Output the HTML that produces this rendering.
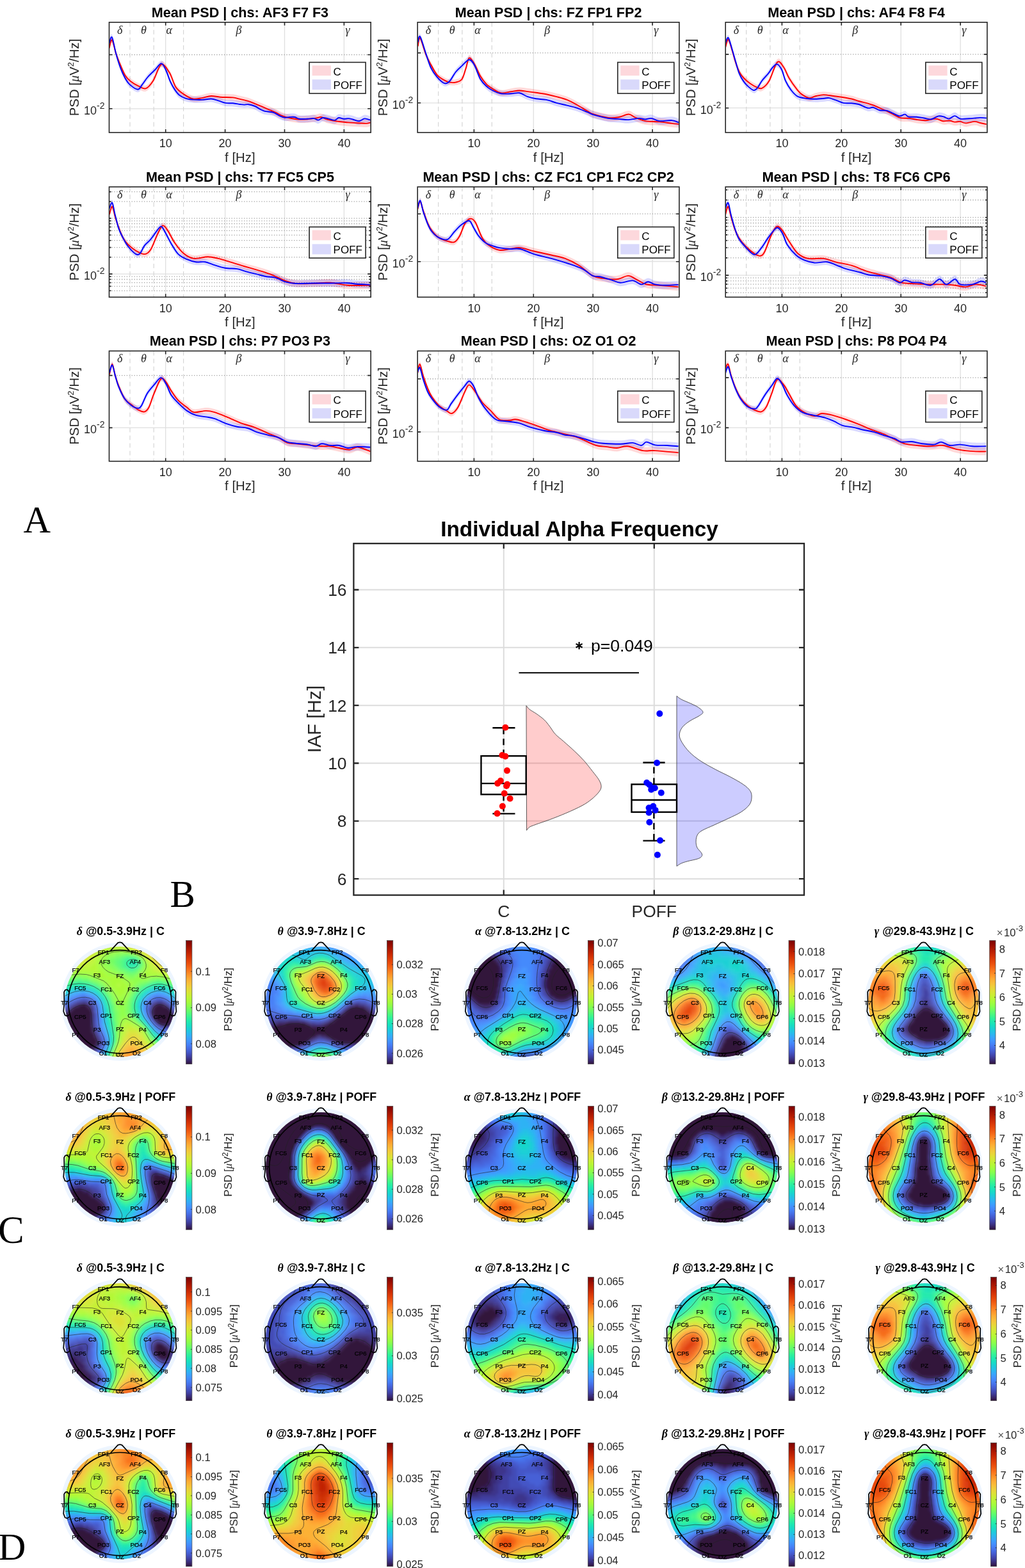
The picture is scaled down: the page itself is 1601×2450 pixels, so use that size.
<!DOCTYPE html>
<html><head><meta charset="utf-8"><title>EEG figure</title><style>
html,body{margin:0;padding:0;background:#fff;}
svg{display:block}
text{font-family:"Liberation Sans",Arial,sans-serif;}
.gr{stroke:#dfdfdf;stroke-width:1.3}
.grb{stroke:#dcdcdc;stroke-width:2}
.dt{stroke:#a2a2a2;stroke-width:1.3;stroke-dasharray:1.3 2.6}
.ds{stroke:#d6d6d6;stroke-width:1.2;stroke-dasharray:7 5}
.gk{font-family:"Liberation Serif",serif;font-style:italic;font-size:18px;fill:#262626;text-anchor:middle}
.bd{stroke:none}
.cv{stroke-width:1.9;stroke-linejoin:round}
.ax{fill:none;stroke:#262626;stroke-width:1.6}
.tk{stroke:#262626;stroke-width:1.6;fill:none}
.tl{font-size:18px;fill:#262626}
.sup{font-size:14px}
.sup2{font-size:13px}
.mu{font-family:"Liberation Serif",serif;font-style:italic}
.lb{font-size:20.4px;fill:#262626}
.tt{font-size:21.6px;font-weight:bold;fill:#000}
.lg{fill:#fff;stroke:#262626;stroke-width:1.6}
.lt{font-size:17px;fill:#000}
.fl path{fill:none;stroke-width:4.1}
.ct{fill:none;stroke:#222;stroke-width:0.75;stroke-opacity:0.8}
.hd{fill:none;stroke:#000;stroke-width:1.7;stroke-linejoin:round}
.el text{font-size:9.6px;fill:#000;stroke:#000;stroke-width:0.25px;text-anchor:middle}
.tp{font-size:17.9px;font-weight:bold;fill:#000}
.tg{font-family:"Liberation Serif",serif;font-style:italic;font-weight:bold}
.cbt{font-size:16.6px;fill:#262626}
.cbl{font-size:16.6px;fill:#262626}
.s2{font-size:12px}
.pl{font-family:"Liberation Serif",serif;font-size:59px;fill:#000}
</style></head><body><svg width="1601" height="2450" viewBox="0 0 1601 2450">
<clipPath id="pc00"><rect x="170.5" y="34.8" width="408.7" height="172.3"/></clipPath>
<line x1="258.7" y1="34.8" x2="258.7" y2="207.1" class="gr"/>
<line x1="351.6" y1="34.8" x2="351.6" y2="207.1" class="gr"/>
<line x1="444.5" y1="34.8" x2="444.5" y2="207.1" class="gr"/>
<line x1="537.4" y1="34.8" x2="537.4" y2="207.1" class="gr"/>
<line x1="170.5" y1="169.8" x2="579.2" y2="169.8" class="gr"/>
<line x1="170.5" y1="85.5" x2="579.2" y2="85.5" class="dt"/>
<line x1="203" y1="34.8" x2="203" y2="207.1" class="ds"/>
<line x1="240.2" y1="34.8" x2="240.2" y2="207.1" class="ds"/>
<line x1="286.6" y1="34.8" x2="286.6" y2="207.1" class="ds"/>
<text x="187.2" y="52.6" class="gk">δ</text>
<text x="224.4" y="52.6" class="gk">θ</text>
<text x="264.3" y="52.6" class="gk">α</text>
<text x="373" y="52.6" class="gk">β</text>
<text x="543" y="52.6" class="gk">γ</text>
<g clip-path="url(#pc00)">
<path d="M170.6 71C171.3 68.9 173.1 56.8 174.9 58.2C176.7 59.6 179 72.9 181.2 79.5C183.4 86.1 185.9 92.2 188.3 97.8C190.7 103.5 192.8 109.2 195.4 113.3C198 117.4 200.4 119.6 203.9 122.5C207.4 125.3 212.6 128.4 216.6 130.2C220.6 132.1 224.1 135.1 227.9 133.7C231.7 132.2 235.2 127.9 239.2 121.6C243.2 115.4 247.8 98.2 252 96.1C256.2 93.9 260.9 102.9 264.7 108.8C268.5 114.7 270.8 125.8 274.6 131.4C278.4 137 282.8 139.6 287.3 142.6C291.8 145.7 296.8 148.8 301.5 149.7C306.2 150.6 310.9 149 315.6 148.2C320.3 147.5 325.1 145.3 329.8 145.1C334.5 144.8 338.4 146.3 344 146.7C349.6 147.1 358.7 146.9 363.7 147.3C368.7 147.8 370 148.7 374.1 149.6C378.2 150.6 384.3 151.8 388.3 153C392.3 154.3 394.7 155.6 398.2 157C401.7 158.4 405.7 159.9 409.5 161.5C413.3 163 417.3 164.8 420.8 166.3C424.3 167.8 427.4 169.1 430.7 170.6C434 172.1 437.1 174 440.6 175.4C444.2 176.8 447.8 178.1 452 179C456.2 179.9 461.4 180.8 466.1 181C470.8 181.3 475.6 181.1 480.3 180.7C485 180.3 490.9 179.4 494.4 178.8C497.9 178.3 498.4 176.9 501.5 177.4C504.6 177.9 508.1 180.4 512.8 181.6C517.5 182.7 524.6 183.6 529.8 184.3C535 185 539.2 185.3 543.9 185.6C548.6 186 553.4 186.1 558.1 186.4C562.8 186.6 568.8 187.2 572.2 187C575.6 186.9 577.5 185.8 578.6 185.5L578.6 197.3C577.5 197.5 575.6 198.7 572.2 198.8C568.8 198.9 562.8 198.3 558.1 198C553.4 197.8 548.6 197.5 543.9 197.2C539.2 196.8 535 196.4 529.8 195.7C524.6 195 517.5 194 512.8 192.8C508.1 191.7 504.6 189.1 501.5 188.6C498.4 188.1 497.9 189.5 494.4 190C490.9 190.5 485 191.4 480.3 191.7C475.6 192 470.8 192.3 466.1 192C461.4 191.6 456.2 190.8 452 189.8C447.8 188.8 444.2 187.6 440.6 186.2C437.1 184.7 434 182.8 430.7 181.2C427.4 179.7 424.3 178.4 420.8 176.9C417.3 175.3 413.3 173.5 409.5 171.9C405.7 170.4 401.7 168.8 398.2 167.4C394.7 166 392.3 164.6 388.3 163.4C384.3 162.1 378.2 160.8 374.1 159.8C370 158.8 368.7 158 363.7 157.5C358.7 156.9 349.6 157.1 344 156.7C338.4 156.3 334.5 154.7 329.8 154.9C325.1 155.1 320.3 157.2 315.6 158C310.9 158.7 306.2 160.3 301.5 159.3C296.8 158.3 291.8 155.2 287.3 152.2C282.8 149.1 278.4 146.5 274.6 140.8C270.8 135.1 268.5 124.1 264.7 118.2C260.9 112.3 256.2 103.2 252 105.3C247.8 107.4 243.2 124.5 239.2 130.8C235.2 137 231.7 141.3 227.9 142.7C224.1 144.1 220.6 141.1 216.6 139.2C212.6 137.3 207.4 134.2 203.9 131.3C200.4 128.5 198 126.2 195.4 122.1C192.8 118 190.7 112.2 188.3 106.6C185.9 100.9 183.4 94.8 181.2 88.1C179 81.5 176.7 68.2 174.9 66.8C173.1 65.4 171.3 77.5 170.6 79.6Z" fill="rgba(255,0,0,0.15)"/>
<path d="M170.6 63.2C171.3 61.7 173.1 51.3 174.9 54C176.7 56.7 179 71.5 181.2 79.5C183.4 87.5 185.9 95.7 188.3 102C190.7 108.4 193.1 113.4 195.4 117.6C197.8 121.8 199.1 124.5 202.4 127.5C205.7 130.4 211.9 135.2 215.2 135.2C218.5 135.2 219.7 130.6 222.3 127.4C224.9 124.2 227.4 119.8 230.7 116C234 112.2 238.4 108.2 242 104.6C245.6 101.1 249.2 94.7 252 94.7C254.8 94.7 256.6 99.8 259 104.6C261.4 109.3 263.7 117.7 266.1 122.9C268.5 128.1 270.8 132.2 273.2 135.7C275.6 139.2 277.5 141.8 280.3 144.1C283.1 146.3 286.7 147.9 290.2 149C293.7 150.2 297.3 150.5 301.5 150.8C305.7 151.1 310.9 151.2 315.6 151C320.3 150.8 325.6 149.4 329.8 149.6C334.1 149.8 337.3 151.3 341.1 152.3C344.9 153.4 348.6 155.2 352.4 155.9C356.2 156.5 359.9 155.9 363.7 156.2C367.5 156.6 372.1 157.5 375 157.9C377.9 158.3 379 158.4 381.2 158.5C383.4 158.5 385.4 157.7 388.3 158C391.2 158.4 395.2 159.5 398.3 160.8C401.4 162.1 404.1 164.4 406.7 165.7C409.3 167 410.5 167.8 413.8 168.5C417.1 169.3 422.7 169 426.5 170.2C430.3 171.3 433.3 174.1 436.4 175.5C439.5 176.8 442.3 178 444.9 178.3C447.5 178.7 449.4 177.7 452 177.6C454.6 177.5 457.9 177.1 460.5 177.6C463.1 178 464.2 179.9 467.5 180.3C470.8 180.8 476.5 180.4 480.3 180.3C484.1 180.2 487.4 179.3 490.2 179.5C493 179.8 494.8 182.2 497.2 182C499.6 181.8 501.7 178.8 504.3 178.4C506.9 178 509.7 179.1 512.8 179.8C515.9 180.4 520 182.5 522.7 182.2C525.4 182 526.7 178.7 529.1 178.3C531.5 177.9 534.4 179.9 536.9 180.1C539.4 180.2 541.5 179.2 543.9 179.3C546.2 179.4 548.2 180 551 180.7C553.8 181.4 557.8 183.7 560.9 183.5C564 183.3 566.4 179.8 569.4 179.5C572.4 179.2 577.1 181.3 578.6 181.7L578.6 193.5C577.1 193.1 572.4 191 569.4 191.3C566.4 191.5 564 195 560.9 195.1C557.8 195.3 553.8 193 551 192.3C548.2 191.6 546.2 191 543.9 190.9C541.5 190.7 539.4 191.7 536.9 191.5C534.4 191.3 531.5 189.4 529.1 189.7C526.7 190 525.4 193.4 522.7 193.6C520 193.8 515.9 191.7 512.8 191C509.7 190.4 506.9 189.3 504.3 189.6C501.7 190 499.6 193 497.2 193.2C494.8 193.4 493 191 490.2 190.7C487.4 190.3 484.1 191.2 480.3 191.3C476.5 191.4 470.8 191.7 467.5 191.3C464.2 190.8 463.1 188.9 460.5 188.4C457.9 188 454.6 188.3 452 188.4C449.4 188.5 447.5 189.5 444.9 189.1C442.3 188.7 439.5 187.5 436.4 186.1C433.3 184.8 430.3 182 426.5 180.8C422.7 179.6 417.1 179.8 413.8 179.1C410.5 178.3 409.3 177.4 406.7 176.1C404.1 174.8 401.4 172.5 398.3 171.2C395.2 169.9 391.2 168.8 388.3 168.4C385.4 167.9 383.4 168.8 381.2 168.7C379 168.7 377.9 168.5 375 168.1C372.1 167.7 367.5 166.7 363.7 166.4C359.9 166 356.2 166.6 352.4 165.9C348.6 165.2 344.9 163.4 341.1 162.3C337.3 161.2 334.1 159.7 329.8 159.4C325.6 159.2 320.3 160.6 315.6 160.8C310.9 160.9 305.7 160.8 301.5 160.4C297.3 160 293.7 159.7 290.2 158.6C286.7 157.4 283.1 155.8 280.3 153.5C277.5 151.3 275.6 148.6 273.2 145.1C270.8 141.6 268.5 137.5 266.1 132.3C263.7 127.1 261.4 118.6 259 113.8C256.6 109.1 254.8 103.9 252 103.9C249.2 103.9 245.6 110.3 242 113.8C238.4 117.3 234 121.3 230.7 125C227.4 128.8 224.9 133.2 222.3 136.4C219.7 139.6 218.5 144.2 215.2 144.2C211.9 144.2 205.7 139.3 202.4 136.3C199.1 133.4 197.8 130.7 195.4 126.4C193.1 122.1 190.7 117.1 188.3 110.8C185.9 104.4 183.4 96.2 181.2 88.1C179 80.1 176.7 65.3 174.9 62.6C173.1 59.9 171.3 70.3 170.6 71.8Z" fill="rgba(0,0,255,0.15)"/>
<path d="M170.6 75.3C171.3 73.2 173.1 61.1 174.9 62.5C176.7 63.9 179 77.2 181.2 83.8C183.4 90.4 185.9 96.5 188.3 102.2C190.7 107.9 192.8 113.6 195.4 117.7C198 121.8 200.4 124.1 203.9 126.9C207.4 129.7 212.6 132.8 216.6 134.7C220.6 136.6 224.1 139.6 227.9 138.2C231.7 136.8 235.2 132.4 239.2 126.2C243.2 120 247.8 102.8 252 100.7C256.2 98.6 260.9 107.6 264.7 113.5C268.5 119.4 270.8 130.4 274.6 136.1C278.4 141.8 282.8 144.3 287.3 147.4C291.8 150.5 296.8 153.6 301.5 154.5C306.2 155.4 310.9 153.8 315.6 153.1C320.3 152.3 325.1 150.2 329.8 150C334.5 149.8 338.4 151.3 344 151.7C349.6 152.1 358.7 151.9 363.7 152.4C368.7 152.9 370 153.7 374.1 154.7C378.2 155.7 384.3 156.9 388.3 158.2C392.3 159.4 394.7 160.8 398.2 162.2C401.7 163.6 405.7 165.1 409.5 166.7C413.3 168.3 417.3 170.1 420.8 171.6C424.3 173.1 427.4 174.4 430.7 175.9C434 177.4 437.1 179.4 440.6 180.8C444.2 182.2 447.8 183.4 452 184.4C456.2 185.3 461.4 186.2 466.1 186.5C470.8 186.8 475.6 186.5 480.3 186.2C485 185.8 490.9 184.9 494.4 184.4C497.9 183.9 498.4 182.5 501.5 183C504.6 183.5 508.1 186 512.8 187.2C517.5 188.4 524.6 189.3 529.8 190C535 190.7 539.2 191 543.9 191.4C548.6 191.8 553.4 191.9 558.1 192.2C562.8 192.4 568.8 193 572.2 192.9C575.6 192.8 577.5 191.6 578.6 191.4" fill="none" stroke="#f00" class="cv"/>
<path d="M170.6 67.5C171.3 66 173.1 55.6 174.9 58.3C176.7 61 179 75.8 181.2 83.8C183.4 91.8 185.9 100 188.3 106.4C190.7 112.8 193.1 117.8 195.4 122C197.8 126.2 199.1 128.9 202.4 131.9C205.7 134.8 211.9 139.7 215.2 139.7C218.5 139.7 219.7 135.1 222.3 131.9C224.9 128.7 227.4 124.3 230.7 120.5C234 116.7 238.4 112.7 242 109.2C245.6 105.7 249.2 99.3 252 99.3C254.8 99.3 256.6 104.5 259 109.2C261.4 113.9 263.7 122.4 266.1 127.6C268.5 132.8 270.8 136.9 273.2 140.4C275.6 143.9 277.5 146.6 280.3 148.8C283.1 151 286.7 152.7 290.2 153.8C293.7 154.9 297.3 155.2 301.5 155.6C305.7 155.9 310.9 156.1 315.6 155.9C320.3 155.7 325.6 154.3 329.8 154.5C334.1 154.7 337.3 156.2 341.1 157.3C344.9 158.4 348.6 160.2 352.4 160.9C356.2 161.6 359.9 161 363.7 161.3C367.5 161.7 372.1 162.6 375 163C377.9 163.4 379 163.6 381.2 163.6C383.4 163.6 385.4 162.8 388.3 163.2C391.2 163.6 395.2 164.7 398.3 166C401.4 167.3 404.1 169.6 406.7 170.9C409.3 172.2 410.5 173 413.8 173.8C417.1 174.6 422.7 174.3 426.5 175.5C430.3 176.7 433.3 179.4 436.4 180.8C439.5 182.2 442.3 183.3 444.9 183.7C447.5 184.1 449.4 183.1 452 183C454.6 182.9 457.9 182.5 460.5 183C463.1 183.5 464.2 185.3 467.5 185.8C470.8 186.3 476.5 185.9 480.3 185.8C484.1 185.7 487.4 184.8 490.2 185.1C493 185.4 494.8 187.8 497.2 187.6C499.6 187.4 501.7 184.4 504.3 184C506.9 183.6 509.7 184.7 512.8 185.4C515.9 186 520 188.1 522.7 187.9C525.4 187.7 526.7 184.3 529.1 184C531.5 183.7 534.4 185.6 536.9 185.8C539.4 186 541.5 185 543.9 185.1C546.2 185.2 548.2 185.8 551 186.5C553.8 187.2 557.8 189.5 560.9 189.3C564 189.1 566.4 185.7 569.4 185.4C572.4 185.1 577.1 187.2 578.6 187.6" fill="none" stroke="#00f" class="cv"/>
</g>
<rect x="170.5" y="34.8" width="408.7" height="172.3" class="ax"/>
<path d="M258.7 207.1v-5M258.7 34.8v5M351.6 207.1v-5M351.6 34.8v5M444.5 207.1v-5M444.5 34.8v5M537.4 207.1v-5M537.4 34.8v5M170.5 169.8h5M579.2 169.8h-5M170.5 85.5h5M579.2 85.5h-5" class="tk"/>
<text x="258.7" y="230.4" class="tl" text-anchor="middle">10</text>
<text x="351.6" y="230.4" class="tl" text-anchor="middle">20</text>
<text x="444.5" y="230.4" class="tl" text-anchor="middle">30</text>
<text x="537.4" y="230.4" class="tl" text-anchor="middle">40</text>
<text x="163.5" y="178.6" class="tl" text-anchor="end">10<tspan class="sup" dy="-9">-2</tspan></text>
<text x="374.9" y="252.6" class="lb" text-anchor="middle">f [Hz]</text>
<text transform="translate(123.1 121) rotate(-90)" class="lb" text-anchor="middle">PSD [<tspan class="mu">μ</tspan>V<tspan class="sup2" dy="-8">2</tspan><tspan dy="8">/Hz]</tspan></text>
<text x="374.9" y="26.6" class="tt" text-anchor="middle">Mean PSD | chs: AF3 F7 F3</text>
<rect x="483.1" y="97.4" width="88" height="48.6" class="lg"/>
<rect x="487.6" y="102.4" width="29.3" height="15.8" fill="#fdd8dc"/>
<rect x="487.6" y="124.2" width="29.3" height="16" fill="#d9d9fb"/>
<text x="520.6" y="117.8" class="lt">C</text>
<text x="520.6" y="139" class="lt">POFF</text>
<clipPath id="pc10"><rect x="652.2" y="34.8" width="408.7" height="172.3"/></clipPath>
<line x1="740.4" y1="34.8" x2="740.4" y2="207.1" class="gr"/>
<line x1="833.3" y1="34.8" x2="833.3" y2="207.1" class="gr"/>
<line x1="926.2" y1="34.8" x2="926.2" y2="207.1" class="gr"/>
<line x1="1019.1" y1="34.8" x2="1019.1" y2="207.1" class="gr"/>
<line x1="652.2" y1="160.8" x2="1060.9" y2="160.8" class="gr"/>
<line x1="652.2" y1="82.6" x2="1060.9" y2="82.6" class="dt"/>
<line x1="684.7" y1="34.8" x2="684.7" y2="207.1" class="ds"/>
<line x1="721.9" y1="34.8" x2="721.9" y2="207.1" class="ds"/>
<line x1="768.3" y1="34.8" x2="768.3" y2="207.1" class="ds"/>
<text x="668.9" y="52.6" class="gk">δ</text>
<text x="706.1" y="52.6" class="gk">θ</text>
<text x="746" y="52.6" class="gk">α</text>
<text x="854.7" y="52.6" class="gk">β</text>
<text x="1024.7" y="52.6" class="gk">γ</text>
<g clip-path="url(#pc10)">
<path d="M652.7 68C653.3 65.9 654.1 53 656.2 55.2C658.3 57.3 662.4 73.9 665.2 80.8C668 87.8 670.2 91.6 673.2 96.9C676.2 102.3 679.4 109 682.9 113C686.4 117 690.9 119.1 694.1 120.9C697.3 122.8 699.2 123.6 702.2 124.1C705.2 124.6 708.6 124.9 711.8 124.1C715 123.3 718.8 123 721.5 119.2C724.2 115.5 726 107 727.9 101.5C729.8 96 730.6 87.2 732.7 86.1C734.9 85 737.9 90.3 740.8 95.1C743.8 99.8 747.2 109 750.4 114.3C753.6 119.7 756.9 123.8 760.1 127.1C763.3 130.4 766 131.9 769.7 134.1C773.5 136.4 777.8 139.8 782.6 140.5C787.4 141.2 793.8 138.9 798.6 138.2C803.4 137.6 807.2 136.6 811.5 136.6C815.8 136.6 820.1 137.6 824.4 138.1C828.7 138.6 832.4 139 837.2 139.7C842 140.4 847.9 141.2 853.3 142.2C858.7 143.3 864 144.5 869.4 145.9C874.8 147.4 880.1 148.6 885.5 150.7C890.9 152.8 896.1 155.8 901.5 158.7C906.9 161.7 913.3 165.9 917.6 168.3C921.9 170.7 921.9 171.4 927.3 173.1C932.7 174.8 943.4 177.7 949.8 178.4C956.2 179.2 960.5 178.7 965.8 177.8C971.2 176.8 977.6 172.9 981.9 172.9C986.2 172.9 987.3 175.9 991.6 177.7C995.9 179.4 1001.3 182.2 1007.7 183.4C1014.1 184.6 1023.1 184 1030.1 184.6C1037.1 185.2 1044.5 186.5 1049.5 187C1054.5 187.6 1058.3 187.8 1060.1 188L1060.1 199.8C1058.3 199.6 1054.5 199.4 1049.5 198.8C1044.5 198.2 1037.1 196.8 1030.1 196.2C1023.1 195.5 1014.1 196 1007.7 194.8C1001.3 193.6 995.9 190.7 991.6 188.9C987.3 187.1 986.2 184.1 981.9 184.1C977.6 184.1 971.2 188 965.8 188.8C960.5 189.7 956.2 190.2 949.8 189.4C943.4 188.5 932.7 185.6 927.3 183.9C921.9 182.1 921.9 181.4 917.6 178.9C913.3 176.5 906.9 172.2 901.5 169.3C896.1 166.3 890.9 163.3 885.5 161.1C880.1 158.9 874.8 157.7 869.4 156.3C864 154.8 858.7 153.5 853.3 152.4C847.9 151.3 842 150.4 837.2 149.7C832.4 149 828.7 148.6 824.4 148.1C820.1 147.5 815.8 146.4 811.5 146.4C807.2 146.4 803.4 147.4 798.6 148C793.8 148.6 787.4 150.8 782.6 150.1C777.8 149.4 773.5 145.9 769.7 143.7C766 141.4 763.3 139.9 760.1 136.5C756.9 133.2 753.6 129 750.4 123.7C747.2 118.3 743.8 109.1 740.8 104.3C737.9 99.6 734.9 94.3 732.7 95.3C730.6 96.4 729.8 105.2 727.9 110.7C726 116.2 724.2 124.6 721.5 128.4C718.8 132.1 715 132.3 711.8 133.1C708.6 133.9 705.2 133.6 702.2 133.1C699.2 132.6 697.3 131.7 694.1 129.9C690.9 128 686.4 125.9 682.9 121.8C679.4 117.8 676.2 111.1 673.2 105.7C670.2 100.3 668 96.5 665.2 89.6C662.4 82.6 658.3 66 656.2 63.8C654.1 61.7 653.3 74.5 652.7 76.6Z" fill="rgba(255,0,0,0.15)"/>
<path d="M652.7 61.6C653.3 60.1 654.1 49.9 656.2 52.9C658.3 55.8 662.4 71.1 665.2 79.2C668 87.4 670.2 95.6 673.2 101.7C676.2 107.9 679.4 112.2 682.9 116.2C686.4 120.2 690.9 124.7 694.1 125.7C697.3 126.8 699.2 125.5 702.2 122.5C705.2 119.5 708.6 112 711.8 108C715 103.9 718 101.6 721.5 98.3C725 95.1 729.5 88.9 732.7 88.6C735.9 88.3 737.9 91.6 740.8 96.7C743.8 101.7 747.2 113.5 750.4 119.1C753.6 124.7 756.9 127.3 760.1 130.3C763.3 133.2 766 134.9 769.7 136.7C773.5 138.6 777.8 140.7 782.6 141.5C787.4 142.3 793.8 141.6 798.6 141.4C803.4 141.2 807.2 139.6 811.5 140.4C815.8 141.2 820.1 144.6 824.4 146.1C828.7 147.6 832.4 148.5 837.2 149.3C842 150.1 847.9 149.7 853.3 150.8C858.7 151.9 864 154.2 869.4 155.6C874.8 157.1 880.1 158.1 885.5 159.4C890.9 160.7 896.1 161.8 901.5 163.5C906.9 165.3 913.3 168.1 917.6 169.9C921.9 171.6 921.9 172.4 927.3 174C932.7 175.6 943.4 178.4 949.8 179.4C956.2 180.5 960.5 180 965.8 180.4C971.2 180.7 976.5 181.7 981.9 181.5C987.3 181.3 993.7 179.4 998 179.2C1002.3 179.1 1004.5 180.8 1007.7 180.8C1010.9 180.8 1013.6 178.7 1017.3 179.2C1021 179.6 1024.7 182.8 1030.1 183.3C1035.5 183.8 1044.5 181.9 1049.5 182.2C1054.5 182.6 1058.3 184.9 1060.1 185.4L1060.1 197.2C1058.3 196.7 1054.5 194.3 1049.5 194C1044.5 193.6 1035.5 195.4 1030.1 194.9C1024.7 194.3 1021 191.1 1017.3 190.6C1013.6 190.2 1010.9 192.2 1007.7 192.2C1004.5 192.2 1002.3 190.5 998 190.6C993.7 190.6 987.3 192.5 981.9 192.7C976.5 192.8 971.2 191.8 965.8 191.4C960.5 191 956.2 191.5 949.8 190.4C943.4 189.3 932.7 186.4 927.3 184.8C921.9 183.1 921.9 182.3 917.6 180.5C913.3 178.8 906.9 175.9 901.5 174.1C896.1 172.3 890.9 171.2 885.5 169.8C880.1 168.5 874.8 167.4 869.4 166C864 164.5 858.7 162.1 853.3 161C847.9 159.9 842 160.1 837.2 159.3C832.4 158.5 828.7 157.6 824.4 156.1C820.1 154.6 815.8 151 811.5 150.2C807.2 149.4 803.4 151 798.6 151.2C793.8 151.3 787.4 151.9 782.6 151.1C777.8 150.3 773.5 148.2 769.7 146.3C766 144.4 763.3 142.7 760.1 139.7C756.9 136.8 753.6 134.1 750.4 128.5C747.2 122.9 743.8 111.1 740.8 105.9C737.9 100.8 735.9 97.6 732.7 97.8C729.5 98.1 725 104.3 721.5 107.5C718 110.7 715 113 711.8 117C708.6 121 705.2 128.6 702.2 131.5C699.2 134.4 697.3 135.7 694.1 134.7C690.9 133.6 686.4 129.1 682.9 125C679.4 121 676.2 116.7 673.2 110.5C670.2 104.3 668 96.1 665.2 88C662.4 79.8 658.3 64.5 656.2 61.5C654.1 58.6 653.3 68.8 652.7 70.2Z" fill="rgba(0,0,255,0.15)"/>
<path d="M652.7 72.3C653.3 70.2 654.1 57.4 656.2 59.5C658.3 61.6 662.4 78.2 665.2 85.2C668 92.2 670.2 95.9 673.2 101.3C676.2 106.7 679.4 113.4 682.9 117.4C686.4 121.4 690.9 123.5 694.1 125.4C697.3 127.3 699.2 128.1 702.2 128.6C705.2 129.1 708.6 129.4 711.8 128.6C715 127.8 718.8 127.5 721.5 123.8C724.2 120 726 111.6 727.9 106.1C729.8 100.6 730.6 91.8 732.7 90.7C734.9 89.6 737.9 95 740.8 99.7C743.8 104.4 747.2 113.7 750.4 119C753.6 124.3 756.9 128.5 760.1 131.8C763.3 135.1 766 136.6 769.7 138.9C773.5 141.1 777.8 144.6 782.6 145.3C787.4 146 793.8 143.7 798.6 143.1C803.4 142.5 807.2 141.5 811.5 141.5C815.8 141.5 820.1 142.6 824.4 143.1C828.7 143.6 832.4 144 837.2 144.7C842 145.4 847.9 146.2 853.3 147.3C858.7 148.4 864 149.7 869.4 151.1C874.8 152.5 880.1 153.7 885.5 155.9C890.9 158 896.1 161 901.5 164C906.9 167 913.3 171.2 917.6 173.6C921.9 176 921.9 176.8 927.3 178.5C932.7 180.2 943.4 183.1 949.8 183.9C956.2 184.7 960.5 184.2 965.8 183.3C971.2 182.4 977.6 178.5 981.9 178.5C986.2 178.5 987.3 181.5 991.6 183.3C995.9 185.1 1001.3 187.9 1007.7 189.1C1014.1 190.3 1023.1 189.8 1030.1 190.4C1037.1 191 1044.5 192.3 1049.5 192.9C1054.5 193.5 1058.3 193.7 1060.1 193.9" fill="none" stroke="#f00" class="cv"/>
<path d="M652.7 65.9C653.3 64.5 654.1 54.2 656.2 57.2C658.3 60.1 662.4 75.4 665.2 83.6C668 91.8 670.2 99.9 673.2 106.1C676.2 112.3 679.4 116.6 682.9 120.6C686.4 124.6 690.9 129.1 694.1 130.2C697.3 131.3 699.2 129.9 702.2 127C705.2 124 708.6 116.5 711.8 112.5C715 108.5 718 106.1 721.5 102.9C725 99.7 729.5 93.5 732.7 93.2C735.9 92.9 737.9 96.2 740.8 101.3C743.8 106.4 747.2 118.2 750.4 123.8C753.6 129.4 756.9 132.1 760.1 135C763.3 137.9 766 139.6 769.7 141.5C773.5 143.4 777.8 145.5 782.6 146.3C787.4 147.1 793.8 146.5 798.6 146.3C803.4 146.1 807.2 144.5 811.5 145.3C815.8 146.1 820.1 149.6 824.4 151.1C828.7 152.6 832.4 153.5 837.2 154.3C842 155.1 847.9 154.8 853.3 155.9C858.7 157 864 159.3 869.4 160.8C874.8 162.3 880.1 163.3 885.5 164.6C890.9 165.9 896.1 167 901.5 168.8C906.9 170.6 913.3 173.4 917.6 175.2C921.9 177 921.9 177.8 927.3 179.4C932.7 181 943.4 183.8 949.8 184.9C956.2 186 960.5 185.5 965.8 185.9C971.2 186.3 976.5 187.3 981.9 187.1C987.3 186.9 993.7 185 998 184.9C1002.3 184.8 1004.5 186.5 1007.7 186.5C1010.9 186.5 1013.6 184.5 1017.3 184.9C1021 185.3 1024.7 188.6 1030.1 189.1C1035.5 189.6 1044.5 187.7 1049.5 188.1C1054.5 188.5 1058.3 190.8 1060.1 191.3" fill="none" stroke="#00f" class="cv"/>
</g>
<rect x="652.2" y="34.8" width="408.7" height="172.3" class="ax"/>
<path d="M740.4 207.1v-5M740.4 34.8v5M833.3 207.1v-5M833.3 34.8v5M926.2 207.1v-5M926.2 34.8v5M1019.1 207.1v-5M1019.1 34.8v5M652.2 160.8h5M1060.9 160.8h-5M652.2 82.6h5M1060.9 82.6h-5" class="tk"/>
<text x="740.4" y="230.4" class="tl" text-anchor="middle">10</text>
<text x="833.3" y="230.4" class="tl" text-anchor="middle">20</text>
<text x="926.2" y="230.4" class="tl" text-anchor="middle">30</text>
<text x="1019.1" y="230.4" class="tl" text-anchor="middle">40</text>
<text x="645.2" y="169.6" class="tl" text-anchor="end">10<tspan class="sup" dy="-9">-2</tspan></text>
<text x="856.6" y="252.6" class="lb" text-anchor="middle">f [Hz]</text>
<text transform="translate(604.8 121) rotate(-90)" class="lb" text-anchor="middle">PSD [<tspan class="mu">μ</tspan>V<tspan class="sup2" dy="-8">2</tspan><tspan dy="8">/Hz]</tspan></text>
<text x="856.6" y="26.6" class="tt" text-anchor="middle">Mean PSD | chs: FZ FP1 FP2</text>
<rect x="964.8" y="97.4" width="88" height="48.6" class="lg"/>
<rect x="969.3" y="102.4" width="29.3" height="15.8" fill="#fdd8dc"/>
<rect x="969.3" y="124.2" width="29.3" height="16" fill="#d9d9fb"/>
<text x="1002.3" y="117.8" class="lt">C</text>
<text x="1002.3" y="139" class="lt">POFF</text>
<clipPath id="pc20"><rect x="1133.2" y="34.8" width="408.7" height="172.3"/></clipPath>
<line x1="1221.4" y1="34.8" x2="1221.4" y2="207.1" class="gr"/>
<line x1="1314.3" y1="34.8" x2="1314.3" y2="207.1" class="gr"/>
<line x1="1407.2" y1="34.8" x2="1407.2" y2="207.1" class="gr"/>
<line x1="1500.1" y1="34.8" x2="1500.1" y2="207.1" class="gr"/>
<line x1="1133.2" y1="168.7" x2="1541.9" y2="168.7" class="gr"/>
<line x1="1133.2" y1="84.9" x2="1541.9" y2="84.9" class="dt"/>
<line x1="1165.7" y1="34.8" x2="1165.7" y2="207.1" class="ds"/>
<line x1="1202.9" y1="34.8" x2="1202.9" y2="207.1" class="ds"/>
<line x1="1249.3" y1="34.8" x2="1249.3" y2="207.1" class="ds"/>
<text x="1149.9" y="52.6" class="gk">δ</text>
<text x="1187.1" y="52.6" class="gk">θ</text>
<text x="1227" y="52.6" class="gk">α</text>
<text x="1335.7" y="52.6" class="gk">β</text>
<text x="1505.7" y="52.6" class="gk">γ</text>
<g clip-path="url(#pc20)">
<path d="M1133.2 69.5C1133.9 67.5 1135.8 56.8 1137.5 57.5C1139.2 58.2 1141.5 67.8 1143.4 73.8C1145.3 79.8 1147.2 87.9 1149.1 93.5C1151 99.2 1152.6 103.7 1154.7 107.7C1156.8 111.7 1159 114.5 1161.8 117.6C1164.6 120.6 1168.4 123.7 1171.7 126C1175 128.4 1178.5 130.4 1181.6 131.6C1184.7 132.8 1186.8 134.9 1190.1 133.3C1193.4 131.6 1197.4 128.4 1201.4 121.6C1205.4 114.9 1210.3 96.1 1214.1 92.6C1217.9 89 1220.9 96.2 1224 100.3C1227.1 104.5 1229 111.4 1232.5 117.3C1236 123.2 1242 131.4 1245.3 135.7C1248.6 139.9 1249.2 140.5 1252.3 142.6C1255.4 144.7 1260.2 147.8 1263.7 148.3C1267.2 148.8 1269.8 146.3 1273.6 145.4C1277.4 144.6 1281.6 143.3 1286.3 143.2C1291 143.1 1297.2 144.5 1301.9 145C1306.6 145.6 1309.9 146 1314.6 146.7C1319.3 147.4 1325.5 148.4 1330 149.4C1334.5 150.5 1337 151.7 1341.3 152.9C1345.5 154.1 1351.7 155.4 1355.5 156.4C1359.3 157.5 1360.9 158 1364 159.2C1367.1 160.4 1370.4 161.9 1373.9 163.5C1377.4 165 1381.7 166.7 1385.2 168.3C1388.7 169.9 1391.6 171.5 1395.1 173.3C1398.6 175 1402.2 177.8 1406.4 178.8C1410.7 179.9 1416.3 179 1420.6 179.5C1424.8 179.9 1427.7 181 1431.9 181.5C1436.1 182.1 1441 182.9 1446 182.7C1451 182.4 1457.1 179.9 1461.6 180C1466.1 180.2 1469.4 183.1 1472.9 183.6C1476.4 184 1479.7 182.6 1482.8 182.8C1485.9 183.1 1488.5 184.7 1491.3 184.9C1494.1 185.1 1497 183.9 1499.8 184.2C1502.6 184.5 1504.5 186.6 1508.3 186.6C1512.1 186.6 1518.6 184.2 1522.4 184.1C1526.2 184 1527.8 185.5 1530.9 186.1C1534 186.8 1539.2 187.9 1540.8 188.2L1540.8 200C1539.2 199.6 1534 198.6 1530.9 197.9C1527.8 197.1 1526.2 195.7 1522.4 195.7C1518.6 195.8 1512.1 198.2 1508.3 198.2C1504.5 198.2 1502.6 195.9 1499.8 195.6C1497 195.3 1494.1 196.5 1491.3 196.3C1488.5 196.1 1485.9 194.4 1482.8 194.2C1479.7 193.9 1476.4 195.3 1472.9 194.8C1469.4 194.3 1466.1 191.4 1461.6 191.2C1457.1 191 1451 193.5 1446 193.7C1441 193.9 1436.1 193 1431.9 192.5C1427.7 191.9 1424.8 190.8 1420.6 190.3C1416.3 189.8 1410.7 190.6 1406.4 189.6C1402.2 188.5 1398.6 185.7 1395.1 183.9C1391.6 182.1 1388.7 180.6 1385.2 178.9C1381.7 177.2 1377.4 175.5 1373.9 173.9C1370.4 172.4 1367.1 170.8 1364 169.6C1360.9 168.4 1359.3 167.9 1355.5 166.8C1351.7 165.7 1345.5 164.3 1341.3 163.1C1337 161.9 1334.5 160.6 1330 159.6C1325.5 158.5 1319.3 157.5 1314.6 156.7C1309.9 155.9 1306.6 155.6 1301.9 155C1297.2 154.3 1291 153 1286.3 153C1281.6 153 1277.4 154.3 1273.6 155.2C1269.8 156 1267.2 158.4 1263.7 157.9C1260.2 157.4 1255.4 154.3 1252.3 152.2C1249.2 150 1248.6 149.4 1245.3 145.1C1242 140.9 1236 132.6 1232.5 126.7C1229 120.8 1227.1 113.8 1224 109.7C1220.9 105.5 1217.9 98.3 1214.1 101.8C1210.3 105.3 1205.4 124 1201.4 130.8C1197.4 137.5 1193.4 140.7 1190.1 142.3C1186.8 144 1184.7 141.8 1181.6 140.6C1178.5 139.4 1175 137.3 1171.7 135C1168.4 132.6 1164.6 129.5 1161.8 126.4C1159 123.3 1156.8 120.5 1154.7 116.5C1152.6 112.5 1151 107.9 1149.1 102.3C1147.2 96.6 1145.3 88.5 1143.4 82.4C1141.5 76.4 1139.2 66.8 1137.5 66.1C1135.8 65.4 1133.9 76.1 1133.2 78.1Z" fill="rgba(255,0,0,0.15)"/>
<path d="M1133.2 63.2C1133.9 61.8 1135.8 53.2 1137.5 54.7C1139.2 56.2 1141.5 66.1 1143.4 72.4C1145.3 78.6 1147.2 85.8 1149.1 92.1C1151 98.5 1152.6 105.3 1154.7 110.5C1156.8 115.7 1159.4 119.8 1161.8 123.2C1164.2 126.6 1166.3 128.7 1168.9 131C1171.5 133.2 1175 136.3 1177.3 136.6C1179.6 137 1180.9 135.5 1183 133C1185.1 130.5 1187.3 125.5 1190.1 121.7C1192.9 117.9 1197.2 113.9 1200 110.3C1202.8 106.8 1204.8 102.9 1207.1 100.4C1209.4 98 1211.6 95 1213.9 95.7C1216.2 96.4 1219 100.2 1221.2 104.6C1223.4 108.9 1224.5 116.3 1226.9 121.5C1229.3 126.7 1232.3 131.7 1235.4 135.7C1238.5 139.7 1241.3 143.3 1245.3 145.6C1249.3 147.8 1254.7 148.3 1259.4 149C1264.1 149.7 1268.9 150 1273.6 149.9C1278.3 149.9 1284.2 149.2 1287.7 148.9C1291.2 148.6 1291.7 147.7 1294.8 148.2C1297.9 148.6 1302.3 150.3 1306.1 151.6C1309.9 152.9 1313.4 155.1 1317.4 155.9C1321.4 156.6 1326 155.9 1330 156.2C1334 156.6 1337 156.7 1341.3 157.9C1345.5 159.1 1351.7 162.7 1355.5 163.5C1359.3 164.3 1360.9 162.1 1364 162.7C1367.1 163.3 1370.4 166.1 1373.9 167C1377.4 167.8 1381.7 166.8 1385.2 167.6C1388.7 168.4 1391.8 170.4 1395.1 171.8C1398.4 173.2 1401.9 175.8 1405 176C1408.1 176.3 1411.2 173 1413.5 173.2C1415.8 173.4 1416 176.4 1419.1 177.1C1422.2 177.8 1427.9 177 1431.9 177.3C1435.9 177.6 1439.4 178.4 1443.2 179C1447 179.6 1450.7 181.3 1454.5 180.7C1458.3 180.2 1462.5 176.4 1465.8 175.8C1469.1 175.1 1471.6 176.2 1474.3 176.9C1477 177.6 1479.3 180.2 1482.1 179.9C1484.9 179.7 1488.4 175.4 1491.3 175.4C1494.3 175.4 1496 179.2 1499.8 179.9C1503.6 180.5 1508.7 179.8 1513.9 179.5C1519.1 179.2 1526.4 178.2 1530.9 178C1535.4 177.9 1539.2 178.5 1540.8 178.6L1540.8 190.4C1539.2 190.3 1535.4 189.6 1530.9 189.8C1526.4 189.9 1519.1 190.8 1513.9 191.1C1508.7 191.4 1503.6 192.1 1499.8 191.3C1496 190.6 1494.3 186.8 1491.3 186.8C1488.4 186.8 1484.9 191 1482.1 191.3C1479.3 191.5 1477 188.8 1474.3 188.1C1471.6 187.4 1469.1 186.4 1465.8 187C1462.5 187.6 1458.3 191.4 1454.5 191.9C1450.7 192.4 1447 190.6 1443.2 190C1439.4 189.4 1435.9 188.6 1431.9 188.3C1427.9 187.9 1422.2 188.6 1419.1 187.9C1416 187.2 1415.8 184.2 1413.5 184C1411.2 183.8 1408.1 187 1405 186.8C1401.9 186.5 1398.4 183.9 1395.1 182.4C1391.8 181 1388.7 179 1385.2 178.2C1381.7 177.4 1377.4 178.3 1373.9 177.4C1370.4 176.6 1367.1 173.7 1364 173.1C1360.9 172.5 1359.3 174.7 1355.5 173.9C1351.7 173 1345.5 169.4 1341.3 168.1C1337 166.9 1334 166.7 1330 166.4C1326 166 1321.4 166.7 1317.4 165.9C1313.4 165.1 1309.9 162.9 1306.1 161.6C1302.3 160.3 1297.9 158.5 1294.8 158C1291.7 157.6 1291.2 158.4 1287.7 158.7C1284.2 159 1278.3 159.7 1273.6 159.7C1268.9 159.6 1264.1 159.4 1259.4 158.6C1254.7 157.8 1249.3 157.3 1245.3 155C1241.3 152.8 1238.5 149.1 1235.4 145.1C1232.3 141.1 1229.3 136.1 1226.9 130.9C1224.5 125.7 1223.4 118.2 1221.2 113.8C1219 109.5 1216.2 105.6 1213.9 104.9C1211.6 104.2 1209.4 107.2 1207.1 109.6C1204.8 112 1202.8 115.9 1200 119.5C1197.2 123 1192.9 127 1190.1 130.7C1187.3 134.5 1185.1 139.5 1183 142C1180.9 144.5 1179.6 145.9 1177.3 145.6C1175 145.2 1171.5 142.1 1168.9 139.8C1166.3 137.6 1164.2 135.4 1161.8 132C1159.4 128.6 1156.8 124.5 1154.7 119.3C1152.6 114.1 1151 107.2 1149.1 100.9C1147.2 94.5 1145.3 87.3 1143.4 81C1141.5 74.8 1139.2 64.9 1137.5 63.3C1135.8 61.8 1133.9 70.4 1133.2 71.8Z" fill="rgba(0,0,255,0.15)"/>
<path d="M1133.2 73.8C1133.9 71.8 1135.8 61.1 1137.5 61.8C1139.2 62.5 1141.5 72.1 1143.4 78.1C1145.3 84.1 1147.2 92.2 1149.1 97.9C1151 103.6 1152.6 108.1 1154.7 112.1C1156.8 116.1 1159 118.9 1161.8 122C1164.6 125.1 1168.4 128.2 1171.7 130.5C1175 132.8 1178.5 134.9 1181.6 136.1C1184.7 137.3 1186.8 139.5 1190.1 137.8C1193.4 136.2 1197.4 133 1201.4 126.2C1205.4 119.4 1210.3 100.7 1214.1 97.2C1217.9 93.7 1220.9 100.9 1224 105C1227.1 109.1 1229 116.1 1232.5 122C1236 127.9 1242 136.2 1245.3 140.4C1248.6 144.6 1249.2 145.3 1252.3 147.4C1255.4 149.5 1260.2 152.6 1263.7 153.1C1267.2 153.6 1269.8 151.1 1273.6 150.3C1277.4 149.5 1281.6 148.2 1286.3 148.1C1291 148 1297.2 149.4 1301.9 150C1306.6 150.6 1309.9 150.9 1314.6 151.7C1319.3 152.4 1325.5 153.4 1330 154.5C1334.5 155.6 1337 156.8 1341.3 158C1345.5 159.2 1351.7 160.5 1355.5 161.6C1359.3 162.7 1360.9 163.2 1364 164.4C1367.1 165.6 1370.4 167.2 1373.9 168.7C1377.4 170.2 1381.7 172 1385.2 173.6C1388.7 175.3 1391.6 176.8 1395.1 178.6C1398.6 180.4 1402.2 183.2 1406.4 184.2C1410.7 185.2 1416.3 184.4 1420.6 184.9C1424.8 185.4 1427.7 186.4 1431.9 187C1436.1 187.6 1441 188.4 1446 188.2C1451 188 1457.1 185.4 1461.6 185.6C1466.1 185.8 1469.4 188.7 1472.9 189.2C1476.4 189.7 1479.7 188.3 1482.8 188.5C1485.9 188.7 1488.5 190.4 1491.3 190.6C1494.1 190.8 1497 189.6 1499.8 189.9C1502.6 190.2 1504.5 192.4 1508.3 192.4C1512.1 192.4 1518.6 190 1522.4 189.9C1526.2 189.8 1527.8 191.3 1530.9 192C1534 192.7 1539.2 193.8 1540.8 194.1" fill="none" stroke="#f00" class="cv"/>
<path d="M1133.2 67.5C1133.9 66.1 1135.8 57.5 1137.5 59C1139.2 60.5 1141.5 70.4 1143.4 76.7C1145.3 82.9 1147.2 90.1 1149.1 96.5C1151 102.9 1152.6 109.7 1154.7 114.9C1156.8 120.1 1159.4 124.2 1161.8 127.6C1164.2 131 1166.3 133.1 1168.9 135.4C1171.5 137.6 1175 140.8 1177.3 141.1C1179.6 141.4 1180.9 140 1183 137.5C1185.1 135 1187.3 130 1190.1 126.2C1192.9 122.4 1197.2 118.4 1200 114.9C1202.8 111.4 1204.8 107.4 1207.1 105C1209.4 102.6 1211.6 99.6 1213.9 100.3C1216.2 101 1219 104.9 1221.2 109.2C1223.4 113.5 1224.5 121 1226.9 126.2C1229.3 131.4 1232.3 136.4 1235.4 140.4C1238.5 144.4 1241.3 148.1 1245.3 150.3C1249.3 152.5 1254.7 153.1 1259.4 153.8C1264.1 154.6 1268.9 154.8 1273.6 154.8C1278.3 154.8 1284.2 154.1 1287.7 153.8C1291.2 153.5 1291.7 152.6 1294.8 153.1C1297.9 153.6 1302.3 155.3 1306.1 156.6C1309.9 157.9 1313.4 160.1 1317.4 160.9C1321.4 161.7 1326 161 1330 161.3C1334 161.7 1337 161.8 1341.3 163C1345.5 164.2 1351.7 167.9 1355.5 168.7C1359.3 169.5 1360.9 167.3 1364 167.9C1367.1 168.5 1370.4 171.4 1373.9 172.2C1377.4 173 1381.7 172.1 1385.2 172.9C1388.7 173.7 1391.8 175.7 1395.1 177.1C1398.4 178.5 1401.9 181.1 1405 181.4C1408.1 181.6 1411.2 178.4 1413.5 178.6C1415.8 178.8 1416 181.8 1419.1 182.5C1422.2 183.2 1427.9 182.5 1431.9 182.8C1435.9 183.1 1439.4 183.9 1443.2 184.5C1447 185.1 1450.7 186.8 1454.5 186.3C1458.3 185.8 1462.5 182 1465.8 181.4C1469.1 180.8 1471.6 181.8 1474.3 182.5C1477 183.2 1479.3 185.8 1482.1 185.6C1484.9 185.4 1488.4 181.1 1491.3 181.1C1494.3 181.1 1496 184.9 1499.8 185.6C1503.6 186.3 1508.7 185.6 1513.9 185.3C1519.1 185 1526.4 184 1530.9 183.9C1535.4 183.8 1539.2 184.4 1540.8 184.5" fill="none" stroke="#00f" class="cv"/>
</g>
<rect x="1133.2" y="34.8" width="408.7" height="172.3" class="ax"/>
<path d="M1221.4 207.1v-5M1221.4 34.8v5M1314.3 207.1v-5M1314.3 34.8v5M1407.2 207.1v-5M1407.2 34.8v5M1500.1 207.1v-5M1500.1 34.8v5M1133.2 168.7h5M1541.9 168.7h-5M1133.2 84.9h5M1541.9 84.9h-5" class="tk"/>
<text x="1221.4" y="230.4" class="tl" text-anchor="middle">10</text>
<text x="1314.3" y="230.4" class="tl" text-anchor="middle">20</text>
<text x="1407.2" y="230.4" class="tl" text-anchor="middle">30</text>
<text x="1500.1" y="230.4" class="tl" text-anchor="middle">40</text>
<text x="1126.2" y="177.5" class="tl" text-anchor="end">10<tspan class="sup" dy="-9">-2</tspan></text>
<text x="1337.5" y="252.6" class="lb" text-anchor="middle">f [Hz]</text>
<text transform="translate(1085.8 121) rotate(-90)" class="lb" text-anchor="middle">PSD [<tspan class="mu">μ</tspan>V<tspan class="sup2" dy="-8">2</tspan><tspan dy="8">/Hz]</tspan></text>
<text x="1337.5" y="26.6" class="tt" text-anchor="middle">Mean PSD | chs: AF4 F8 F4</text>
<rect x="1445.8" y="97.4" width="88" height="48.6" class="lg"/>
<rect x="1450.3" y="102.4" width="29.3" height="15.8" fill="#fdd8dc"/>
<rect x="1450.3" y="124.2" width="29.3" height="16" fill="#d9d9fb"/>
<text x="1483.3" y="117.8" class="lt">C</text>
<text x="1483.3" y="139" class="lt">POFF</text>
<clipPath id="pc01"><rect x="170.5" y="292" width="408.7" height="172.3"/></clipPath>
<line x1="258.7" y1="292" x2="258.7" y2="464.3" class="gr"/>
<line x1="351.6" y1="292" x2="351.6" y2="464.3" class="gr"/>
<line x1="444.5" y1="292" x2="444.5" y2="464.3" class="gr"/>
<line x1="537.4" y1="292" x2="537.4" y2="464.3" class="gr"/>
<line x1="170.5" y1="428.1" x2="579.2" y2="428.1" class="gr"/>
<line x1="170.5" y1="299.6" x2="579.2" y2="299.6" class="dt"/>
<line x1="170.5" y1="314.9" x2="579.2" y2="314.9" class="dt"/>
<line x1="170.5" y1="341.1" x2="579.2" y2="341.1" class="dt"/>
<line x1="170.5" y1="345.1" x2="579.2" y2="345.1" class="dt"/>
<line x1="170.5" y1="349.5" x2="579.2" y2="349.5" class="dt"/>
<line x1="170.5" y1="354.6" x2="579.2" y2="354.6" class="dt"/>
<line x1="170.5" y1="360.4" x2="579.2" y2="360.4" class="dt"/>
<line x1="170.5" y1="367.3" x2="579.2" y2="367.3" class="dt"/>
<line x1="170.5" y1="375.7" x2="579.2" y2="375.7" class="dt"/>
<line x1="170.5" y1="386.6" x2="579.2" y2="386.6" class="dt"/>
<line x1="170.5" y1="401.9" x2="579.2" y2="401.9" class="dt"/>
<line x1="170.5" y1="432.1" x2="579.2" y2="432.1" class="dt"/>
<line x1="170.5" y1="436.5" x2="579.2" y2="436.5" class="dt"/>
<line x1="170.5" y1="441.6" x2="579.2" y2="441.6" class="dt"/>
<line x1="170.5" y1="447.4" x2="579.2" y2="447.4" class="dt"/>
<line x1="170.5" y1="454.3" x2="579.2" y2="454.3" class="dt"/>
<line x1="203" y1="292" x2="203" y2="464.3" class="ds"/>
<line x1="240.2" y1="292" x2="240.2" y2="464.3" class="ds"/>
<line x1="286.6" y1="292" x2="286.6" y2="464.3" class="ds"/>
<text x="187.2" y="309.8" class="gk">δ</text>
<text x="224.4" y="309.8" class="gk">θ</text>
<text x="264.3" y="309.8" class="gk">α</text>
<text x="373" y="309.8" class="gk">β</text>
<text x="543" y="309.8" class="gk">γ</text>
<g clip-path="url(#pc01)">
<path d="M170.9 330.7C171.6 328.7 173.8 317.8 175.3 318.5C176.8 319.1 178.2 329.3 179.9 334.7C181.6 340.1 183.3 345.4 185.3 350.8C187.3 356.2 189.5 362.5 192 367C194.5 371.5 196.7 374.4 200.1 377.8C203.5 381.2 208 384.8 212.3 387.2C216.6 389.7 222 392.8 225.8 392.6C229.6 392.3 231.8 390.9 235.2 385.7C238.6 380.5 242.8 367.7 246 361.4C249.2 355.1 251.4 348.8 254.1 347.9C256.8 347 259.1 351.5 262.2 355.9C265.3 360.4 268.9 369 273 374.8C277.1 380.6 281.5 386.9 286.5 390.9C291.5 395 296.5 398.2 302.8 399.1C309.1 400 318.1 396.3 324.4 396.3C330.7 396.3 334.8 397.6 340.6 398.9C346.5 400.3 352.8 402.3 359.5 404.3C366.2 406.2 374.4 408.9 381.1 410.9C387.9 412.9 393.2 414.2 400 416.2C406.8 418.2 414 420 421.6 422.9C429.2 425.8 439.1 431.2 445.9 433.6C452.6 436.1 454.9 436.9 462.1 437.6C469.3 438.2 480.1 437.7 489.1 437.5C498.1 437.2 507.2 435.6 516.2 436C525.2 436.5 532.9 439.3 543.2 439.9C553.6 440.6 572.4 439.8 578.3 439.8L578.3 451.6C572.4 451.6 553.6 452.2 543.2 451.5C532.9 450.8 525.2 447.8 516.2 447.4C507.2 446.9 498.1 448.4 489.1 448.5C480.1 448.7 469.3 449.1 462.1 448.4C454.9 447.7 452.6 446.9 445.9 444.4C439.1 441.9 429.2 436.4 421.6 433.5C414 430.5 406.8 428.7 400 426.6C393.2 424.5 387.9 423.2 381.1 421.1C374.4 419.1 366.2 416.4 359.5 414.3C352.8 412.3 346.5 410.2 340.6 408.9C334.8 407.5 330.7 406.1 324.4 406.1C318.1 406.1 309.1 409.7 302.8 408.7C296.5 407.8 291.5 404.5 286.5 400.5C281.5 396.4 277.1 390.1 273 384.2C268.9 378.3 265.3 369.8 262.2 365.3C259.1 360.7 256.8 356.2 254.1 357.1C251.4 358 249.2 364.3 246 370.6C242.8 376.9 238.6 389.7 235.2 394.9C231.8 400 229.6 401.4 225.8 401.6C222 401.8 216.6 398.7 212.3 396.2C208 393.7 203.5 390 200.1 386.6C196.7 383.2 194.5 380.3 192 375.8C189.5 371.3 187.3 365 185.3 359.6C183.3 354.2 181.6 348.7 179.9 343.3C178.2 337.9 176.8 327.8 175.3 327.1C173.8 326.4 171.6 337.3 170.9 339.3Z" fill="rgba(255,0,0,0.15)"/>
<path d="M170.9 321.2C171.6 319.8 173.8 310.8 175.3 312.6C176.8 314.4 178.2 325.4 179.9 332C181.6 338.6 183.3 346.4 185.3 352.2C187.3 358.1 189.5 362.3 192 367C194.5 371.7 196.7 376.3 200.1 380.6C203.5 384.9 209.2 390.9 212.3 392.6C215.5 394.4 216.8 393.5 219 391.2C221.2 389 223.1 382.7 225.8 379.1C228.5 375.5 231.8 373.6 235.2 369.5C238.6 365.5 243.2 358.1 246 354.7C248.8 351.3 250 348.6 252 349.3C254 349.9 255.6 354.2 258.2 358.7C260.8 363.1 264.2 370.6 267.6 376.2C271 381.8 274.4 388.3 278.5 392.4C282.6 396.4 287.5 398.4 292 400.4C296.5 402.4 300.8 403.8 305.5 404.5C310.2 405.1 315.8 403.8 320.3 404.4C324.8 405.1 327.3 406.8 332.5 408.4C337.7 409.9 345.1 412.6 351.4 413.7C357.7 414.8 364.9 414.1 370.3 415C375.7 415.9 378.9 417.6 383.8 419C388.8 420.3 394.6 421.7 400 423C405.4 424.3 411.2 426.1 416.2 426.9C421.1 427.8 424.8 427 429.7 428.3C434.6 429.6 440.5 433.4 445.9 434.9C451.3 436.5 454.9 437.2 462.1 437.6C469.3 437.9 480.1 437.1 489.1 437C498.1 436.8 507.2 436.9 516.2 436.8C525.2 436.8 536.5 436.2 543.2 436.4C550 436.6 550.9 437.6 556.7 438C562.6 438.4 574.7 438.8 578.3 439L578.3 450.8C574.7 450.6 562.6 450.1 556.7 449.6C550.9 449.1 550 448.2 543.2 448C536.5 447.7 525.2 448.1 516.2 448.2C507.2 448.2 498.1 448 489.1 448C480.1 448.1 469.3 448.8 462.1 448.4C454.9 448 451.3 447.3 445.9 445.7C440.5 444.1 434.6 440.3 429.7 438.9C424.8 437.5 421.1 438.4 416.2 437.5C411.2 436.5 405.4 434.8 400 433.4C394.6 432 388.8 430.6 383.8 429.2C378.9 427.9 375.7 426.1 370.3 425.2C364.9 424.3 357.7 424.9 351.4 423.7C345.1 422.6 337.7 419.8 332.5 418.2C327.3 416.6 324.8 414.9 320.3 414.2C315.8 413.5 310.2 414.8 305.5 414.1C300.8 413.4 296.5 412 292 410C287.5 407.9 282.6 405.9 278.5 401.8C274.4 397.8 271 391.2 267.6 385.6C264.2 379.9 260.8 372.5 258.2 367.9C255.6 363.4 254 359.2 252 358.5C250 357.8 248.8 360.5 246 363.9C243.2 367.3 238.6 374.6 235.2 378.7C231.8 382.7 228.5 384.5 225.8 388.1C223.1 391.7 221.2 397.9 219 400.2C216.8 402.4 215.5 403.4 212.3 401.6C209.2 399.8 203.5 393.7 200.1 389.4C196.7 385.1 194.5 380.5 192 375.8C189.5 371 187.3 366.8 185.3 361C183.3 355.1 181.6 347.3 179.9 340.6C178.2 334 176.8 323 175.3 321.2C173.8 319.4 171.6 328.4 170.9 329.8Z" fill="rgba(0,0,255,0.15)"/>
<path d="M170.9 335C171.6 333 173.8 322.1 175.3 322.8C176.8 323.5 178.2 333.6 179.9 339C181.6 344.4 183.3 349.8 185.3 355.2C187.3 360.6 189.5 366.9 192 371.4C194.5 375.9 196.7 378.8 200.1 382.2C203.5 385.6 208 389.2 212.3 391.7C216.6 394.2 222 397.3 225.8 397.1C229.6 396.9 231.8 395.5 235.2 390.3C238.6 385.1 242.8 372.3 246 366C249.2 359.7 251.4 353.4 254.1 352.5C256.8 351.6 259.1 356.1 262.2 360.6C265.3 365.1 268.9 373.6 273 379.5C277.1 385.4 281.5 391.6 286.5 395.7C291.5 399.8 296.5 403 302.8 403.9C309.1 404.8 318.1 401.2 324.4 401.2C330.7 401.2 334.8 402.5 340.6 403.9C346.5 405.2 352.8 407.3 359.5 409.3C366.2 411.3 374.4 414 381.1 416C387.9 418 393.2 419.4 400 421.4C406.8 423.4 414 425.3 421.6 428.2C429.2 431.1 439.1 436.5 445.9 439C452.6 441.5 454.9 442.3 462.1 443C469.3 443.7 480.1 443.2 489.1 443C498.1 442.8 507.2 441.2 516.2 441.7C525.2 442.1 532.9 445 543.2 445.7C553.6 446.4 572.4 445.7 578.3 445.7" fill="none" stroke="#f00" class="cv"/>
<path d="M170.9 325.5C171.6 324.1 173.8 315.1 175.3 316.9C176.8 318.7 178.2 329.7 179.9 336.3C181.6 342.9 183.3 350.8 185.3 356.6C187.3 362.5 189.5 366.7 192 371.4C194.5 376.1 196.7 380.7 200.1 385C203.5 389.3 209.2 395.3 212.3 397.1C215.5 398.9 216.8 397.9 219 395.7C221.2 393.4 223.1 387.2 225.8 383.6C228.5 380 231.8 378.2 235.2 374.1C238.6 370.1 243.2 362.7 246 359.3C248.8 355.9 250 353.2 252 353.9C254 354.6 255.6 358.8 258.2 363.3C260.8 367.8 264.2 375.3 267.6 380.9C271 386.5 274.4 393.1 278.5 397.1C282.6 401.2 287.5 403.2 292 405.2C296.5 407.2 300.8 408.6 305.5 409.3C310.2 410 315.8 408.6 320.3 409.3C324.8 410 327.3 411.7 332.5 413.3C337.7 414.9 345.1 417.6 351.4 418.7C357.7 419.8 364.9 419.2 370.3 420.1C375.7 421 378.9 422.8 383.8 424.1C388.8 425.5 394.6 426.9 400 428.2C405.4 429.5 411.2 431.3 416.2 432.2C421.1 433.1 424.8 432.2 429.7 433.6C434.6 435 440.5 438.7 445.9 440.3C451.3 441.9 454.9 442.6 462.1 443C469.3 443.4 480.1 442.6 489.1 442.5C498.1 442.4 507.2 442.6 516.2 442.5C525.2 442.4 536.5 442 543.2 442.2C550 442.4 550.9 443.4 556.7 443.8C562.6 444.2 574.7 444.7 578.3 444.9" fill="none" stroke="#00f" class="cv"/>
</g>
<rect x="170.5" y="292" width="408.7" height="172.3" class="ax"/>
<path d="M258.7 464.3v-5M258.7 292v5M351.6 464.3v-5M351.6 292v5M444.5 464.3v-5M444.5 292v5M537.4 464.3v-5M537.4 292v5M170.5 428.1h5M579.2 428.1h-5M170.5 299.6h3M579.2 299.6h-3M170.5 314.9h3M579.2 314.9h-3M170.5 341.1h3M579.2 341.1h-3M170.5 345.1h3M579.2 345.1h-3M170.5 349.5h3M579.2 349.5h-3M170.5 354.6h3M579.2 354.6h-3M170.5 360.4h3M579.2 360.4h-3M170.5 367.3h3M579.2 367.3h-3M170.5 375.7h3M579.2 375.7h-3M170.5 386.6h3M579.2 386.6h-3M170.5 401.9h3M579.2 401.9h-3M170.5 432.1h3M579.2 432.1h-3M170.5 436.5h3M579.2 436.5h-3M170.5 441.6h3M579.2 441.6h-3M170.5 447.4h3M579.2 447.4h-3M170.5 454.3h3M579.2 454.3h-3" class="tk"/>
<text x="258.7" y="487.6" class="tl" text-anchor="middle">10</text>
<text x="351.6" y="487.6" class="tl" text-anchor="middle">20</text>
<text x="444.5" y="487.6" class="tl" text-anchor="middle">30</text>
<text x="537.4" y="487.6" class="tl" text-anchor="middle">40</text>
<text x="163.5" y="436.9" class="tl" text-anchor="end">10<tspan class="sup" dy="-9">-2</tspan></text>
<text x="374.9" y="509.8" class="lb" text-anchor="middle">f [Hz]</text>
<text transform="translate(123.1 378.1) rotate(-90)" class="lb" text-anchor="middle">PSD [<tspan class="mu">μ</tspan>V<tspan class="sup2" dy="-8">2</tspan><tspan dy="8">/Hz]</tspan></text>
<text x="374.9" y="283.8" class="tt" text-anchor="middle">Mean PSD | chs: T7 FC5 CP5</text>
<rect x="483.1" y="354.6" width="88" height="48.6" class="lg"/>
<rect x="487.6" y="359.6" width="29.3" height="15.8" fill="#fdd8dc"/>
<rect x="487.6" y="381.4" width="29.3" height="16" fill="#d9d9fb"/>
<text x="520.6" y="375" class="lt">C</text>
<text x="520.6" y="396.2" class="lt">POFF</text>
<clipPath id="pc11"><rect x="652.2" y="292" width="408.7" height="172.3"/></clipPath>
<line x1="740.4" y1="292" x2="740.4" y2="464.3" class="gr"/>
<line x1="833.3" y1="292" x2="833.3" y2="464.3" class="gr"/>
<line x1="926.2" y1="292" x2="926.2" y2="464.3" class="gr"/>
<line x1="1019.1" y1="292" x2="1019.1" y2="464.3" class="gr"/>
<line x1="652.2" y1="408.7" x2="1060.9" y2="408.7" class="gr"/>
<line x1="652.2" y1="334.2" x2="1060.9" y2="334.2" class="dt"/>
<line x1="684.7" y1="292" x2="684.7" y2="464.3" class="ds"/>
<line x1="721.9" y1="292" x2="721.9" y2="464.3" class="ds"/>
<line x1="768.3" y1="292" x2="768.3" y2="464.3" class="ds"/>
<text x="668.9" y="309.8" class="gk">δ</text>
<text x="706.1" y="309.8" class="gk">θ</text>
<text x="746" y="309.8" class="gk">α</text>
<text x="854.7" y="309.8" class="gk">β</text>
<text x="1024.7" y="309.8" class="gk">γ</text>
<g clip-path="url(#pc11)">
<path d="M652.3 322.6C653 320.6 654.8 309.9 656.3 310.4C657.8 310.8 659.2 319.6 661.2 325.3C663.2 330.9 665.8 339 668 344.1C670.2 349.3 671.8 352.4 674.7 356.2C677.6 360 681.5 364.3 685.5 367C689.5 369.7 695 371.2 699 372.3C703 373.4 706.7 375 709.8 373.7C713 372.3 715.2 368.9 717.9 364.1C720.6 359.4 723.3 349.7 726 345.2C728.7 340.7 731.5 337.5 734.2 337.1C736.9 336.6 739.2 337.5 742.3 342.4C745.5 347.4 749.5 360.6 753.1 366.7C756.7 372.8 759.4 375.6 763.9 378.9C768.4 382.1 774.7 385.2 780.1 386.1C785.5 387 790.9 384.8 796.3 384.1C801.7 383.5 806.2 381.6 812.5 382.2C818.8 382.7 826 385.6 834.1 387.5C842.2 389.4 853 391.5 861.1 393.4C869.2 395.2 875.5 396 882.7 398.7C889.9 401.4 897.1 404.9 904.3 409.4C911.5 413.9 919.6 422.2 925.9 425.5C932.2 428.9 935.8 428.6 942.1 429.5C948.4 430.3 957.2 431.5 963.7 430.8C970.2 430.1 976.3 425.3 981.3 425.3C986.3 425.3 988.8 428.4 993.5 430.7C998.2 432.9 1003.9 437.2 1009.7 438.7C1015.6 440.2 1020.3 439.3 1028.6 439.9C1036.9 440.6 1054.4 442.1 1059.6 442.5L1059.6 454.3C1054.4 453.8 1036.9 452.2 1028.6 451.5C1020.3 450.8 1015.6 451.7 1009.7 450.1C1003.9 448.5 998.2 444.2 993.5 441.9C988.8 439.7 986.3 436.5 981.3 436.5C976.3 436.5 970.2 441.2 963.7 441.8C957.2 442.5 948.4 441.3 942.1 440.3C935.8 439.4 932.2 439.7 925.9 436.3C919.6 432.9 911.5 424.5 904.3 420C897.1 415.5 889.9 411.8 882.7 409.1C875.5 406.4 869.2 405.6 861.1 403.6C853 401.7 842.2 399.4 834.1 397.5C826 395.6 818.8 392.6 812.5 392C806.2 391.4 801.7 393.3 796.3 393.9C790.9 394.5 785.5 396.6 780.1 395.7C774.7 394.8 768.4 391.6 763.9 388.3C759.4 385.1 756.7 382.2 753.1 376.1C749.5 370 745.5 356.7 742.3 351.8C739.2 346.8 736.9 345.9 734.2 346.3C731.5 346.8 728.7 349.9 726 354.4C723.3 358.9 720.6 368.5 717.9 373.3C715.2 378 713 381.4 709.8 382.7C706.7 384.1 703 382.4 699 381.3C695 380.1 689.5 378.5 685.5 375.8C681.5 373.1 677.6 368.8 674.7 365C671.8 361.2 670.2 358 668 352.9C665.8 347.7 663.2 339.6 661.2 333.9C659.2 328.3 657.8 319.5 656.3 319C654.8 318.6 653 329.2 652.3 331.2Z" fill="rgba(255,0,0,0.15)"/>
<path d="M652.3 321.2C653 319.2 654.8 308.2 656.3 309.1C657.8 310 659.2 320.5 661.2 326.6C663.2 332.6 665.8 340.3 668 345.4C670.2 350.6 671.8 354 674.7 357.6C677.6 361.2 681.5 365 685.5 367C689.5 369 695 371.2 699 369.6C703 368 706.2 361.3 709.8 357.5C713.4 353.6 716.8 349.5 720.6 346.6C724.4 343.8 729.7 339.7 732.8 340.4C736 341 737 346.6 739.5 350.6C742 354.5 744.4 360 747.6 364C750.8 368.1 754.4 372.1 758.5 374.8C762.6 377.5 768.4 379 772 380.2C775.6 381.5 776 381.6 780.1 382.3C784.2 382.9 790.9 383.8 796.3 384.1C801.7 384.4 806.2 382.7 812.5 384.1C818.8 385.4 826 389.6 834.1 392.1C842.2 394.5 852.1 396.3 861.1 398.8C870.1 401.2 880 404.1 888.1 406.8C896.2 409.4 903.4 411.7 909.7 414.8C916 417.9 921.4 423.5 925.9 425.5C930.4 427.5 931.8 425.7 936.7 426.8C941.7 427.9 950.2 430.5 955.6 432.1C961 433.7 963.7 436 969.1 436.2C974.5 436.3 982.7 432.4 988.1 432.8C993.5 433.2 997.5 438.4 1001.6 438.7C1005.7 439 1008.8 434.6 1012.4 434.6C1016 434.6 1018.6 437.8 1023.1 438.6C1027.6 439.5 1033.3 439.8 1039.4 439.9C1045.5 439.9 1056.2 439.1 1059.6 439L1059.6 450.8C1056.2 450.9 1045.5 451.6 1039.4 451.5C1033.3 451.4 1027.6 451.1 1023.1 450.2C1018.6 449.2 1016 446 1012.4 446C1008.8 446 1005.7 450.4 1001.6 450.1C997.5 449.7 993.5 444.5 988.1 444C982.7 443.5 974.5 447.4 969.1 447.2C963.7 447.1 961 444.7 955.6 443.1C950.2 441.5 941.7 438.8 936.7 437.6C931.8 436.5 930.4 438.3 925.9 436.3C921.4 434.2 916 428.6 909.7 425.4C903.4 422.2 896.2 420 888.1 417.2C880 414.5 870.1 411.5 861.1 409C852.1 406.5 842.2 404.6 834.1 402.1C826 399.6 818.8 395.3 812.5 393.9C806.2 392.6 801.7 394.2 796.3 393.9C790.9 393.5 784.2 392.6 780.1 391.9C776 391.2 775.6 391.1 772 389.8C768.4 388.5 762.6 386.9 758.5 384.2C754.4 381.5 750.8 377.4 747.6 373.4C744.4 369.3 742 363.8 739.5 359.8C737 355.9 736 350.3 732.8 349.6C729.7 348.9 724.4 352.9 720.6 355.8C716.8 358.6 713.4 362.7 709.8 366.5C706.2 370.3 703 377 699 378.6C695 380.1 689.5 377.9 685.5 375.8C681.5 373.8 677.6 370 674.7 366.4C671.8 362.8 670.2 359.4 668 354.2C665.8 349 663.2 341.3 661.2 335.2C659.2 329.2 657.8 318.6 656.3 317.7C654.8 316.8 653 327.8 652.3 329.8Z" fill="rgba(0,0,255,0.15)"/>
<path d="M652.3 326.9C653 324.9 654.8 314.2 656.3 314.7C657.8 315.1 659.2 324 661.2 329.6C663.2 335.2 665.8 343.3 668 348.5C670.2 353.7 671.8 356.8 674.7 360.6C677.6 364.4 681.5 368.7 685.5 371.4C689.5 374.1 695 375.7 699 376.8C703 377.9 706.7 379.6 709.8 378.2C713 376.8 715.2 373.4 717.9 368.7C720.6 364 723.3 354.3 726 349.8C728.7 345.3 731.5 342.1 734.2 341.7C736.9 341.2 739.2 342.2 742.3 347.1C745.5 352.1 749.5 365.3 753.1 371.4C756.7 377.5 759.4 380.4 763.9 383.6C768.4 386.9 774.7 390 780.1 390.9C785.5 391.8 790.9 389.6 796.3 389C801.7 388.4 806.2 386.5 812.5 387.1C818.8 387.7 826 390.6 834.1 392.5C842.2 394.4 853 396.6 861.1 398.5C869.2 400.4 875.5 401.2 882.7 403.9C889.9 406.6 897.1 410.2 904.3 414.7C911.5 419.2 919.6 427.5 925.9 430.9C932.2 434.3 935.8 434 942.1 434.9C948.4 435.8 957.2 437 963.7 436.3C970.2 435.6 976.3 430.9 981.3 430.9C986.3 430.9 988.8 434.1 993.5 436.3C998.2 438.6 1003.9 442.8 1009.7 444.4C1015.6 446 1020.3 445 1028.6 445.7C1036.9 446.4 1054.4 447.9 1059.6 448.4" fill="none" stroke="#f00" class="cv"/>
<path d="M652.3 325.5C653 323.5 654.8 312.5 656.3 313.4C657.8 314.3 659.2 324.8 661.2 330.9C663.2 337 665.8 344.6 668 349.8C670.2 355 671.8 358.4 674.7 362C677.6 365.6 681.5 369.4 685.5 371.4C689.5 373.4 695 375.7 699 374.1C703 372.5 706.2 365.8 709.8 362C713.4 358.2 716.8 354 720.6 351.2C724.4 348.4 729.7 344.3 732.8 345C736 345.7 737 351.2 739.5 355.2C742 359.1 744.4 364.6 747.6 368.7C750.8 372.8 754.4 376.8 758.5 379.5C762.6 382.2 768.4 383.7 772 385C775.6 386.3 776 386.4 780.1 387.1C784.2 387.8 790.9 388.7 796.3 389C801.7 389.3 806.2 387.6 812.5 389C818.8 390.4 826 394.6 834.1 397.1C842.2 399.6 852.1 401.4 861.1 403.9C870.1 406.4 880 409.3 888.1 412C896.2 414.7 903.4 417 909.7 420.1C916 423.2 921.4 428.9 925.9 430.9C930.4 432.9 931.8 431.1 936.7 432.2C941.7 433.3 950.2 436 955.6 437.6C961 439.2 963.7 441.6 969.1 441.7C974.5 441.8 982.7 437.9 988.1 438.4C993.5 438.8 997.5 444.1 1001.6 444.4C1005.7 444.7 1008.8 440.3 1012.4 440.3C1016 440.3 1018.6 443.5 1023.1 444.4C1027.6 445.3 1033.3 445.6 1039.4 445.7C1045.5 445.8 1056.2 445 1059.6 444.9" fill="none" stroke="#00f" class="cv"/>
</g>
<rect x="652.2" y="292" width="408.7" height="172.3" class="ax"/>
<path d="M740.4 464.3v-5M740.4 292v5M833.3 464.3v-5M833.3 292v5M926.2 464.3v-5M926.2 292v5M1019.1 464.3v-5M1019.1 292v5M652.2 408.7h5M1060.9 408.7h-5M652.2 334.2h5M1060.9 334.2h-5" class="tk"/>
<text x="740.4" y="487.6" class="tl" text-anchor="middle">10</text>
<text x="833.3" y="487.6" class="tl" text-anchor="middle">20</text>
<text x="926.2" y="487.6" class="tl" text-anchor="middle">30</text>
<text x="1019.1" y="487.6" class="tl" text-anchor="middle">40</text>
<text x="645.2" y="417.5" class="tl" text-anchor="end">10<tspan class="sup" dy="-9">-2</tspan></text>
<text x="856.6" y="509.8" class="lb" text-anchor="middle">f [Hz]</text>
<text transform="translate(604.8 378.1) rotate(-90)" class="lb" text-anchor="middle">PSD [<tspan class="mu">μ</tspan>V<tspan class="sup2" dy="-8">2</tspan><tspan dy="8">/Hz]</tspan></text>
<text x="856.6" y="283.8" class="tt" text-anchor="middle">Mean PSD | chs: CZ FC1 CP1 FC2 CP2</text>
<rect x="964.8" y="354.6" width="88" height="48.6" class="lg"/>
<rect x="969.3" y="359.6" width="29.3" height="15.8" fill="#fdd8dc"/>
<rect x="969.3" y="381.4" width="29.3" height="16" fill="#d9d9fb"/>
<text x="1002.3" y="375" class="lt">C</text>
<text x="1002.3" y="396.2" class="lt">POFF</text>
<clipPath id="pc21"><rect x="1133.2" y="292" width="408.7" height="172.3"/></clipPath>
<line x1="1221.4" y1="292" x2="1221.4" y2="464.3" class="gr"/>
<line x1="1314.3" y1="292" x2="1314.3" y2="464.3" class="gr"/>
<line x1="1407.2" y1="292" x2="1407.2" y2="464.3" class="gr"/>
<line x1="1500.1" y1="292" x2="1500.1" y2="464.3" class="gr"/>
<line x1="1133.2" y1="430.1" x2="1541.9" y2="430.1" class="gr"/>
<line x1="1133.2" y1="296.6" x2="1541.9" y2="296.6" class="dt"/>
<line x1="1133.2" y1="312.5" x2="1541.9" y2="312.5" class="dt"/>
<line x1="1133.2" y1="339.7" x2="1541.9" y2="339.7" class="dt"/>
<line x1="1133.2" y1="343.8" x2="1541.9" y2="343.8" class="dt"/>
<line x1="1133.2" y1="348.5" x2="1541.9" y2="348.5" class="dt"/>
<line x1="1133.2" y1="353.7" x2="1541.9" y2="353.7" class="dt"/>
<line x1="1133.2" y1="359.8" x2="1541.9" y2="359.8" class="dt"/>
<line x1="1133.2" y1="366.9" x2="1541.9" y2="366.9" class="dt"/>
<line x1="1133.2" y1="375.7" x2="1541.9" y2="375.7" class="dt"/>
<line x1="1133.2" y1="387" x2="1541.9" y2="387" class="dt"/>
<line x1="1133.2" y1="402.9" x2="1541.9" y2="402.9" class="dt"/>
<line x1="1133.2" y1="434.2" x2="1541.9" y2="434.2" class="dt"/>
<line x1="1133.2" y1="438.9" x2="1541.9" y2="438.9" class="dt"/>
<line x1="1133.2" y1="444.1" x2="1541.9" y2="444.1" class="dt"/>
<line x1="1133.2" y1="450.2" x2="1541.9" y2="450.2" class="dt"/>
<line x1="1133.2" y1="457.3" x2="1541.9" y2="457.3" class="dt"/>
<line x1="1165.7" y1="292" x2="1165.7" y2="464.3" class="ds"/>
<line x1="1202.9" y1="292" x2="1202.9" y2="464.3" class="ds"/>
<line x1="1249.3" y1="292" x2="1249.3" y2="464.3" class="ds"/>
<text x="1149.9" y="309.8" class="gk">δ</text>
<text x="1187.1" y="309.8" class="gk">θ</text>
<text x="1227" y="309.8" class="gk">α</text>
<text x="1335.7" y="309.8" class="gk">β</text>
<text x="1505.7" y="309.8" class="gk">γ</text>
<g clip-path="url(#pc21)">
<path d="M1133.2 330.7C1133.9 328.7 1135.8 317.8 1137.3 318.5C1138.8 319.1 1140.2 329 1141.9 334.7C1143.6 340.3 1145.2 346.9 1147.2 352.2C1149.2 357.6 1151.1 362.3 1154 367C1156.9 371.7 1160.8 376.4 1164.8 380.6C1168.8 384.7 1174.5 389.4 1178.3 391.8C1182.1 394.3 1185.1 395.8 1187.8 395.3C1190.5 394.7 1191.6 394.1 1194.5 388.5C1197.4 382.8 1202.1 367.9 1205.3 361.4C1208.5 354.9 1210.7 350.4 1213.4 349.3C1216.1 348.2 1218.3 350.8 1221.5 354.7C1224.7 358.5 1228.2 366.1 1232.3 372.1C1236.4 378.2 1240.9 386.5 1245.9 391C1250.9 395.5 1255.4 397.8 1262.1 399.1C1268.9 400.4 1279.2 398.1 1286.4 399C1293.6 399.9 1298.1 402.6 1305.3 404.3C1312.5 406.1 1322 407.4 1329.6 409.6C1337.3 411.8 1344.5 415.4 1351.2 417.6C1358 419.9 1363.4 421.2 1370.1 423C1376.9 424.7 1385.4 426.1 1391.7 428.3C1398 430.5 1402.5 434.8 1407.9 436.3C1413.3 437.9 1416.9 437.1 1424.1 437.6C1431.3 438 1443 438.7 1451.1 438.9C1459.2 439.1 1466 438.6 1472.8 438.8C1479.6 439 1485.9 439.4 1491.7 440C1497.5 440.6 1502.5 442.9 1507.9 442.6C1513.3 442.4 1518.7 438.8 1524.1 438.6C1529.5 438.3 1537.6 440.8 1540.3 441.2L1540.3 453C1537.6 452.5 1529.5 450 1524.1 450.2C1518.7 450.4 1513.3 454 1507.9 454.2C1502.5 454.4 1497.5 452.1 1491.7 451.4C1485.9 450.7 1479.6 450.3 1472.8 450C1466 449.8 1459.2 450.2 1451.1 449.9C1443 449.7 1431.3 448.9 1424.1 448.4C1416.9 448 1413.3 448.7 1407.9 447.1C1402.5 445.5 1398 441.2 1391.7 438.9C1385.4 436.6 1376.9 435.3 1370.1 433.4C1363.4 431.6 1358 430.2 1351.2 428C1344.5 425.7 1337.3 422.1 1329.6 419.8C1322 417.5 1312.5 416.1 1305.3 414.3C1298.1 412.4 1293.6 409.7 1286.4 408.8C1279.2 407.9 1268.9 410.1 1262.1 408.7C1255.4 407.3 1250.9 405 1245.9 400.4C1240.9 395.9 1236.4 387.6 1232.3 381.5C1228.2 375.4 1224.7 367.8 1221.5 363.9C1218.3 360.1 1216.1 357.4 1213.4 358.5C1210.7 359.6 1208.5 364.1 1205.3 370.6C1202.1 377.1 1197.4 391.9 1194.5 397.5C1191.6 403.2 1190.5 403.8 1187.8 404.3C1185.1 404.9 1182.1 403.3 1178.3 400.8C1174.5 398.3 1168.8 393.6 1164.8 389.4C1160.8 385.3 1156.9 380.5 1154 375.8C1151.1 371 1149.2 366.4 1147.2 361C1145.2 355.5 1143.6 349 1141.9 343.3C1140.2 337.7 1138.8 327.8 1137.3 327.1C1135.8 326.4 1133.9 337.3 1133.2 339.3Z" fill="rgba(255,0,0,0.15)"/>
<path d="M1133.2 321.2C1133.9 319.8 1135.8 310.8 1137.3 312.6C1138.8 314.4 1140.2 325.6 1141.9 332C1143.6 338.3 1145.2 344.8 1147.2 350.8C1149.2 356.9 1151.1 363.2 1154 368.4C1156.9 373.6 1160.8 377.7 1164.8 381.9C1168.8 386 1174.2 393.2 1178.3 393.4C1182.3 393.6 1185.5 387.5 1189.1 383.1C1192.7 378.7 1196.3 371.8 1199.9 366.8C1203.5 361.9 1208 355.8 1210.7 353.3C1213.4 350.8 1214.2 350.6 1216.2 352C1218.2 353.3 1220.7 357.1 1222.9 361.3C1225.1 365.6 1226.2 372.1 1229.6 377.5C1233 382.9 1238.7 389.7 1243.2 393.8C1247.7 397.8 1251.8 399.8 1256.7 401.8C1261.7 403.8 1267.1 405.3 1272.9 405.8C1278.8 406.2 1285.5 403.5 1291.8 404.4C1298.1 405.3 1305.8 409.2 1310.7 411C1315.7 412.8 1316.1 413.5 1321.5 415.1C1326.9 416.6 1337.2 418.8 1343.1 420.4C1349 421.9 1351.2 423.4 1356.6 424.3C1362 425.2 1369.7 424.8 1375.5 425.6C1381.3 426.5 1386.8 427.8 1391.7 429.6C1396.7 431.4 1401.6 435.9 1405.2 436.3C1408.8 436.8 1410.2 432.3 1413.3 432.2C1416.5 432.1 1420 435 1424.1 435.7C1428.1 436.3 1432.6 435.5 1437.6 436.2C1442.5 437 1448.8 441.1 1453.8 440.1C1458.8 439.2 1463.3 430.9 1467.4 430.7C1471.5 430.5 1474.2 438.8 1478.2 438.7C1482.2 438.7 1488.1 430.6 1491.7 430.6C1495.3 430.6 1495.3 437.3 1499.8 438.7C1504.3 440 1513.3 439.4 1518.7 438.6C1524.1 437.8 1528.6 434.1 1532.2 433.6C1535.8 433.2 1539 435.4 1540.3 435.8L1540.3 447.6C1539 447.2 1535.8 444.9 1532.2 445.4C1528.6 445.8 1524.1 449.4 1518.7 450.2C1513.3 451 1504.3 451.5 1499.8 450.1C1495.3 448.8 1495.3 442 1491.7 442C1488.1 442 1482.2 450.1 1478.2 450.1C1474.2 450 1471.5 441.7 1467.4 441.9C1463.3 442.1 1458.8 450.4 1453.8 451.3C1448.8 452.1 1442.5 448 1437.6 447.2C1432.6 446.4 1428.1 447.2 1424.1 446.5C1420 445.8 1416.5 442.9 1413.3 443C1410.2 443.1 1408.8 447.5 1405.2 447.1C1401.6 446.6 1396.7 442 1391.7 440.2C1386.8 438.4 1381.3 437.1 1375.5 436.2C1369.7 435.2 1362 435.6 1356.6 434.7C1351.2 433.8 1349 432.2 1343.1 430.6C1337.2 429 1326.9 426.7 1321.5 425.1C1316.1 423.5 1315.7 422.8 1310.7 421C1305.8 419.2 1298.1 415.1 1291.8 414.2C1285.5 413.3 1278.8 415.9 1272.9 415.4C1267.1 415 1261.7 413.4 1256.7 411.4C1251.8 409.3 1247.7 407.3 1243.2 403.2C1238.7 399.1 1233 392.3 1229.6 386.9C1226.2 381.4 1225.1 374.9 1222.9 370.7C1220.7 366.4 1218.2 362.6 1216.2 361.2C1214.2 359.9 1213.4 360 1210.7 362.5C1208 365 1203.5 371 1199.9 376C1196.3 380.9 1192.7 387.7 1189.1 392.1C1185.5 396.5 1182.3 402.6 1178.3 402.4C1174.2 402.1 1168.8 394.9 1164.8 390.7C1160.8 386.5 1156.9 382.4 1154 377.2C1151.1 372 1149.2 365.6 1147.2 359.6C1145.2 353.5 1143.6 347 1141.9 340.6C1140.2 334.2 1138.8 323 1137.3 321.2C1135.8 319.4 1133.9 328.4 1133.2 329.8Z" fill="rgba(0,0,255,0.15)"/>
<path d="M1133.2 335C1133.9 333 1135.8 322.1 1137.3 322.8C1138.8 323.5 1140.2 333.4 1141.9 339C1143.6 344.6 1145.2 351.2 1147.2 356.6C1149.2 362 1151.1 366.7 1154 371.4C1156.9 376.1 1160.8 380.9 1164.8 385C1168.8 389.1 1174.5 393.8 1178.3 396.3C1182.1 398.8 1185.1 400.4 1187.8 399.8C1190.5 399.2 1191.6 398.6 1194.5 393C1197.4 387.4 1202.1 372.5 1205.3 366C1208.5 359.5 1210.7 355 1213.4 353.9C1216.1 352.8 1218.3 355.5 1221.5 359.3C1224.7 363.1 1228.2 370.7 1232.3 376.8C1236.4 382.9 1240.9 391.2 1245.9 395.7C1250.9 400.2 1255.4 402.5 1262.1 403.9C1268.9 405.3 1279.2 403 1286.4 403.9C1293.6 404.8 1298.1 407.5 1305.3 409.3C1312.5 411.1 1322 412.4 1329.6 414.7C1337.3 416.9 1344.5 420.6 1351.2 422.8C1358 425.1 1363.4 426.4 1370.1 428.2C1376.9 430 1385.4 431.4 1391.7 433.6C1398 435.9 1402.5 440.1 1407.9 441.7C1413.3 443.3 1416.9 442.6 1424.1 443C1431.3 443.4 1443 444.2 1451.1 444.4C1459.2 444.6 1466 444.2 1472.8 444.4C1479.6 444.6 1485.9 445 1491.7 445.7C1497.5 446.4 1502.5 448.6 1507.9 448.4C1513.3 448.2 1518.7 444.6 1524.1 444.4C1529.5 444.2 1537.6 446.7 1540.3 447.1" fill="none" stroke="#f00" class="cv"/>
<path d="M1133.2 325.5C1133.9 324.1 1135.8 315.1 1137.3 316.9C1138.8 318.7 1140.2 329.9 1141.9 336.3C1143.6 342.7 1145.2 349.1 1147.2 355.2C1149.2 361.3 1151.1 367.6 1154 372.8C1156.9 378 1160.8 382.1 1164.8 386.3C1168.8 390.5 1174.2 397.7 1178.3 397.9C1182.3 398.1 1185.5 392 1189.1 387.6C1192.7 383.2 1196.3 376.3 1199.9 371.4C1203.5 366.4 1208 360.4 1210.7 357.9C1213.4 355.4 1214.2 355.2 1216.2 356.6C1218.2 358 1220.7 361.7 1222.9 366C1225.1 370.3 1226.2 376.8 1229.6 382.2C1233 387.6 1238.7 394.4 1243.2 398.5C1247.7 402.6 1251.8 404.6 1256.7 406.6C1261.7 408.6 1267.1 410.2 1272.9 410.6C1278.8 411.1 1285.5 408.4 1291.8 409.3C1298.1 410.2 1305.8 414.2 1310.7 416C1315.7 417.8 1316.1 418.5 1321.5 420.1C1326.9 421.7 1337.2 423.9 1343.1 425.5C1349 427.1 1351.2 428.6 1356.6 429.5C1362 430.4 1369.7 430 1375.5 430.9C1381.3 431.8 1386.8 433.1 1391.7 434.9C1396.7 436.7 1401.6 441.2 1405.2 441.7C1408.8 442.1 1410.2 437.7 1413.3 437.6C1416.5 437.5 1420 440.4 1424.1 441.1C1428.1 441.8 1432.6 440.9 1437.6 441.7C1442.5 442.5 1448.8 446.6 1453.8 445.7C1458.8 444.8 1463.3 436.5 1467.4 436.3C1471.5 436.1 1474.2 444.4 1478.2 444.4C1482.2 444.4 1488.1 436.3 1491.7 436.3C1495.3 436.3 1495.3 443 1499.8 444.4C1504.3 445.8 1513.3 445.2 1518.7 444.4C1524.1 443.6 1528.6 439.9 1532.2 439.5C1535.8 439.1 1539 441.3 1540.3 441.7" fill="none" stroke="#00f" class="cv"/>
</g>
<rect x="1133.2" y="292" width="408.7" height="172.3" class="ax"/>
<path d="M1221.4 464.3v-5M1221.4 292v5M1314.3 464.3v-5M1314.3 292v5M1407.2 464.3v-5M1407.2 292v5M1500.1 464.3v-5M1500.1 292v5M1133.2 430.1h5M1541.9 430.1h-5M1133.2 296.6h3M1541.9 296.6h-3M1133.2 312.5h3M1541.9 312.5h-3M1133.2 339.7h3M1541.9 339.7h-3M1133.2 343.8h3M1541.9 343.8h-3M1133.2 348.5h3M1541.9 348.5h-3M1133.2 353.7h3M1541.9 353.7h-3M1133.2 359.8h3M1541.9 359.8h-3M1133.2 366.9h3M1541.9 366.9h-3M1133.2 375.7h3M1541.9 375.7h-3M1133.2 387h3M1541.9 387h-3M1133.2 402.9h3M1541.9 402.9h-3M1133.2 434.2h3M1541.9 434.2h-3M1133.2 438.9h3M1541.9 438.9h-3M1133.2 444.1h3M1541.9 444.1h-3M1133.2 450.2h3M1541.9 450.2h-3M1133.2 457.3h3M1541.9 457.3h-3" class="tk"/>
<text x="1221.4" y="487.6" class="tl" text-anchor="middle">10</text>
<text x="1314.3" y="487.6" class="tl" text-anchor="middle">20</text>
<text x="1407.2" y="487.6" class="tl" text-anchor="middle">30</text>
<text x="1500.1" y="487.6" class="tl" text-anchor="middle">40</text>
<text x="1126.2" y="438.9" class="tl" text-anchor="end">10<tspan class="sup" dy="-9">-2</tspan></text>
<text x="1337.5" y="509.8" class="lb" text-anchor="middle">f [Hz]</text>
<text transform="translate(1085.8 378.1) rotate(-90)" class="lb" text-anchor="middle">PSD [<tspan class="mu">μ</tspan>V<tspan class="sup2" dy="-8">2</tspan><tspan dy="8">/Hz]</tspan></text>
<text x="1337.5" y="283.8" class="tt" text-anchor="middle">Mean PSD | chs: T8 FC6 CP6</text>
<rect x="1445.8" y="354.6" width="88" height="48.6" class="lg"/>
<rect x="1450.3" y="359.6" width="29.3" height="15.8" fill="#fdd8dc"/>
<rect x="1450.3" y="381.4" width="29.3" height="16" fill="#d9d9fb"/>
<text x="1483.3" y="375" class="lt">C</text>
<text x="1483.3" y="396.2" class="lt">POFF</text>
<clipPath id="pc02"><rect x="170.5" y="548.4" width="408.7" height="172.3"/></clipPath>
<line x1="258.7" y1="548.4" x2="258.7" y2="720.7" class="gr"/>
<line x1="351.6" y1="548.4" x2="351.6" y2="720.7" class="gr"/>
<line x1="444.5" y1="548.4" x2="444.5" y2="720.7" class="gr"/>
<line x1="537.4" y1="548.4" x2="537.4" y2="720.7" class="gr"/>
<line x1="170.5" y1="668.4" x2="579.2" y2="668.4" class="gr"/>
<line x1="170.5" y1="586.6" x2="579.2" y2="586.6" class="dt"/>
<line x1="203" y1="548.4" x2="203" y2="720.7" class="ds"/>
<line x1="240.2" y1="548.4" x2="240.2" y2="720.7" class="ds"/>
<line x1="286.6" y1="548.4" x2="286.6" y2="720.7" class="ds"/>
<text x="187.2" y="566.2" class="gk">δ</text>
<text x="224.4" y="566.2" class="gk">θ</text>
<text x="264.3" y="566.2" class="gk">α</text>
<text x="373" y="566.2" class="gk">β</text>
<text x="543" y="566.2" class="gk">γ</text>
<g clip-path="url(#pc02)">
<path d="M170.9 580.9C171.6 578.2 173.8 564.5 175.3 564.7C176.8 564.9 178.2 576.6 179.9 582.3C181.6 587.9 182.8 592.4 185.3 598.4C187.8 604.5 191.3 613.7 194.7 618.6C198.1 623.5 201.9 625.1 205.5 628.1C209.1 631 212.9 634.3 216.3 636.1C219.7 637.9 223.1 639.5 225.8 638.8C228.5 638.1 230 636.7 232.5 632C235 627.2 237.4 617.8 240.6 610.3C243.8 602.9 248.2 590.3 251.4 587.4C254.6 584.5 256.8 589.6 259.5 592.8C262.2 595.9 264.4 601.5 267.6 606.2C270.8 610.9 274.4 616.7 278.5 621C282.6 625.2 287.9 628.7 292 631.7C296.1 634.8 297.9 638.4 302.8 639.3C307.8 640.2 316.3 637 321.7 637C327.1 637 329.8 637.6 335.2 639.2C340.6 640.7 347.4 643.6 354.1 646.4C360.9 649.2 368.5 653.1 375.7 655.8C382.9 658.5 390.1 659.7 397.3 662.4C404.5 665.1 412.6 669.2 418.9 671.8C425.2 674.5 430.2 676 435.1 678.5C440.1 680.9 444.1 684.9 448.6 686.5C453.1 688.1 456.7 687.3 462.1 687.9C467.5 688.4 474.2 689.2 481 689.9C487.8 690.5 496.8 691.4 502.7 691.7C508.6 692 511.7 691.2 516.2 691.6C520.7 692.1 524.8 693.4 529.7 694.3C534.7 695.2 541 697.2 545.9 696.9C550.8 696.7 554 692.4 559.4 692.9C564.8 693.3 575.1 698.4 578.3 699.5L578.3 711.3C575.1 710.2 564.8 705 559.4 704.5C554 704.1 550.8 708.3 545.9 708.5C541 708.7 534.7 706.6 529.7 705.7C524.8 704.8 520.7 703.4 516.2 703C511.7 702.5 508.6 703.2 502.7 702.9C496.8 702.6 487.8 701.6 481 700.9C474.2 700.2 467.5 699.3 462.1 698.7C456.7 698.1 453.1 698.9 448.6 697.3C444.1 695.7 440.1 691.6 435.1 689.1C430.2 686.7 425.2 685.1 418.9 682.4C412.6 679.6 404.5 675.5 397.3 672.8C390.1 670.1 382.9 668.7 375.7 666C368.5 663.3 360.9 659.2 354.1 656.4C347.4 653.6 340.6 650.7 335.2 649C329.8 647.4 327.1 646.8 321.7 646.8C316.3 646.8 307.8 649.8 302.8 648.9C297.9 648 296.1 644.4 292 641.3C287.9 638.2 282.6 634.7 278.5 630.4C274.4 626.1 270.8 620.3 267.6 615.6C264.4 610.9 262.2 605.2 259.5 602C256.8 598.9 254.6 593.7 251.4 596.6C248.2 599.5 243.8 612.1 240.6 619.5C237.4 626.9 235 636.3 232.5 641C230 645.8 228.5 647.1 225.8 647.8C223.1 648.5 219.7 646.9 216.3 645.1C212.9 643.3 209.1 639.9 205.5 636.9C201.9 634 198.1 632.4 194.7 627.4C191.3 622.4 187.8 613.2 185.3 607.2C182.8 601.1 181.6 596.6 179.9 590.9C178.2 585.3 176.8 573.6 175.3 573.3C173.8 573.1 171.6 586.8 170.9 589.5Z" fill="rgba(255,0,0,0.15)"/>
<path d="M170.9 578.2C171.6 576.2 173.8 565.4 175.3 566.1C176.8 566.8 178.2 576.7 179.9 582.3C181.6 587.9 182.8 593.7 185.3 599.7C187.8 605.8 191.3 613.7 194.7 618.6C198.1 623.5 201.9 626.9 205.5 629.4C209.1 631.8 213.6 633.6 216.3 633.4C219 633.2 219.4 631.8 221.7 628C223.9 624.2 226.7 615.6 229.8 610.4C233 605.2 237 601 240.6 596.8C244.2 592.7 248.2 585.7 251.4 585.5C254.6 585.3 256.8 590.9 259.5 595.5C262.2 600 264.4 608 267.6 612.9C270.8 617.9 274.4 621 278.5 625.1C282.6 629.1 287.5 634 292 637.1C296.5 640.3 300.6 642.3 305.5 643.9C310.4 645.4 316.8 645.6 321.7 646.5C326.6 647.4 329.8 647.4 335.2 649.2C340.6 650.9 348.2 655.1 354.1 657.2C360 659.3 364.9 660.6 370.3 661.7C375.7 662.8 381.1 662.4 386.5 663.9C391.9 665.3 397.3 668.7 402.7 670.5C408.1 672.3 413.5 673.2 418.9 674.5C424.3 675.9 430.2 676.7 435.1 678.5C440.1 680.2 444.1 683.7 448.6 685.2C453.1 686.7 456.7 686.6 462.1 687.3C467.5 687.9 475.8 688.3 481 689.1C486.2 689.8 489.6 692 493.2 691.7C496.8 691.5 498.9 687.9 502.7 687.7C506.5 687.5 511.7 689.9 516.2 690.3C520.7 690.8 525.2 689.6 529.7 690.3C534.2 690.9 538.7 693.9 543.2 694.2C547.7 694.6 550.9 692.5 556.7 692.3C562.6 692 574.7 692.7 578.3 692.8L578.3 704.6C574.7 704.5 562.6 703.7 556.7 703.9C550.9 704.1 547.7 706.1 543.2 705.8C538.7 705.4 534.2 702.4 529.7 701.7C525.2 701 520.7 702.1 516.2 701.7C511.7 701.2 506.5 698.7 502.7 698.9C498.9 699.1 496.8 702.7 493.2 702.9C489.6 703.1 486.2 700.9 481 700.1C475.8 699.3 467.5 698.8 462.1 698.1C456.7 697.5 453.1 697.5 448.6 696C444.1 694.5 440.1 691 435.1 689.1C430.2 687.3 424.3 686.4 418.9 685.1C413.5 683.7 408.1 682.7 402.7 680.9C397.3 679.1 391.9 675.7 386.5 674.1C381.1 672.6 375.7 673 370.3 671.9C364.9 670.7 360 669.4 354.1 667.2C348.2 665.1 340.6 660.9 335.2 659C329.8 657.2 326.6 657.2 321.7 656.3C316.8 655.4 310.4 655.1 305.5 653.5C300.6 651.9 296.5 649.8 292 646.7C287.5 643.5 282.6 638.6 278.5 634.5C274.4 630.5 270.8 627.2 267.6 622.3C264.4 617.3 262.2 609.3 259.5 604.7C256.8 600.2 254.6 594.5 251.4 594.7C248.2 594.9 244.2 601.9 240.6 606C237 610.1 233 614.3 229.8 619.4C226.7 624.6 223.9 633.2 221.7 637C219.4 640.8 219 642.2 216.3 642.4C213.6 642.6 209.1 640.7 205.5 638.2C201.9 635.7 198.1 632.4 194.7 627.4C191.3 622.4 187.8 614.5 185.3 608.5C182.8 602.4 181.6 596.6 179.9 590.9C178.2 585.3 176.8 575.4 175.3 574.7C173.8 574 171.6 584.8 170.9 586.8Z" fill="rgba(0,0,255,0.15)"/>
<path d="M170.9 585.2C171.6 582.5 173.8 568.8 175.3 569C176.8 569.2 178.2 581 179.9 586.6C181.6 592.2 182.8 596.7 185.3 602.8C187.8 608.9 191.3 618 194.7 623C198.1 628 201.9 629.6 205.5 632.5C209.1 635.4 212.9 638.8 216.3 640.6C219.7 642.4 223.1 644 225.8 643.3C228.5 642.6 230 641.2 232.5 636.5C235 631.8 237.4 622.3 240.6 614.9C243.8 607.5 248.2 594.9 251.4 592C254.6 589.1 256.8 594.2 259.5 597.4C262.2 600.5 264.4 606.2 267.6 610.9C270.8 615.6 274.4 621.4 278.5 625.7C282.6 630 287.9 633.4 292 636.5C296.1 639.6 297.9 643.2 302.8 644.1C307.8 645 316.3 641.9 321.7 641.9C327.1 641.9 329.8 642.5 335.2 644.1C340.6 645.7 347.4 648.6 354.1 651.4C360.9 654.2 368.5 658.2 375.7 660.9C382.9 663.6 390.1 664.9 397.3 667.6C404.5 670.3 412.6 674.4 418.9 677.1C425.2 679.8 430.2 681.3 435.1 683.8C440.1 686.3 444.1 690.3 448.6 691.9C453.1 693.5 456.7 692.7 462.1 693.3C467.5 693.9 474.2 694.7 481 695.4C487.8 696.1 496.8 697 502.7 697.3C508.6 697.6 511.7 696.8 516.2 697.3C520.7 697.8 524.8 699.1 529.7 700C534.7 700.9 541 702.9 545.9 702.7C550.8 702.5 554 698.2 559.4 698.7C564.8 699.2 575.1 704.3 578.3 705.4" fill="none" stroke="#f00" class="cv"/>
<path d="M170.9 582.5C171.6 580.5 173.8 569.7 175.3 570.4C176.8 571.1 178.2 581 179.9 586.6C181.6 592.2 182.8 598 185.3 604.1C187.8 610.2 191.3 618 194.7 623C198.1 628 201.9 631.3 205.5 633.8C209.1 636.3 213.6 638.1 216.3 637.9C219 637.7 219.4 636.3 221.7 632.5C223.9 628.7 226.7 620.1 229.8 614.9C233 609.7 237 605.5 240.6 601.4C244.2 597.3 248.2 590.3 251.4 590.1C254.6 589.9 256.8 595.5 259.5 600.1C262.2 604.7 264.4 612.7 267.6 617.6C270.8 622.5 274.4 625.8 278.5 629.8C282.6 633.8 287.5 638.8 292 641.9C296.5 645 300.6 647.1 305.5 648.7C310.4 650.3 316.8 650.5 321.7 651.4C326.6 652.3 329.8 652.3 335.2 654.1C340.6 655.9 348.2 660.1 354.1 662.2C360 664.3 364.9 665.7 370.3 666.8C375.7 667.9 381.1 667.5 386.5 669C391.9 670.5 397.3 673.9 402.7 675.7C408.1 677.5 413.5 678.4 418.9 679.8C424.3 681.1 430.2 682 435.1 683.8C440.1 685.6 444.1 689.1 448.6 690.6C453.1 692.1 456.7 692 462.1 692.7C467.5 693.4 475.8 693.8 481 694.6C486.2 695.4 489.6 697.5 493.2 697.3C496.8 697.1 498.9 693.5 502.7 693.3C506.5 693.1 511.7 695.5 516.2 696C520.7 696.5 525.2 695.3 529.7 696C534.2 696.7 538.7 699.6 543.2 700C547.7 700.4 550.9 698.3 556.7 698.1C562.6 697.9 574.7 698.6 578.3 698.7" fill="none" stroke="#00f" class="cv"/>
</g>
<rect x="170.5" y="548.4" width="408.7" height="172.3" class="ax"/>
<path d="M258.7 720.7v-5M258.7 548.4v5M351.6 720.7v-5M351.6 548.4v5M444.5 720.7v-5M444.5 548.4v5M537.4 720.7v-5M537.4 548.4v5M170.5 668.4h5M579.2 668.4h-5M170.5 586.6h5M579.2 586.6h-5" class="tk"/>
<text x="258.7" y="744" class="tl" text-anchor="middle">10</text>
<text x="351.6" y="744" class="tl" text-anchor="middle">20</text>
<text x="444.5" y="744" class="tl" text-anchor="middle">30</text>
<text x="537.4" y="744" class="tl" text-anchor="middle">40</text>
<text x="163.5" y="677.2" class="tl" text-anchor="end">10<tspan class="sup" dy="-9">-2</tspan></text>
<text x="374.9" y="766.2" class="lb" text-anchor="middle">f [Hz]</text>
<text transform="translate(123.1 634.5) rotate(-90)" class="lb" text-anchor="middle">PSD [<tspan class="mu">μ</tspan>V<tspan class="sup2" dy="-8">2</tspan><tspan dy="8">/Hz]</tspan></text>
<text x="374.9" y="540.2" class="tt" text-anchor="middle">Mean PSD | chs: P7 PO3 P3</text>
<rect x="483.1" y="611" width="88" height="48.6" class="lg"/>
<rect x="487.6" y="616" width="29.3" height="15.8" fill="#fdd8dc"/>
<rect x="487.6" y="637.8" width="29.3" height="16" fill="#d9d9fb"/>
<text x="520.6" y="631.4" class="lt">C</text>
<text x="520.6" y="652.6" class="lt">POFF</text>
<clipPath id="pc12"><rect x="652.2" y="548.4" width="408.7" height="172.3"/></clipPath>
<line x1="740.4" y1="548.4" x2="740.4" y2="720.7" class="gr"/>
<line x1="833.3" y1="548.4" x2="833.3" y2="720.7" class="gr"/>
<line x1="926.2" y1="548.4" x2="926.2" y2="720.7" class="gr"/>
<line x1="1019.1" y1="548.4" x2="1019.1" y2="720.7" class="gr"/>
<line x1="652.2" y1="674.9" x2="1060.9" y2="674.9" class="gr"/>
<line x1="652.2" y1="592" x2="1060.9" y2="592" class="dt"/>
<line x1="684.7" y1="548.4" x2="684.7" y2="720.7" class="ds"/>
<line x1="721.9" y1="548.4" x2="721.9" y2="720.7" class="ds"/>
<line x1="768.3" y1="548.4" x2="768.3" y2="720.7" class="ds"/>
<text x="668.9" y="566.2" class="gk">δ</text>
<text x="706.1" y="566.2" class="gk">θ</text>
<text x="746" y="566.2" class="gk">α</text>
<text x="854.7" y="566.2" class="gk">β</text>
<text x="1024.7" y="566.2" class="gk">γ</text>
<g clip-path="url(#pc12)">
<path d="M652.3 578.2C652.9 575.9 654.3 563.8 655.8 564.7C657.3 565.6 659.2 577.3 661.2 583.6C663.2 589.9 665.8 597 668 602.4C670.2 607.8 671.8 611.4 674.7 615.9C677.6 620.4 681.7 625.8 685.5 629.4C689.3 633 694.3 635.4 697.7 637.4C701.1 639.4 702.9 642.4 705.8 641.5C708.7 640.6 711.8 637.6 715.2 632C718.6 626.3 723.1 613.5 726 607.6C728.9 601.7 730.1 596.8 732.8 596.8C735.5 596.8 738.9 603 742.3 607.5C745.7 612.1 749.1 618.9 753.1 623.8C757.1 628.7 762.1 632.7 766.6 637.2C771.1 641.6 775.1 648.2 780.1 650.7C785.1 653.2 791.8 652 796.3 651.9C800.8 651.9 800.8 649.5 807.1 650.6C813.4 651.7 826 655.9 834.1 658.6C842.2 661.3 848.5 664.4 855.7 666.6C862.9 668.8 870.1 670.2 877.3 671.9C884.5 673.7 892.6 675.1 898.9 677.1C905.2 679.1 909.7 681.6 915.1 683.9C920.5 686.1 925.9 689.1 931.3 690.6C936.7 692.1 942.2 692 947.6 692.6C953 693.3 958.3 694.6 963.7 694.5C969.1 694.3 973.2 691.1 980 691.7C986.8 692.4 997.1 697.3 1004.3 698.4C1011.5 699.5 1014 697.8 1023.2 698.3C1032.4 698.8 1053.5 700.9 1059.6 701.4L1059.6 713.2C1053.5 712.6 1032.4 710.4 1023.2 709.9C1014 709.3 1011.5 710.9 1004.3 709.8C997.1 708.6 986.8 703.6 980 702.9C973.2 702.2 969.1 705.4 963.7 705.5C958.3 705.6 953 704.2 947.6 703.6C942.2 702.9 936.7 702.9 931.3 701.4C925.9 699.9 920.5 696.8 915.1 694.5C909.7 692.2 905.2 689.7 898.9 687.7C892.6 685.6 884.5 684.1 877.3 682.3C870.1 680.5 862.9 679.1 855.7 676.8C848.5 674.5 842.2 671.3 834.1 668.6C826 665.9 813.4 661.6 807.1 660.4C800.8 659.2 800.8 661.7 796.3 661.7C791.8 661.6 785.1 662.8 780.1 660.3C775.1 657.8 771.1 651.2 766.6 646.6C762.1 642.1 757.1 638.2 753.1 633.2C749.1 628.2 745.7 621.4 742.3 616.9C738.9 612.3 735.5 606 732.8 606C730.1 606 728.9 611 726 616.8C723.1 622.6 718.6 635.4 715.2 641C711.8 646.7 708.7 649.6 705.8 650.5C702.9 651.4 701.1 648.4 697.7 646.4C694.3 644.3 689.3 641.8 685.5 638.2C681.7 634.6 677.6 629.2 674.7 624.7C671.8 620.2 670.2 616.6 668 611.2C665.8 605.8 663.2 598.5 661.2 592.2C659.2 585.9 657.3 574.2 655.8 573.3C654.3 572.4 652.9 584.6 652.3 586.8Z" fill="rgba(255,0,0,0.15)"/>
<path d="M652.3 576.9C652.9 575.8 654.3 568.1 655.8 570.1C657.3 572.1 659.2 582.7 661.2 589C663.2 595.3 665.8 602.9 668 607.8C670.2 612.8 671.8 614.8 674.7 618.6C677.6 622.4 681.7 627.9 685.5 630.8C689.3 633.7 694.6 636.8 697.7 636.1C700.9 635.4 701.5 630.7 704.4 626.6C707.3 622.5 711.6 616.5 715.2 611.8C718.8 607 723.1 601.7 726 598.2C728.9 594.7 730.6 590.9 732.8 590.9C735.1 590.9 737 593.8 739.5 598.2C742 602.5 744.4 611 747.6 617C750.8 623.1 754 628.9 758.5 634.5C763 640.1 769.3 647.6 774.7 650.7C780.1 653.9 785.1 652.5 790.9 653.4C796.8 654.2 803.5 654.4 809.8 656C816.1 657.5 822 660.6 828.7 662.6C835.5 664.6 843.6 666.6 850.3 667.9C857.1 669.2 863.8 669.4 869.2 670.5C874.6 671.7 878.2 673.7 882.7 674.6C887.2 675.5 890.8 674.7 896.2 675.8C901.6 676.9 909.7 679.6 915.1 681.2C920.5 682.7 924.1 684.2 928.6 685.2C933.1 686.2 935.3 686.8 942.1 687.3C948.9 687.8 961.5 688.4 969.2 688.3C976.9 688.1 982.7 685.9 988.1 686.3C993.5 686.6 998 690.6 1001.6 690.3C1005.2 690.1 1006.1 685 1009.7 684.9C1013.3 684.8 1017.8 688.8 1023.2 689.6C1028.6 690.5 1036 689.9 1042.1 690.2C1048.2 690.5 1056.7 691.2 1059.6 691.4L1059.6 703.2C1056.7 703 1048.2 702.2 1042.1 701.8C1036 701.5 1028.6 702.1 1023.2 701.2C1017.8 700.2 1013.3 696.2 1009.7 696.3C1006.1 696.4 1005.2 701.5 1001.6 701.7C998 701.9 993.5 697.9 988.1 697.5C982.7 697.1 976.9 699.2 969.2 699.3C961.5 699.4 948.9 698.7 942.1 698.1C935.3 697.6 933.1 697 928.6 696C924.1 694.9 920.5 693.4 915.1 691.8C909.7 690.2 901.6 687.5 896.2 686.4C890.8 685.2 887.2 685.9 882.7 685C878.2 684.1 874.6 682 869.2 680.9C863.8 679.7 857.1 679.5 850.3 678.1C843.6 676.7 835.5 674.6 828.7 672.6C822 670.5 816.1 667.4 809.8 665.8C803.5 664.2 796.8 664 790.9 663C785.1 662.1 780.1 663.5 774.7 660.3C769.3 657.1 763 649.6 758.5 643.9C754 638.3 750.8 632.5 747.6 626.4C744.4 620.3 742 611.8 739.5 607.4C737 603.1 735.1 600.1 732.8 600.1C730.6 600.1 728.9 603.9 726 607.4C723.1 610.8 718.8 616.1 715.2 620.8C711.6 625.5 707.3 631.6 704.4 635.6C701.5 639.6 700.9 644.4 697.7 645.1C694.6 645.7 689.3 642.6 685.5 639.6C681.7 636.7 677.6 631.2 674.7 627.4C671.8 623.5 670.2 621.5 668 616.6C665.8 611.6 663.2 603.9 661.2 597.6C659.2 591.3 657.3 580.7 655.8 578.7C654.3 576.7 652.9 584.4 652.3 585.5Z" fill="rgba(0,0,255,0.15)"/>
<path d="M652.3 582.5C652.9 580.2 654.3 568.1 655.8 569C657.3 569.9 659.2 581.6 661.2 587.9C663.2 594.2 665.8 601.4 668 606.8C670.2 612.2 671.8 615.8 674.7 620.3C677.6 624.8 681.7 630.2 685.5 633.8C689.3 637.4 694.3 639.9 697.7 641.9C701.1 643.9 702.9 646.9 705.8 646C708.7 645.1 711.8 642.1 715.2 636.5C718.6 630.9 723.1 618 726 612.2C728.9 606.3 730.1 601.4 732.8 601.4C735.5 601.4 738.9 607.7 742.3 612.2C745.7 616.7 749.1 623.5 753.1 628.5C757.1 633.5 762.1 637.4 766.6 641.9C771.1 646.4 775.1 653 780.1 655.5C785.1 658 791.8 656.8 796.3 656.8C800.8 656.8 800.8 654.4 807.1 655.5C813.4 656.6 826 660.9 834.1 663.6C842.2 666.3 848.5 669.4 855.7 671.7C862.9 673.9 870.1 675.3 877.3 677.1C884.5 678.9 892.6 680.4 898.9 682.4C905.2 684.4 909.7 686.9 915.1 689.2C920.5 691.5 925.9 694.5 931.3 696C936.7 697.5 942.2 697.4 947.6 698.1C953 698.8 958.3 700.1 963.7 700C969.1 699.9 973.2 696.6 980 697.3C986.8 698 997.1 703 1004.3 704.1C1011.5 705.2 1014 703.6 1023.2 704.1C1032.4 704.6 1053.5 706.8 1059.6 707.3" fill="none" stroke="#f00" class="cv"/>
<path d="M652.3 581.2C652.9 580.1 654.3 572.4 655.8 574.4C657.3 576.4 659.2 587 661.2 593.3C663.2 599.6 665.8 607.2 668 612.2C670.2 617.1 671.8 619.2 674.7 623C677.6 626.8 681.7 632.3 685.5 635.2C689.3 638.1 694.6 641.3 697.7 640.6C700.9 639.9 701.5 635.2 704.4 631.1C707.3 627 711.6 621 715.2 616.3C718.8 611.6 723.1 606.3 726 602.8C728.9 599.3 730.6 595.5 732.8 595.5C735.1 595.5 737 598.4 739.5 602.8C742 607.2 744.4 615.6 747.6 621.7C750.8 627.8 754 633.6 758.5 639.2C763 644.8 769.3 652.3 774.7 655.5C780.1 658.7 785.1 657.3 790.9 658.2C796.8 659.1 803.5 659.3 809.8 660.9C816.1 662.5 822 665.6 828.7 667.6C835.5 669.6 843.6 671.6 850.3 673C857.1 674.4 863.8 674.6 869.2 675.7C874.6 676.8 878.2 678.9 882.7 679.8C887.2 680.7 890.8 680 896.2 681.1C901.6 682.2 909.7 684.9 915.1 686.5C920.5 688.1 924.1 689.6 928.6 690.6C933.1 691.6 935.3 692.2 942.1 692.7C948.9 693.2 961.5 693.9 969.2 693.8C976.9 693.7 982.7 691.5 988.1 691.9C993.5 692.3 998 696.2 1001.6 696C1005.2 695.8 1006.1 690.7 1009.7 690.6C1013.3 690.5 1017.8 694.5 1023.2 695.4C1028.6 696.3 1036 695.7 1042.1 696C1048.2 696.3 1056.7 697.1 1059.6 697.3" fill="none" stroke="#00f" class="cv"/>
</g>
<rect x="652.2" y="548.4" width="408.7" height="172.3" class="ax"/>
<path d="M740.4 720.7v-5M740.4 548.4v5M833.3 720.7v-5M833.3 548.4v5M926.2 720.7v-5M926.2 548.4v5M1019.1 720.7v-5M1019.1 548.4v5M652.2 674.9h5M1060.9 674.9h-5M652.2 592h5M1060.9 592h-5" class="tk"/>
<text x="740.4" y="744" class="tl" text-anchor="middle">10</text>
<text x="833.3" y="744" class="tl" text-anchor="middle">20</text>
<text x="926.2" y="744" class="tl" text-anchor="middle">30</text>
<text x="1019.1" y="744" class="tl" text-anchor="middle">40</text>
<text x="645.2" y="683.7" class="tl" text-anchor="end">10<tspan class="sup" dy="-9">-2</tspan></text>
<text x="856.6" y="766.2" class="lb" text-anchor="middle">f [Hz]</text>
<text transform="translate(604.8 634.5) rotate(-90)" class="lb" text-anchor="middle">PSD [<tspan class="mu">μ</tspan>V<tspan class="sup2" dy="-8">2</tspan><tspan dy="8">/Hz]</tspan></text>
<text x="856.6" y="540.2" class="tt" text-anchor="middle">Mean PSD | chs: OZ O1 O2</text>
<rect x="964.8" y="611" width="88" height="48.6" class="lg"/>
<rect x="969.3" y="616" width="29.3" height="15.8" fill="#fdd8dc"/>
<rect x="969.3" y="637.8" width="29.3" height="16" fill="#d9d9fb"/>
<text x="1002.3" y="631.4" class="lt">C</text>
<text x="1002.3" y="652.6" class="lt">POFF</text>
<clipPath id="pc22"><rect x="1133.2" y="548.4" width="408.7" height="172.3"/></clipPath>
<line x1="1221.4" y1="548.4" x2="1221.4" y2="720.7" class="gr"/>
<line x1="1314.3" y1="548.4" x2="1314.3" y2="720.7" class="gr"/>
<line x1="1407.2" y1="548.4" x2="1407.2" y2="720.7" class="gr"/>
<line x1="1500.1" y1="548.4" x2="1500.1" y2="720.7" class="gr"/>
<line x1="1133.2" y1="668.4" x2="1541.9" y2="668.4" class="gr"/>
<line x1="1133.2" y1="590.1" x2="1541.9" y2="590.1" class="dt"/>
<line x1="1165.7" y1="548.4" x2="1165.7" y2="720.7" class="ds"/>
<line x1="1202.9" y1="548.4" x2="1202.9" y2="720.7" class="ds"/>
<line x1="1249.3" y1="548.4" x2="1249.3" y2="720.7" class="ds"/>
<text x="1149.9" y="566.2" class="gk">δ</text>
<text x="1187.1" y="566.2" class="gk">θ</text>
<text x="1227" y="566.2" class="gk">α</text>
<text x="1335.7" y="566.2" class="gk">β</text>
<text x="1505.7" y="566.2" class="gk">γ</text>
<g clip-path="url(#pc22)">
<path d="M1133.2 571.5C1133.9 570.4 1135.8 562.9 1137.3 564.7C1138.8 566.5 1140 576.2 1141.9 582.3C1143.8 588.3 1146.1 595.3 1148.6 601.1C1151.1 607 1153.6 612.6 1156.7 617.3C1159.8 622 1163.9 626.2 1167.5 629.4C1171.1 632.5 1174.7 634.6 1178.3 636.1C1181.9 637.7 1186 639.7 1189.1 638.8C1192.3 637.9 1194.5 635.4 1197.2 630.6C1199.9 625.9 1202.5 617.3 1205.3 610.3C1208.1 603.3 1210.8 590.9 1214 588.7C1217.2 586.4 1221.2 593.2 1224.2 596.7C1227.2 600.3 1229.1 604.8 1232.3 610.2C1235.5 615.6 1239.1 624.1 1243.2 629.1C1247.3 634 1251.8 637.1 1256.7 639.8C1261.7 642.5 1268.4 644.9 1272.9 645.2C1277.4 645.4 1279.2 641.3 1283.7 641.1C1288.2 640.9 1293.6 642.2 1299.9 643.7C1306.2 645.3 1314.3 648 1321.5 650.5C1328.7 652.9 1336.4 655.8 1343.1 658.5C1349.9 661.2 1355.7 664.1 1362 666.5C1368.3 668.9 1375.1 670.7 1380.9 673.1C1386.8 675.6 1391.7 678.7 1397.1 681.2C1402.5 683.6 1407.4 686.3 1413.3 687.9C1419.2 689.5 1426 689.9 1432.3 690.5C1438.6 691.2 1444.3 691.8 1451.1 691.8C1457.8 691.7 1466 689.7 1472.8 690.4C1479.6 691 1485.9 694.4 1491.7 695.7C1497.5 697 1502.5 697.7 1507.9 698.3C1513.3 699 1518.7 699.4 1524.1 699.6C1529.5 699.8 1537.6 699.5 1540.3 699.5L1540.3 711.3C1537.6 711.3 1529.5 711.5 1524.1 711.2C1518.7 711 1513.3 710.6 1507.9 709.9C1502.5 709.2 1497.5 708.5 1491.7 707.1C1485.9 705.7 1479.6 702.3 1472.8 701.6C1466 700.9 1457.8 702.9 1451.1 702.8C1444.3 702.8 1438.6 702.2 1432.3 701.5C1426 700.8 1419.2 700.3 1413.3 698.7C1407.4 697.1 1402.5 694.3 1397.1 691.8C1391.7 689.3 1386.8 686.2 1380.9 683.7C1375.1 681.2 1368.3 679.4 1362 676.9C1355.7 674.4 1349.9 671.4 1343.1 668.7C1336.4 666 1328.7 663 1321.5 660.5C1314.3 658 1306.2 655.3 1299.9 653.7C1293.6 652 1288.2 650.7 1283.7 650.9C1279.2 651.1 1277.4 655.1 1272.9 654.8C1268.4 654.6 1261.7 652.1 1256.7 649.4C1251.8 646.7 1247.3 643.5 1243.2 638.5C1239.1 633.6 1235.5 625 1232.3 619.6C1229.1 614.2 1227.2 609.7 1224.2 606.1C1221.2 602.4 1217.2 595.7 1214 597.9C1210.8 600.2 1208.1 612.5 1205.3 619.5C1202.5 626.5 1199.9 635 1197.2 639.8C1194.5 644.5 1192.3 646.9 1189.1 647.8C1186 648.7 1181.9 646.7 1178.3 645.1C1174.7 643.5 1171.1 641.4 1167.5 638.2C1163.9 635.1 1159.8 630.8 1156.7 626.1C1153.6 621.4 1151.1 615.7 1148.6 609.9C1146.1 604 1143.8 597 1141.9 590.9C1140 584.8 1138.8 575.1 1137.3 573.3C1135.8 571.5 1133.9 579 1133.2 580.1Z" fill="rgba(255,0,0,0.15)"/>
<path d="M1133.2 578.2C1133.9 576.6 1135.8 567.9 1137.3 568.8C1138.8 569.7 1140 578 1141.9 583.6C1143.8 589.2 1146.1 596.6 1148.6 602.4C1151.1 608.3 1153.6 613.9 1156.7 618.6C1159.8 623.3 1163.9 628.2 1167.5 630.8C1171.1 633.4 1175.6 634.2 1178.3 634.2C1181 634.2 1181 634.2 1183.7 630.7C1186.4 627.2 1190.9 618.5 1194.5 613.1C1198.1 607.6 1202 602.6 1205.3 598.2C1208.5 593.8 1211.3 587 1214 586.6C1216.7 586.1 1218.9 591.1 1221.5 595.5C1224.1 599.8 1226.4 607.3 1229.6 612.9C1232.8 618.5 1236.4 624.6 1240.5 629.1C1244.6 633.6 1249 637.4 1254 639.8C1259 642.3 1264.3 642.5 1270.2 643.9C1276.1 645.2 1283.7 646.3 1289.1 647.9C1294.5 649.5 1298.1 651.2 1302.6 653.2C1307.1 655.2 1311.2 658.3 1316.1 659.9C1321.1 661.4 1326.9 661.4 1332.3 662.5C1337.7 663.6 1343.1 665.4 1348.5 666.6C1353.9 667.8 1359.3 668.3 1364.7 669.7C1370.1 671.1 1375.5 673.3 1380.9 675C1386.3 676.7 1392.6 678.2 1397.1 679.9C1401.6 681.6 1403.4 684.4 1407.9 685.2C1412.4 686 1418.7 684.1 1424.1 684.6C1429.5 685 1434.5 687.1 1440.3 687.8C1446.1 688.5 1454.1 689.5 1459.1 689C1464 688.6 1465.9 684.8 1470 685C1474.1 685.2 1478.5 689.7 1483.5 690.3C1488.5 691 1493.9 688.7 1499.8 688.9C1505.7 689.1 1512 691.1 1518.7 691.5C1525.5 691.9 1536.7 691.4 1540.3 691.4L1540.3 703.2C1536.7 703.2 1525.5 703.6 1518.7 703.1C1512 702.6 1505.7 700.6 1499.8 700.3C1493.9 700.1 1488.5 702.4 1483.5 701.7C1478.5 701 1474.1 696.5 1470 696.2C1465.9 696 1464 699.7 1459.1 700.2C1454.1 700.6 1446.1 699.6 1440.3 698.8C1434.5 698 1429.5 695.9 1424.1 695.4C1418.7 695 1412.4 696.8 1407.9 696C1403.4 695.2 1401.6 692.3 1397.1 690.5C1392.6 688.8 1386.3 687.3 1380.9 685.6C1375.5 683.8 1370.1 681.6 1364.7 680.1C1359.3 678.7 1353.9 678.1 1348.5 676.8C1343.1 675.6 1337.7 673.8 1332.3 672.7C1326.9 671.5 1321.1 671.5 1316.1 669.9C1311.2 668.3 1307.1 665.2 1302.6 663.2C1298.1 661.1 1294.5 659.3 1289.1 657.7C1283.7 656.1 1276.1 654.9 1270.2 653.5C1264.3 652.1 1259 651.9 1254 649.4C1249 646.9 1244.6 643 1240.5 638.5C1236.4 634 1232.8 627.9 1229.6 622.3C1226.4 616.6 1224.1 609.2 1221.5 604.7C1218.9 600.3 1216.7 595.4 1214 595.8C1211.3 596.3 1208.5 603 1205.3 607.4C1202 611.8 1198.1 616.8 1194.5 622.1C1190.9 627.5 1186.4 636.2 1183.7 639.7C1181 643.2 1181 643.2 1178.3 643.2C1175.6 643.2 1171.1 642.3 1167.5 639.6C1163.9 637 1159.8 632.1 1156.7 627.4C1153.6 622.6 1151.1 617 1148.6 611.2C1146.1 605.3 1143.8 597.9 1141.9 592.2C1140 586.6 1138.8 578.3 1137.3 577.4C1135.8 576.5 1133.9 585.2 1133.2 586.8Z" fill="rgba(0,0,255,0.15)"/>
<path d="M1133.2 575.8C1133.9 574.7 1135.8 567.2 1137.3 569C1138.8 570.8 1140 580.5 1141.9 586.6C1143.8 592.7 1146.1 599.6 1148.6 605.5C1151.1 611.4 1153.6 617 1156.7 621.7C1159.8 626.4 1163.9 630.6 1167.5 633.8C1171.1 636.9 1174.7 639 1178.3 640.6C1181.9 642.2 1186 644.2 1189.1 643.3C1192.3 642.4 1194.5 639.9 1197.2 635.2C1199.9 630.5 1202.5 621.9 1205.3 614.9C1208.1 607.9 1210.8 595.5 1214 593.3C1217.2 591 1221.2 597.8 1224.2 601.4C1227.2 605 1229.1 609.5 1232.3 614.9C1235.5 620.3 1239.1 628.8 1243.2 633.8C1247.3 638.8 1251.8 641.9 1256.7 644.6C1261.7 647.3 1268.4 649.8 1272.9 650C1277.4 650.2 1279.2 646.2 1283.7 646C1288.2 645.8 1293.6 647.1 1299.9 648.7C1306.2 650.3 1314.3 653 1321.5 655.5C1328.7 658 1336.4 660.9 1343.1 663.6C1349.9 666.3 1355.7 669.2 1362 671.7C1368.3 674.2 1375.1 675.9 1380.9 678.4C1386.8 680.9 1391.7 684 1397.1 686.5C1402.5 689 1407.4 691.7 1413.3 693.3C1419.2 694.9 1426 695.3 1432.3 696C1438.6 696.7 1444.3 697.3 1451.1 697.3C1457.8 697.3 1466 695.3 1472.8 696C1479.6 696.7 1485.9 700 1491.7 701.4C1497.5 702.8 1502.5 703.4 1507.9 704.1C1513.3 704.8 1518.7 705.2 1524.1 705.4C1529.5 705.6 1537.6 705.4 1540.3 705.4" fill="none" stroke="#f00" class="cv"/>
<path d="M1133.2 582.5C1133.9 580.9 1135.8 572.2 1137.3 573.1C1138.8 574 1140 582.3 1141.9 587.9C1143.8 593.5 1146.1 600.9 1148.6 606.8C1151.1 612.6 1153.6 618.3 1156.7 623C1159.8 627.7 1163.9 632.6 1167.5 635.2C1171.1 637.8 1175.6 638.7 1178.3 638.7C1181 638.7 1181 638.7 1183.7 635.2C1186.4 631.7 1190.9 623 1194.5 617.6C1198.1 612.2 1202 607.2 1205.3 602.8C1208.5 598.4 1211.3 591.6 1214 591.2C1216.7 590.8 1218.9 595.7 1221.5 600.1C1224.1 604.5 1226.4 612 1229.6 617.6C1232.8 623.2 1236.4 629.3 1240.5 633.8C1244.6 638.3 1249 642.1 1254 644.6C1259 647.1 1264.3 647.3 1270.2 648.7C1276.1 650.1 1283.7 651.2 1289.1 652.8C1294.5 654.4 1298.1 656.2 1302.6 658.2C1307.1 660.2 1311.2 663.3 1316.1 664.9C1321.1 666.5 1326.9 666.5 1332.3 667.6C1337.7 668.7 1343.1 670.5 1348.5 671.7C1353.9 672.9 1359.3 673.5 1364.7 674.9C1370.1 676.3 1375.5 678.6 1380.9 680.3C1386.3 682 1392.6 683.5 1397.1 685.2C1401.6 686.9 1403.4 689.8 1407.9 690.6C1412.4 691.4 1418.7 689.5 1424.1 690C1429.5 690.5 1434.5 692.5 1440.3 693.3C1446.1 694.1 1454.1 695 1459.1 694.6C1464 694.1 1465.9 690.4 1470 690.6C1474.1 690.8 1478.5 695.3 1483.5 696C1488.5 696.7 1493.9 694.4 1499.8 694.6C1505.7 694.8 1512 696.8 1518.7 697.3C1525.5 697.8 1536.7 697.3 1540.3 697.3" fill="none" stroke="#00f" class="cv"/>
</g>
<rect x="1133.2" y="548.4" width="408.7" height="172.3" class="ax"/>
<path d="M1221.4 720.7v-5M1221.4 548.4v5M1314.3 720.7v-5M1314.3 548.4v5M1407.2 720.7v-5M1407.2 548.4v5M1500.1 720.7v-5M1500.1 548.4v5M1133.2 668.4h5M1541.9 668.4h-5M1133.2 590.1h5M1541.9 590.1h-5" class="tk"/>
<text x="1221.4" y="744" class="tl" text-anchor="middle">10</text>
<text x="1314.3" y="744" class="tl" text-anchor="middle">20</text>
<text x="1407.2" y="744" class="tl" text-anchor="middle">30</text>
<text x="1500.1" y="744" class="tl" text-anchor="middle">40</text>
<text x="1126.2" y="677.2" class="tl" text-anchor="end">10<tspan class="sup" dy="-9">-2</tspan></text>
<text x="1337.5" y="766.2" class="lb" text-anchor="middle">f [Hz]</text>
<text transform="translate(1085.8 634.5) rotate(-90)" class="lb" text-anchor="middle">PSD [<tspan class="mu">μ</tspan>V<tspan class="sup2" dy="-8">2</tspan><tspan dy="8">/Hz]</tspan></text>
<text x="1337.5" y="540.2" class="tt" text-anchor="middle">Mean PSD | chs: P8 PO4 P4</text>
<rect x="1445.8" y="611" width="88" height="48.6" class="lg"/>
<rect x="1450.3" y="616" width="29.3" height="15.8" fill="#fdd8dc"/>
<rect x="1450.3" y="637.8" width="29.3" height="16" fill="#d9d9fb"/>
<text x="1483.3" y="631.4" class="lt">C</text>
<text x="1483.3" y="652.6" class="lt">POFF</text>
<line x1="552.4" y1="1373.2" x2="1256" y2="1373.2" class="grb"/>
<line x1="552.4" y1="1282.8" x2="1256" y2="1282.8" class="grb"/>
<line x1="552.4" y1="1192.5" x2="1256" y2="1192.5" class="grb"/>
<line x1="552.4" y1="1102.2" x2="1256" y2="1102.2" class="grb"/>
<line x1="552.4" y1="1011.8" x2="1256" y2="1011.8" class="grb"/>
<line x1="552.4" y1="921.5" x2="1256" y2="921.5" class="grb"/>
<line x1="786.8" y1="849.2" x2="786.8" y2="1398.6" class="grb"/>
<line x1="1021.8" y1="849.2" x2="1021.8" y2="1398.6" class="grb"/>
<line x1="810.5" y1="1051.3" x2="998" y2="1051.3" stroke="#000" stroke-width="2"/>
<path d="M904.6 1003v11.6M899.6 1005.9l10 5.8M899.6 1011.7l10-5.8" stroke="#000" stroke-width="2.2"/>
<text x="923" y="1018.1" style="font-size:26.6px;fill:#000">p=0.049</text>
<path d="M822 1102.6C822.9 1103.6 824.3 1106.2 827.1 1108.4C829.9 1110.6 834.9 1113.1 838.8 1115.9C842.7 1118.7 847.2 1121.9 850.5 1125.1C853.8 1128.3 856 1131.6 858.8 1135.2C861.6 1138.8 863.6 1143 867.2 1146.9C870.8 1150.8 875.6 1154.1 880.6 1158.6C885.6 1163 892 1168.6 897.3 1173.6C902.6 1178.6 907.6 1183.4 912.3 1188.7C917 1194 921.8 1200.4 925.7 1205.4C929.6 1210.4 933.5 1214.9 935.7 1218.8C937.9 1222.7 939.1 1225.7 939.1 1228.8C939.1 1231.9 938.2 1233.8 935.7 1237.2C933.2 1240.6 928.5 1245.3 924 1248.9C919.5 1252.5 915.7 1255.3 909 1258.9C902.3 1262.5 892.3 1267 883.9 1270.6C875.5 1274.2 866.6 1277.7 858.8 1280.6C851 1283.5 842.4 1286.2 837.1 1288.2C831.8 1290.2 829.5 1290.8 827.1 1292.3C824.7 1293.8 823.4 1296.6 822.6 1297.4Z" fill="rgba(255,0,0,0.2)" stroke="#333" stroke-width="0.8"/>
<path d="M1057 1087.5C1058.1 1088.3 1060.1 1090.5 1063.7 1092.5C1067.3 1094.5 1074.3 1097.1 1078.8 1099.2C1083.3 1101.3 1087.3 1102.9 1090.5 1105.1C1093.7 1107.3 1097.7 1110.4 1098 1112.6C1098.3 1114.8 1095.6 1116.1 1092.1 1118.5C1088.6 1120.9 1081.5 1123.8 1077.1 1126.8C1072.6 1129.8 1068.1 1133.2 1065.4 1136.8C1062.8 1140.4 1061.2 1144.7 1061.2 1148.6C1061.2 1152.5 1062.8 1155.8 1065.4 1160.3C1068.1 1164.8 1072.4 1170.6 1077.1 1175.3C1081.8 1180 1087.1 1184.2 1093.8 1188.7C1100.5 1193.2 1109.4 1197.9 1117.2 1202.1C1125 1206.3 1133.3 1209.9 1140.6 1213.8C1147.8 1217.7 1155.5 1221.9 1160.7 1225.5C1165.9 1229.1 1169.4 1232.2 1171.6 1235.5C1173.8 1238.8 1174.2 1241.9 1174.1 1245.5C1173.9 1249.1 1173.5 1253.3 1170.7 1257.2C1167.9 1261.1 1163 1265.3 1157.4 1268.9C1151.8 1272.5 1144.3 1275.7 1137.3 1279C1130.3 1282.3 1122.3 1285.9 1115.6 1289C1108.9 1292.1 1101.5 1294.9 1097.2 1297.4C1092.9 1299.9 1091.3 1301.2 1089.6 1304C1087.9 1306.8 1087.2 1310.8 1087.1 1314.1C1087 1317.4 1087.4 1321 1088.8 1324.1C1090.2 1327.2 1094.2 1330.3 1095.5 1332.5C1096.8 1334.7 1097.1 1336 1096.3 1337.5C1095.5 1339 1094.2 1340.3 1090.5 1341.7C1086.8 1343.1 1078.3 1344.5 1073.8 1345.8C1069.3 1347 1066.5 1347.9 1063.7 1349.2C1060.9 1350.5 1058.1 1352.7 1057 1353.4Z" fill="rgba(0,0,255,0.2)" stroke="#333" stroke-width="0.8"/>
<rect x="751.5" y="1181.2" width="70.2" height="60.1" fill="none" stroke="#000" stroke-width="2.4"/><line x1="751.5" y1="1224.1" x2="821.7" y2="1224.1" stroke="#000" stroke-width="2.4"/><line x1="769.4" y1="1137.2" x2="804.5" y2="1137.2" stroke="#000" stroke-width="2.4"/><line x1="769.4" y1="1271.4" x2="804.5" y2="1271.4" stroke="#000" stroke-width="2.4"/><line x1="786.6" y1="1181.2" x2="786.6" y2="1137.2" stroke="#000" stroke-width="2.4" stroke-dasharray="10 7"/><line x1="786.6" y1="1241.3" x2="786.6" y2="1271.4" stroke="#000" stroke-width="2.4" stroke-dasharray="10 7"/>
<rect x="986.5" y="1225.5" width="70.5" height="43.4" fill="none" stroke="#000" stroke-width="2.4"/><line x1="986.5" y1="1250" x2="1057" y2="1250" stroke="#000" stroke-width="2.4"/><line x1="1004.4" y1="1191.5" x2="1038.6" y2="1191.5" stroke="#000" stroke-width="2.4"/><line x1="1004.4" y1="1313.6" x2="1038.6" y2="1313.6" stroke="#000" stroke-width="2.4"/><line x1="1021.4" y1="1225.5" x2="1021.4" y2="1191.5" stroke="#000" stroke-width="2.4" stroke-dasharray="10 7"/><line x1="1021.4" y1="1268.9" x2="1021.4" y2="1313.6" stroke="#000" stroke-width="2.4" stroke-dasharray="10 7"/>
<circle cx="789.4" cy="1136.8" r="5" fill="#f00"/>
<circle cx="784.4" cy="1180" r="5" fill="#f00"/>
<circle cx="789.4" cy="1181.7" r="5" fill="#f00"/>
<circle cx="792" cy="1204.1" r="5" fill="#f00"/>
<circle cx="781.9" cy="1220.1" r="5" fill="#f00"/>
<circle cx="777.2" cy="1224.1" r="5" fill="#f00"/>
<circle cx="792.3" cy="1225.5" r="5" fill="#f00"/>
<circle cx="791.1" cy="1228" r="5" fill="#f00"/>
<circle cx="787.8" cy="1239.7" r="5" fill="#f00"/>
<circle cx="796.6" cy="1247.7" r="5" fill="#f00"/>
<circle cx="784.9" cy="1259.7" r="5" fill="#f00"/>
<circle cx="776.6" cy="1271.1" r="5" fill="#f00"/>
<circle cx="1030.3" cy="1115.1" r="5" fill="#00f"/>
<circle cx="1026.1" cy="1192" r="5" fill="#00f"/>
<circle cx="1010.2" cy="1223" r="5" fill="#00f"/>
<circle cx="1014.4" cy="1226.3" r="5" fill="#00f"/>
<circle cx="1018.2" cy="1231.3" r="5" fill="#00f"/>
<circle cx="1022.8" cy="1231.3" r="5" fill="#00f"/>
<circle cx="1017.2" cy="1233.8" r="5" fill="#00f"/>
<circle cx="1032.8" cy="1238.8" r="5" fill="#00f"/>
<circle cx="1020.3" cy="1259.7" r="5" fill="#00f"/>
<circle cx="1013.6" cy="1262.2" r="5" fill="#00f"/>
<circle cx="1023.6" cy="1265.9" r="5" fill="#00f"/>
<circle cx="1013.6" cy="1269.8" r="5" fill="#00f"/>
<circle cx="1014.4" cy="1284.8" r="5" fill="#00f"/>
<circle cx="1031.1" cy="1313.2" r="5" fill="#00f"/>
<circle cx="1026.9" cy="1335.8" r="5" fill="#00f"/>
<rect x="552.4" y="849.2" width="703.6" height="549.4" fill="none" stroke="#262626" stroke-width="2.3"/>
<path d="M552.4 1373.2h8M1256 1373.2h-8M552.4 1282.8h8M1256 1282.8h-8M552.4 1192.5h8M1256 1192.5h-8M552.4 1102.2h8M1256 1102.2h-8M552.4 1011.8h8M1256 1011.8h-8M552.4 921.5h8M1256 921.5h-8M786.8 1398.6v-8M786.8 849.2v8M1021.8 1398.6v-8M1021.8 849.2v8" stroke="#262626" stroke-width="2.3" fill="none"/>
<text x="541.5" y="1382.8" text-anchor="end" style="font-size:26.4px;fill:#262626">6</text>
<text x="541.5" y="1292.4" text-anchor="end" style="font-size:26.4px;fill:#262626">8</text>
<text x="541.5" y="1202.1" text-anchor="end" style="font-size:26.4px;fill:#262626">10</text>
<text x="541.5" y="1111.8" text-anchor="end" style="font-size:26.4px;fill:#262626">12</text>
<text x="541.5" y="1021.4" text-anchor="end" style="font-size:26.4px;fill:#262626">14</text>
<text x="541.5" y="931.1" text-anchor="end" style="font-size:26.4px;fill:#262626">16</text>
<text x="786.8" y="1432.5" text-anchor="middle" style="font-size:26.4px;fill:#262626">C</text>
<text x="1021.8" y="1432.5" text-anchor="middle" style="font-size:26.4px;fill:#262626">POFF</text>
<text transform="translate(501 1123.5) rotate(-90)" text-anchor="middle" style="font-size:29.2px;fill:#262626">IAF [Hz]</text>
<text x="905" y="837.6" text-anchor="middle" style="font-size:33.3px;font-weight:bold;fill:#000">Individual Alpha Frequency</text>
<text x="36.5" y="832.1" class="pl">A</text>
<text x="265.5" y="1416.8" class="pl">B</text>
<defs><clipPath id="dc"><circle r="86.6"/></clipPath><filter id="bl" x="-10%" y="-10%" width="120%" height="120%"><feGaussianBlur stdDeviation="2.2"/></filter><linearGradient id="cbg" x1="0" y1="0" x2="0" y2="1"><stop offset="0.000" stop-color="#7a0403"/><stop offset="0.031" stop-color="#920b01"/><stop offset="0.062" stop-color="#a91601"/><stop offset="0.094" stop-color="#be2102"/><stop offset="0.125" stop-color="#d02f05"/><stop offset="0.156" stop-color="#df3f08"/><stop offset="0.188" stop-color="#eb500e"/><stop offset="0.219" stop-color="#f46617"/><stop offset="0.250" stop-color="#fb7e21"/><stop offset="0.281" stop-color="#fe962b"/><stop offset="0.312" stop-color="#fdac34"/><stop offset="0.344" stop-color="#f8be39"/><stop offset="0.375" stop-color="#eecf3a"/><stop offset="0.406" stop-color="#dfdf37"/><stop offset="0.438" stop-color="#cdec34"/><stop offset="0.469" stop-color="#b9f635"/><stop offset="0.500" stop-color="#a4fc3c"/><stop offset="0.531" stop-color="#8bff4b"/><stop offset="0.562" stop-color="#6dfe62"/><stop offset="0.594" stop-color="#4ef97d"/><stop offset="0.625" stop-color="#32f298"/><stop offset="0.656" stop-color="#1fe9af"/><stop offset="0.688" stop-color="#18ddc2"/><stop offset="0.719" stop-color="#1ccdd8"/><stop offset="0.750" stop-color="#28bceb"/><stop offset="0.781" stop-color="#37a8fa"/><stop offset="0.812" stop-color="#4294ff"/><stop offset="0.844" stop-color="#4680f6"/><stop offset="0.875" stop-color="#466be3"/><stop offset="0.906" stop-color="#4456c7"/><stop offset="0.938" stop-color="#4040a2"/><stop offset="0.969" stop-color="#392a73"/><stop offset="1.000" stop-color="#30123b"/></linearGradient></defs>
<g transform="translate(187.3 1565.3)"><g clip-path="url(#dc)"><g filter="url(#bl)" class="fl"><path stroke="#30123b" d="M-64 6h12m108 0h12m-140 4h24m100 0h24m-152 4h32m96 0h28m-164 4h40m96 0h28m-168 4h44m96 0h32m-172 4h44m96 0h32m-172 4h44m100 0h24m-168 4h44m104 0h20m-164 4h40m-40 4h40m-36 4h36m-36 4h40m-36 4h36m-32 4h36m-36 4h36m-32 4h32m-28 4h24m-16 4h12m-8 4h4"/>
<path stroke="#351e58" d="M-68 6h4m12 0h4m100 0h4m12 0h4m-148 4h4m24 0h4m-36 4h4m124 0h4m-4 4h4m28 0h4m-176 8h4m168 4h4m-128 12h4m-4 4h4m0 8h4m0 8h4m-8 8h4m-8 4h4m-8 4h4"/>
<path stroke="#392a73" d="M-60 2h8m108 0h12m-140 4h4m20 0h4m116 0h4m-28 4h4m24 0h4m-164 4h4m-8 4h4m40 0h4m-52 4h4m44 0h4m88 0h4m-96 4h4m124 0h4m-132 4h4m-4 4h4m120 0h4m-128 4h4m104 0h16m-120 12h4m0 8h4m-4 8h4m-4 4h4m-8 4h4m-8 4h4"/>
<path stroke="#3d358b" d="M-68 2h8m8 0h4m100 0h4m12 0h4m-148 4h4m120 0h4m-132 4h4m32 0h4m-4 4h4m120 0h4m0 8h4m-36 8h4m28 0h4m-32 4h4m24 0h4m-8 4h4m-124 8h4m0 8h4m0 8h4"/>
<path stroke="#4040a2" d="M-72 2h4m20 0h4m0 4h4m-44 4h4m-8 4h4m-8 4h4m172 0h4m-40 8h4m-92 12h4m96 0h4m-104 4h4m108 0h4m-112 8h4m0 8h4m-4 8h4m-8 8h4m-8 4h4m-8 4h4"/>
<path stroke="#424bb5" d="M-64 -2h16m104 0h12m-112 4h4m88 0h4m20 0h4m-156 4h4m152 0h4m-36 4h4m32 0h4m-176 4h4m132 0h4m36 0h4m-128 4h4m80 0h4m-88 4h4m124 0h4m-132 4h4m124 0h4m-132 4h4m-4 4h4m104 8h4m4 0h8m-120 4h4m0 8h4m-4 16h4"/>
<path stroke="#4456c7" d="M-68 -2h4m16 0h4m96 0h4m12 0h4m-148 4h4m-12 4h4m124 0h4m-136 4h4m44 0h4m-4 4h4m124 4h4m-48 4h4m4 12h4m0 4h4m-96 4h4m96 0h4m-96 20h4m-4 4h4m-8 8h4m-8 4h4m-8 4h4"/>
<path stroke="#4661d6" d="M-60 -6h8m-20 4h4m116 0h4m-132 4h4m120 0h4m28 0h4m-120 4h4m116 0h4m-176 4h4m172 0h4m0 4h4m-44 16h4m-88 4h4m-4 4h4m92 4h4m8 4h8m-112 4h4m0 8h4"/>
<path stroke="#466be3" d="M-68 -6h8m8 0h4m100 0h16m-144 4h4m28 0h4m112 0h4m-116 4h4m-52 4h4m124 0h4m-4 4h4m-4 4h4m-80 4h4m-4 4h4m-4 4h4m76 0h4m-84 4h4m0 16h4m96 0h4m-100 8h4m-4 16h4m-8 8h4m-8 4h4"/>
<path stroke="#4776ee" d="M-72 -6h4m20 0h4m112 0h4m-152 4h4m120 0h4m-132 4h4m120 0h4m36 0h4m-176 4h4m172 0h4m-124 4h4m120 0h4m-128 4h4m72 4h4m8 20h4m-88 4h4m92 4h4m-96 4h4m-4 24h4"/>
<path stroke="#4680f6" d="M-64 -10h12m112 0h4m-140 4h4m28 0h4m88 0h4m20 0h4m-116 4h4m112 0h4m-168 4h4m48 4h4m72 16h4m4 12h4m-84 4h4m84 4h4m12 8h8m-104 8h4m-4 4h4m-4 4h4m-12 16h4m-8 4h4"/>
<path stroke="#458afc" d="M-68 -10h4m12 0h4m100 0h8m4 0h4m-24 4h4m-132 4h4m120 0h4m-136 4h4m52 0h4m68 8h4m-72 16h4m-4 4h4m72 0h4m-80 4h4m0 12h4m84 0h4m4 4h4m-96 4h4m-4 16h4m-8 8h4"/>
<path stroke="#4294ff" d="M-72 -10h4m20 0h4m92 0h4m16 0h4m-152 4h4m36 0h4m112 0h4m-168 4h4m164 0h4m-48 4h4m44 0h4m-52 4h4m48 0h4m-124 8h4m64 0h4m-72 4h4m-4 4h4m68 4h4m-72 16h4m88 8h4"/>
<path stroke="#3d9efe" d="M-64 -14h12m108 0h8m-140 4h4m28 0h4m112 0h4m-160 4h4m120 0h4m-136 4h4m52 0h4m0 8h4m-4 4h4m64 8h4m-68 20h4m72 0h4m0 4h4m0 4h4m-84 4h4m92 4h4m-100 20h4m-12 12h4"/>
<path stroke="#37a8fa" d="M-72 -14h8m12 0h4m100 0h4m8 0h8m-152 4h4m120 0h4m-136 4h4m164 0h4m-48 4h4m44 0h4m-120 4h4m116 0h4m-56 20h4m-68 8h4m-4 4h4m68 0h4m-72 12h4m80 4h4m4 4h4m-92 4h4m-4 4h4m-12 20h4"/>
<path stroke="#2fb2f4" d="M-76 -14h4m24 0h4m92 0h4m-136 4h4m40 0h4m112 0h4m-172 4h4m52 0h4m64 8h4m-4 4h4m-4 4h4m-4 4h4m-64 4h4m-4 4h4m-4 4h4m64 4h4m-68 12h4m0 12h4m-4 12h4m-8 12h4"/>
<path stroke="#27bee9" d="M-64 -18h12m108 0h8m-144 4h4m32 0h4m84 0h4m24 0h4m-164 4h4m124 0h4m36 0h4m-48 4h4m44 0h4m-120 4h4m116 0h4m-120 12h4m-4 4h4m56 4h4m0 8h4m-64 12h4m72 8h4m-76 4h4m80 4h4m-88 16h4m-12 16h4"/>
<path stroke="#20c7df" d="M-72 -18h8m12 0h4m100 0h4m8 0h8m-156 4h4m156 0h4m-172 4h4m52 0h4m64 8h4m-64 8h4m0 24h4m-4 4h4m64 4h4m0 4h4m-72 4h4m72 4h4m8 8h4m-96 24h4"/>
<path stroke="#1bd0d5" d="M-76 -18h4m24 0h4m92 0h4m20 0h4m-164 4h4m44 0h4m76 0h4m-8 4h4m44 0h4m-120 4h4m60 0h4m52 0h4m-120 8h4m52 4h4m-4 4h4m-56 12h4m52 0h4m-60 4h4m60 8h4m-64 8h4m76 12h4m-84 20h4m-12 16h4"/>
<path stroke="#18d7ca" d="M-68 -22h16m108 0h12m-152 4h8m32 0h4m84 0h4m-140 4h4m168 0h4m-112 12h4m52 0h4m-4 4h4m-56 8h4m-4 4h4m48 0h4m-56 4h4m56 12h4m-60 8h4m0 16h4m-4 4h4m76 0h4m-84 4h4m-4 4h4"/>
<path stroke="#18dec0" d="M-76 -22h8m16 0h4m100 0h4m12 0h4m-160 4h4m44 0h4m112 0h4m-116 4h4m68 0h4m44 0h4m-120 4h4m60 0h4m52 0h4m-120 4h4m0 12h4m48 12h4m0 8h4m-56 4h4m-4 4h4m0 12h4m60 0h4m-68 4h4m64 0h4m0 4h4m8 8h4m-92 16h4m-8 8h4"/>
<path stroke="#1ae4b6" d="M20 -62h4m-4 4h4m-104 36h4m28 0h4m92 0h4m20 0h4m-168 4h4m128 0h4m36 0h4m-56 12h4m-56 8h4m44 0h4m-4 4h4m-4 4h4m-48 8h4m-4 4h4m44 0h4m-52 4h4m0 16h4m56 0h4m12 16h4m-80 12h4"/>
<path stroke="#20eaac" d="M12 -62h8m4 0h4m-16 4h8m4 0h4m-100 32h20m108 0h12m-156 4h8m36 0h4m84 0h4m28 0h4m-116 4h4m68 0h4m44 0h4m-120 4h4m60 0h4m52 0h4m-120 4h4m52 0h4m-56 8h4m44 0h4m-48 12h4m-4 4h4m40 0h4m-4 4h4m-44 16h4m48 0h4m-56 4h4m52 0h4m8 16h4m8 8h4m-84 12h4m-8 8h4m-8 8h4"/>
<path stroke="#2aefa1" d="M16 -66h8m-12 12h12m-104 28h8m20 0h8m92 0h8m12 0h4m-164 4h4m48 0h4m76 0h4m36 0h4m-108 16h4m44 0h4m-48 8h4m-4 4h4m0 20h4m40 0h4m-48 4h4m44 0h4m-48 20h4m56 0h4m-64 4h4m-4 4h4m64 0h4m-72 4h4m68 0h4"/>
<path stroke="#35f394" d="M8 -66h8m8 0h4m-20 4h4m-4 4h4m16 0h4m-24 4h4m12 0h4m-12 4h4m-92 20h16m-32 4h8m36 0h4m84 0h4m24 0h4m-112 4h4m68 0h4m-72 4h4m60 0h4m52 0h4m-120 4h4m52 0h4m-8 4h4m-48 8h4m36 4h4m-4 4h4m-4 4h4m-40 4h4m32 0h4m-40 4h4m-4 4h4m36 0h4m-40 20h4m-4 4h4m52 0h4m-60 20h4m72 0h4m-84 12h4m-8 8h4"/>
<path stroke="#43f787" d="M4 -66h4m-4 4h4m20 0h4m-28 4h4m-4 4h4m20 0h4m-20 4h4m4 0h4m-104 20h8m16 0h8m100 0h16m-160 4h4m48 0h4m76 0h4m32 0h4m4 4h4m-60 4h4m-56 8h4m0 4h4m36 0h4m-4 4h4m-40 8h4m-4 4h4m32 8h4m-36 12h4m36 0h4m-44 4h4m-4 4h4m48 4h4m4 12h4m0 4h4m0 4h4m-72 8h4"/>
<path stroke="#52fa7a" d="M8 -70h16m-24 4h4m24 0h4m-36 4h8m-4 4h4m-4 4h4m4 4h4m12 0h4m-12 4h4m-88 12h8m-28 4h8m32 0h4m92 0h4m16 0h8m4 4h4m-116 4h4m60 0h4m52 0h4m-120 4h4m0 4h4m44 0h4m-8 4h4m-40 12h4m28 0h4m-4 4h4m-4 4h4m-4 4h4m-32 4h4m-4 4h4m28 0h4m-36 4h4m32 0h4m4 8h4m0 4h4m4 12h4m12 16h4m-80 16h4m-8 8h4"/>
<path stroke="#61fc6c" d="M0 -70h8m16 0h4m-36 4h8m-8 4h4m36 0h4m-44 4h8m32 0h4m-40 4h4m0 4h8m20 0h4m-24 4h8m4 0h8m-108 12h12m8 0h12m104 0h8m-108 4h4m84 0h4m28 0h4m-116 4h4m64 0h8m44 0h4m-116 4h4m52 0h4m-8 4h4m-8 4h4m-44 4h4m32 4h4m-36 4h4m28 0h4m-32 8h4m-4 4h4m-4 4h4m24 4h4m-28 16h4m-4 4h4m-4 4h4m-4 4h4m-4 4h4m-4 4h4m-4 4h4m-4 4h4m56 0h4m-68 12h4"/>
<path stroke="#71fe5f" d="M4 -74h12m-24 4h8m-16 4h8m-8 4h8m-4 4h4m0 4h4m36 0h4m-40 4h4m4 4h4m4 4h12m-92 4h8m-28 4h8m32 0h4m92 0h8m8 0h8m-112 4h8m68 0h8m36 0h4m-116 4h4m56 0h4m56 0h4m-68 4h4m-52 4h4m40 0h4m-44 4h4m0 4h4m28 0h4m-36 4h4m24 4h4m-28 4h4m20 0h4m-4 4h4m-4 4h4m-24 4h4m16 0h4m-24 4h4m16 0h4m-24 4h4m20 0h4m-28 4h4m24 0h4m-32 4h4m28 0h4m0 4h4m8 12h4m0 8h4m0 4h4m-60 8h4m60 0h4m0 4h4m-80 16h4"/>
<path stroke="#80ff53" d="M-8 -74h12m12 0h4m-36 4h8m36 0h4m-52 4h4m48 0h4m-60 4h8m-4 4h8m48 0h4m-56 4h8m-4 4h8m36 0h4m-40 4h8m24 0h4m-28 4h8m12 0h4m-108 4h12m8 0h12m60 0h12m-68 4h8m80 0h4m24 0h4m-108 4h4m56 0h8m48 0h4m-116 4h4m48 0h4m-52 4h4m40 0h4m-44 4h4m0 4h4m28 0h4m-32 8h4m20 0h4m-28 4h4m0 8h4m12 0h4m-20 4h4m12 0h4m-16 4h4m8 0h4m-16 4h4m8 0h4m-16 4h4m12 0h4m-20 4h4m16 0h4m-24 4h4m20 0h4m-28 4h4m32 4h4m0 4h4m-52 36h4"/>
<path stroke="#8fff49" d="M0 -78h4m-24 4h12m28 0h4m-48 4h8m-12 4h8m-8 4h4m60 0h4m-68 4h8m-4 4h8m52 0h4m-60 4h8m48 0h4m-52 4h8m36 0h4m-108 4h20m52 0h4m24 0h4m-116 4h4m32 0h8m48 0h4m12 0h8m16 0h20m-104 4h4m44 0h32m32 0h8m-112 4h4m44 0h8m-52 4h4m40 0h4m-44 4h4m32 0h4m-36 4h4m28 0h4m-8 4h4m-28 4h4m20 0h4m-24 4h4m12 0h4m-20 4h4m12 0h4m-20 4h4m8 0h8m-16 4h12m-12 4h12m-8 4h8m-8 4h8m-8 4h12m-12 4h4m8 0h4m8 8h4m-32 4h4m-4 4h4m-4 4h4m-4 4h4m40 0h4m-48 4h4m-4 4h4m44 0h4m0 4h4m0 4h4m-64 4h4m60 0h4m-76 20h4"/>
<path stroke="#9cfe40" d="M-16 -78h16m4 0h12m-40 4h4m44 0h4m-56 4h4m56 0h4m-68 4h4m64 0h4m-72 4h4m-4 4h4m68 0h4m-76 4h8m64 0h4m-72 4h8m-4 4h12m48 0h4m-124 4h12m20 0h8m24 0h20m32 0h4m-76 4h8m32 0h8m24 0h16m20 0h8m-108 4h12m24 0h8m72 0h4m-112 4h8m24 0h12m-40 4h4m28 0h8m-36 4h4m24 0h4m-28 4h4m16 0h8m-28 4h8m12 0h4m-20 4h4m8 0h8m-16 4h12m-12 4h12m-12 4h8m0 24h8m-12 4h8m4 0h8m-20 4h4m16 0h4m-24 4h4m24 0h4m0 4h4m0 4h4m0 8h4m-48 8h4m-12 20h4"/>
<path stroke="#a9fb39" d="M-8 -82h12m-28 4h8m32 0h4m-48 4h4m52 0h4m-64 4h4m-8 4h4m-4 4h4m72 0h4m-80 4h4m-4 4h4m-4 4h8m68 0h4m-120 4h36m4 0h12m64 0h8m-92 4h24m56 0h32m-100 4h32m76 0h4m-100 4h24m-20 4h24m-24 4h12m4 0h12m-24 4h24m-20 4h16m-12 4h12m-12 4h8m4 40h4m-8 4h4m8 0h4m4 4h4m-28 4h4m-4 4h4m-4 4h4m40 12h4m-52 4h4m48 0h4m0 4h4m-64 4h4"/>
<path stroke="#b4f836" d="M-20 -82h12m12 0h8m-40 4h4m44 0h4m-60 4h8m-8 4h4m68 0h4m-80 4h4m76 0h4m-84 4h4m-8 4h8m80 0h4m-96 4h12m80 0h4m-116 4h32m80 0h8m-132 4h4m36 0h4m84 0h12m8 4h4m8 4h4m-88 12h4m8 60h8m-12 4h4m12 0h4m-20 4h4m20 0h4m4 8h4m-40 4h4m-4 4h4m36 0h4m-56 28h4"/>
<path stroke="#bef434" d="M-16 -86h16m-28 4h8m32 0h4m-52 4h8m-12 4h4m68 0h4m-76 4h4m-8 4h4m-8 4h8m84 0h4m-100 4h8m-20 4h16m96 0h4m-132 4h12m120 0h4m4 4h8m4 4h8m-72 80h12m-12 4h4m12 0h4m-24 4h4m24 0h4m-32 4h4m28 4h4m-40 8h4m36 0h4m0 4h4m-52 4h4m48 0h4m0 4h4m-64 4h4m-8 12h4"/>
<path stroke="#c8ef34" d="M-24 -86h8m16 0h8m-40 4h4m44 0h4m-60 4h4m60 0h4m-72 4h4m76 0h4m-88 4h8m80 0h4m-92 4h4m88 0h4m-104 4h8m-16 4h12m100 0h4m-128 4h12m116 0h4m0 4h4m8 4h4m8 4h4m-72 84h12m-16 4h4m16 0h4m0 4h4m-32 4h4m28 4h4m-40 8h4m40 4h4m-52 4h4m48 0h4m-60 8h4"/>
<path stroke="#d2e935" d="M-20 -90h20m-32 4h8m32 0h4m-52 4h8m52 0h4m-68 4h4m68 0h4m-80 4h4m-8 4h4m-8 4h8m-16 4h8m104 0h4m-124 4h8m116 0h4m0 4h4m0 4h8m4 4h8m-68 92h16m-20 4h4m16 0h4m-24 4h4m20 0h4m-32 4h4m-4 4h4m28 0h4m0 4h4"/>
<path stroke="#dbe236" d="M-28 -90h8m20 0h8m-44 4h4m44 0h4m-60 4h4m-8 4h4m76 0h4m-88 4h4m88 0h4m-100 4h4m96 0h4m-112 4h8m104 0h4m-124 4h8m116 0h4m0 4h4m0 4h4m4 4h4m-60 100h16m0 4h4m-24 4h4m20 0h4m-4 4h4m0 4h4m-40 4h4m36 0h4m0 4h4m-52 4h4m48 0h4m-60 8h4"/>
<path stroke="#e3db38" d="M8 -90h4m4 4h4m4 4h4m-80 4h4m84 0h4m-96 4h4m-12 4h8m104 0h4m-120 4h4m116 0h4m0 4h4m0 4h4m0 4h4m4 4h8m-68 104h16m-16 4h4m12 0h4m-24 4h4m-8 4h4m24 0h4m0 4h4m-40 4h4m36 0h4m-52 16h4"/>
<path stroke="#ebd339" d="M12 -90h4m4 4h4m4 4h8m4 4h4m0 4h4m16 16h4m0 4h8m-60 112h12m-16 4h4m8 0h8m-24 4h4m16 0h4m-28 4h4m36 8h4m-52 4h4"/>
<path stroke="#f1cb3a" d="M16 -90h4m4 4h4m8 4h4m8 8h4m0 4h4m0 4h4m0 4h4m4 4h4m-56 120h8m-12 4h4m4 0h8m0 4h8m0 4h4m-40 4h4m36 0h4m-48 8h4"/>
<path stroke="#f6c33a" d="M20 -90h4m4 4h4m12 8h4m4 4h4m0 4h4m0 4h4m0 4h4m-52 128h4m-12 4h8m8 0h4m-24 4h4m24 0h4m0 4h4m0 4h4m-48 8h4"/>
<path stroke="#faba39" d="M24 -90h4m4 4h4m4 4h4m4 4h4m8 8h4m0 4h4m0 4h4m-56 132h8m-16 4h4m12 0h8m-28 4h4m24 0h4m-36 4h4m32 0h4"/>
<path stroke="#fcb136" d="M12 74h12m-16 4h4m12 0h8m0 4h4m-36 4h4"/>
<path stroke="#fea732" d="M12 78h12m-20 4h4m20 0h4m-32 8h4"/>
<path stroke="#fe9b2d" d="M8 82h20m-24 4h4m20 0h8"/>
<path stroke="#fe9029" d="M8 86h20m-24 4h4"/>
<path stroke="#fc8423" d="M8 90h20"/></g></g><path class="ct" d="M-42 74l3.3 -3.5 1.8 -3 .9 -3 0 -3 -6.8 -18 -2.1 -25.5 -1.5 -6 -1.6 -3 -3 -2.6 -3 -1 -4.5 -.2 -4.5 .7 -4.5 1.6 -6 3.4 -10.5 8.7M61.5 4.4l-3 .5 -3 1.5 -2.6 2.6 -1.4 3 -.6 3 .2 4.5 1.4 4.5 1.6 3 2.9 3.6 2.8 2.4 6.2 3 4.5 .7 3 -.3 3 -.9 3 -2M82.9 24l-.6 -3 -2 -4.5 -5.3 -6.4 -6 -4.1 -4.5 -1.4 -3 -.2M85.5 7.6l-7.5 -7.1 -4.5 -3.4 -4.5 -2.2 -6 -1.6 -6 .3 -6 2 -5.7 4.4 -2.5 4.5 -1.1 6 .7 6 2 6 4.2 7.5 5.4 6.5 6 5.1 6 3.3 6 1.8M-31.5 79.9l3 -4 3 -5.5 1.5 -4.4 .2 -4.5 -1.7 -6.2 -6.5 -14.8 -1.3 -7.5 -2 -22.5 -1.5 -6 -2.4 -4.5 -4.3 -4 -4.5 -2 -6 -1.1 -6 .2 -6 1.2 -6 2.4 -6 3.3 -7.5 5.2M85.5 -5.8l-7.5 -6 -6 -3.2 -7.5 -2.1 -6 -.1 -9 2.5 -7.1 4.2 -5.7 6 -2.8 6 -1.1 6 .5 6 1.9 6 3.2 6 7.7 10.5 7.9 9.1 6 5.2 6 3.7M-24 82.5l3.2 -6 2.9 -7.5 1.1 -6 0 -4.5 -1.2 -6.8 -5.8 -20.2 -3.4 -25.5 -2 -6 -2.6 -4.5 -4.2 -4.9 -6 -4.1 -6 -2.4 -7.5 -1.3 -7.5 .1 -7.5 1.3 -7.5 2.7 -8 4.1M83.7 -21l-8.7 -4.2 -9 -2.3 -7.5 -.1 -7.5 1.5 -9 3.8 -8.4 5.8 -6.2 7.5 -3.4 7.5 -1.2 6 0 6 1.3 6 2.1 4.5 4.3 6 11.5 13 9 11.9 4.5 4.8 4.5 3.8M-17.5 84l3.8 -9 2.6 -7.5 1.1 -6 .3 -7.5 -7.2 -46.5 -2.1 -7.5 -3.6 -7.5 -4.4 -6.1 -6 -5.6 -7.5 -4.5 -7.5 -2.8 -7.5 -1.6 -9 -.4 -9 1.1 -9 2.4M16.5 -66l-3.4 1.5 -2.4 3 0 3 1.3 2.3 2.5 2.2 3.5 1.2 4.5 -.3 3 -1.7 2.6 -3.7 0 -3 -1.1 -2.1 -1.5 -1.4 -3 -1.2 -6 .2M78.6 -36l-11.1 -2.9 -10.5 -1.2 -9 .6 -10.5 3 -3 0 -1.5 -.7 -.8 -1.8 .8 -3 5.3 -6 1.7 -3 .9 -3 0 -4.5 -1.4 -4.5 -3 -4.5 -3.5 -3 -4.5 -2.3 -13.5 -4.3 -12 -1.7 -12 .9 -5.6 1.4 -4.9 2 -6 4.1 -2.3 2.9 -1.3 3 -.4 3 .5 3 2.5 4.5 4 4.1 4.5 3.1 19.5 7.3 12 8 2.1 3 -.2 4.5 -2.3 6 -8.6 18 -1.5 1.7 -1.5 .4 -1.5 -.5 -1.5 -1.9 -6.3 -11.7 -6.2 -9 -6.3 -7.5 -5.2 -4.2 -21 -8.4 -6 -1.6 -10.5 -.6 -12.5 1.3M-11.4 85.5l7.4 -18 1.9 -6 1.4 -7.5 .9 -13.5 1.3 -6.4 1.5 -3.9 1.5 -2.3 3 -1.7 3 .4 6 3 12 7.5 6 4.4 3 3.5 9 15 6.7 7.5M66 -55.5l-6.2 -4.5 -10.3 -10.6M-4.1 85.5l1.7 -4.5 2.4 -4.2 9 -12.3 6 -6.7 4.5 -2.6 3 0 3 1.5 17.4 18.3"/><circle r="89.2" fill="none" stroke="#edf5ff" stroke-width="6"/><circle r="80.6" class="hd"/><path class="hd" d="M-14.5 -79.9L-3.2 -92.2Q0 -93.6 3.2 -92.2L14.5 -79.9M-79.2 -15.4L-82.1 -18.9 -83.4 -19.0 -85.3 -18.5 -87.2 -15.4 -86.9 0.9 -88.1 15.0 -85.7 21.1 -82.1 22.3 -77.9 19.3M79.2 -15.4L82.1 -18.9 83.4 -19.0 85.3 -18.5 87.2 -15.4 86.9 0.9 88.1 15.0 85.7 21.1 82.1 22.3 77.9 19.3"/><g class="el"><text x="-25.7" y="-74.8">FP1</text><text x="25.7" y="-74.8">FP2</text><text x="-24.0" y="-59.1">AF3</text><text x="24.0" y="-59.1">AF4</text><text x="-69.2" y="-46.2">F7</text><text x="-35.7" y="-38.5">F3</text><text x="0.0" y="-37.2">FZ</text><text x="35.7" y="-38.5">F4</text><text x="69.2" y="-46.2">F8</text><text x="-62.1" y="-18.7">FC5</text><text x="-21.1" y="-16.2">FC1</text><text x="21.1" y="-16.2">FC2</text><text x="62.1" y="-18.7">FC6</text><text x="-86.8" y="4.4">T7</text><text x="-43.2" y="4.4">C3</text><text x="0.0" y="4.4">CZ</text><text x="43.2" y="4.4">C4</text><text x="86.8" y="4.4">T8</text><text x="-62.0" y="27.1">CP5</text><text x="-21.2" y="25.0">CP1</text><text x="21.2" y="25.0">CP2</text><text x="62.0" y="27.1">CP6</text><text x="-69.2" y="54.6">P7</text><text x="-35.7" y="46.8">P3</text><text x="0.0" y="45.6">PZ</text><text x="35.7" y="46.8">P4</text><text x="69.2" y="54.6">P8</text><text x="-25.7" y="67.4">PO3</text><text x="25.7" y="67.4">PO4</text><text x="-26.1" y="83.7">O1</text><text x="0.0" y="85.5">OZ</text><text x="26.1" y="83.7">O2</text></g><text x="1" y="-104.1" class="tp" text-anchor="middle"><tspan class="tg">δ</tspan> @0.5-3.9Hz | C</text><rect x="103.3" y="-95.7" width="9.3" height="193" fill="url(#cbg)" stroke="#444" stroke-width="0.7"/><text x="118.3" y="-41.6" class="cbt">0.1</text><text x="118.3" y="15.2" class="cbt">0.09</text><text x="118.3" y="71.5" class="cbt">0.08</text><path d="M112.6 -47.5h-2M112.6 9.3h-2M112.6 65.6h-2" stroke="#262626" stroke-width="0.8"/><text transform="translate(174.3 -3.8) rotate(-90)" class="cbl" text-anchor="middle">PSD [<tspan class="mu">μ</tspan>V<tspan class="s2" dy="-6">2</tspan><tspan dy="6">/Hz]</tspan></text></g>
<g transform="translate(501.2 1565.3)"><g clip-path="url(#dc)"><g filter="url(#bl)" class="fl"><path stroke="#30123b" d="M44 10h24m-28 4h32m-36 4h40m-48 4h52m-56 4h60m-64 4h64m-140 4h32m36 0h76m-160 4h56m20 0h80m-164 4h164m-164 4h160m-160 4h160m-156 4h68m16 0h68m-148 4h56m32 0h56m-144 4h52m44 0h44m-136 4h40m-36 4h20"/>
<path stroke="#351e58" d="M52 6h8m8 4h4m-36 4h4m32 0h4m-44 4h4m40 0h4m0 4h4m-64 4h4m60 0h4m-72 4h4m64 0h4m-156 4h12m32 0h4m28 0h4m-92 4h8m56 0h20m-88 4h4m72 12h4m4 0h8m-24 4h4m24 0h4m4 4h4m44 0h4m-100 4h4m56 0h28m-104 4h4"/>
<path stroke="#392a73" d="M48 6h4m8 0h8m-28 4h4m28 0h4m0 4h4m0 4h4m-60 4h4m56 0h4m-140 8h20m44 0h4m-96 4h12m48 0h4m20 0h4m-92 4h4m76 16h4m-12 4h4m16 0h4m-32 4h4m32 0h4m8 4h4m28 0h8m-108 4h8m-24 4h4"/>
<path stroke="#3d358b" d="M44 6h4m20 0h4m8 8h4m-56 4h4m52 0h4m-72 8h4m68 0h4m-164 4h20m20 0h8m-64 4h8m64 0h8m8 0h4m-12 24h4m8 0h4m-24 4h4m-12 4h4m44 0h4m-80 8h8"/>
<path stroke="#4040a2" d="M52 2h12m8 4h4m-40 4h4m36 0h4m-48 4h4m52 8h4m-180 8h16m48 0h4m28 0h4m-20 4h8m-4 24h8m8 4h4m4 4h4m-56 4h4m64 0h28m-108 4h4"/>
<path stroke="#424bb5" d="M48 2h4m12 0h8m-32 4h4m32 0h4m0 4h4m0 4h4m0 4h4m-72 4h4m-116 4h60m44 0h4m-36 4h4m20 0h4m-20 32h4m16 0h4m-32 4h4m-12 4h4m56 0h4m-76 4h4m-16 4h4"/>
<path stroke="#4456c7" d="M44 2h4m24 0h4m4 4h4m0 4h4m0 4h4m-68 4h4m-120 4h20m40 4h4m12 4h20m-12 32h4m8 0h4m8 4h4m8 4h4m-68 4h4m-16 4h4"/>
<path stroke="#4661d6" d="M52 -2h20m4 4h4m-44 4h4m-8 4h4m52 0h4m-64 4h4m-124 4h16m4 4h20m68 0h4m-48 4h4m32 0h4m-16 36h8m-20 4h4m-12 4h4m44 0h4m-60 4h4m72 0h12m-100 4h4"/>
<path stroke="#466be3" d="M48 -2h4m20 0h4m-36 4h4m36 0h4m0 4h8m-184 4h8m-8 4h16m0 4h12m84 0h4m-76 4h16m12 4h8m20 0h4m-20 40h4m20 0h4m4 4h4m12 4h8m-84 4h4"/>
<path stroke="#4776ee" d="M-84 -18h4m-12 4h12m-12 4h8m-8 4h4m144 0h16m-164 4h4m132 0h4m28 0h4m-172 4h8m168 0h4m-180 4h12m-4 4h12m-4 4h8m92 0h4m-92 4h8m20 4h8m40 0h4m-32 4h4m12 0h4m-12 40h4m12 0h4m-32 4h4m-12 4h4m56 0h4"/>
<path stroke="#4680f6" d="M24 -90h4m4 4h4m0 4h8m-136 56h16m-16 4h20m-20 4h8m4 0h12m-12 4h12m-16 4h12m-16 4h16m124 0h4m16 0h8m-168 4h16m152 0h8m-172 4h12m160 0h4m-172 4h12m-4 4h4m96 0h4m-100 4h8m4 4h12m16 4h4m12 4h12m-4 40h12m8 4h4m8 4h4m-68 4h4m80 0h4m-96 4h4"/>
<path stroke="#458afc" d="M16 -90h8m-4 4h12m-4 4h8m-4 4h20m-12 4h16m-144 40h8m-8 4h16m-4 4h8m-4 4h8m-4 4h4m-4 4h4m-8 4h8m128 0h8m-144 4h4m116 0h4m28 0h4m-156 4h4m108 0h4m44 0h4m-164 4h4m104 0h4m-108 4h4m96 0h4m-104 4h8m0 4h4m12 4h4m56 0h4m-44 4h4m28 0h4m-28 48h4m-12 4h4m-12 4h4m68 0h8"/>
<path stroke="#4294ff" d="M4 -90h12m-4 4h8m0 4h8m0 4h4m0 4h8m-4 4h28m-148 32h4m0 4h8m0 4h4m0 4h4m0 8h4m116 8h8m8 0h12m-152 4h4m148 0h8m-160 4h4m-4 4h4m0 4h4m0 4h4m0 4h8m68 0h4m-64 4h8m12 4h4m20 0h4m-20 48h4m20 0h4m8 4h4m8 4h4m-80 4h4"/>
<path stroke="#3d9efe" d="M-12 -90h16m0 4h8m0 4h8m0 4h8m0 4h4m0 4h4m4 4h28m-20 4h16m-148 20h4m0 4h4m4 4h4m0 4h4m0 8h4m-4 8h4m124 0h20m-148 4h4m112 0h4m28 0h8m-156 4h4m104 0h4m-112 4h4m-4 4h4m0 4h4m0 4h4m76 0h4m-76 4h4m12 4h4m40 0h4m-32 4h8m4 0h8m4 48h4m-32 4h4m36 0h4m-52 4h4m56 0h4m-72 4h4"/>
<path stroke="#37a8fa" d="M-28 -90h16m-8 4h24m0 4h8m4 4h4m0 4h8m0 4h4m0 4h8m0 4h8m16 0h8m-24 4h24m-152 12h4m-4 4h8m-4 4h4m8 12h4m132 8h12m-28 4h8m20 0h8m-44 4h4m-112 12h4m84 4h4m-84 4h4m4 4h4m12 4h4m16 4h4m-4 48h8m4 0h4"/>
<path stroke="#2fb2f4" d="M-36 -86h16m-16 4h40m4 4h8m0 4h4m4 4h4m0 4h4m4 4h4m4 4h4m4 4h24m-156 4h4m0 4h4m0 8h4m0 4h4m0 4h4m0 8h4m132 0h16m-152 4h4m120 0h8m12 0h8m-152 4h4m108 0h4m-116 4h4m-4 4h4m96 0h4m-104 4h4m92 0h4m-8 4h4m-92 4h4m12 8h8m48 0h4m-44 4h4m28 0h4m-12 52h4m-20 4h4m28 0h4m-44 4h4m48 0h4m-64 4h4m68 0h4"/>
<path stroke="#27bee9" d="M-44 -82h8m-12 4h56m-44 4h20m28 0h4m-48 4h8m44 0h4m0 4h4m4 4h4m0 4h8m-120 4h4m116 0h8m-128 4h4m124 0h28m-152 4h4m132 0h16m-152 4h4m140 0h12m-152 4h4m144 0h4m-148 4h4m140 0h8m-12 4h12m-148 4h4m128 0h20m-28 4h12m-20 4h8m-20 8h4m-104 8h4m-4 4h4m0 4h4m0 4h4m12 4h4m8 4h4m20 0h4m4 56h4m8 4h4m8 4h4"/>
<path stroke="#20c7df" d="M-52 -78h4m-8 4h20m20 0h8m16 0h4m-76 4h4m20 0h8m8 0h8m32 0h4m-88 4h4m32 0h8m-48 4h4m96 0h4m-104 4h4m-4 4h4m108 0h4m-116 4h4m112 0h8m0 4h12m-132 4h4m124 0h12m-8 4h16m-12 4h12m-140 4h4m124 0h8m-12 4h8m-12 4h4m-120 4h4m104 0h4m-112 4h4m100 0h4m-108 4h4m-4 4h4m8 16h4m60 0h4m-52 4h4m36 0h4m-32 4h8m8 0h4m-16 56h4m-12 4h4m-12 4h4m56 0h4m-72 4h4"/>
<path stroke="#1bd0d5" d="M-8 -74h16m-68 4h20m24 0h4m24 0h4m-80 4h8m20 0h4m8 0h4m40 0h4m-92 4h8m84 0h4m-96 4h4m96 0h4m-104 4h4m100 0h4m-108 4h4m104 0h4m-112 4h4m112 0h4m-116 4h4m112 0h8m-124 4h4m116 0h8m-4 4h8m-8 4h8m-8 4h4m-120 4h4m108 0h4m-112 20h4m-4 4h4m76 0h4m-80 4h4m68 0h4m-68 4h8m8 4h4m12 4h8m-8 56h4m12 0h4m8 4h4"/>
<path stroke="#18d7ca" d="M-12 -70h4m-48 4h20m16 0h4m32 0h4m-80 4h4m24 0h8m-40 4h4m88 0h4m-96 4h4m-4 4h4m-4 4h4m104 0h4m0 4h4m0 4h4m-116 4h4m112 0h4m-4 4h4m-116 4h4m108 0h4m-8 4h4m-8 4h4m-8 4h4m-100 4h4m88 0h4m-96 4h4m84 0h4m-8 4h4m-84 4h4m0 4h4m8 4h4m44 0h4m-40 4h4m24 0h4m-16 60h12m-24 4h4m28 0h4m-44 4h4m48 0h4m-64 4h4"/>
<path stroke="#18dec0" d="M-8 -70h4m8 0h8m-28 4h4m-44 4h8m8 0h8m8 0h4m40 0h4m-84 4h4m-4 4h4m88 0h4m0 4h4m0 4h4m-104 4h4m100 0h4m-108 4h4m104 0h4m0 4h4m-112 4h4m104 0h4m-4 4h4m-108 8h4m-4 4h4m0 12h4m4 8h4m20 8h4m36 68h4"/>
<path stroke="#1ae4b6" d="M-4 -70h8m8 4h4m-64 4h8m20 0h4m-40 4h4m76 0h4m-88 8h4m-4 4h4m0 12h4m100 0h4m-4 4h4m-4 4h4m-104 4h4m96 0h4m-8 4h4m-96 12h4m0 8h4m4 4h4m52 0h4m-52 4h4m12 4h4m12 0h4m-20 64h4m20 0h4m-36 4h4m-12 4h4m56 0h4"/>
<path stroke="#20eaac" d="M-12 -66h4m16 0h4m4 4h4m-72 4h8m12 0h8m-32 4h4m80 0h4m-88 4h4m84 0h4m0 4h4m0 4h4m-100 4h4m96 0h4m-100 12h4m0 12h4m84 0h4m-92 4h4m80 0h4m-84 8h4m0 4h4m60 0h4m-60 4h4m4 4h4m32 0h4m-24 4h12m-12 64h4m12 0h4m8 4h4"/>
<path stroke="#2aefa1" d="M-8 -66h8m4 0h4m-24 4h4m-32 4h12m8 0h4m40 0h4m-76 4h4m-8 8h4m-4 4h4m92 4h4m0 4h4m-100 4h4m92 0h4m-4 4h4m-4 4h4m-96 4h4m0 12h4m72 0h4m-8 4h4m-68 4h4m12 8h4m12 68h4m4 0h4m-24 4h4m28 0h4m-44 4h4m48 0h4"/>
<path stroke="#35f394" d="M0 -66h4m8 4h4m-64 8h4m68 0h4m-80 4h4m76 0h4m0 4h4m0 4h4m-92 8h4m0 12h4m84 4h4m-88 8h4m0 8h4m8 8h4m40 0h4m-36 4h4m20 0h4m-12 68h4m20 8h4m-56 4h4"/>
<path stroke="#43f787" d="M-12 -62h4m-12 4h4m32 0h4m-64 4h4m-12 8h4m-4 4h4m-4 4h4m88 4h4m-92 8h4m0 12h4m0 8h4m0 4h4m0 4h4m4 4h4m8 4h4m-4 72h4m20 0h4m-36 4h4"/>
<path stroke="#52fa7a" d="M-8 -62h4m12 0h4m-52 8h12m48 0h4m-72 4h4m76 8h4m0 4h4m-88 8h4m84 0h4m-4 4h4m-4 4h4m-88 4h4m76 4h4m-80 4h4m8 12h4m44 0h4m-44 4h4m8 4h4m8 0h4m-16 72h4m12 0h4m8 4h4m-48 4h4"/>
<path stroke="#61fc6c" d="M-4 -62h12m-24 4h4m-16 4h4m-20 4h4m64 0h4m-76 4h4m72 0h4m-80 12h4m0 12h4m0 8h4m68 4h4m-72 4h4m60 0h4m-64 4h4m52 0h4m-16 8h4m-20 4h8m0 72h4m-24 4h4m28 0h4"/>
<path stroke="#71fe5f" d="M12 -58h4m-40 4h4m-28 12h4m-4 4h4m80 4h4m-84 8h4m0 8h4m72 0h4m-76 8h4m0 4h4m0 4h4m0 4h4m4 4h4m8 76h8m-16 4h4m-12 4h4m40 0h4"/>
<path stroke="#80ff53" d="M-12 -58h4m16 0h4m-32 4h4m32 0h4m-60 4h4m-8 4h4m72 8h4m-80 8h4m76 0h4m-4 4h4m-80 4h4m72 0h4m-76 8h4m0 4h4m8 12h4m32 0h4m-32 4h4m16 0h4m0 80h4m4 4h4"/>
<path stroke="#8fff49" d="M-8 -58h4m-32 8h8m48 0h4m0 4h4m0 4h4m-76 8h4m4 16h4m64 4h4m-64 8h4m0 4h4m40 0h4m-20 8h4m-16 80h4m12 0h4m-28 4h4m28 0h4"/>
<path stroke="#9cfe40" d="M-4 -58h12m-24 4h4m-16 4h4m-16 4h4m-8 4h4m-4 4h4m72 4h4m-76 8h4m0 4h4m0 8h4m0 4h4m52 0h4m-8 4h4m-44 8h4m4 4h12m-8 80h12m-20 4h4"/>
<path stroke="#a9fb39" d="M12 -54h4m-40 4h4m48 12h4m-72 8h4m4 12h4m60 0h4m-64 4h4m0 8h4m0 4h4m28 4h4m-4 88h4"/>
<path stroke="#b4f836" d="M-12 -54h4m-12 4h4m32 0h4m-56 4h4m52 0h4m-64 4h4m60 0h4m-68 8h4m68 4h4m-72 4h4m64 0h4m-68 4h4m60 0h4m-60 12h4m8 12h4m0 88h4m12 0h4"/>
<path stroke="#bef434" d="M8 -54h4m-44 8h8m-16 8h4m0 8h4m4 12h4m0 4h4m48 0h4m-52 8h4m0 4h4m28 0h4m-12 4h4m-16 88h12"/>
<path stroke="#c8ef34" d="M-8 -54h4m8 0h4m-24 4h4m-24 8h4m-4 8h4m60 0h4m-64 8h4m0 4h4m48 12h4m-8 4h4m-32 8h4m8 0h4"/>
<path stroke="#d2e935" d="M-4 -54h8m8 4h4m-40 4h4m-12 4h4m-8 4h4m56 0h4m-60 8h4m4 12h4m0 8h4m0 4h4m0 4h4m20 0h4m-20 4h8"/>
<path stroke="#dbe236" d="M-12 -50h4m-12 4h4m32 0h4m-48 4h4m44 0h4m-56 4h4m-4 4h4m56 4h4m-60 4h4m0 4h4m48 4h4m-52 4h4"/>
<path stroke="#e3db38" d="M8 -50h4m-36 8h4m-8 4h4m-4 8h4m52 4h4m-4 4h4m-52 4h4m0 8h4m28 4h4m-28 4h4m12 0h4"/>
<path stroke="#ebd339" d="M-8 -50h4m-12 4h4m-16 12h4m48 0h4m-52 8h4m44 12h4m-8 4h4m-36 4h4m4 4h4m4 0h4"/>
<path stroke="#f1cb3a" d="M-4 -50h12m4 4h4m-36 4h4m32 0h4m-44 4h4m40 0h4m-48 8h4m0 8h4m0 8h4m24 8h4m-16 4h4"/>
<path stroke="#f6c33a" d="M-12 -46h4m-16 12h4m44 4h4m-48 4h4m0 8h4m36 0h4m-40 8h4m0 4h4"/>
<path stroke="#faba39" d="M8 -46h4m-28 4h4m-8 4h4m-4 8h4m40 4h4m-4 4h4m-12 12h4m-24 4h4m8 0h4"/>
<path stroke="#fcb136" d="M-8 -46h4m16 4h4m0 4h4m-40 4h4m36 0h4m-40 12h4m0 8h4m28 0h4m-32 4h4m4 4h8"/>
<path stroke="#fea732" d="M4 -46h4m-24 8h4m-4 12h4m0 8h4m20 8h4"/>
<path stroke="#fe9b2d" d="M-4 -46h8m-16 4h4m-8 8h4m-4 4h4m32 0h4m-4 12h4m-32 4h4m0 4h4"/>
<path stroke="#fe9029" d="M8 -42h4m0 4h4m0 4h4m0 8h4m-36 4h4m28 0h4m-8 8h4m-20 4h12"/>
<path stroke="#fc8423" d="M-8 -42h4m-8 4h4m-4 12h4m0 8h4m0 4h4"/>
<path stroke="#f9751d" d="M4 -42h4m-20 8h4m-4 4h4m24 0h4m-4 12h4m-20 4h4m8 0h4"/>
<path stroke="#f56918" d="M-4 -42h8m-12 4h4m12 0h4m0 4h4m0 8h4m-28 4h4m20 0h4m-24 4h4m4 4h8"/>
<path stroke="#f15d13" d="M-8 -34h4m-4 4h4m-4 4h4m16 8h4"/>
<path stroke="#ec530f" d="M-4 -38h4m4 0h4m0 4h4m0 4h4m-4 4h4m-20 4h4m12 0h4m-16 4h12"/>
<path stroke="#e7490c" d="M0 -38h4m-8 4h4m-4 4h4m8 0h4m-16 4h4m0 4h4m4 0h4"/>
<path stroke="#e14109" d="M0 -34h8m-8 4h8m-8 4h12m-8 4h4"/></g></g><path class="ct" d="M51 10.2l-4.5 1.6 -4.5 2.8 -26.2 19.9 -8.2 7.5 -1.5 3 .1 1.5 2.1 3 7.5 6 7 4.5 5.7 2.3 7.5 1.3 9 .3 9 -.8 6.7 -1.6M81 29l-1.6 -3.5 -3 -4.5 -4.4 -4.5 -4.2 -3 -7.8 -3.2 -4.5 -.5 -4.5 .4M-45 34.3l-8 1.7 -10.4 3 -5.6 2 -5 2.5M-52.5 68.1l15 -1.7 7.5 -1.8 4 -1.6 4.6 -3 5.3 -4.5 4.3 -4.5 1.6 -3 0 -1.5 -2 -3 -4.3 -3 -7.5 -3.6 -10.5 -2.7 -10.5 .1M86 4.5l-9.5 -5.6 -7.5 -2.5 -9 -.8 -7.5 1.1 -4.5 1.5 -4.5 2.3 -15 12.9 -12 8 -10.5 4.7 -9 1.7 -9 -.4 -25.5 -5 -24 -2.4 -24 -7.6M-37.5 77.6l13.5 -5.4 15 -6.8 4.5 -1.3 4.5 -.5 9 1.3 16.5 5.9 16.5 3.8M-25.5 81.8l16.5 -7.6 4.5 -1.3 4.5 -.5 9 1 21 7M-9 -75l6 -1.1 6 .2 6 1.4 4.5 1.8 31.5 21.3 19.3 10.9 3.2 3 1.5 3 -.5 4.5 -1.7 3 -2.8 3 -17.5 12.3 -22.5 19.7 -7.5 4.8 -6 2.8 -6 1.9 -4.5 .8 -6 .2 -6 -.7 -26 -7.3 -5.5 -2.1 -3.9 -2.4 -2.8 -3 -2.2 -4.5 -.9 -4.5 -1 -12 -1.9 -7.5 -10.5 -19.5 -2.4 -6M-45 -73.2l6 1.9 10.5 4.9 3 .6 3 -1 7.5 -5.6 6 -2.6M-13.5 85.3l7.5 -3.5 6 -1.5 6.1 .7 10.4 3.5M-6 -61.9l6 -1 6 .4 6 2.1 7.5 4.4 6.4 5 5.8 6 7.8 10.5 2.2 6 0 4.5 -2 6 -3.9 6 -6.7 7.5 -6.6 5.7 -7.5 4.7 -7.5 3.1 -6 1.3 -7.5 -.2 -9 -2.6 -9 -4.5 -8.1 -6 -3.8 -4.5 -3.1 -6 -7.5 -17.4 -2.1 -8.1 .1 -4.5 .9 -3 2.1 -3 3.5 -2.5 4.5 -1.4 15 -1.6 16.5 -6.9M-3 -54l6 -.3 4.5 1 5.3 2.3 5.2 3.6 5.6 5.4 4.5 6 3.1 6 1 4.5 -.3 4.5 -1.5 4.5 -2.9 4.5 -3.5 3.8 -4.5 3.6 -6 3.5 -6 2.4 -4.5 1 -4.5 0 -4.5 -1.2 -4.5 -2.4 -3.8 -3.2 -3.6 -4.5 -5.6 -10.5 -8.4 -10.5 -2.3 -4.5 -.8 -3 .4 -3 1.6 -1.6 12 -4.6 12 -5.6 6 -1.7M0 -46.6l3 .2 4.5 1.3 6.7 4.6 6.3 7.5 2 3.7 1.2 3.8 .3 3 -.5 3 -2.8 4.5 -5.7 4.3 -7.5 2.8 -4.5 .2 -3 -.6 -3 -1.5 -2.6 -2.2 -4.9 -7 -4.6 -11 -.3 -3 .5 -3 2.8 -4.5 6.1 -4.5 6 -1.6"/><circle r="89.2" fill="none" stroke="#edf5ff" stroke-width="6"/><circle r="80.6" class="hd"/><path class="hd" d="M-14.5 -79.9L-3.2 -92.2Q0 -93.6 3.2 -92.2L14.5 -79.9M-79.2 -15.4L-82.1 -18.9 -83.4 -19.0 -85.3 -18.5 -87.2 -15.4 -86.9 0.9 -88.1 15.0 -85.7 21.1 -82.1 22.3 -77.9 19.3M79.2 -15.4L82.1 -18.9 83.4 -19.0 85.3 -18.5 87.2 -15.4 86.9 0.9 88.1 15.0 85.7 21.1 82.1 22.3 77.9 19.3"/><g class="el"><text x="-25.7" y="-74.8">FP1</text><text x="25.7" y="-74.8">FP2</text><text x="-24.0" y="-59.1">AF3</text><text x="24.0" y="-59.1">AF4</text><text x="-69.2" y="-46.2">F7</text><text x="-35.7" y="-38.5">F3</text><text x="0.0" y="-37.2">FZ</text><text x="35.7" y="-38.5">F4</text><text x="69.2" y="-46.2">F8</text><text x="-62.1" y="-18.7">FC5</text><text x="-21.1" y="-16.2">FC1</text><text x="21.1" y="-16.2">FC2</text><text x="62.1" y="-18.7">FC6</text><text x="-86.8" y="4.4">T7</text><text x="-43.2" y="4.4">C3</text><text x="0.0" y="4.4">CZ</text><text x="43.2" y="4.4">C4</text><text x="86.8" y="4.4">T8</text><text x="-62.0" y="27.1">CP5</text><text x="-21.2" y="25.0">CP1</text><text x="21.2" y="25.0">CP2</text><text x="62.0" y="27.1">CP6</text><text x="-69.2" y="54.6">P7</text><text x="-35.7" y="46.8">P3</text><text x="0.0" y="45.6">PZ</text><text x="35.7" y="46.8">P4</text><text x="69.2" y="54.6">P8</text><text x="-25.7" y="67.4">PO3</text><text x="25.7" y="67.4">PO4</text><text x="-26.1" y="83.7">O1</text><text x="0.0" y="85.5">OZ</text><text x="26.1" y="83.7">O2</text></g><text x="1" y="-104.1" class="tp" text-anchor="middle"><tspan class="tg">θ</tspan> @3.9-7.8Hz | C</text><rect x="103.3" y="-95.7" width="9.3" height="193" fill="url(#cbg)" stroke="#444" stroke-width="0.7"/><text x="118.3" y="-52.2" class="cbt">0.032</text><text x="118.3" y="-6.0" class="cbt">0.03</text><text x="118.3" y="40.1" class="cbt">0.028</text><text x="118.3" y="86.4" class="cbt">0.026</text><path d="M112.6 -58.1h-2M112.6 -11.9h-2M112.6 34.2h-2M112.6 80.5h-2" stroke="#262626" stroke-width="0.8"/><text transform="translate(183.5 -3.8) rotate(-90)" class="cbl" text-anchor="middle">PSD [<tspan class="mu">μ</tspan>V<tspan class="s2" dy="-6">2</tspan><tspan dy="6">/Hz]</tspan></text></g>
<g transform="translate(815.0 1565.3)"><g clip-path="url(#dc)"><g filter="url(#bl)" class="fl"><path stroke="#30123b" d="M-56 -74h4m-12 4h16m104 0h8m-132 4h24m96 0h16m-140 4h32m92 0h20m-144 4h36m84 0h24m-148 4h40m84 0h28m-156 4h44m80 0h36m-160 4h44m80 0h36m-164 4h48m76 0h44m-168 4h48m76 0h44m-172 4h52m76 0h48m-176 4h52m76 0h48m-180 4h56m76 0h52m-184 4h56m76 0h52m-180 4h48m80 0h52m-176 4h44m84 0h44m-168 4h40m84 0h36m-156 4h36m92 0h20m-144 4h28m-24 4h20"/>
<path stroke="#351e58" d="M-52 -74h4m0 4h4m96 0h4m-100 4h4m88 0h4m-92 4h4m84 0h4m-8 4h4m-84 4h4m76 0h4m-84 4h4m72 0h4m-80 4h4m72 0h4m-80 4h4m-4 4h4m-4 4h4m68 0h4m-4 4h4m-4 4h4m-4 4h4m-132 4h4m48 0h4m-52 4h4m44 0h4m76 0h4m-128 4h4m160 0h4m-164 4h4m124 0h4m20 0h4m-152 4h4m28 0h4m96 0h12m-140 4h4m20 0h4m-20 4h16"/>
<path stroke="#392a73" d="M-52 -78h4m0 4h4m96 0h4m-100 4h4m88 0h4m-92 4h4m0 4h4m76 0h4m-84 4h4m72 4h4m-76 4h4m64 8h4m-4 4h4m-76 8h4m-4 4h4m68 8h4m-132 4h4m176 0h4m-132 4h4m76 0h4m40 0h4m-128 4h4m80 0h4m28 0h4m-28 4h4m12 0h4m-116 4h4m-28 4h4m16 0h4m-16 4h8"/>
<path stroke="#3d358b" d="M-48 -78h8m88 0h4m-96 4h4m88 0h4m-92 4h4m80 0h4m-84 4h4m76 0h4m-80 4h4m68 0h4m-76 4h4m68 0h4m-76 4h4m64 4h4m-72 4h4m64 0h4m-72 4h4m-4 4h4m60 4h4m-4 4h4m-4 4h4m-72 4h4m64 0h4m-72 4h4m-4 4h4m68 0h4m-128 4h4m172 0h4m-176 4h4m160 0h4m-164 4h4m36 0h4m84 0h4m20 0h4m-152 4h4m32 0h4m96 0h4m-136 4h4m24 0h4m-28 4h8m8 0h4"/>
<path stroke="#4040a2" d="M-44 -82h4m0 4h4m80 0h4m-88 4h4m80 0h4m-84 4h4m0 4h4m68 0h4m-72 4h4m-4 4h4m60 0h4m-68 4h4m60 0h4m-68 4h4m-4 4h4m56 0h4m-4 4h4m-4 4h4m-68 4h4m-4 4h4m60 12h4m-128 8h4m52 0h4m68 0h4m-128 4h4m48 0h4m72 0h4m40 0h4m-44 4h4m28 0h4m-160 4h4m128 0h8m4 0h8m-148 4h4m0 4h4m20 0h4m-20 4h16m52 76h24"/>
<path stroke="#424bb5" d="M-40 -82h4m0 4h4m-4 4h4m72 0h4m-76 4h4m68 0h4m-72 4h4m60 0h4m-4 4h4m-64 4h4m-4 4h4m52 0h4m-4 4h4m-64 8h4m-4 4h4m52 0h4m-4 4h4m-4 4h4m-64 4h4m56 0h4m-64 4h4m56 0h4m0 8h4m-4 4h4m0 4h4m48 0h4m-176 4h4m44 0h4m72 0h4m36 0h4m-120 4h4m80 0h4m20 0h4m-116 4h4m-40 4h4m28 0h4m-28 4h4m16 0h4m-16 4h4m52 72h8"/>
<path stroke="#4456c7" d="M-36 -82h4m72 0h4m-4 4h4m-76 4h4m64 0h4m-68 4h4m60 0h4m-64 4h4m52 0h4m-60 4h4m52 0h4m-4 4h4m-60 8h4m48 0h4m-56 4h4m48 0h4m-4 4h4m-60 8h4m-4 4h4m-8 12h4m56 0h4m-64 4h4m56 0h4m-64 4h4m-64 4h4m56 0h4m-60 4h4m0 4h4m124 0h4m28 0h4m-160 4h4m40 0h4m84 0h20m-112 4h4m-36 4h4m24 0h4m-28 4h8m4 0h8m52 68h32"/>
<path stroke="#4661d6" d="M-36 -86h4m0 4h4m64 0h4m-72 4h4m64 0h4m-68 4h4m56 0h4m-60 4h4m52 0h4m-56 4h4m-4 4h4m44 0h4m-52 4h4m44 0h4m-52 4h4m44 0h4m-52 4h4m40 4h4m-52 4h4m44 0h4m-52 4h4m44 0h4m-4 4h4m-4 4h4m-56 4h4m48 0h4m-4 4h4m0 12h4m0 4h4m-128 4h4m56 0h4m64 0h4m44 0h8m-124 4h4m68 0h4m36 0h4m-168 4h4m128 0h4m20 0h4m-156 4h4m40 0h4m-44 4h4m32 0h4m-40 4h8m20 0h4m-24 4h16m52 64h4m-12 4h4"/>
<path stroke="#466be3" d="M-32 -86h8m56 0h4m-64 4h4m56 0h4m-64 4h8m52 0h4m-60 4h8m44 0h4m-52 4h4m44 0h4m-48 4h4m40 0h4m-48 4h4m36 0h4m-44 4h4m36 0h4m-44 4h4m36 0h4m-4 4h4m-48 4h4m-4 4h4m-8 8h4m-8 12h4m-4 4h4m48 0h4m-56 4h4m48 0h4m-56 4h4m-4 4h4m52 0h4m0 4h4m-124 4h4m120 0h4m44 0h4m-176 4h4m52 0h4m72 0h4m28 0h4m-164 4h4m132 0h24m-156 4h4m-4 4h4m32 0h4m-36 4h8m16 0h8m-24 4h12m96 56h4m-48 4h4m-12 4h4"/>
<path stroke="#4776ee" d="M-28 -90h8m-4 4h4m48 0h4m-56 4h8m44 0h4m-52 4h4m40 0h8m-48 4h4m36 0h4m-44 4h4m36 0h4m-40 4h4m28 0h8m-40 4h4m28 0h4m-36 4h4m28 0h4m-36 4h4m28 0h4m-40 4h4m32 0h4m-40 4h4m32 0h4m-4 4h4m-44 4h4m36 0h4m-44 4h4m36 0h4m-48 4h4m40 0h4m-48 4h4m40 0h4m-4 4h4m-4 4h4m0 8h4m-4 4h4m-56 4h4m52 0h4m-124 4h4m60 0h4m56 0h4m52 0h4m-184 4h4m60 0h4m64 0h4m36 0h8m-176 4h4m52 0h4m76 0h4m24 0h4m-164 4h4m44 0h4m92 0h12m-156 4h4m40 0h4m-44 4h4m32 0h4m-36 4h8m12 0h8m-20 4h4m64 52h40m-48 4h4m-12 4h4"/>
<path stroke="#4680f6" d="M-20 -90h8m32 0h8m-48 4h8m32 0h8m-44 4h8m28 0h8m-44 4h8m28 0h4m-36 4h8m20 0h8m-36 4h8m20 0h8m-32 4h4m20 0h4m-28 4h4m20 0h4m-28 4h4m20 0h4m-28 4h4m20 0h4m-32 4h4m24 0h4m-32 4h4m24 0h4m-36 4h4m28 0h4m-36 4h4m28 0h4m-4 4h4m-40 4h4m32 0h4m-4 4h4m-44 4h4m36 0h4m-44 4h4m-4 4h4m40 0h4m-48 4h4m40 0h4m-48 4h4m-4 4h4m44 0h4m0 4h4m4 4h4m48 0h4m-184 4h4m60 0h4m68 0h4m32 0h8m-176 4h4m52 0h4m80 0h8m12 0h8m-168 4h4m48 0h4m-52 4h4m-4 4h8m28 0h4m-36 4h12m4 0h12m92 48h12m-56 4h4m-12 4h4m-12 4h4"/>
<path stroke="#458afc" d="M-12 -90h32m-32 4h32m-28 4h28m-28 4h28m-24 4h20m-20 4h20m-20 4h20m-20 4h20m-20 4h20m-20 4h20m-24 4h8m8 0h8m-24 4h4m12 0h8m-28 4h4m20 0h4m-28 4h4m20 0h4m-32 4h4m24 0h4m-4 4h4m-36 4h4m28 0h4m0 8h4m-4 4h4m-4 4h4m0 4h4m-4 4h4m-48 4h4m44 0h4m-52 4h4m52 0h4m0 4h8m44 0h4m-184 4h4m60 0h4m72 0h4m28 0h12m-184 4h4m56 0h4m84 0h28m-176 4h8m44 0h4m104 0h8m-164 4h4m40 0h4m-48 4h8m28 0h4m-36 4h28m-24 4h12m144 12h4m-8 4h4m-8 8h4m-8 4h4m-12 4h8m-16 4h8m-44 4h28m-64 12h4"/>
<path stroke="#4294ff" d="M0 -50h8m-12 4h12m-16 4h20m-20 4h4m8 0h8m-24 4h4m16 0h4m-28 4h8m16 0h4m-28 4h4m20 0h4m-32 4h4m28 0h4m-36 4h4m28 0h4m-36 4h4m28 0h4m-36 4h4m28 0h4m-36 4h4m32 0h4m-40 4h4m32 0h4m-40 4h4m36 0h4m-44 4h4m44 0h4m-56 4h4m52 0h4m4 4h8m4 4h4m28 0h8m-128 4h4m92 0h8m8 0h16m-184 4h4m48 0h4m104 0h24m-140 4h4m120 0h12m-176 4h4m28 0h4m128 0h12m-172 4h4m12 0h8m136 0h8m-168 4h16m144 0h8m-164 4h4m148 0h8m-8 4h4m-8 4h4m-4 4h4m-8 4h4m-8 4h4m-12 4h4m-12 4h4m-44 4h8m-20 4h4m-12 4h4m-16 4h4"/>
<path stroke="#3d9efe" d="M-4 -38h8m-12 4h16m-16 4h16m-20 4h8m4 0h8m-24 4h8m12 0h8m-28 4h4m16 0h8m-28 4h4m20 0h4m-28 4h4m20 0h4m-28 4h4m24 0h4m-32 4h4m24 0h4m-32 4h4m28 0h4m0 4h8m-48 4h4m44 0h4m-56 4h4m56 0h4m-68 4h4m68 0h8m-84 4h4m80 0h8m0 4h8m-112 4h4m104 0h12m-128 4h4m116 0h8m-136 4h4m124 0h8m-144 4h8m128 0h8m-152 4h12m132 0h4m-152 4h8m140 0h4m-8 4h4m-4 4h4m-8 4h4m-8 4h4m-12 4h4m-20 4h12m-44 4h4m-16 4h4m-12 4h4"/>
<path stroke="#37a8fa" d="M-4 -26h4m-8 4h12m-16 4h16m-16 4h20m-20 4h20m-20 4h24m-24 4h8m8 0h8m-24 4h4m20 0h4m-32 4h4m28 0h4m-36 4h4m36 0h4m-48 4h4m48 0h4m-60 4h4m60 0h4m-72 4h4m72 0h4m-88 4h4m88 0h4m-100 4h4m96 0h4m-112 4h4m108 0h4m-124 4h4m116 0h4m-128 4h4m120 0h4m-132 4h4m124 0h4m-140 4h8m128 0h4m-144 4h8m128 0h4m-4 4h4m-8 4h4m-8 4h4m-12 4h4m-36 4h20m-36 4h4m-24 8h4"/>
<path stroke="#2fb2f4" d="M-4 -2h8m-12 4h20m-24 4h8m12 0h8m-28 4h4m24 0h8m-40 4h4m36 0h8m-52 4h4m52 0h4m4 4h4m-80 4h4m80 0h4m0 4h4m-104 4h4m100 0h4m-116 4h4m108 0h4m-120 4h4m112 0h4m-124 4h4m116 0h4m-128 4h4m120 0h4m-132 4h4m-8 4h4m124 0h4m-132 4h4m120 0h4m-8 4h4m-16 4h8m-40 4h8m-20 4h4m-12 4h4m-16 4h4"/>
<path stroke="#27bee9" d="M-4 6h12m-16 4h4m12 0h8m-28 4h4m24 0h8m4 4h8m-60 4h4m60 0h4m-72 4h4m72 0h4m-88 4h4m84 0h4m-96 4h4m92 0h4m-108 4h4m100 0h4m-112 4h4m-8 4h4m-8 4h4m112 0h4m-124 4h4m116 0h4m-128 4h4m116 0h4m-124 4h4m112 0h4m-120 4h4m108 0h4m-24 4h12m-36 4h4m-24 8h4m-20 4h8"/>
<path stroke="#20c7df" d="M-4 10h12m-16 4h4m16 0h4m-32 4h4m32 0h8m-48 4h4m48 0h8m-64 4h4m64 0h4m-80 4h4m76 0h4m0 4h4m-100 4h4m-8 4h4m100 0h4m-4 4h4m-120 8h4m108 0h4m-120 4h4m-4 4h4m104 0h4m-112 4h4m96 0h8m-108 4h4m72 0h12m-28 4h4m-12 4h4m-16 4h4"/>
<path stroke="#1bd0d5" d="M-4 14h16m-24 4h4m24 0h4m-36 4h4m36 0h8m8 4h4m-72 4h4m68 0h4m-84 4h4m80 0h4m-92 4h4m88 0h4m-4 4h4m-108 4h4m100 0h4m-112 4h4m104 0h4m-116 8h4m104 0h4m-112 4h4m96 0h4m-104 4h4m88 0h4m-96 4h4m60 0h8m-28 8h4m-32 4h4m8 0h8"/>
<path stroke="#18d7ca" d="M-8 18h24m-28 4h4m24 0h8m-44 4h4m48 0h8m0 4h4m-76 4h4m76 4h4m-96 4h4m-8 4h4m-8 4h4m96 0h4m-108 4h4m100 0h4m-108 4h4m96 0h4m-12 4h4m-20 4h12m-32 4h4m-60 4h4m44 0h4m-48 4h4m8 4h8"/>
<path stroke="#18dec0" d="M-8 22h4m16 0h4m-32 4h4m36 0h8m-56 4h4m56 0h4m4 4h4m-84 4h4m-8 4h4m84 0h4m-4 4h4m-104 8h4m92 0h4m-8 4h4m-100 4h4m84 0h4m-92 4h4m64 0h8m-76 4h4m48 0h4m-52 4h4m36 0h4m-40 4h8m20 0h4"/>
<path stroke="#1ae4b6" d="M-4 22h16m-24 4h4m24 0h8m-44 4h4m48 0h4m-64 4h4m64 0h4m-76 4h4m72 0h4m-4 4h4m-92 4h4m84 0h4m-96 4h4m88 0h4m-8 4h4m-96 4h4m84 0h4m-92 4h4m72 0h8m-84 4h4m52 0h8m-64 4h4m0 4h4m4 4h20"/>
<path stroke="#20eaac" d="M-8 26h4m12 0h8m-32 4h4m36 0h8m-56 4h4m56 0h4m0 4h4m-80 4h4m-8 4h4m-8 4h4m80 0h4m-92 4h4m76 4h4m-20 4h8m-24 4h4m-52 4h4m36 0h4m-40 4h4m24 0h4"/>
<path stroke="#2aefa1" d="M-4 26h12m-20 4h4m24 0h8m-44 4h4m48 0h4m-64 4h4m60 0h4m0 4h4m-4 4h4m-8 8h4m-88 4h4m68 0h8m-80 4h4m52 0h8m-64 4h4m32 4h4m-32 4h4m16 0h4"/>
<path stroke="#35f394" d="M-8 30h4m12 0h8m-32 4h4m32 0h12m-56 4h4m52 0h4m-68 4h4m64 0h4m-76 4h4m68 0h4m-80 4h4m72 0h4m-84 4h4m68 0h8m-20 4h8m-20 4h4m-12 4h4m-44 4h4m4 4h4m8 0h4"/>
<path stroke="#43f787" d="M-4 30h12m-20 4h4m20 0h8m-40 4h4m40 0h8m-60 4h4m56 0h4m-4 8h4m-12 4h4m-72 4h4m52 0h4m-60 4h4m40 0h4m-48 4h4m32 0h4m-36 4h4m20 0h4m-20 4h8"/>
<path stroke="#52fa7a" d="M-8 34h4m8 0h8m-28 4h4m28 0h8m-48 4h4m44 0h8m-64 4h4m56 0h8m-72 4h4m56 0h8m-72 4h4m52 0h8m-20 4h8m-16 4h4m-12 4h4m-12 4h4"/>
<path stroke="#61fc6c" d="M-4 34h8m-16 4h4m16 0h8m-36 4h4m32 0h8m-52 4h4m40 0h12m-12 4h8m-16 4h8m-56 4h4m36 0h4m-44 4h4m28 0h4m-36 4h4m0 4h4"/>
<path stroke="#71fe5f" d="M-8 38h16m-24 4h4m20 0h8m-40 4h4m32 0h4m-48 4h4m36 0h8m-52 4h4m36 0h4m-12 4h4m-36 8h4m16 0h4m-20 4h12"/>
<path stroke="#80ff53" d="M-12 42h8m4 0h8m-28 4h4m20 0h8m-40 4h4m28 0h4m-40 4h4m24 0h8m-40 4h4m24 0h4m-32 4h4m20 0h4m-12 4h4"/>
<path stroke="#8fff49" d="M-4 42h4m-16 4h20m-28 4h4m12 0h12m-12 4h4m-8 4h4m-8 4h4m-20 4h4m4 0h4"/>
<path stroke="#9cfe40" d="M-20 50h12m-20 4h20m-24 4h4m12 0h4m-20 4h4m8 0h4m-12 4h4"/>
<path stroke="#a9fb39" d="M-28 58h12m-12 4h8"/></g></g><path class="ct" d="M64.5 -57.2l-4.5 3.5 -4.5 4.7 -3 4.1 -3.1 5.9 -2 6 -.6 4.5 .3 4.5 1.4 4.5 2.5 3.9 3 2.7 4.5 2 4.5 .5 4.5 -.7 4.5 -1.9 5.2 -3.5 5.3 -4.8M-82.5 -24.6l4.7 6.6 4.2 4.5 4.6 3.7 4.5 2.4 4.5 1.2 4.5 -.3 4.4 -2.5 2.4 -3 2.6 -6 1.6 -7.5 .4 -9 -1 -7.5 -2.3 -6 -3.6 -4.9 -4.5 -3.9 -6 -3.3M49.8 -69l-4.8 8.4 -3.7 8.1 -2.5 7.5 -2.4 10.5 -.5 6 .4 6 1.7 6 2.4 4.5 3.8 4.5 5.3 3.8 6 2.5 6 .8 4.5 -.4 6 -1.9 13.8 -7.8M-85.5 -10.8l15 13.9 4.5 3.2 4.5 2 6 .8 6 -1.2 4.5 -2.5 3.9 -3.9 2.2 -4.5 1.7 -6 5.6 -31.5 .6 -9 -.7 -6 -1.6 -4.5 -4 -6 -6.6 -7.5M32.5 -79.5l-6.8 22.5 -1.4 9 -.9 12 .1 9 1.3 9 1.9 6 3.2 6 5.5 6 6.6 4.5 9 4.3 9 2.3 6 .2 6 -1.4 6 -2.9 7.9 -5.5M-85.8 4.5l7.8 11.9 4.2 4.6 4.8 3.1 6 1.4 4.5 -.3 4.5 -1 9 -3.6 8.5 -5.6 5.5 -6 2.3 -4.5 1.7 -6 .8 -16.5 .8 -4.5 9.2 -25.5 1.6 -6 .5 -4.5 -.6 -6 -1.8 -4.5 -7.5 -10.1 -2 -3.4M24 82.9l-18 .4 -4.5 .7 -4.5 1.8M-67.6 51l4.3 -4.5 5.5 -4.5 28.4 -18 7.7 -6 6.3 -7.5 4.6 -7.5 2.5 -6 2.3 -10.1 .9 -1.9 2.1 -1.7 1.5 .4 10.2 13.3 6.2 6 5.8 4.5 7.6 4.5 21.2 9.4 6 3.5 4.9 3.6 3 3 2.5 4.5 .7 3 -.3 4.5 -2.9 9 -3.3 6 -5.5 6 -6.6 4.2 -6 2.3 -7.5 1.7 -24 2.1 -7.5 1.2 -6 1.9 -15 6.7M-4.5 20.9l6 -1.3 6 .4 13.5 4.3 12 2.9 6.7 2.8 5.3 4.1 3.2 4.9 1 6 -1.4 6 -1.8 3 -2.7 3 -4.3 3 -4.5 2.1 -7.5 2.1 -21 3.7 -7.5 2.4 -18 7.6 -13.5 2M-53.1 67.5l-.4 -4.5 1.5 -6 2.5 -4.5 4.5 -5.3 16.9 -12.7 17.6 -10.8 6 -2.8M-1.5 33l4.5 -.1 6 1 17.2 6.6 4 3 .4 1.5 -1.6 3 -4.6 3 -24.4 10 -19.5 10.1 -6 1.2 -4.5 -.1 -4.5 -1.5 -2.5 -1.7 -2.8 -4.5 -.2 -4.5 1.6 -4.5 3.5 -4.5 6.4 -5.3 9 -5.6 10.5 -5.1 7.5 -2"/><circle r="89.2" fill="none" stroke="#edf5ff" stroke-width="6"/><circle r="80.6" class="hd"/><path class="hd" d="M-14.5 -79.9L-3.2 -92.2Q0 -93.6 3.2 -92.2L14.5 -79.9M-79.2 -15.4L-82.1 -18.9 -83.4 -19.0 -85.3 -18.5 -87.2 -15.4 -86.9 0.9 -88.1 15.0 -85.7 21.1 -82.1 22.3 -77.9 19.3M79.2 -15.4L82.1 -18.9 83.4 -19.0 85.3 -18.5 87.2 -15.4 86.9 0.9 88.1 15.0 85.7 21.1 82.1 22.3 77.9 19.3"/><g class="el"><text x="-25.7" y="-74.8">FP1</text><text x="25.7" y="-74.8">FP2</text><text x="-24.0" y="-59.1">AF3</text><text x="24.0" y="-59.1">AF4</text><text x="-69.2" y="-46.2">F7</text><text x="-35.7" y="-38.5">F3</text><text x="0.0" y="-37.2">FZ</text><text x="35.7" y="-38.5">F4</text><text x="69.2" y="-46.2">F8</text><text x="-62.1" y="-18.7">FC5</text><text x="-21.1" y="-16.2">FC1</text><text x="21.1" y="-16.2">FC2</text><text x="62.1" y="-18.7">FC6</text><text x="-86.8" y="4.4">T7</text><text x="-43.2" y="4.4">C3</text><text x="0.0" y="4.4">CZ</text><text x="43.2" y="4.4">C4</text><text x="86.8" y="4.4">T8</text><text x="-62.0" y="27.1">CP5</text><text x="-21.2" y="25.0">CP1</text><text x="21.2" y="25.0">CP2</text><text x="62.0" y="27.1">CP6</text><text x="-69.2" y="54.6">P7</text><text x="-35.7" y="46.8">P3</text><text x="0.0" y="45.6">PZ</text><text x="35.7" y="46.8">P4</text><text x="69.2" y="54.6">P8</text><text x="-25.7" y="67.4">PO3</text><text x="25.7" y="67.4">PO4</text><text x="-26.1" y="83.7">O1</text><text x="0.0" y="85.5">OZ</text><text x="26.1" y="83.7">O2</text></g><text x="1" y="-104.1" class="tp" text-anchor="middle"><tspan class="tg">α</tspan> @7.8-13.2Hz | C</text><rect x="103.3" y="-95.7" width="9.3" height="193" fill="url(#cbg)" stroke="#444" stroke-width="0.7"/><text x="118.3" y="-85.9" class="cbt">0.07</text><text x="118.3" y="-52.2" class="cbt">0.065</text><text x="118.3" y="-19.0" class="cbt">0.06</text><text x="118.3" y="14.4" class="cbt">0.055</text><text x="118.3" y="47.8" class="cbt">0.05</text><text x="118.3" y="81.2" class="cbt">0.045</text><path d="M112.6 -91.8h-2M112.6 -58.1h-2M112.6 -24.9h-2M112.6 8.5h-2M112.6 41.9h-2M112.6 75.3h-2" stroke="#262626" stroke-width="0.8"/><text transform="translate(183.5 -3.8) rotate(-90)" class="cbl" text-anchor="middle">PSD [<tspan class="mu">μ</tspan>V<tspan class="s2" dy="-6">2</tspan><tspan dy="6">/Hz]</tspan></text></g>
<g transform="translate(1128.7 1565.3)"><g clip-path="url(#dc)"><g filter="url(#bl)" class="fl"><path stroke="#30123b" d="M12 54h8m-16 4h24m-24 4h28m-32 4h32m-32 4h32m-36 4h36m-36 4h32m-36 4h36m-36 4h36m-36 4h36"/>
<path stroke="#351e58" d="M8 54h4m8 0h4m-24 8h4m-8 8h4m32 0h4m-44 8h4m32 0h4m-4 4h4m-4 4h4"/>
<path stroke="#392a73" d="M12 50h4m-12 4h4m-8 4h4m-8 8h4m32 0h4m-44 8h4m36 0h4m-4 4h4m-4 4h4m-48 4h4m40 0h4m-48 4h4"/>
<path stroke="#3d358b" d="M4 50h8m4 0h4m-20 4h4m20 0h4m0 4h4m-36 4h4m32 0h4m0 12h4m-4 4h4m-52 4h4m44 0h4"/>
<path stroke="#4040a2" d="M60 -70h4m0 4h4m0 4h4m-52 112h4m-28 8h4m-8 12h4m40 0h4m-52 8h4m48 4h4m-60 8h4"/>
<path stroke="#424bb5" d="M64 -62h4m0 4h4m0 4h4m0 4h4m-76 96h12m-16 4h4m-12 16h4m40 0h4m0 8h4m-4 4h4m-60 8h4"/>
<path stroke="#4456c7" d="M40 -82h4m4 4h4m0 4h4m0 4h4m0 4h4m-136 4h4m136 8h4m0 4h4m0 4h4m0 4h4m-68 88h4m4 4h4m-32 4h4m28 0h4m0 4h4m-44 4h4m40 0h4m0 8h4m-56 4h4m52 4h4m-64 4h4"/>
<path stroke="#4661d6" d="M24 -90h4m4 4h4m0 4h4m4 4h4m0 4h4m-116 4h4m112 0h4m-124 4h4m120 0h4m-128 4h4m124 0h4m-136 4h4m132 0h4m-144 4h8m-12 4h4m160 16h4m-84 76h12m-16 4h4m16 0h4m-28 4h4m-8 8h4m44 8h4m-56 4h4m52 4h4m0 4h4m-72 12h4"/>
<path stroke="#466be3" d="M20 -90h4m0 4h8m0 4h4m4 4h4m0 4h4m-108 4h4m104 0h4m-116 4h4m112 0h4m-120 4h4m116 0h4m-128 4h4m124 0h4m-132 4h4m128 0h4m-144 4h8m136 0h4m-152 4h4m148 0h4m0 4h4m0 4h4m4 12h4m-92 68h4m12 0h4m-32 24h4m52 4h4m-64 8h4m-8 8h4"/>
<path stroke="#4776ee" d="M16 -90h4m0 4h4m4 4h4m4 4h4m-96 4h4m92 0h4m-104 8h4m-4 4h4m-8 4h4m116 0h4m0 4h4m-132 4h4m128 0h4m-144 4h4m140 0h4m-156 4h4m152 0h4m0 4h4m0 4h4m0 4h4m0 8h4m-88 60h12m-20 8h4m24 0h4m0 4h4m-40 4h4m36 0h4m0 4h4m-52 4h4m48 0h4m-60 12h4m60 0h4m-72 8h4m-8 8h4"/>
<path stroke="#4680f6" d="M12 -90h4m0 4h4m4 4h4m-80 4h4m80 0h4m-88 4h4m84 0h4m-96 4h4m96 0h4m-104 4h4m100 0h4m0 4h4m-116 4h4m-8 4h4m-12 8h4m-12 4h4m160 16h4m-80 60h4m-12 4h4m12 0h4m-24 4h4m20 0h4m-32 8h4m-8 8h4m52 8h4m-64 4h4m60 0h4m0 4h4"/>
<path stroke="#458afc" d="M4 -90h8m0 4h4m4 4h4m-72 4h4m68 0h8m0 4h4m-88 4h4m88 0h4m-96 4h4m92 0h4m-104 4h4m100 0h4m-108 4h4m104 0h4m-116 4h4m112 0h4m-124 4h4m120 0h4m-132 4h4m128 0h4m-144 4h8m136 0h4m-156 4h4m152 0h4m0 4h4m0 4h4m4 12h4m-88 52h4m4 0h4m-24 12h4m-16 32h4m-8 8h4"/>
<path stroke="#4294ff" d="M-4 -90h8m0 4h8m-56 4h4m52 0h8m-64 4h4m60 0h4m-72 4h4m72 0h4m-80 4h4m80 0h4m0 4h4m-96 4h4m92 0h4m-100 4h4m96 0h4m-108 4h4m104 0h4m-116 4h4m112 0h4m-124 4h4m120 0h4m-132 4h4m128 0h4m-148 4h8m-16 4h4m164 8h4m0 4h4m0 8h4m-88 44h8m-12 4h4m12 0h4m-24 4h4m20 0h4m-32 4h4m28 0h4m0 4h4m0 4h4m-48 4h4m44 0h4m0 4h4m0 4h4m-64 4h4m60 0h4m0 4h4m-76 4h4m-8 8h4m-8 8h4"/>
<path stroke="#3d9efe" d="M-28 -90h24m-32 4h8m28 0h4m-44 4h8m40 0h4m-52 4h4m52 0h4m-64 4h4m64 0h4m-72 4h4m72 0h4m-84 4h4m-4 4h4m88 4h4m-100 4h4m96 0h4m-108 4h4m104 0h4m-116 4h4m112 0h4m-124 4h4m-12 4h4m136 0h4m-156 4h4m152 0h4m-84 4h12m72 0h4m-88 4h16m-12 4h12m76 4h4m0 8h4m-92 40h4m8 0h4m-20 4h4m-12 16h4m-8 12h4m64 4h4m0 4h4m-88 16h4"/>
<path stroke="#37a8fa" d="M-28 -86h28m-32 4h4m28 0h8m-44 4h4m40 0h8m-56 4h4m56 0h4m-64 4h4m64 0h4m-76 4h4m76 0h4m-84 4h4m80 0h4m-92 4h4m-4 4h4m88 0h4m-100 4h4m96 0h4m-108 4h4m-8 4h4m116 0h4m-132 4h4m56 0h12m60 0h4m-148 4h8m60 0h24m-100 4h4m72 0h4m12 0h8m-24 4h4m16 0h4m-24 4h8m12 0h4m68 0h4m-92 4h20m-12 4h8m76 0h4m0 8h4m-88 32h12m0 4h4m0 4h4m-32 4h4m-8 8h4m-8 12h4m56 0h4m0 4h4m-72 8h4m76 0h4m-88 8h4"/>
<path stroke="#2fb2f4" d="M-28 -82h28m-32 4h4m28 0h8m-44 4h4m44 0h8m-56 4h4m56 0h4m-68 4h4m68 0h4m-76 4h4m72 0h4m-84 4h4m80 0h4m-88 4h4m-8 4h4m88 0h4m-100 4h4m100 0h4m-112 4h4m36 0h24m48 0h4m-124 4h4m44 0h8m12 0h8m-84 4h4m48 0h8m24 0h4m52 0h4m-156 4h4m64 0h4m24 0h4m56 0h4m-168 4h4m72 0h4m24 0h4m60 0h4m-96 4h4m24 0h4m-28 4h4m20 0h4m-24 4h8m8 0h4m-16 4h12m80 8h4m-88 24h8m-12 4h4m-8 4h4m24 8h4m-40 4h4m36 0h4m4 8h4m-56 4h4m52 0h4m-64 12h4m72 0h4m-88 16h4m-8 4h4"/>
<path stroke="#27bee9" d="M-28 -78h28m-32 4h8m20 0h16m-44 4h4m44 0h8m-60 4h4m60 0h4m-68 4h4m64 0h4m-76 4h8m68 0h4m-80 4h4m76 0h4m-88 4h8m24 0h12m40 0h4m-92 4h8m20 0h28m36 0h8m-104 4h4m24 0h8m24 0h8m36 0h4m-116 4h4m32 0h8m28 0h8m40 0h4m-132 4h4m40 0h4m36 0h4m44 0h4m-148 4h4m56 0h4m32 0h4m-108 4h4m64 0h4m32 0h4m-4 4h4m56 0h4m-96 4h4m92 0h4m-96 4h4m20 0h4m-24 4h4m12 0h4m72 0h4m-92 4h12m-8 4h8m-4 20h8m-12 4h4m8 0h4m-20 4h4m16 0h4m0 4h4m-32 4h4m36 12h4m-52 4h4m60 8h4m-72 4h4m68 0h4m4 4h4m-88 8h4"/>
<path stroke="#20c7df" d="M-24 -74h20m-24 4h44m-48 4h8m48 0h4m-60 4h8m52 0h4m-64 4h8m12 0h12m32 0h4m-72 4h40m32 0h4m-76 4h24m12 0h12m24 0h4m-80 4h20m28 0h8m24 0h4m-92 4h8m8 0h8m40 0h8m24 0h4m-108 4h4m24 0h4m44 0h4m32 0h4m-124 4h4m32 0h4m44 0h4m-100 4h4m48 0h4m40 0h4m44 0h4m-156 4h4m56 0h4m40 0h4m48 0h4m-168 4h4m68 0h4m32 4h4m60 4h4m-72 4h4m-24 4h4m12 0h4m72 0h4m-92 4h4m8 0h4m-12 4h8m80 0h4m-92 4h8m-8 4h8m-8 4h12m-12 4h4m8 0h4m-20 4h4m16 0h4m-28 8h4m28 4h4m-40 4h4m-8 8h4m56 8h4m-68 4h4m72 4h4m4 4h4m-92 4h4m-8 8h4m-8 4h4m-8 4h4"/>
<path stroke="#1bd0d5" d="M-24 -66h48m-48 4h36m-36 4h12m12 0h12m16 0h4m-28 4h8m16 0h8m-24 4h8m8 0h8m-20 4h24m-80 4h8m56 0h24m-100 4h8m8 0h8m52 0h8m20 0h4m-116 4h4m24 0h4m52 0h4m32 0h4m-136 4h8m36 0h4m48 0h4m36 0h4m-148 4h4m52 4h4m40 0h4m-44 4h4m92 0h4m-96 4h4m28 0h4m-32 4h4m20 4h4m-24 4h4m88 0h4m-92 4h4m8 0h4m-16 4h4m8 0h4m-4 4h4m-16 4h4m12 0h4m-20 4h4m-8 8h4m24 0h4m-36 8h4m36 4h4m-48 4h4m52 8h4m-64 4h4m68 4h4m4 4h4"/>
<path stroke="#18d7ca" d="M12 -62h16m-16 4h16m-16 4h16m-8 4h8m-72 12h8m68 0h20m-108 4h4m16 0h4m60 0h4m24 0h4m-124 4h4m28 0h4m56 0h4m-108 4h4m44 0h4m48 0h4m40 0h4m-160 4h4m156 0h4m-56 4h4m-8 8h4m60 0h4m-96 4h4m20 4h4m-24 4h4m16 0h4m-4 4h4m72 0h4m-96 4h4m12 0h4m0 8h4m-28 4h4m24 0h4m0 8h4m4 12h4m0 4h4m-60 4h4m64 4h4m12 8h8m-96 4h4m-8 8h4m-8 4h4m-8 4h4"/>
<path stroke="#18dec0" d="M-52 -34h16m68 0h8m12 0h4m-116 4h4m116 0h4m-136 4h4m-16 4h4m104 0h4m-120 4h4m64 0h4m0 4h4m36 0h4m52 0h4m-96 4h4m28 4h4m60 0h4m-96 4h4m92 4h4m-96 4h4m-4 4h4m92 0h4m-100 4h4m20 0h4m-28 4h4m-8 12h4m-8 8h4m-8 8h4m60 4h4m8 8h8m-88 4h4m-8 8h4m-16 12h4"/>
<path stroke="#1ae4b6" d="M40 -34h12m-108 4h4m16 0h4m64 0h4m20 0h4m-128 4h4m32 0h4m56 0h4m32 0h4m-148 4h4m48 0h4m92 0h4m-160 4h4m108 0h4m44 0h4m-92 12h4m28 4h4m-4 12h4m0 8h4m-36 8h4m32 0h4m-44 8h4m40 0h4m-52 8h4m56 4h4m-68 8h4m72 0h4m-80 4h4m84 0h8m-104 16h4m-8 4h4m-12 4h4"/>
<path stroke="#20eaac" d="M-52 -30h16m72 0h4m12 0h4m-120 4h4m24 0h4m64 0h4m24 0h4m-140 4h4m100 0h4m-116 4h4m-12 4h4m64 0h4m0 4h4m36 0h4m52 0h4m0 8h4m-96 4h4m24 0h4m-32 4h4m24 0h4m64 0h4m0 8h4m-104 8h4m40 16h4m0 4h4m-64 8h4m76 4h4m-88 12h4m-8 4h4m-8 4h4m-8 4h4"/>
<path stroke="#2aefa1" d="M40 -30h12m-112 4h4m-16 4h4m36 0h4m92 0h4m-96 4h4m92 0h4m-160 4h4m108 0h4m44 0h4m-56 8h4m-40 4h4m92 4h4m-96 8h4m-4 4h4m28 0h4m-36 4h4m96 0h4m-68 4h4m-44 8h4m40 0h4m-52 8h4m-8 8h4m68 4h4m8 4h4m8 0h4m-104 4h4m-4 4h4m-20 16h4"/>
<path stroke="#35f394" d="M-56 -26h4m12 0h4m72 0h4m16 0h4m-128 4h4m96 0h4m-116 4h4m104 0h4m-124 8h4m68 4h4m92 0h4m-60 4h4m-40 4h4m32 8h4m60 0h4m0 12h4m-108 4h4m-8 8h4m48 0h4m-60 8h4m64 4h4m4 4h4m-84 4h4m88 0h8m-104 12h4m-8 4h4m-8 4h4m-16 4h8"/>
<path stroke="#43f787" d="M-52 -26h12m80 0h16m-120 4h4m24 0h4m92 0h4m-140 4h4m40 0h4m-56 4h4m52 0h4m0 4h4m44 0h4m44 0h4m-56 12h4m-40 4h4m32 0h4m56 0h4m0 8h4m-64 4h4m-44 4h4m40 4h4m56 0h4m-56 12h4m0 4h4m-72 4h4m-4 4h4m80 0h4m16 0h4m-112 12h4m-8 4h4m-8 4h4m-12 4h8"/>
<path stroke="#52fa7a" d="M-60 -22h4m16 0h4m72 0h4m-112 4h4m100 0h4m28 0h4m-148 4h4m104 0h4m36 0h4m-160 4h4m-8 4h4m112 0h4m-48 4h4m92 0h4m-96 12h4m-4 4h4m36 0h4m-44 4h4m96 0h4m-108 12h4m-8 8h4m68 8h4m8 4h16m-108 4h4m-4 4h4m-8 4h4m-12 8h4m-16 4h8"/>
<path stroke="#61fc6c" d="M-56 -22h4m8 0h4m80 0h4m12 0h4m-128 4h4m-20 8h4m56 4h4m92 0h4m0 8h4m0 8h4m-56 12h4m52 0h4m-108 4h4m48 4h4m-60 4h4m104 0h4m-116 8h4m68 0h4m32 0h4m-8 4h4m-112 4h4m-8 8h4m-8 8h4m-16 4h8"/>
<path stroke="#71fe5f" d="M-52 -22h8m88 0h12m-92 4h4m68 0h4m20 0h4m-140 4h4m40 0h4m92 0h4m-96 4h4m52 0h4m36 0h4m-160 4h4m-8 4h4m112 0h4m-48 4h4m40 0h4m-4 4h4m-4 4h4m56 16h4m-4 4h4m-52 4h4m-68 4h4m64 0h4m-76 8h4m80 0h4m16 0h4m-112 8h4m-8 8h4m-12 4h8m-24 4h12"/>
<path stroke="#80ff53" d="M-64 -18h4m92 4h4m-116 4h4m52 8h4m92 0h4m-96 8h4m92 0h4m-100 4h4m96 4h4m-104 4h4m44 0h4m-52 4h4m48 4h4m-60 4h4m100 8h4m-116 4h4m76 0h4m24 0h4m-24 4h16m-108 4h4m-8 8h4m-8 4h4m-28 4h20"/>
<path stroke="#8fff49" d="M-60 -18h4m16 0h4m76 0h4m12 0h4m-132 4h4m-16 8h4m108 0h4m-120 4h4m-8 4h4m68 12h4m44 0h4m48 4h4m-48 12h4m-68 4h4m104 0h4m-12 8h4m-112 4h4m-8 8h4m-8 4h4m-32 4h4m16 0h8"/>
<path stroke="#9cfe40" d="M-56 -18h4m8 0h4m84 0h12m-124 4h4m28 0h4m68 0h4m20 0h4m-140 4h4m40 0h4m60 0h4m28 0h4m-96 4h4m92 0h4m-96 8h4m92 0h4m0 8h4m-48 12h4m44 0h4m-108 4h4m100 0h4m-4 4h4m-44 4h4m-76 4h4m72 0h4m28 0h4m-116 4h4m84 0h4m12 0h4m-112 8h4m-8 4h4m-8 4h4m-24 4h16"/>
<path stroke="#a9fb39" d="M-52 -18h8m-36 12h4m-8 4h4m108 0h4m-120 4h4m112 0h4m-124 4h4m64 0h4m48 0h4m-4 4h4m44 4h4m-104 8h4m-8 8h4m100 4h4m-24 8h12m-108 4h4m-8 4h4m-8 4h4m-28 4h24"/>
<path stroke="#b4f836" d="M-64 -14h4m20 0h4m76 0h4m12 0h4m-132 4h4m40 8h4m92 0h4m0 8h4m-168 4h4m64 0h4m-4 4h4m-4 4h4m52 0h4m40 0h4m-44 8h4m36 4h4m-112 4h4m-8 4h4m80 0h4m20 0h4m-152 16h8m16 0h4"/>
<path stroke="#bef434" d="M-60 -14h4m100 0h12m-92 4h4m68 0h4m20 0h4m-140 4h4m40 0h4m60 0h4m28 0h4m-156 12h4m160 16h4m-108 4h4m100 0h4m-40 4h4m0 4h4m24 0h4m-24 4h4m12 0h4m-112 4h4m-8 4h4m-40 4h4m28 0h4m-24 4h16"/>
<path stroke="#c8ef34" d="M-56 -14h4m8 0h4m-28 4h4m-16 8h4m108 0h4m-120 4h4m52 0h4m92 0h4m0 8h4m-168 4h4m120 0h4m0 8h4m-72 8h4m84 8h12m-144 12h8m16 0h4"/>
<path stroke="#d2e935" d="M-52 -14h8m-20 4h4m100 0h4m12 0h4m-132 4h4m128 0h4m0 4h4m-36 4h4m-64 4h4m-64 4h4m116 0h4m36 4h4m-168 4h4m-4 4h4m60 0h4m-68 4h4m128 0h4m0 4h4m24 0h4m-112 4h4m80 0h4m16 0h4m-112 4h4m-48 4h4m36 0h4m-40 4h4m28 0h4m-24 4h16"/>
<path stroke="#dbe236" d="M-40 -10h4m80 0h4m4 0h4m-20 4h4m-116 4h4m40 0h4m-52 4h4m-8 4h4m112 0h4m32 0h4m-100 4h4m-64 4h4m56 0h4m-4 4h4m60 0h4m32 0h4m-4 4h4m-108 4h4m100 0h4m-164 8h4m136 0h4m-132 12h8m16 0h4"/>
<path stroke="#e3db38" d="M-60 -10h4m104 0h4m-120 4h4m28 0h4m88 0h4m4 8h4m-152 8h4m148 0h4m-160 8h4m-4 4h4m124 0h4m-132 4h4m-4 4h4m48 0h4m100 0h4m-112 4h4m92 0h12m-152 4h4m36 0h4m-40 4h4m28 0h4m-24 4h16"/>
<path stroke="#ebd339" d="M-56 -10h4m8 0h4m80 4h4m-116 4h4m104 0h4m20 0h4m-96 4h4m-52 4h4m112 8h4m28 0h4m-104 8h4m72 4h4m0 4h4m-136 4h4m0 4h4m0 4h4m20 0h4"/>
<path stroke="#f1cb3a" d="M-52 -10h8m-20 4h4m112 0h4m-132 8h4m108 0h4m-72 4h4m92 0h4m-32 4h4m-124 4h4m-4 4h4m48 0h4m68 0h4m24 0h4m-4 4h4m-108 4h4m100 0h4m-156 4h4m132 0h4m8 0h4m-112 4h4m-8 4h4m-28 4h8m8 0h4"/>
<path stroke="#f6c33a" d="M-40 -6h4m80 0h8m-120 4h4m28 0h4m88 0h4m0 4h4m-28 4h4m-120 4h4m44 0h4m92 0h4m-100 4h4m-56 8h4m124 0h4m-132 4h4m128 0h4m-92 4h4m92 0h8m-144 4h4m0 4h4m8 4h8"/>
<path stroke="#faba39" d="M-60 -6h4m96 4h4m-116 4h4m-8 4h4m-8 8h4m116 0h4m20 0h4m-104 8h4m96 4h4m-148 4h4m0 4h4m24 0h4m-28 4h4m16 0h4"/>
<path stroke="#fcb136" d="M-56 -6h4m8 0h4m-24 4h4m104 0h12m-92 4h4m88 0h4m0 4h4m-140 4h4m112 0h4m-124 8h4m40 0h4m76 0h4m16 0h4m-148 4h4m124 0h4m12 0h4m-148 4h4m36 0h4m88 0h4m4 0h4m-108 4h4m-28 8h16"/>
<path stroke="#fea732" d="M-52 -6h8m4 4h4m-32 4h4m104 0h4m-116 4h4m32 0h4m72 0h4m16 4h4m-100 4h4m76 0h4m8 12h4m-136 4h4m0 4h4m16 0h4"/>
<path stroke="#fe9b2d" d="M-60 -2h4m100 4h12m0 4h4m-96 4h4m76 0h4m-124 4h4m132 0h4m-140 4h4m120 0h4m8 0h4m-140 4h4m32 0h4m88 0h12m-140 4h4m28 0h4m-8 4h4m-24 4h4m8 0h4"/>
<path stroke="#fe9029" d="M-56 -2h4m8 0h4m-24 4h4m20 0h4m-32 4h4m108 0h12m-128 4h4m116 0h12m-12 4h12m-100 4h4m88 0h8m-132 12h4m16 0h4m-16 4h8"/>
<path stroke="#fc8423" d="M-52 -2h8m4 8h4m-36 8h4m28 0h4m-8 8h4m-32 4h4m20 0h4m-24 4h4m8 0h4"/>
<path stroke="#f9751d" d="M-60 2h4m-8 4h4m-8 4h4m24 0h4m-36 8h4m-4 4h4m4 8h8"/>
<path stroke="#f56918" d="M-56 2h4m8 0h4m-28 12h4m20 4h4m-8 4h4m-24 4h4m12 0h4"/>
<path stroke="#f15d13" d="M-52 2h8m-16 4h4m12 0h4m-24 4h4m16 0h4m-4 4h4m-28 4h4m16 0h4m-24 4h4m12 0h4m-16 4h12"/>
<path stroke="#ec530f" d="M-56 6h4m4 0h4m-16 4h4m-8 4h4m12 0h4m-20 4h4m-4 4h12"/>
<path stroke="#e7490c" d="M-52 6h4m-8 4h12m-16 4h12m-12 4h12"/></g></g><path class="ct" d="M38.6 76.5l-.8 -6 -1.3 -4.5 -2.4 -4.5 -3.8 -4.5 -4.8 -3.8 -6 -3.5 -4.5 -1.5 -4.5 -.1 -3 .9 -3 2.1 -4.5 5.9 -7.5 17 -4 11.5M11.5 -85.5l12.5 7.5 10.5 4.7 6 4.1 15.8 16.7 17.2 15.6 7.7 8.4M-76.5 -38.4l10.6 -5.1 4.1 -3 4.5 -4.5 4.9 -7.5 5.9 -14.1M52.5 68.4l-12.8 -12.9 -23.2 -21.5 -4.5 -2.6 -4.5 -.3 -3 1.1 -4.5 3.6 -5.6 7.7 -3.4 7.5 -6.6 19.5 -5.6 12M-83.5 -21l8.5 -3.6 24 -8.7 6 -1.2 6 .3 4.5 1.8 4.5 3.7 7.5 9.7 9 10 4.8 7.5 2.5 6 1.3 6 -.1 4.5 -1.3 6 -2.4 6 -9.3 19.5 -4.3 16.5 -1.7 4.4 -4.5 6.9 -4.9 5.2M61.5 58.8l-9 -4 -10.5 -7 -6.8 -5.8 -5.8 -7.5 -11.9 -21 -1.9 -4.5 -.5 -3 0 -4.5 2.1 -7.5 11.9 -21 3.9 -5.3 3 -2.2 3 -1.3 3 -.6 4.5 .1 6 1.4 6 2.6 6 3.6 6 4.9 4.5 5 3.6 5.3 7.2 15M-86.1 -6l8.4 -6 9.4 -4.5 14.3 -4.7 4.5 -.7 4.5 0 4.5 1 3 1.3 6 4.1 7.5 8 4.7 7.5 2.2 6 1 7.5 -.9 7.5 -2.1 6 -3.4 6.4 -8.2 13.1 -4.7 10.5 -2.1 3.3 -3 3.1 -3 2.1 -7.5 3M43.5 -21.5l6 -.7 6 1.1 6 2.9 5.7 4.7 3.8 4.5 4 6.4 6.3 13.1 2.9 7.5M72.6 46.5l-6.6 1.2 -6 -.5 -7.5 -2.4 -6 -3.3 -5 -4 -4 -4.6 -3.8 -5.9 -4.4 -9 -2.4 -6 -1.2 -6 .2 -6 1.3 -4.5 3.1 -6 4.2 -5.2 4.5 -3.7 4.5 -2.1M-85.8 10.5l6.8 -9 7 -6.2 10.5 -5.7 6 -2 4.5 -.9 7.5 .4 6 2.5 3.8 2.9 2.7 3 4.3 7.5 1.3 4.5 .4 4.5 -.3 4.5 -1.1 4.5 -3.9 7.5 -7.2 8.3 -9 8.4 -3 1.9 -4.5 2 -7.5 .8 -10.5 -2.1M43.5 -10.8l3 -.9 4.5 -.1 4.5 1.3 3 1.6 6.4 5.9 5.6 8.9 4 10.6 .8 7.5 -1 4.5 -1.6 3 -2.2 2.4 -3 1.9 -3 .9 -4.5 .3 -4.5 -.8 -4.5 -2 -3.7 -2.7 -3.8 -3.8 -6 -9.3 -3.5 -9.4 -.5 -4.5 .3 -3 1.4 -4.5 2 -3 3.1 -3 3.2 -1.8M-54 -4.5l4.5 -.9 4.5 .2 3 1 3.8 2.7 2.2 3 1.7 4.5 .5 4.5 -.6 4.5 -1.6 4.5 -2.9 4.5 -3.1 3.5 -4.8 4 -4.2 2.5 -4.5 1.6 -4.5 .6 -4.5 -.6 -5.6 -2.6 -4 -4.5 -1.9 -6 .6 -6 2.6 -6 5.3 -6.7 6.9 -5.3 6.6 -3M46.5 -.4l4.5 .3 3 1.5 3 2.7 2.5 3.4 2.3 4.5 1.3 4.5 0 4.5 -1.6 2.5 -3 .7 -4.5 -1.6 -3.8 -3.1 -3.7 -4.8 -2.8 -5.7 -.8 -4.5 .7 -3 2.9 -1.9"/><circle r="89.2" fill="none" stroke="#edf5ff" stroke-width="6"/><circle r="80.6" class="hd"/><path class="hd" d="M-14.5 -79.9L-3.2 -92.2Q0 -93.6 3.2 -92.2L14.5 -79.9M-79.2 -15.4L-82.1 -18.9 -83.4 -19.0 -85.3 -18.5 -87.2 -15.4 -86.9 0.9 -88.1 15.0 -85.7 21.1 -82.1 22.3 -77.9 19.3M79.2 -15.4L82.1 -18.9 83.4 -19.0 85.3 -18.5 87.2 -15.4 86.9 0.9 88.1 15.0 85.7 21.1 82.1 22.3 77.9 19.3"/><g class="el"><text x="-25.7" y="-74.8">FP1</text><text x="25.7" y="-74.8">FP2</text><text x="-24.0" y="-59.1">AF3</text><text x="24.0" y="-59.1">AF4</text><text x="-69.2" y="-46.2">F7</text><text x="-35.7" y="-38.5">F3</text><text x="0.0" y="-37.2">FZ</text><text x="35.7" y="-38.5">F4</text><text x="69.2" y="-46.2">F8</text><text x="-62.1" y="-18.7">FC5</text><text x="-21.1" y="-16.2">FC1</text><text x="21.1" y="-16.2">FC2</text><text x="62.1" y="-18.7">FC6</text><text x="-86.8" y="4.4">T7</text><text x="-43.2" y="4.4">C3</text><text x="0.0" y="4.4">CZ</text><text x="43.2" y="4.4">C4</text><text x="86.8" y="4.4">T8</text><text x="-62.0" y="27.1">CP5</text><text x="-21.2" y="25.0">CP1</text><text x="21.2" y="25.0">CP2</text><text x="62.0" y="27.1">CP6</text><text x="-69.2" y="54.6">P7</text><text x="-35.7" y="46.8">P3</text><text x="0.0" y="45.6">PZ</text><text x="35.7" y="46.8">P4</text><text x="69.2" y="54.6">P8</text><text x="-25.7" y="67.4">PO3</text><text x="25.7" y="67.4">PO4</text><text x="-26.1" y="83.7">O1</text><text x="0.0" y="85.5">OZ</text><text x="26.1" y="83.7">O2</text></g><text x="1" y="-104.1" class="tp" text-anchor="middle"><tspan class="tg">β</tspan> @13.2-29.8Hz | C</text><rect x="103.3" y="-95.7" width="9.3" height="193" fill="url(#cbg)" stroke="#444" stroke-width="0.7"/><text x="118.3" y="-72.8" class="cbt">0.018</text><text x="118.3" y="-37.9" class="cbt">0.017</text><text x="118.3" y="-2.9" class="cbt">0.016</text><text x="118.3" y="32.0" class="cbt">0.015</text><text x="118.3" y="66.9" class="cbt">0.014</text><text x="118.3" y="101.8" class="cbt">0.013</text><path d="M112.6 -78.7h-2M112.6 -43.8h-2M112.6 -8.8h-2M112.6 26.1h-2M112.6 61.0h-2M112.6 95.9h-2" stroke="#262626" stroke-width="0.8"/><text transform="translate(183.5 -3.8) rotate(-90)" class="cbl" text-anchor="middle">PSD [<tspan class="mu">μ</tspan>V<tspan class="s2" dy="-6">2</tspan><tspan dy="6">/Hz]</tspan></text></g>
<g transform="translate(1442.4 1565.3)"><g clip-path="url(#dc)"><g filter="url(#bl)" class="fl"><path stroke="#30123b" d="M-4 14h16m-20 4h24m-28 4h36m-40 4h44m-44 4h48m-52 4h56m-60 4h60m-60 4h64m-64 4h64m-60 4h60m-52 4h48m-44 4h36"/>
<path stroke="#351e58" d="M-4 10h16m-20 4h4m16 0h4m-28 4h4m24 0h4m-40 12h4m-8 4h4m56 4h4m-64 12h4m4 4h4m0 4h4m36 0h4m-32 4h16"/>
<path stroke="#392a73" d="M0 6h8m4 4h4m-32 12h4m-8 4h4m-12 12h4m-4 4h4m-4 4h4m4 8h4m52 0h4m-44 8h4m16 0h8"/>
<path stroke="#3d358b" d="M0 -2h8m-12 4h12m-12 4h4m8 0h4m-20 4h4m-8 4h4m24 0h4m0 4h4m0 4h4m0 4h4m-56 4h4m52 0h4m0 4h4m-72 8h4m-4 4h4m68 0h4m-72 4h4m0 4h4m4 4h4m44 0h4m-44 4h4m28 0h4"/>
<path stroke="#4040a2" d="M0 -22h4m-4 4h8m-8 4h8m-8 4h8m-12 4h12m-12 4h4m8 0h4m-4 4h4m-20 4h4m16 0h4m-28 4h4m24 0h4m-36 8h4m-8 4h4m-12 12h4m-8 4h4m68 4h4m-76 8h4m68 0h4m-72 4h4m4 4h4m4 4h4m36 0h4m-32 4h16"/>
<path stroke="#424bb5" d="M0 -30h4m-8 4h12m-12 4h4m4 0h4m-12 4h4m-4 4h4m8 0h4m-16 4h4m8 0h4m-4 4h4m-20 4h4m-4 4h4m16 0h4m-32 12h4m32 0h4m0 4h4m0 4h4m-56 4h4m-8 4h4m64 8h4m-80 4h4m-4 4h4m8 12h4m56 0h4m-56 4h4m4 4h8m16 0h4"/>
<path stroke="#4456c7" d="M-4 -34h12m-12 4h4m4 0h4m0 4h4m-20 4h4m12 0h4m-20 4h4m12 0h4m-20 4h4m-4 4h4m-4 4h4m16 0h4m-4 4h4m-28 8h4m24 0h4m-40 12h4m48 8h4m0 4h4m-72 4h4m-8 16h4m0 4h4m68 0h4m-64 8h4m48 0h4m-48 4h4m28 0h4"/>
<path stroke="#4661d6" d="M-4 -38h8m-12 8h4m12 0h4m-20 4h4m16 8h4m-4 4h4m-4 4h4m-28 8h4m-4 4h4m24 0h4m-36 8h4m32 0h4m-48 12h4m-8 4h4m-12 12h4m4 20h4m48 8h4m-32 4h20"/>
<path stroke="#466be3" d="M4 -38h4m-16 4h4m12 0h4m0 12h4m-28 4h4m-4 4h4m-4 4h4m-4 4h4m24 4h4m-36 8h4m32 0h4m-44 8h4m40 0h4m0 4h4m-64 12h4m68 4h4m-84 8h4m80 0h4m-88 4h4m80 0h4m-4 4h4m-84 4h4m0 4h4m68 0h4m-68 4h4m56 0h4m-56 4h4m40 0h4m-40 4h4m20 0h4"/>
<path stroke="#4776ee" d="M-4 -42h8m-12 4h4m-8 12h4m20 0h4m-28 4h4m24 12h4m-4 4h4m-36 8h4m-12 16h4m52 4h4m0 4h4m-76 8h4m-8 16h4m80 4h4m-76 8h4m4 4h4m48 0h4m-48 4h4m28 0h4"/>
<path stroke="#4680f6" d="M4 -42h4m0 4h4m-24 8h4m20 0h4m0 12h4m-4 4h4m-36 8h4m-4 4h4m32 4h4m-44 8h4m40 0h4m-56 12h4m-8 4h4m68 4h4m-84 8h4m80 0h4m-88 16h4m0 4h4m72 4h4m-68 4h4m4 4h4m36 0h4m-32 4h16"/>
<path stroke="#458afc" d="M0 -46h4m-12 4h4m-8 8h4m20 0h4m0 12h4m-36 4h4m-4 4h4m-4 4h4m32 8h4m-44 8h4m-8 8h4m48 0h4m-68 16h4m-12 16h4m84 12h4m-80 4h4m64 4h4m-12 4h4m-40 4h4m16 0h8"/>
<path stroke="#4294ff" d="M-4 -46h4m4 0h4m0 4h4m-24 4h4m-8 12h4m28 0h4m-36 4h4m32 12h4m-4 4h4m-44 8h4m40 4h4m-56 12h4m56 0h4m-76 16h4m80 0h4m-92 8h4m-4 8h4m0 8h4m0 4h4m4 4h4m4 4h4m48 0h4m-48 4h4m28 0h4"/>
<path stroke="#3d9efe" d="M12 -38h4m-32 8h4m28 0h4m0 12h4m-4 4h4m-44 12h4m40 4h4m-52 8h4m48 0h4m-64 12h4m64 0h4m-84 16h4m88 4h4m-4 4h4m-4 4h4m-96 4h4m88 0h4m-8 8h4m-80 4h4m68 0h4m-68 4h4m4 4h4m36 0h4m-32 4h16"/>
<path stroke="#37a8fa" d="M0 -50h4m-12 4h4m12 0h4m0 4h4m0 8h4m0 12h4m-44 4h4m-4 4h4m-4 4h4m-4 4h4m-20 32h4m72 0h4m-84 4h4m-8 28h4m0 4h4m72 8h4m-48 8h4m16 0h4"/>
<path stroke="#2fb2f4" d="M-4 -50h4m4 0h4m-20 8h4m-8 8h4m32 8h4m-44 4h4m40 16h4m-4 4h4m-52 8h4m48 0h4m-60 8h4m56 0h4m8 16h4m-92 4h4m88 4h4m-100 4h4m-4 4h4m-4 4h4m92 8h4m-88 8h4m4 4h4m4 4h4m44 0h4m-44 4h4m24 0h4m-20 4h4"/>
<path stroke="#27bee9" d="M-16 -38h4m28 0h4m0 8h4m-44 4h4m40 16h4m-52 12h4m-12 16h4m64 0h4m-88 36h4m0 8h4m88 0h4m-8 4h4m-80 4h4m68 0h4m-68 4h4m52 0h4m-52 4h4m32 0h4m-32 4h8m4 0h8"/>
<path stroke="#20c7df" d="M0 -54h8m-16 4h4m12 0h4m-24 4h4m20 0h4m-36 16h4m40 12h4m-4 4h4m-52 12h4m48 4h4m-60 8h4m56 0h4m-72 12h4m72 0h4m-84 4h4m84 8h4m-100 4h4m96 8h4m-4 4h4m-104 8h4m4 8h4m72 8h4m-60 4h4m40 0h4m-40 4h4m20 0h4"/>
<path stroke="#1bd0d5" d="M8 -90h8m-20 36h4m-16 12h4m28 0h4m0 8h4m0 12h4m-52 4h4m-4 4h4m-4 4h4m-4 4h4m-12 20h4m72 12h4m-92 4h4m92 12h4m-108 4h4m-4 4h4m100 4h4m-4 4h4m-100 8h4m88 0h4m-88 4h4m76 0h4m-76 4h4m52 4h4m-16 4h4m-20 4h8"/>
<path stroke="#18d7ca" d="M-4 -90h12m8 0h12m-28 4h24m-24 28h8m-16 4h4m12 0h4m0 4h4m4 12h4m-44 4h4m40 8h4m-52 4h4m48 20h4m-60 8h4m56 0h4m0 8h4m-76 4h4m-16 16h4m-8 8h4m-4 12h4m0 8h4m4 8h4m4 4h4m68 0h4m-68 4h4m52 0h4m-52 4h4m32 0h4m-32 4h8m8 0h4"/>
<path stroke="#18dec0" d="M-16 -90h12m-4 4h8m24 0h4m-28 4h24m-28 24h4m-12 8h4m24 4h4m-40 8h4m40 8h4m-52 4h4m48 16h4m-4 4h4m-60 8h4m64 16h4m-84 4h4m84 8h4m-104 8h4m100 0h4m-108 20h4m100 4h4m-104 4h4m92 4h4m-88 4h4m4 4h4m60 0h4m-60 4h4m40 0h4m-40 4h4m20 0h8"/>
<path stroke="#1ae4b6" d="M-20 -90h4m0 4h8m36 0h4m-40 4h8m24 0h4m-32 4h28m-24 4h12m-16 12h12m-16 4h4m12 0h4m0 4h4m-32 8h4m32 4h4m-48 12h4m48 16h4m-60 12h4m56 4h4m-68 8h4m64 0h4m4 12h4m-92 4h4m-8 4h4m-12 20h4m108 0h4m-112 12h4m100 4h4m-100 4h4m0 4h4m80 0h4m-8 4h4m-68 4h4m48 0h4m-48 4h4m32 0h4m-28 4h12"/>
<path stroke="#20eaac" d="M-24 -90h4m0 4h4m48 0h4m-48 4h4m36 0h4m-40 4h4m28 0h4m-32 4h4m12 0h8m-24 4h16m-16 4h16m-4 4h4m0 4h4m-28 4h4m24 4h4m-40 8h4m40 8h4m0 16h4m-60 8h4m-4 4h4m-12 20h4m-20 20h4m100 0h4m-112 12h4m108 0h4m-116 8h4m108 0h4m-116 4h4m108 0h4m-112 8h4m0 4h4m12 8h4m60 4h4m-56 4h4m40 0h4m-36 4h4m12 0h8"/>
<path stroke="#2aefa1" d="M-28 -90h4m0 4h4m0 4h8m44 0h4m-48 4h4m36 0h4m-40 4h4m24 0h4m-32 4h4m16 0h4m-24 4h4m16 0h4m-24 4h4m16 0h4m0 8h4m-36 4h4m32 4h4m0 8h4m-52 4h4m48 12h4m-60 4h4m-4 4h4m56 12h4m-68 8h4m68 8h4m-84 4h4m84 8h4m-108 16h4m108 0h4m-116 20h4m108 0h4m-8 8h4m-100 4h4m88 0h4m-88 4h4m76 0h4m-76 4h4m60 0h4m-12 4h4m-44 4h4m24 0h4"/>
<path stroke="#35f394" d="M-28 -86h4m0 4h4m56 0h4m-56 4h4m44 0h4m-48 4h4m32 0h4m-12 4h4m-32 12h4m-12 12h4m-8 8h4m-8 12h4m52 0h4m-60 4h4m56 16h4m0 12h4m4 12h4m-92 4h4m-8 4h4m-12 12h4m-8 12h4m112 16h4m-112 4h4m0 4h4m4 4h4m4 4h4m68 0h4m-68 4h4m52 0h4m-52 4h4m32 0h4"/>
<path stroke="#43f787" d="M-32 -86h4m0 4h4m64 0h4m-64 4h4m0 4h4m40 0h4m-44 4h4m28 0h4m-36 4h4m24 0h4m-32 4h4m24 0h4m-4 4h4m-36 4h4m32 4h4m0 8h4m0 12h4m0 20h4m-68 12h4m-8 8h4m72 0h4m-96 20h4m100 0h4m0 8h4m-120 8h4m116 4h4m-124 4h4m116 0h4m-124 4h4m0 8h4m104 8h4m-100 4h4m88 0h4m-88 4h4m4 4h4m4 4h4m40 0h4"/>
<path stroke="#52fa7a" d="M-36 -86h4m0 4h4m0 4h8m56 0h4m-8 4h4m-12 4h4m-8 16h4m0 8h4m-52 4h4m48 8h4m-60 4h4m56 12h4m-4 4h4m-68 12h4m64 4h4m-80 12h4m84 8h4m-108 12h4m-8 8h4m116 4h4m-4 12h4m-124 4h4m116 0h4m-120 8h4m108 0h4m-112 4h4m0 4h4m4 4h4m4 4h4m4 4h4"/>
<path stroke="#61fc6c" d="M-36 -82h4m72 4h4m-64 4h4m52 0h4m-56 4h4m40 0h4m-48 4h4m32 0h4m-4 4h4m-40 4h4m32 0h4m-44 8h4m40 0h4m0 12h4m-60 4h4m56 12h4m-68 8h4m-4 4h4m-4 4h4m64 4h4m-76 8h4m76 8h4m-92 4h4m-8 4h4m-8 4h4m100 0h4m0 8h4m-120 4h4m116 4h4m-128 8h4m-4 4h4m-4 4h4m0 8h4m116 0h4m-108 16h4m4 4h4m4 4h4"/>
<path stroke="#71fe5f" d="M-40 -82h4m4 4h4m72 0h4m-72 4h4m60 0h4m-64 4h4m48 0h4m-12 4h4m-44 4h4m36 8h4m-52 8h4m48 4h4m-60 4h4m56 12h4m-68 4h4m-4 4h4m68 24h4m4 12h4m-108 12h4m-12 16h4m-4 16h4m0 8h4m116 0h4m-120 4h4m0 4h4"/>
<path stroke="#80ff53" d="M-44 -82h4m4 4h4m80 0h4m-80 4h4m68 0h4m-12 4h4m-12 4h4m-8 4h4m-4 4h4m-48 4h4m44 8h4m0 16h4m-68 4h4m64 20h4m-76 8h4m-8 8h4m80 0h4m8 20h4m-120 4h4m116 4h4m-128 4h4m124 8h4m-4 4h4m-4 4h4m-4 4h4m-132 4h4"/>
<path stroke="#8fff49" d="M-40 -78h4m4 4h4m76 0h4m-76 4h4m60 0h4m-64 4h4m48 0h4m-8 4h4m-52 4h4m-8 8h4m48 0h4m-60 8h4m56 8h4m-68 4h4m64 16h4m-4 4h4m-76 8h4m72 4h4m-88 12h4m-8 4h4m-8 4h4m100 0h4m4 12h4m-128 4h4m-8 8h4m128 0h4m-136 4h4m-4 4h4m-4 4h4m-4 4h4m128 4h4m-132 4h4"/>
<path stroke="#9cfe40" d="M-44 -78h4m4 4h4m84 0h4m-12 4h4m-12 4h4m-60 4h4m48 0h4m-8 4h4m-4 4h4m0 16h4m-68 4h4m64 16h4m-76 12h4m80 20h4m-108 12h4m108 0h4m-120 4h4m-8 4h4m-8 8h4m128 0h4m-136 24h4"/>
<path stroke="#a9fb39" d="M-52 -78h8m4 4h4m8 4h4m72 0h8m-80 4h4m60 0h4m-8 4h4m-8 4h4m-60 4h4m52 0h4m-4 4h4m-64 4h4m56 0h4m-4 4h4m-68 4h4m64 12h4m-4 4h4m-76 4h4m-4 4h4m-4 4h4m72 8h4m-84 8h4m80 0h4m4 12h4m-124 20h4m128 0h4m-140 8h4m-4 4h4m136 0h4m-144 4h4m136 0h4m-144 4h4m136 0h4m-144 4h4m136 0h4"/>
<path stroke="#b4f836" d="M-44 -74h4m8 4h4m84 0h4m-16 4h8m-76 4h4m60 0h4m-68 4h4m56 0h4m-68 8h4m60 20h4m-76 4h4m-4 4h4m72 16h4m-88 16h4m88 0h4m-100 4h4m-8 4h4m-8 4h4m-8 4h4m-8 4h4m120 0h4m-136 12h4m136 4h4"/>
<path stroke="#bef434" d="M-56 -74h12m4 4h8m92 0h4m-92 4h4m76 0h8m-16 4h4m-8 4h4m-8 4h4m-4 4h4m-4 4h4m-72 4h4m64 0h4m-4 4h4m-4 4h4m-76 4h4m72 20h4m-84 12h4m80 0h4m4 12h4m0 8h4m-128 12h4m128 0h4m-140 4h4m136 4h4m-148 4h4m-4 4h4m-4 4h4m144 0h4"/>
<path stroke="#c8ef34" d="M-48 -70h8m8 4h4m88 0h8m-96 4h4m72 0h8m-12 4h4m-76 4h4m64 0h4m-76 8h4m-8 12h4m72 16h4m-4 4h4m-84 12h4m80 0h4m-92 8h4m88 0h4m4 12h4m-124 8h4m120 0h4m-132 4h4m128 0h4m-140 4h4m136 4h4m-148 4h4m144 4h4m-4 4h4"/>
<path stroke="#d2e935" d="M-64 -70h16m8 4h8m88 4h8m-92 4h4m72 0h4m-8 4h4m-80 4h4m68 0h4m-80 12h4m72 12h4m-4 4h4m-84 8h4m-4 4h4m-4 4h4m-12 16h4m96 0h4m-108 4h4m-8 4h4m-8 4h4m124 12h4m-148 4h4m-8 4h4m148 0h4m-156 4h4m-4 4h4"/>
<path stroke="#dbe236" d="M-68 -66h28m4 4h8m92 0h8m-104 4h4m80 0h8m-92 4h4m76 0h4m-8 4h4m-84 4h4m72 0h4m-80 4h4m72 0h4m-4 4h4m-4 4h4m-4 4h4m-84 4h4m-4 4h4m-4 4h4m80 12h4m0 8h4m4 12h4m0 8h4m-132 4h4m128 0h4m-140 4h4m136 0h4m-148 4h4m-8 4h4m148 0h4m0 8h4m-4 4h4"/>
<path stroke="#e3db38" d="M-72 -62h36m0 4h4m92 0h12m-108 4h4m84 0h4m-92 4h4m76 4h4m-88 12h4m-4 4h4m80 20h4m-92 12h4m92 4h4m-112 8h4m-8 4h4m116 0h4m-128 4h4m-12 4h4m-8 4h4m-8 4h4m148 0h4m-160 4h4m156 0h4m-164 4h4m156 0h4"/>
<path stroke="#ebd339" d="M-72 -58h16m12 0h8m-4 4h4m92 0h16m-24 4h8m-96 4h4m-4 4h4m80 0h4m-88 4h4m80 20h4m-4 4h4m-92 12h4m88 0h4m-100 8h4m-8 4h4m104 0h4m0 4h4m-128 4h4m-8 4h4m128 0h4m-144 4h4m140 0h4m-152 4h4m148 0h4m-160 4h4m156 0h4m0 8h4"/>
<path stroke="#f1cb3a" d="M-56 -58h12m-32 4h16m16 0h4m112 0h4m-116 4h4m92 0h8m-16 4h4m-8 8h4m-4 4h4m-4 4h4m-4 4h4m-4 4h4m-92 4h4m-4 4h4m-4 4h4m-4 4h4m88 0h4m0 8h4m0 4h4m-120 8h4m-12 4h4m128 0h4m-144 4h8m136 0h4m-156 4h8m148 0h4m-164 4h8m156 0h4m-168 4h4m164 0h4m-4 4h4"/>
<path stroke="#f6c33a" d="M-60 -54h16m-36 4h20m12 0h8m104 0h16m-124 4h4m92 0h4m-100 4h4m88 0h4m-96 4h4m-4 4h4m-4 4h4m-4 4h4m-4 4h4m88 12h4m0 8h4m32 0h4m-140 4h4m128 0h8m-144 4h4m132 0h8m-148 4h4m112 0h4m16 0h12m-156 4h4m124 0h4m12 0h12m-168 4h8m136 0h24m-184 4h16m148 0h16m-180 4h8m160 0h12m-8 4h8m-4 4h4"/>
<path stroke="#faba39" d="M-60 -50h12m-32 4h16m16 0h4m100 0h20m-24 4h4m-8 4h4m-4 24h4m36 8h4m-140 4h4m128 0h4m-180 4h4m144 0h4m20 0h4m-176 4h8m144 0h4m12 0h8m-176 4h8m24 0h4m120 0h16m-172 4h28m132 0h12m-172 4h16m164 4h4m-4 4h4"/>
<path stroke="#fcb136" d="M-64 -46h16m124 0h4m-164 4h12m20 0h8m100 0h4m-108 4h4m96 0h4m-104 4h4m92 0h4m-100 4h4m92 0h4m-4 4h4m-4 4h4m-4 4h4m-100 8h4m132 0h4m-140 4h4m96 0h4m28 0h4m-180 4h4m144 0h4m20 0h4m-172 4h4m32 0h4m108 0h4m12 0h4m-164 4h4m24 0h4m116 0h12m-160 4h12m8 0h4"/>
<path stroke="#fea732" d="M-72 -42h20m112 0h24m-168 4h8m24 0h4m0 12h4m-4 4h4m-4 4h4m-4 4h4m132 0h4m-184 4h4m140 0h4m28 0h4m-180 4h8m164 0h4m-172 4h8m28 0h4m124 0h4m-164 4h4m144 0h12m-156 4h8m12 0h4m-16 4h8"/>
<path stroke="#fe9b2d" d="M-76 -38h8m12 0h4m108 0h4m16 0h8m-172 4h8m28 0h4m100 0h4m28 0h4m-176 4h4m32 0h4m-44 4h4m176 0h4m-184 4h4m176 0h4m-184 4h4m176 0h4m-184 4h4m140 0h4m28 0h4m-176 4h4m164 0h4m-168 4h4m28 0h4m104 0h4m16 0h4m-160 4h4m136 0h16m-156 4h8m16 0h4m-20 4h12"/>
<path stroke="#fe9029" d="M-68 -38h12m116 0h16m-156 4h8m16 0h4m108 0h4m20 0h4m-168 4h4m132 0h4m28 0h4m-176 4h8m28 0h4m100 0h4m28 0h4m-176 4h4m32 0h4m100 0h4m28 0h4m-176 4h4m32 0h4m100 0h4m28 0h4m-176 4h4m32 0h4m128 0h4m-168 4h4m28 0h4m104 0h4m16 0h4m-160 4h4m136 0h4m8 0h4m-152 4h4m16 0h4m-20 4h16"/>
<path stroke="#fc8423" d="M-72 -34h16m116 0h4m4 0h12m-160 4h8m16 0h4m108 0h4m16 0h8m-164 4h4m156 0h4m-168 4h4m160 0h4m-168 4h4m160 0h4m-168 4h4m156 0h4m-160 4h4m148 0h4m-152 4h4m16 0h4m116 0h8m-144 4h4m8 0h4"/>
<path stroke="#f9751d" d="M64 -34h4m-140 4h8m4 0h4m128 0h4m-152 4h4m16 0h4m108 0h4m16 0h4m-160 4h4m20 0h4m128 0h4m-160 4h4m20 0h4m108 0h4m16 0h4m-160 4h4m20 0h4m108 0h4m12 0h4m-152 4h4m16 0h4m112 0h12m-144 4h4m8 0h4m-12 4h8"/>
<path stroke="#f56918" d="M-64 -30h4m120 0h12m-144 4h4m8 0h4m128 0h4m-152 4h4m128 0h4m12 0h4m-152 4h4m144 0h4m-152 4h8m8 0h4m116 0h12m-144 4h16m-12 4h8"/>
<path stroke="#f15d13" d="M-68 -26h8m120 0h12m-144 4h16m116 0h4m4 0h4m-144 4h16m116 0h12m-140 4h8"/>
<path stroke="#ec530f" d="M64 -22h4"/></g></g><path class="ct" d="M0 11.7l-4.5 3.2 -4.5 4.6 -6.2 7.5 -5.2 7.5 -2.2 4.5 -.6 3 .4 3 1.7 3 5 4.5 7.1 4.2 7.5 2.9 6 1.3 7.5 .2 9 -1.1 7.5 -2.1 6 -3.4 2.1 -2 1.9 -3 1.1 -4.5 -.8 -4.5 -3.6 -6 -8.2 -8.4 -15 -12.6 -6 -2.8 -3 0 -3 1M0 -42.4l-3 1.7 -1.5 1.7 -2.5 4.5 -1.6 4.5 -1.9 9 -1.7 18 -3.4 10.5 -6.2 10.5 -14.8 19.5 -2 4.5 -.4 4.5 1.4 4.5 2 3 4.1 3.8 5.7 3.7 11.4 6 8.4 3.5 6 1.5 7.5 .2 7.5 -1.1 10.5 -2.8 7.5 -2.7 4.5 -2.4 4.3 -3.7 3 -4.5 1.6 -4.5 .4 -6 -1.4 -6 -2.9 -6 -16.3 -21 -5.2 -9 -2.5 -7.5 -3.1 -18 -4.7 -12 -1.9 -3 -2.8 -3.1 -3 -1.6 -3 -.2M1.5 -54.2l-4.5 1.5 -4.5 3.5 -3.5 4.2 -3.5 6 -3.1 7.5 -2.2 7.5 -1 6 -1.2 15 -2.5 9 -5.5 9.8 -11.3 14.2 -4 6 -2.6 6 -.9 6 .9 6 1.9 4.5 3.4 4.5 5.1 4.3 27 14.1 7.5 2.5 6 .6 6 -.7 7.5 -1.9 18 -6.2 7.5 -3.8 5.1 -4.4 3.9 -5.4 2.4 -6.6 .6 -6 -1 -7.5 -2.8 -7.5 -5.2 -8.8 -10.6 -15.2 -4 -7.5 -2.7 -9 -3.1 -18 -2.4 -7.5 -3.2 -7.5 -4 -6.7 -4.5 -5 -4.5 -2.9 -4.5 -.6M-27.3 -81l9.3 4.8 4.5 3.5 1.6 2.2 1.1 3 0 4.5 -2.1 6 -9.1 16.5 -3.5 9 -2.4 10.5 -1.7 18 -2.8 9 -5.1 8.2 -14.5 17.3 -3.8 6 -2 4.5 -1.5 6 -.2 6 1.1 6 2.6 6M61.5 60.6l.6 -9.6 -.8 -6 -1.3 -4.5 -5.2 -10.5 -14.1 -22.5 -3 -6 -2.4 -7.5 -3.2 -18 -2.6 -10.5 -3.8 -10.5 -6.9 -15 .1 -4.5 2.1 -3.2 16.5 -10.2M-45 -72.8l13.5 4.2 5.7 2.6 2.8 3 .4 1.5 -.5 3 -6.7 15 -3.5 10.5 -1.6 9 -1.7 19.5 -2.1 7.5 -5.1 7.5 -23.1 24 -3.1 4.5 -2.7 6M72 46.9l-2 -6.4 -2.2 -4.5 -7.8 -11.2 -14.8 -24.8 -2.5 -7.5 -2.1 -10.5 -3.3 -24 -.3 -6 .5 -4.6 1.5 -3.7 3 -3.2 4.5 -2.9 7.6 -3.6M-73.5 -45.1l15 -3.1 4.5 -.3 4.5 1 2.9 2.5 1.7 4.5 .6 7.5 0 18 -1.2 10.5 -1.7 4.5 -3.8 4.5 -7.5 5.4 -7.5 3.5 -6 1.2 -6 -.5 -4.5 -2.1 -3.3 -3M85.5 -3.7l-3.5 3.7 -5.5 8.8 -3 1.9 -3 -.1 -6 -3.5 -6 -5.6 -4.5 -6 -3.4 -7.5 -1.7 -7.5 -.4 -7.5 1 -6.7 2.3 -5.3 2.5 -3 4.2 -2.5 4.5 -1.1 9 -.8"/><circle r="89.2" fill="none" stroke="#edf5ff" stroke-width="6"/><circle r="80.6" class="hd"/><path class="hd" d="M-14.5 -79.9L-3.2 -92.2Q0 -93.6 3.2 -92.2L14.5 -79.9M-79.2 -15.4L-82.1 -18.9 -83.4 -19.0 -85.3 -18.5 -87.2 -15.4 -86.9 0.9 -88.1 15.0 -85.7 21.1 -82.1 22.3 -77.9 19.3M79.2 -15.4L82.1 -18.9 83.4 -19.0 85.3 -18.5 87.2 -15.4 86.9 0.9 88.1 15.0 85.7 21.1 82.1 22.3 77.9 19.3"/><g class="el"><text x="-25.7" y="-74.8">FP1</text><text x="25.7" y="-74.8">FP2</text><text x="-24.0" y="-59.1">AF3</text><text x="24.0" y="-59.1">AF4</text><text x="-69.2" y="-46.2">F7</text><text x="-35.7" y="-38.5">F3</text><text x="0.0" y="-37.2">FZ</text><text x="35.7" y="-38.5">F4</text><text x="69.2" y="-46.2">F8</text><text x="-62.1" y="-18.7">FC5</text><text x="-21.1" y="-16.2">FC1</text><text x="21.1" y="-16.2">FC2</text><text x="62.1" y="-18.7">FC6</text><text x="-86.8" y="4.4">T7</text><text x="-43.2" y="4.4">C3</text><text x="0.0" y="4.4">CZ</text><text x="43.2" y="4.4">C4</text><text x="86.8" y="4.4">T8</text><text x="-62.0" y="27.1">CP5</text><text x="-21.2" y="25.0">CP1</text><text x="21.2" y="25.0">CP2</text><text x="62.0" y="27.1">CP6</text><text x="-69.2" y="54.6">P7</text><text x="-35.7" y="46.8">P3</text><text x="0.0" y="45.6">PZ</text><text x="35.7" y="46.8">P4</text><text x="69.2" y="54.6">P8</text><text x="-25.7" y="67.4">PO3</text><text x="25.7" y="67.4">PO4</text><text x="-26.1" y="83.7">O1</text><text x="0.0" y="85.5">OZ</text><text x="26.1" y="83.7">O2</text></g><text x="1" y="-104.1" class="tp" text-anchor="middle"><tspan class="tg">γ</tspan> @29.8-43.9Hz | C</text><rect x="103.3" y="-95.7" width="9.3" height="193" fill="url(#cbg)" stroke="#444" stroke-width="0.7"/><text x="118.3" y="-76.3" class="cbt">8</text><text x="118.3" y="-38.7" class="cbt">7</text><text x="118.3" y="-1.2" class="cbt">6</text><text x="118.3" y="36.6" class="cbt">5</text><text x="118.3" y="74.1" class="cbt">4</text><path d="M112.6 -82.2h-2M112.6 -44.6h-2M112.6 -7.1h-2M112.6 30.7h-2M112.6 68.2h-2" stroke="#262626" stroke-width="0.8"/><text transform="translate(151.2 -3.8) rotate(-90)" class="cbl" text-anchor="middle">PSD [<tspan class="mu">μ</tspan>V<tspan class="s2" dy="-6">2</tspan><tspan dy="6">/Hz]</tspan></text><text x="114.3" y="-102.4" class="cbt" style="fill:#555">×</text><text x="125.6" y="-102.4" class="cbt">10<tspan style="font-size:13px" dy="-7.8">-3</tspan></text></g>
<g transform="translate(187.3 1824.0)"><g clip-path="url(#dc)"><g filter="url(#bl)" class="fl"><path stroke="#30123b" d="M52 14h20m-20 4h28m-28 4h32m-32 4h36m-36 4h36m-36 4h36m-164 4h20m112 0h28m-168 4h36m104 0h28m-164 4h36m100 0h24m-160 4h44m96 0h20m-156 4h44m92 0h16m-148 4h44m88 0h12m-144 4h48m88 0h8m-140 4h44m-40 4h36m-28 4h20m-16 4h8"/>
<path stroke="#351e58" d="M52 10h8m-12 4h4m-4 4h4m-4 4h4m32 0h4m-40 4h4m36 0h4m-160 8h8m-20 4h4m20 0h8m100 0h4m-104 4h4m0 4h4m4 4h4m88 0h4m-92 4h4m0 4h4m84 4h4m0 4h4m-104 8h4m-12 4h4"/>
<path stroke="#392a73" d="M48 10h4m8 0h4m8 4h4m4 4h4m-36 12h4m-132 4h12m8 0h8m-32 4h4m32 0h4m0 4h4m92 0h4m-96 4h4m4 4h4m0 4h4m80 0h4m-4 4h4m0 8h4m-92 4h4m84 0h4m-96 4h4m-12 4h4"/>
<path stroke="#3d358b" d="M64 10h4m8 4h4m8 8h4m-164 8h16m-28 4h4m28 0h8m92 0h4m-96 4h4m0 4h4m0 4h4m84 0h4m-4 4h4m-80 8h4m-4 4h4m76 0h4m-84 4h4m76 0h4m-96 12h4m-12 4h4"/>
<path stroke="#4040a2" d="M48 6h12m-16 4h4m20 0h4m-28 4h4m-4 4h4m36 0h4m-44 4h4m-128 8h8m16 0h8m-40 4h4m40 0h8m-4 4h8m80 0h4m-88 4h4m0 4h4m0 4h4m76 4h4m-4 4h4m-4 4h4m-80 8h4m76 0h4m-88 4h4m-16 8h4"/>
<path stroke="#424bb5" d="M44 6h4m12 0h4m8 4h4m4 4h4m4 4h4m-164 8h16m100 0h4m-132 4h4m32 0h8m4 4h4m0 4h4m-4 4h4m76 0h4m-80 4h4m0 8h4m72 12h4m-4 4h4m-4 4h4m-88 4h4m-8 4h4"/>
<path stroke="#4456c7" d="M44 2h8m-132 24h8m16 0h8m-40 4h4m44 0h8m76 0h4m-80 4h4m0 8h4m72 4h4m-76 4h4m68 0h4m-4 4h4m-4 4h4m-72 4h4m64 0h4m-72 4h4m64 0h4m-4 4h4m-76 4h4m-8 4h4"/>
<path stroke="#4661d6" d="M52 2h4m-16 4h4m20 0h4m-28 4h4m32 0h4m-40 4h4m40 0h4m-176 12h8m32 0h16m0 4h4m0 4h4m68 0h4m-76 4h4m4 20h4m-4 12h4m64 4h4m-4 4h4m-84 4h4m-8 4h4"/>
<path stroke="#466be3" d="M40 2h4m12 0h4m8 4h4m16 8h4m-52 4h4m-124 4h24m96 0h4m-136 4h4m56 0h4m0 4h4m68 8h4m-72 8h4m0 8h4m60 8h4m-4 4h4m-4 4h4m-68 4h4m60 0h4m-72 4h4m64 0h4m-76 4h4m-8 4h4"/>
<path stroke="#4776ee" d="M44 -2h4m32 12h4m-168 12h4m24 0h12m16 4h4m64 0h4m-68 8h4m-4 4h4m-4 4h4m64 0h4m-4 4h4m-68 4h4m60 0h4m-4 4h4m-4 4h4m-64 4h4m-4 4h4m-4 4h4m52 0h4m-4 4h4m-4 4h4m-4 4h4"/>
<path stroke="#4680f6" d="M40 -2h4m4 0h4m8 4h4m8 4h4m8 4h4m-160 8h8m-28 4h8m40 0h16m4 4h4m-4 4h4m60 0h4m-60 28h4m52 4h4m-4 4h4m-60 8h4m48 0h4m-60 4h4m52 0h4m-64 4h4m-8 4h4"/>
<path stroke="#458afc" d="M52 -2h4m-20 4h4m24 0h4m-32 4h4m36 0h4m-44 4h4m-4 4h4m-124 4h12m8 0h8m28 4h4m64 12h4m-64 12h4m0 8h4m52 4h4m-8 8h4m-4 4h4m-60 12h4m52 0h4m-64 4h4m-8 4h4"/>
<path stroke="#4294ff" d="M88 10h4m-184 8h8m28 0h8m84 0h4m-64 4h4m0 16h4m56 0h4m-64 4h4m56 12h4m-56 8h4m44 0h4m-52 4h4m-4 4h4m40 0h4m-4 4h4m-52 4h4m44 0h4m-4 4h4m-4 4h4m-60 4h4"/>
<path stroke="#3d9efe" d="M40 -6h8m-12 4h4m16 0h4m8 4h4m8 4h4m-164 8h16m16 4h20m64 4h4m-60 8h4m-4 4h4m56 8h4m-4 4h4m-60 4h4m52 0h4m-56 8h4m44 0h4m-8 8h4m-8 4h4m-44 4h4m36 0h4m-4 4h4m-48 4h4m40 0h4m-52 4h4m44 0h4"/>
<path stroke="#37a8fa" d="M48 -6h4m8 4h4m8 4h4m8 4h4m-176 8h8m16 0h8m28 4h4m4 8h4m52 0h4m-56 20h4m48 8h4m-8 8h4m-8 4h4m-8 4h4m-4 4h4m-40 4h4m32 0h4m-4 4h4m-44 4h4m36 0h4m-48 4h4m40 0h4"/>
<path stroke="#2fb2f4" d="M36 -6h4m12 0h4m-24 8h4m40 0h4m-48 4h4m52 0h4m-60 4h4m-128 4h4m32 0h4m88 16h4m-56 12h4m0 12h4m40 4h4m-44 4h4m32 0h4m-40 4h4m28 0h4m-36 4h4m-4 4h4m24 0h4m-32 4h4m24 0h4m-36 4h4m28 0h4m-36 4h4m28 0h4m-40 4h4m32 0h4"/>
<path stroke="#27bee9" d="M40 -10h8m-16 8h4m28 0h4m-152 12h16m16 4h8m76 0h4m-60 4h4m0 4h4m52 12h4m-56 4h4m48 0h4m-4 12h4m-44 20h4m20 0h4m-28 4h4m16 0h4m-4 4h4m-28 4h4m20 0h4m-4 4h4m-32 4h4m24 0h4"/>
<path stroke="#20c7df" d="M36 -10h4m-8 4h4m20 0h4m8 4h4m8 4h4m-176 8h8m16 0h8m16 4h16m60 4h4m-52 12h4m-4 4h4m48 8h4m-4 4h4m-52 4h4m40 4h4m-44 4h4m32 0h4m-8 4h4m-32 4h4m20 0h4m-8 4h4m-20 4h4m8 0h4m-20 4h4m12 0h4m-20 4h4m12 0h4m-24 4h8m12 0h4m-24 4h4m16 0h4"/>
<path stroke="#1bd0d5" d="M48 -10h4m32 12h4m-148 8h4m28 4h4m56 8h4m-52 4h4m44 0h4m-48 20h4m40 4h4m-44 4h4m28 4h4m-32 4h4m20 0h4m-24 4h4m12 0h4m-20 4h16m-12 4h8m-12 4h12m-12 4h12m-12 4h12m-16 4h16"/>
<path stroke="#18d7ca" d="M36 -14h8m-12 4h4m24 4h4m8 4h4m12 4h4m-184 4h24m12 4h8m28 8h4m48 12h4m-48 12h4m36 12h4m-36 4h4m16 4h4m-16 4h12"/>
<path stroke="#18dec0" d="M36 -18h4m-8 4h4m8 0h4m4 4h4m20 8h4m-52 4h4m-100 4h8m88 0h4m-80 4h4m76 24h4m-48 4h4m40 0h4m-4 4h4m-4 4h4m-44 4h4m24 8h4m-24 4h8m4 0h4"/>
<path stroke="#1ae4b6" d="M32 -22h8m-8 4h4m4 0h4m-16 12h4m32 0h4m-40 4h4m48 0h4m-144 8h4m12 4h12m60 0h4m-56 4h4m48 0h4m-48 8h4m0 12h4m36 16h4m-36 4h4m24 0h4m-28 4h4m12 0h4m-12 4h4"/>
<path stroke="#20eaac" d="M32 -34h4m-4 4h8m-8 4h8m0 4h4m-16 4h4m12 0h4m-20 4h4m16 0h4m-24 4h4m24 0h4m24 8h4m-180 4h24m12 4h4m20 4h4m56 8h4m-4 4h4m-44 8h4m0 16h4m32 0h4m-12 8h4m-20 4h4m4 0h4"/>
<path stroke="#2aefa1" d="M32 -38h8m-4 4h4m-12 4h4m-4 4h4m8 0h4m-16 4h4m36 16h4m16 4h4m-160 4h8m8 4h4m20 4h4m12 16h4m36 0h4m-4 4h4m-4 4h4m-4 4h4m-40 4h4m32 0h4m-36 8h4m24 0h4m-28 4h4m12 0h4m-12 4h4"/>
<path stroke="#35f394" d="M36 -42h4m-12 8h4m8 0h4m-4 4h4m0 8h4m4 8h4m16 8h4m-168 4h20m12 4h4m8 4h8m20 8h4m0 4h4m36 28h4m-8 4h4m-20 4h4m4 0h4"/>
<path stroke="#43f787" d="M32 -42h4m-8 4h4m8 0h4m-20 8h4m-4 4h4m-4 4h4m-4 4h4m20 0h4m-28 4h4m-4 4h4m32 0h4m-40 4h4m48 0h8m-156 4h8m88 0h4m-84 4h4m76 0h4m-68 4h8m8 4h4m12 24h4m-4 4h4m0 8h4m0 4h4m4 4h4"/>
<path stroke="#52fa7a" d="M28 -42h4m8 0h4m-20 8h4m16 4h4m-4 4h4m16 16h4m16 4h4m-152 4h4m8 4h4m16 4h4m52 0h4m-4 4h4m-4 4h4m-4 4h4m-40 4h4m0 8h4m28 8h4m-4 4h4m-8 4h4m-12 4h8"/>
<path stroke="#61fc6c" d="M36 -46h4m-16 8h4m16 0h4m-4 4h4m-28 8h4m-4 4h4m24 0h4m4 8h4m-152 8h24m156 0h4m-152 4h4m8 4h4m16 4h4m48 16h4m-4 4h4m-4 4h4m-4 4h4m-32 8h4m16 4h4m-16 4h8"/>
<path stroke="#71fe5f" d="M32 -46h4m4 0h4m0 4h4m-28 8h4m-4 4h4m-4 12h4m28 0h4m-36 4h4m44 4h4m-140 4h8m4 4h4m8 4h8m20 12h4m4 12h4m0 12h4m20 4h4m-24 4h4"/>
<path stroke="#80ff53" d="M28 -46h4m-8 4h4m-8 4h4m24 12h4m-144 16h24m88 0h4m48 0h8m-140 4h4m4 4h4m12 4h4m12 8h4m4 8h4m4 16h4m20 0h4m-4 4h4m-8 4h4m-16 4h12"/>
<path stroke="#8fff49" d="M44 -46h4m0 8h4m-4 4h4m-36 4h4m28 0h4m-36 4h4m40 12h4m-132 4h8m140 0h12m-148 4h4m72 0h4m-72 4h8m60 0h4m-56 4h4m4 4h4m12 16h4m24 4h4m-28 4h4m20 0h4m-24 12h4m8 0h4"/>
<path stroke="#9cfe40" d="M32 -50h12m-24 8h4m24 0h4m-36 8h4m-4 12h4m32 0h4m-40 4h4m-112 4h20m136 0h4m-128 4h8m0 4h8m4 4h8m4 4h4m44 0h4m-4 4h4m-4 4h4m-4 4h4m-4 4h4m-4 4h4m-24 16h4m12 0h4m-16 4h8"/>
<path stroke="#a9fb39" d="M44 -50h4m-88 4h8m56 0h4m20 0h4m-92 4h12m-16 4h16m44 0h4m-60 4h8m88 16h4m-132 4h16m72 0h4m48 0h4m-124 4h8m0 4h8m4 4h4m24 28h4m0 8h4m12 0h4m-16 4h12"/>
<path stroke="#b4f836" d="M-40 -50h8m60 0h4m16 0h4m-96 4h4m8 0h4m-16 4h4m-8 4h4m96 0h4m-104 4h8m8 0h4m80 0h4m-104 4h20m40 0h4m36 0h4m-100 4h12m44 0h4m36 0h4m-148 8h48m-12 4h16m112 0h20m-136 4h8m0 4h4m8 8h4m0 4h4m0 4h4m0 4h4m0 4h4m20 8h4m-20 4h4m12 0h4m-16 4h4m4 0h4"/>
<path stroke="#bef434" d="M36 -54h12m-92 4h4m8 0h4m-20 4h4m16 0h4m44 0h4m28 0h4m-104 4h4m16 0h4m40 0h4m32 0h4m-84 4h4m-28 4h4m20 0h4m36 0h4m-68 4h4m20 0h4m-28 4h8m12 0h4m-32 4h28m44 0h4m-60 4h12m92 0h4m-104 4h4m0 4h4m48 0h4m-52 4h4m0 4h4m20 24h4m16 0h4m-8 8h4m-8 4h4"/>
<path stroke="#c8ef34" d="M-44 -54h16m60 0h4m12 0h4m-100 4h4m16 0h4m48 0h4m24 0h4m-80 4h4m-32 4h4m24 0h4m-32 4h4m24 0h4m32 0h4m-40 4h4m-36 4h4m-8 4h8m24 0h4m-68 4h32m28 0h4m84 0h4m-92 4h4m40 0h4m-52 4h8m-4 4h4m44 4h4m-4 4h4m-4 12h4m-4 4h4m-4 4h4m-20 8h4m8 0h4m-12 4h8"/>
<path stroke="#d2e935" d="M-44 -58h16m72 0h4m-96 4h4m16 0h4m0 4h4m-32 4h4m64 0h4m-40 4h4m28 0h4m40 0h4m-116 4h4m32 0h4m72 0h4m-116 4h4m60 0h4m-72 4h4m32 0h4m28 0h4m-80 4h8m36 0h4m28 0h4m44 0h4m-88 4h4m-4 4h4m88 0h4m20 0h4m-80 4h4m-44 4h4m-4 4h4m0 4h4m0 4h4m32 0h4m-4 4h4m-8 16h4m-12 4h8"/>
<path stroke="#dbe236" d="M-44 -62h20m-24 4h4m16 0h8m56 0h8m4 0h4m-76 4h4m48 0h4m20 0h4m-108 4h4m28 0h4m36 0h4m32 0h4m-80 4h4m72 0h4m-116 4h4m60 4h4m-72 4h4m36 0h4m72 0h4m-124 4h4m40 0h4m72 0h4m-152 4h24m44 4h4m28 0h4m56 4h20m-116 4h4m8 20h4m0 4h4m0 4h4m0 4h4m12 0h4m-16 4h4"/>
<path stroke="#e3db38" d="M-36 -70h8m-16 4h20m-24 4h4m20 0h4m64 0h4m-68 4h4m68 0h4m-108 4h4m28 0h4m72 0h4m-116 4h4m36 0h4m-44 4h4m36 0h4m24 0h4m-76 4h4m40 0h4m20 0h4m-72 4h4m40 0h4m16 0h4m-72 4h4m44 0h4m16 0h4m-80 4h8m48 0h4m16 0h4m-28 4h4m20 0h4m52 4h4m-88 4h4m28 0h4m-36 4h4m-4 4h4m32 0h4m-40 4h4m24 28h8"/>
<path stroke="#ebd339" d="M-40 -74h16m-20 4h8m8 0h8m-28 4h4m20 0h4m-32 4h4m28 0h4m56 0h4m4 0h8m-108 4h4m32 0h4m44 0h4m20 0h4m-116 4h4m36 0h4m36 0h4m32 0h4m-76 4h4m24 0h4m40 0h4m-124 4h4m44 0h4m16 0h4m48 0h4m-76 4h8m8 0h4m52 0h4m-128 4h4m48 0h8m4 0h4m56 0h4m-132 4h4m52 0h4m8 0h4m56 0h4m-152 4h16m60 0h4m8 0h4m56 0h4m-80 4h4m72 0h4m-84 4h4m80 0h4m12 0h12m-112 4h4m28 12h4m-36 4h4m28 12h4m-4 4h4m-16 4h4m4 0h4"/>
<path stroke="#f1cb3a" d="M-36 -82h12m-16 4h20m-24 4h4m16 0h8m-32 4h4m24 0h4m-36 4h4m28 0h8m52 0h16m-72 4h4m48 0h4m16 0h4m-116 4h4m40 0h4m68 0h4m-76 4h4m-52 4h4m48 0h4m16 0h4m48 0h4m-76 4h16m56 0h4m-132 4h4m56 0h8m-72 4h4m60 0h4m-80 4h12m60 0h8m-8 4h8m-12 4h4m8 0h4m-20 4h4m16 0h4m60 0h12m-100 8h4m24 0h4m-32 4h4m-4 4h4m28 4h4m-32 4h4m24 0h4m-4 4h4m-20 8h4m4 4h4"/>
<path stroke="#f6c33a" d="M-36 -86h16m-24 4h8m12 0h8m-32 4h8m20 0h8m-36 4h4m28 0h4m-40 4h4m32 0h4m56 0h12m-112 4h4m40 0h4m44 0h4m16 0h4m-116 4h4m40 0h4m40 0h4m24 0h4m-72 4h4m32 0h4m32 0h4m-128 4h4m48 0h4m24 0h4m40 0h4m-72 4h16m-76 4h4m-8 4h4m128 0h4m-140 4h4m132 0h4m-156 4h8m144 0h4m-4 4h4m-76 4h8m64 0h4m16 0h8m-104 4h4m8 0h4m-20 4h4m16 0h4m-20 24h4m0 4h4m12 4h4"/>
<path stroke="#faba39" d="M-28 -90h16m-8 4h8m-4 4h8m-44 4h4m36 0h4m-44 4h4m36 0h4m48 0h16m-112 4h4m40 0h4m44 0h8m12 0h8m-72 4h4m64 0h4m-124 4h4m48 0h4m68 0h4m-128 4h4m52 0h4m68 0h4m-136 4h4m56 0h8m8 0h8m48 0h4m-136 4h4m128 0h4m-140 4h4m132 0h4m-144 4h4m136 0h4m-156 4h12m140 0h4m-4 8h4m-4 4h16m-92 4h8m-16 8h4m20 4h4m-28 8h4m12 16h8"/>
<path stroke="#fcb136" d="M-12 -90h8m-8 4h8m-4 4h4m36 0h12m-52 4h4m36 0h20m-108 4h4m44 0h4m36 0h8m-100 4h4m48 0h4m36 0h4m-96 4h4m52 0h4m32 0h4m28 0h4m-72 4h4m28 0h4m36 0h4m-136 4h4m60 0h4m20 0h4m-24 4h8m60 0h4m-144 4h4m136 0h4m-148 4h4m140 0h4m-156 4h8m144 0h4m-4 4h4m-8 4h8m-4 4h16m-100 12h4m8 0h4m0 4h4m-24 4h4m-4 4h4m20 0h4m-4 16h4"/>
<path stroke="#fea732" d="M-4 -90h32m-32 4h40m-40 4h8m16 0h12m-36 4h8m20 0h8m-36 4h8m24 0h4m-96 4h4m56 0h8m-68 4h4m60 0h4m24 0h4m-96 4h4m60 0h4m-72 4h4m68 0h20m-92 4h4m-8 4h4m144 0h4m-156 4h4m148 0h4m-164 4h4m156 0h4m-4 4h4m-4 4h12m-96 16h8m-12 4h4m16 12h4m-24 4h4m0 4h4m12 0h4m-16 4h4"/>
<path stroke="#fe9b2d" d="M4 -82h16m-16 4h20m-20 4h4m12 0h8m-24 4h4m20 0h4m-100 4h4m68 0h4m-76 4h4m68 0h8m12 0h4m-100 8h4m-8 4h4m-8 4h4m156 4h4m-4 4h4m-92 24h12m-16 4h4m12 0h4m-20 4h4m-4 4h4m16 4h4m-12 8h8"/>
<path stroke="#fe9029" d="M8 -74h12m-12 4h8m4 0h8m-20 4h8m8 0h4m-100 4h4m80 0h12m-96 4h4m-8 4h4m-8 4h4"/>
<path stroke="#fc8423" d="M16 -70h4m-4 4h8m-32 56h12m0 4h4m-16 8h4m0 4h4m4 0h4"/>
<path stroke="#f9751d" d="M-8 -6h4m-4 4h4m8 0h4m-4 4h4m-8 4h4"/>
<path stroke="#f56918" d="M-4 -6h8"/>
<path stroke="#f15d13" d="M-4 -2h8m-8 4h8"/></g></g><path class="ct" d="M84 20.5l-9 -5.5 -10.5 -4 -4.5 -.9 -4.5 -.1 -3 .9 -1.5 1.2 -1.3 2.9 -.4 3 .8 9 10.6 33M-39 77.1l11.2 -6.6 2.3 -2.1 1.5 -2.3 .4 -3.1 -.4 -2 -1.5 -3.1 -3 -3.7 -10.8 -7.7 -7.2 -6.5 -7.5 -4 -6 -1.7 -6 -.3 -6 1 -6 2.1M85.5 10.6l-12 -4.8 -24 -7.7 -4.5 -.4 -2.3 .8 -1.7 1.5 -1.6 4.5 0 7.5 1.7 10.5 4.1 18 .7 7.5 -.7 7.5 -3.4 13.5 -.8 6M-23.1 82.5l5.1 -5 2.7 -4 1.7 -4.5 .3 -4.5 -1.1 -6 -6.3 -16.5 -1.8 -13 -1.5 -3.8 -1.5 -1.3 -4.5 -1.2 -15 -.6 -18 -2.7 -9 0 -10.5 1.7M85.5 2.1l-22.5 -6.5 -19.5 -8 -4.5 0 -3 2 -1.5 2.2 -1.5 4.1 -1 10.1 1.2 12 3.7 21 .2 4.5 -.6 3 -2 4.5 -3 3.8 -11.4 9.7 -9.5 10.5 -1.7 4.5 .3 6M-.5 85.5l3.9 -9 -.2 -3 -2.3 -6 -10.5 -19.5 -2.4 -7.5 -2.8 -15 -2.1 -4.5 -2.6 -2.9 -4.5 -2.7 -6 -1.7 -16.5 -1.3 -24 -4.4 -7.5 -.3 -7.5 .4M85.5 -6l-19.5 -3.6 -6 -2.2 -4.5 -2.6 -5.6 -5.1 -2.9 -4.5 -1.4 -4.5 -1.5 -9 -2.2 -4.5 -1.8 -1.5 -2.6 -.9 -3 .3 -3 1.6 -3 3 -2.1 3.5 -1.5 4.5 -.7 4.5 -.1 6 1.1 12 1.8 37.5 0 6 -.6 4.5 -2 4.5 -3.4 3.7 -4.5 2.8 -6 1.6 -3 -.2 -3 -.9 -3 -1.9 -3 -3.1 -2.4 -5 -3.6 -13.5 -2.9 -6 -4.7 -6 -7.4 -5.8 -4.5 -2.2 -4.5 -1.3 -15 -2.2 -19.5 -6.5 -9 -1.5 -10.5 -.5M84 -14.8l-9 -.3 -7.5 -.8 -6 -2.1 -3 -2.5 -2.2 -3.5 -.9 -3 -.6 -13.5 -.8 -4.5 -2.2 -4.5 -3.8 -3.4 -4.5 -1.4 -6 .4 -6 2.2 -6.7 3.7 -4.1 3 -4.3 4.5 -1.9 3 -1.5 4.5 -.2 4.5 .6 4.5 3.9 13.5 1.5 7.5 .5 7.5 -.2 7.5 -1 9 -2 6 -2.6 3.7 -1.5 1.1 -3 .7 -1.5 -.4 -3 -2.2 -13.8 -16.4 -10.2 -10.3 -13.6 -12.2 -3.2 -4.5 -.5 -3 .4 -1.5 9.1 -12 1.8 -3.5 1.2 -4 0 -4.5 -.7 -3 -2 -3.5 -3 -2.7 -3 -1.3 -4.5 .2 -3 1.5 -3 2.8 -2 3 -1.8 4.5 -3.3 15 -2.7 3 -3.7 1.5 -6 1 -21 .5M-57.3 -64.5l-5.7 13.5 -2.7 4.5 -4.8 4.5 -6 2.7M81 -27.8l-7.5 .1 -2.5 -.8 -1.4 -1.5 -.5 -4.5 2.2 -13.5M43.5 -74.2l-4.5 3.3 -7.9 9.4 -5.6 4.1 -4.5 1.8 -7.5 1.9 -4.5 .6 -4.5 -.2 -4.5 -2.3 -4.3 -5.9 -2.3 -6 -3.1 -13.5 -1.6 -4.5M-6 -21.3l4.5 .1 4.5 2.8 4.5 5.3 3.5 7.1 1.2 6 -.4 6 -1.3 3.9 -1.5 2.1 -3 1.8 -4.5 -.4 -6 -3.6 -5.1 -5.3 -4.2 -7.5 -1 -6 1 -4.5 3.3 -4.9 4.5 -2.9"/><circle r="89.2" fill="none" stroke="#edf5ff" stroke-width="6"/><circle r="80.6" class="hd"/><path class="hd" d="M-14.5 -79.9L-3.2 -92.2Q0 -93.6 3.2 -92.2L14.5 -79.9M-79.2 -15.4L-82.1 -18.9 -83.4 -19.0 -85.3 -18.5 -87.2 -15.4 -86.9 0.9 -88.1 15.0 -85.7 21.1 -82.1 22.3 -77.9 19.3M79.2 -15.4L82.1 -18.9 83.4 -19.0 85.3 -18.5 87.2 -15.4 86.9 0.9 88.1 15.0 85.7 21.1 82.1 22.3 77.9 19.3"/><g class="el"><text x="-25.7" y="-74.8">FP1</text><text x="25.7" y="-74.8">FP2</text><text x="-24.0" y="-59.1">AF3</text><text x="24.0" y="-59.1">AF4</text><text x="-69.2" y="-46.2">F7</text><text x="-35.7" y="-38.5">F3</text><text x="0.0" y="-37.2">FZ</text><text x="35.7" y="-38.5">F4</text><text x="69.2" y="-46.2">F8</text><text x="-62.1" y="-18.7">FC5</text><text x="-21.1" y="-16.2">FC1</text><text x="21.1" y="-16.2">FC2</text><text x="62.1" y="-18.7">FC6</text><text x="-86.8" y="4.4">T7</text><text x="-43.2" y="4.4">C3</text><text x="0.0" y="4.4">CZ</text><text x="43.2" y="4.4">C4</text><text x="86.8" y="4.4">T8</text><text x="-62.0" y="27.1">CP5</text><text x="-21.2" y="25.0">CP1</text><text x="21.2" y="25.0">CP2</text><text x="62.0" y="27.1">CP6</text><text x="-69.2" y="54.6">P7</text><text x="-35.7" y="46.8">P3</text><text x="0.0" y="45.6">PZ</text><text x="35.7" y="46.8">P4</text><text x="69.2" y="54.6">P8</text><text x="-25.7" y="67.4">PO3</text><text x="25.7" y="67.4">PO4</text><text x="-26.1" y="83.7">O1</text><text x="0.0" y="85.5">OZ</text><text x="26.1" y="83.7">O2</text></g><text x="1" y="-104.1" class="tp" text-anchor="middle"><tspan class="tg">δ</tspan> @0.5-3.9Hz | POFF</text><rect x="103.3" y="-95.7" width="9.3" height="193" fill="url(#cbg)" stroke="#444" stroke-width="0.7"/><text x="118.3" y="-41.6" class="cbt">0.1</text><text x="118.3" y="15.2" class="cbt">0.09</text><text x="118.3" y="71.5" class="cbt">0.08</text><path d="M112.6 -47.5h-2M112.6 9.3h-2M112.6 65.6h-2" stroke="#262626" stroke-width="0.8"/><text transform="translate(174.3 -3.8) rotate(-90)" class="cbl" text-anchor="middle">PSD [<tspan class="mu">μ</tspan>V<tspan class="s2" dy="-6">2</tspan><tspan dy="6">/Hz]</tspan></text></g>
<g transform="translate(501.2 1824.0)"><g clip-path="url(#dc)"><g filter="url(#bl)" class="fl"><path stroke="#30123b" d="M-28 -90h56m-64 4h72m-80 4h88m-96 4h104m-108 4h112m-120 4h128m-132 4h136m-140 4h60m20 0h64m-144 4h52m32 0h60m-148 4h52m40 0h60m-156 4h52m48 0h60m-160 4h48m52 0h60m-164 4h48m60 0h60m-168 4h48m64 0h56m-172 4h48m68 0h60m-176 4h48m72 0h56m-180 4h48m80 0h56m-184 4h48m84 0h52m-184 4h48m88 0h44m-180 4h48m88 0h40m-176 4h48m92 0h32m-172 4h48m92 0h28m-168 4h48m96 0h20m-164 4h48m100 0h8m-156 4h48m-48 4h44m-44 4h44m-44 4h44m-44 4h48m104 0h8m-160 4h48m100 0h16m-160 4h48m92 0h28m-168 4h52m88 0h32m-168 4h52m80 0h36m-168 4h56m72 0h40m-164 4h60m60 0h40m-160 4h64m56 0h40m-156 4h64m52 0h36m-148 4h60m52 0h32m-144 4h56m56 0h32m-140 4h48m64 0h24m-132 4h40m68 0h20m-120 4h28m76 0h8m-108 4h16m-8 4h4"/>
<path stroke="#351e58" d="M4 -62h4m32 44h4m44 0h4m-40 20h4m8 0h4m-12 4h8m-112 4h4m-4 4h4m-4 4h4m104 0h8m-12 4h4m8 0h4m-20 4h4m16 0h8m0 4h4m-36 4h4m32 0h4m-44 4h4m-76 4h4m64 0h4m-60 8h4m48 0h4m-4 4h4m-4 4h4m-4 4h4m-60 4h4m56 0h4m-68 4h4m64 4h4m-84 4h4m80 0h4"/>
<path stroke="#392a73" d="M-12 -62h4m8 0h4m-24 4h4m32 8h4m-56 8h4m56 4h4m-72 12h4m76 4h4m44 8h4m-44 4h4m32 0h4m-8 4h4m-32 4h4m20 0h4m-8 4h4m-20 4h4m8 0h8m-16 4h12m-12 4h16m-16 4h4m8 0h4m-20 4h4m16 0h4m-120 4h4m120 0h4m-36 4h4m32 0h4m-44 4h4m-80 4h4m8 8h4m52 0h4m-8 4h4m-48 4h4m40 0h4m-48 4h4m40 0h4m-52 4h4m48 4h4m0 4h4m-84 12h4"/>
<path stroke="#3d358b" d="M-8 -62h8m8 4h4m0 4h4m-48 8h4m-12 12h4m-8 12h4m80 8h4m44 0h4m-48 8h4m0 8h4m20 0h4m-24 8h4m12 0h4m-20 4h4m16 0h4m-24 4h4m16 0h4m0 4h4m-32 4h4m32 0h4m-128 4h4m80 0h4m-84 4h4m72 4h4m-8 4h4m-8 4h4m-48 4h4m0 4h4m32 0h4m0 8h4m0 8h4m-68 4h4m64 0h4m0 4h4"/>
<path stroke="#4040a2" d="M-24 -54h4m-8 4h4m44 8h4m8 16h4m48 16h4m-8 4h4m-8 4h4m-32 8h4m20 0h4m-28 4h4m20 0h4m-28 4h4m-4 4h4m24 0h4m-124 4h4m88 0h4m28 0h4m4 4h4m-52 8h4m-8 4h4m-64 4h4m52 0h4m-52 4h4m4 4h8m28 0h4m-36 4h4m-8 4h4m32 0h4m-44 4h4m36 0h4m-48 4h4m44 0h4m0 8h4m-72 4h4m68 0h4"/>
<path stroke="#424bb5" d="M-16 -58h4m16 0h4m-44 20h4m60 8h4m-76 12h4m76 0h4m-84 4h4m-4 4h4m80 0h4m44 0h4m-136 4h4m-4 4h4m84 0h4m-92 4h4m116 0h4m-4 4h4m-4 4h4m-4 4h4m0 4h4m0 4h4m-44 4h4m-8 4h4m-56 16h12m28 0h4m-32 4h4m20 0h4m-28 4h4m20 0h4m-4 4h4m0 8h4m-52 4h4m48 0h4m-72 12h4"/>
<path stroke="#4456c7" d="M16 -46h4m-60 16h4m120 24h4m-8 4h4m-40 4h4m-92 4h4m84 0h4m-92 4h4m-4 4h4m120 0h4m-128 4h4m84 0h4m36 0h4m-44 4h4m40 0h4m-56 12h4m-68 4h4m56 0h4m-56 4h4m44 0h4m-32 4h4m20 0h4m-24 4h8m4 0h8m-20 4h20m-28 4h4m20 0h4m-32 4h4m28 0h4m0 8h4m-56 4h4m52 0h4m0 4h4m0 4h4"/>
<path stroke="#4661d6" d="M-12 -58h4m8 0h4m-24 4h4m24 0h4m0 4h4m-48 8h4m52 8h4m12 28h4m44 0h4m-12 8h4m-4 4h4m-40 4h4m32 0h4m-40 4h4m36 0h4m0 4h4m-132 8h4m76 0h4m-20 16h4m-24 4h20m-12 4h4m-16 8h20m0 4h4m-36 4h4m32 0h4m-56 12h4m60 4h4"/>
<path stroke="#466be3" d="M-8 -58h8m-24 8h4m-8 4h4m-16 20h4m68 4h4m0 8h4m0 12h4m40 0h4m-4 12h4m0 4h4m-52 8h4m-80 8h4m68 0h4m-72 4h4m60 0h4m-8 4h4m-48 4h20m-8 20h4m16 0h4m0 4h4m-40 4h4m36 0h4m0 4h4m0 4h4m-68 4h4m-8 4h4"/>
<path stroke="#4776ee" d="M20 -38h4m-60 4h4m120 32h4m-52 4h4m40 0h4m-48 4h4m40 0h4m0 4h4m-52 8h4m-8 8h4m-64 12h4m24 4h20m-24 20h16m-24 4h4m-16 8h4m44 4h4m0 4h4"/>
<path stroke="#4680f6" d="M-16 -54h4m16 0h4m20 28h4m-72 4h4m72 12h4m48 12h4m-4 4h4m-52 4h4m-4 4h4m-84 8h4m68 8h4m-8 4h4m-8 4h4m-12 28h4m-32 4h4m28 0h4m0 4h4m-52 4h4"/>
<path stroke="#458afc" d="M16 -42h4m-52 4h4m-12 20h4m68 0h4m0 12h4m-4 28h4m-60 16h4m36 0h4m-28 28h4m12 0h4m8 12h4m-56 4h4m52 0h4m-64 4h4m60 0h4"/>
<path stroke="#4294ff" d="M-12 -54h4m8 0h4m-24 4h4m24 0h4m-36 4h4m32 0h4m-44 4h4m-12 12h4m56 0h4m-68 16h4m-4 4h4m-4 4h4m-4 4h4m72 0h4m-80 4h4m-4 4h4m-4 12h4m72 0h4m-8 8h4m-64 8h4m48 0h4m-32 4h24m-20 28h12m4 4h4m-36 4h4m32 0h4"/>
<path stroke="#3d9efe" d="M-8 -54h8m20 20h4m12 36h4m-4 4h4m-80 4h4m72 0h4m-80 4h4m72 0h4m-76 12h4m0 4h4m56 0h4m-48 8h12m-4 32h4m16 0h4m-36 8h4m40 4h4m0 4h4"/>
<path stroke="#37a8fa" d="M28 -22h4m0 8h4m-4 36h4m-16 12h4m-28 36h4m8 0h4m-24 4h4m24 0h4m0 4h4m-48 4h4m-8 4h4"/>
<path stroke="#2fb2f4" d="M-16 -50h4m16 0h4m8 12h4m-52 4h4m-8 8h4m64 16h4m-4 28h4m-8 8h4m-8 4h4m-52 4h4m36 0h4m-20 36h8m16 16h4"/>
<path stroke="#27bee9" d="M-20 -46h4m28 4h4m-44 4h4m48 12h4m4 20h4m-4 20h4m-72 8h4m40 12h8m-4 40h4m-32 4h4m28 0h4m-40 4h4m36 0h4"/>
<path stroke="#20c7df" d="M-12 -50h4m8 0h4m4 4h4m-36 4h4m-16 20h4m60 4h4m0 16h4m-4 4h4m-4 4h4m-4 4h4m-8 12h4m-12 8h4m-24 4h8m-16 40h4m12 0h4m-36 12h4m-8 4h4m48 0h4"/>
<path stroke="#1bd0d5" d="M-8 -50h4m-28 20h4m48 0h4m-60 12h4m-4 36h4m56 8h4m-56 4h4m4 4h4m8 0h8m-4 40h4m-12 4h4m20 0h4m0 4h4m0 4h4"/>
<path stroke="#18d7ca" d="M-4 -50h4m-36 36h4m-4 4h4m-4 4h4m-4 4h4m-4 4h4m60 16h4m-64 8h4m44 4h4m-36 4h8m8 40h8m-24 8h4m-12 8h4"/>
<path stroke="#18dec0" d="M-16 -46h4m16 0h4m-36 12h4m40 0h4m8 20h4m-68 20h4m-4 4h4m-4 4h4m60 0h4m-8 8h4m-8 4h4m-12 4h4m-8 48h4m-32 8h4m32 0h4m0 4h4"/>
<path stroke="#1ae4b6" d="M-20 -42h4m24 0h4m-36 4h4m32 0h4m-48 12h4m52 4h4m0 12h4m-4 20h4m-24 20h4m-20 48h4m16 4h4"/>
<path stroke="#20eaac" d="M-12 -46h4m36 40h4m-4 4h4m-4 4h4m-4 4h4m-8 12h4m-12 8h4m-44 4h4m20 0h8m-12 48h4m4 0h4m-20 4h4m-8 4h4m-8 4h4m32 0h4"/>
<path stroke="#2aefa1" d="M0 -46h4m16 20h4m-56 48h4m48 0h4m-28 8h4m0 48h4m4 4h4m0 4h4"/>
<path stroke="#35f394" d="M-8 -46h8m-28 16h4m40 0h4m-52 8h4m52 4h4m-4 32h4m-56 12h4m36 0h4m-36 4h4m8 0h4m-4 52h4"/>
<path stroke="#43f787" d="M-16 -42h4m24 8h4m-48 16h4m52 28h4m-60 8h4m36 8h4m-28 4h8m12 52h4m-20 4h4m16 0h4m-28 4h4m24 0h4"/>
<path stroke="#52fa7a" d="M4 -42h4m-28 4h4m24 0h4m-36 4h4m-12 20h4m52 0h4m-4 20h4m-60 8h4m48 4h4m-8 4h4m-16 4h4m-12 56h8"/>
<path stroke="#61fc6c" d="M20 -22h4m-56 12h4m52 0h4m-60 4h4m52 0h4m-60 4h4m52 0h4m-60 4h4m52 0h4m-60 4h4m-4 4h4m48 4h4m-12 8h4m-16 4h4m-12 60h4m8 0h4m-20 4h4m16 0h4"/>
<path stroke="#71fe5f" d="M-12 -42h4m8 0h4m-32 16h4m40 44h4m-24 68h8"/>
<path stroke="#80ff53" d="M-8 -42h4m20 16h4m0 36h4m-52 12h4m32 0h4m-36 4h4m16 0h4m-8 64h4m8 0h4"/>
<path stroke="#8fff49" d="M-4 -42h4m-16 4h4m16 0h4m-28 4h4m24 0h4m-36 4h4m32 0h4m4 12h4m-4 24h4m-8 8h4m-16 8h4m-16 4h4m0 64h8"/>
<path stroke="#9cfe40" d="M-28 -22h4m44 8h4m-4 16h4m-52 16h4m36 0h4m-36 8h12"/>
<path stroke="#a9fb39" d="M-12 -38h4m24 16h4m-48 4h4m44 8h4m-4 4h4m-4 4h4m-8 12h4m-12 8h4m-12 4h4"/>
<path stroke="#b4f836" d="M0 -38h4m-28 12h4m-8 12h4m-4 4h4m-4 4h4m-4 4h4m-4 4h4m-4 4h4m-4 4h4m-4 4h4m36 0h4m-20 8h4"/>
<path stroke="#bef434" d="M-8 -38h8m-16 4h4m16 0h4m-28 4h4m24 0h4m0 4h4m0 32h4m-16 12h4m-32 4h4"/>
<path stroke="#c8ef34" d="M16 -18h4m-4 20h4m-8 8h4m-8 4h4m-20 8h4"/>
<path stroke="#d2e935" d="M-24 -22h4m36 8h4m-4 4h4m-4 4h4m-4 4h4m-44 20h4m20 0h4m-24 4h12"/>
<path stroke="#dbe236" d="M-12 -34h4m8 0h4m8 12h4m-4 28h4m-12 8h4m-12 4h4"/>
<path stroke="#e3db38" d="M-8 -34h8m-16 4h4m16 0h4m-28 4h4m24 0h4m-36 8h4m-4 20h4m32 0h4m-40 4h4m-4 4h4m28 0h4m-36 4h4"/>
<path stroke="#ebd339" d="M12 -18h4m-40 4h4m-4 4h4m-4 4h4m-4 4h4m32 0h4m-8 8h4m-12 8h4m-24 4h4m8 0h4"/>
<path stroke="#f1cb3a" d="M-12 -30h4m8 0h4m4 8h4m0 8h4m-4 4h4m-4 4h4m-12 16h4m-12 4h4m-16 4h8"/>
<path stroke="#f6c33a" d="M-16 -26h4m16 0h4m-28 4h4m24 24h4m-8 4h4m-8 4h4m-24 4h4"/>
<path stroke="#faba39" d="M-8 -30h8m8 12h4m-4 16h4m-32 4h4m-4 4h4m-4 4h4m0 4h12"/>
<path stroke="#fcb136" d="M-12 -26h4m8 0h4m0 4h4m-28 4h4m-4 4h4m24 0h4m-32 4h4m24 0h4m-32 4h4m24 0h4m-32 4h4m20 4h4m-8 4h4m-20 4h4m8 0h4"/>
<path stroke="#fea732" d="M-8 -26h8m-16 4h4m16 20h4m-24 8h4m8 0h4m-12 4h8"/>
<path stroke="#fe9b2d" d="M0 -22h4m0 4h4m-4 12h4m-24 8h4m12 0h4m-16 4h8"/>
<path stroke="#fe9029" d="M-12 -22h4m4 0h4m-16 4h4m-4 4h4m16 0h4m-24 4h4m16 0h4m-24 4h4m-4 4h4m12 0h4m-16 4h12"/>
<path stroke="#fc8423" d="M-8 -22h4m-8 4h4m8 0h4m-4 4h4m-4 4h4m-4 4h4m-16 4h12"/>
<path stroke="#f9751d" d="M-8 -18h8m-12 4h4m-4 4h4m-4 4h12"/>
<path stroke="#f56918" d="M-8 -14h8m-8 4h8"/></g></g><path class="ct" d="M-85.5 -6.6l9 3.2 4.5 .9 4.5 -1.2 3 -2.3 3 -4.1 3 -6.3 4.3 -16.6 2.6 -7.5 4.7 -9 5.1 -7.5 7.3 -8 9 -7.2 9 -5.3 9 -3.3 7.5 -.9 6 .5 6 1.8 6 3.6 3.7 3.8 3.6 6 7.7 20.1 2.9 5.4 7.6 6.4 9 5.5 6 2.1 3 -.1 3 -1.3 5.2 -5.1 5.7 -9M-55.5 66.3l9 -3.8 5.5 -4 1 -1.5 .6 -3 -1.1 -3.4 -3.7 -4.1 -24.8 -18.6 -6 -2.2 -6 .2M74.7 43.5l-4.2 -1.7 -4.5 -.2 -4.5 1.7 -3 2.8 -2 3.4 -1 4.5 .6 4.5 2.4 4.6M-40.5 75.8l11.6 -6.8 4.1 -3 2.5 -3 1.8 -4.5 -.4 -4.5 -2.8 -4.5 -6.2 -6 -11.1 -9 -5.3 -6 -3.2 -6 -1.5 -7.5 2.5 -30 1.2 -7.5 2.1 -7.5 3.2 -7.5 6.5 -10.5 4.7 -6 5.3 -5 9 -6 9 -3.2 4.5 -.5 4.5 .2 4.5 1.2 4.5 2.3 4.5 3.6 3.7 4.4 9.7 16.5 4.6 6.4 18 20.1 4.5 3.5 3 1.3 4.5 .2 6 -2.2 6 -4.4 7.6 -6.9M84.8 16.5l-3.8 -5.1 -1.2 -5.4 .4 -3 1.2 -3 4.1 -4.9M-30 80.3l11.7 -8.3 13.8 -11.1 14.6 -8.4 .2 -1.5 -1.1 -1.5 -4.2 -3 -3.3 -1.5 -10.7 -.8 -6 -1.3 -7.5 -3.1 -6 -3.6 -5.7 -4.7 -3.8 -4.5 -2.4 -4.5 -1.5 -6 .8 -33 1.4 -7.5 2.7 -7.5 7 -11.3 7.5 -8.3 4.5 -3.4 4.5 -2.4 4.5 -1.6 4.5 -.7 6 .5 4.5 1.6 4.5 2.8 4.5 4.4 20.7 28.9 4 7.5 3.5 9 2.9 10.5 .7 6 -.6 6 -2.1 6 -3.5 6 -4.9 6 -7.2 6.8 -10.6 8.2 -.9 1.5 1.4 3 18.7 22.5M-19.8 84l12.3 -9 6 -2.5 4.5 -.7 4.5 .6 4.5 1.9 4.5 3.4 4.5 5.1M-6 -51l4.5 -.1 3 .5 4.5 2 3 2.1 6 6.2 11 14.8 4.2 7.5 2.6 7.5 1.4 9 .1 10.5 -1 6 -2.3 6 -4 5.5 -4.5 3.4 -4.5 2 -6 1.4 -19.5 2 -6 0 -6 -1.2 -6 -2.8 -4.9 -4.3 -3.6 -6 -1.2 -4.5 -.5 -4.5 .5 -27 1 -6 1.9 -6 3.2 -6 3.6 -5.1 4.5 -4.9 4.5 -3.7 5 -2.8 5.5 -1.5M-3.2 85.5l3.2 -1.2 1.5 .1 3 1.4M-4.5 -43.6l3 0 3 .7 4.5 2.6 6 5.9 9.2 11.9 2.8 6 1.2 6 .4 7.5 -.7 7.5 -1.5 6 -2 4.5 -2.1 3 -3.8 3 -6.9 3 -11.2 3 -7.9 1.4 -6 0 -4.5 -1.2 -3 -1.9 -2.5 -2.8 -2.1 -4.5 -.9 -9 .1 -21 .6 -6 1.2 -4.5 2 -4.5 6.1 -8.1 7.5 -5.9 4.5 -1.9 3 -.7M-7.5 -33.5l4.5 -.7 4.5 1.2 4.5 3.4 4.5 5 3.4 5.1 1.8 4.5 .6 4.5 -.5 6 -1.7 6 -2.1 4.3 -2.4 3.2 -3.6 3.4 -6 3.6 -6 2.6 -6 1.5 -4.5 -.1 -1.6 -.5 -1.7 -1.5 -1.6 -4.5 -1.2 -22.5 .2 -7.5 1.3 -4.5 3.1 -4.7 4.5 -4.4 6 -3.4"/><circle r="89.2" fill="none" stroke="#edf5ff" stroke-width="6"/><circle r="80.6" class="hd"/><path class="hd" d="M-14.5 -79.9L-3.2 -92.2Q0 -93.6 3.2 -92.2L14.5 -79.9M-79.2 -15.4L-82.1 -18.9 -83.4 -19.0 -85.3 -18.5 -87.2 -15.4 -86.9 0.9 -88.1 15.0 -85.7 21.1 -82.1 22.3 -77.9 19.3M79.2 -15.4L82.1 -18.9 83.4 -19.0 85.3 -18.5 87.2 -15.4 86.9 0.9 88.1 15.0 85.7 21.1 82.1 22.3 77.9 19.3"/><g class="el"><text x="-25.7" y="-74.8">FP1</text><text x="25.7" y="-74.8">FP2</text><text x="-24.0" y="-59.1">AF3</text><text x="24.0" y="-59.1">AF4</text><text x="-69.2" y="-46.2">F7</text><text x="-35.7" y="-38.5">F3</text><text x="0.0" y="-37.2">FZ</text><text x="35.7" y="-38.5">F4</text><text x="69.2" y="-46.2">F8</text><text x="-62.1" y="-18.7">FC5</text><text x="-21.1" y="-16.2">FC1</text><text x="21.1" y="-16.2">FC2</text><text x="62.1" y="-18.7">FC6</text><text x="-86.8" y="4.4">T7</text><text x="-43.2" y="4.4">C3</text><text x="0.0" y="4.4">CZ</text><text x="43.2" y="4.4">C4</text><text x="86.8" y="4.4">T8</text><text x="-62.0" y="27.1">CP5</text><text x="-21.2" y="25.0">CP1</text><text x="21.2" y="25.0">CP2</text><text x="62.0" y="27.1">CP6</text><text x="-69.2" y="54.6">P7</text><text x="-35.7" y="46.8">P3</text><text x="0.0" y="45.6">PZ</text><text x="35.7" y="46.8">P4</text><text x="69.2" y="54.6">P8</text><text x="-25.7" y="67.4">PO3</text><text x="25.7" y="67.4">PO4</text><text x="-26.1" y="83.7">O1</text><text x="0.0" y="85.5">OZ</text><text x="26.1" y="83.7">O2</text></g><text x="1" y="-104.1" class="tp" text-anchor="middle"><tspan class="tg">θ</tspan> @3.9-7.8Hz | POFF</text><rect x="103.3" y="-95.7" width="9.3" height="193" fill="url(#cbg)" stroke="#444" stroke-width="0.7"/><text x="118.3" y="-52.2" class="cbt">0.032</text><text x="118.3" y="-6.0" class="cbt">0.03</text><text x="118.3" y="40.1" class="cbt">0.028</text><text x="118.3" y="86.4" class="cbt">0.026</text><path d="M112.6 -58.1h-2M112.6 -11.9h-2M112.6 34.2h-2M112.6 80.5h-2" stroke="#262626" stroke-width="0.8"/><text transform="translate(183.5 -3.8) rotate(-90)" class="cbl" text-anchor="middle">PSD [<tspan class="mu">μ</tspan>V<tspan class="s2" dy="-6">2</tspan><tspan dy="6">/Hz]</tspan></text></g>
<g transform="translate(815.0 1824.0)"><g clip-path="url(#dc)"><g filter="url(#bl)" class="fl"><path stroke="#30123b" d="M60 -70h4m-4 4h8m-8 4h12m-16 4h16m-148 4h8m124 0h20m-156 4h12m124 0h24m-160 4h12m124 0h24m-164 4h16m124 0h28m-168 4h8m132 0h28m-172 4h4m140 0h32m-32 4h32m-28 4h32m-32 4h32m-28 4h28m-20 4h20"/>
<path stroke="#351e58" d="M56 -70h4m-4 4h4m-132 4h4m124 0h4m-132 4h8m-4 4h8m-8 4h8m-8 4h8m112 0h4m-124 4h4m116 0h4m-132 4h8m120 0h4m-140 4h12m-16 4h12m-16 4h4m144 0h4m-4 4h4m0 4h4m0 4h8m4 4h16"/>
<path stroke="#392a73" d="M52 -74h4m-4 4h4m-4 4h4m-124 4h4m116 0h4m-120 4h4m112 0h4m-116 4h4m108 0h4m-116 4h4m108 0h4m-116 4h4m-8 4h8m-12 4h8m-12 4h8m116 0h4m-132 4h8m120 0h4m-144 4h12m128 0h4m-148 4h8m140 4h4m0 4h4m4 4h8m8 4h8"/>
<path stroke="#3d358b" d="M-68 -66h8m108 0h4m-116 4h8m104 0h4m-112 4h8m100 0h4m-108 4h4m100 0h4m-108 4h4m100 0h4m-108 4h4m100 0h4m-108 4h4m100 0h4m-112 4h4m104 0h4m-116 4h4m108 0h4m-120 4h4m-12 4h8m-16 4h12m124 0h4m-148 4h12m144 8h4m4 4h12"/>
<path stroke="#4040a2" d="M48 -78h4m-4 4h4m-116 4h4m108 0h4m-112 4h4m0 4h4m0 4h4m-4 4h8m-8 4h8m-8 4h4m-4 4h4m-8 4h4m-8 4h8m-12 4h8m104 0h4m-120 4h8m108 0h4m-124 4h8m-16 4h8m124 0h4m-148 4h12m136 0h4m0 4h4m4 4h4m4 4h16"/>
<path stroke="#424bb5" d="M44 -78h4m-4 4h4m-108 4h4m100 0h4m-104 4h4m96 0h4m-100 4h8m88 0h4m-96 4h8m84 0h4m-92 4h4m84 0h4m-92 4h4m84 0h4m-96 4h8m84 0h4m-96 4h4m88 0h4m-100 4h4m92 0h4m-100 4h4m92 0h4m-104 4h4m96 0h4m-108 4h4m-8 4h4m108 0h4m-124 4h8m-16 4h12m120 0h4m-148 4h16m132 0h4m-152 4h4m152 0h4m0 4h8m8 4h8"/>
<path stroke="#4456c7" d="M40 -82h4m-4 4h4m-4 4h4m-100 4h4m92 0h4m-96 4h8m84 0h4m-88 4h8m76 0h4m-84 4h12m68 0h4m-84 4h8m72 0h4m-84 4h8m72 0h4m-84 4h4m76 0h4m-88 4h4m-8 4h4m-4 4h4m-8 4h4m-8 4h8m92 0h4m-108 4h8m-12 4h12m100 0h4m-120 4h8m-16 4h12m-24 4h12m136 0h4m-156 4h4m152 0h4m8 4h8"/>
<path stroke="#4661d6" d="M36 -82h4m-4 4h4m-96 4h4m88 0h4m-92 4h4m84 0h4m-84 4h4m4 4h12m-4 4h4m-8 4h8m-8 4h4m-8 4h4m-8 4h4m76 0h4m-88 4h4m80 0h4m-88 4h4m80 0h4m-92 4h8m80 0h4m-92 4h4m-8 4h8m88 0h4m-100 4h4m92 0h4m-108 4h12m96 0h4m-116 4h12m104 0h4m-132 4h16m116 0h4m-148 4h12m136 0h4m4 4h8m4 4h12"/>
<path stroke="#466be3" d="M32 -82h4m-4 4h4m-88 4h4m0 4h4m4 4h12m64 0h4m-64 4h4m56 0h4m-64 4h4m56 0h4m-64 4h4m56 0h4m-68 4h4m60 0h4m-72 4h4m64 0h4m-76 4h4m68 0h4m-80 4h4m-4 4h4m-8 8h4m80 0h4m-88 4h4m80 0h4m-92 4h8m-8 4h4m88 0h4m-100 4h8m92 0h4m-112 4h12m100 0h4m-132 4h20m112 0h4m-152 4h16m140 0h4m4 4h8m4 4h8"/>
<path stroke="#4776ee" d="M32 -86h4m-88 8h4m0 4h4m76 0h4m-80 4h8m68 0h4m-64 4h4m56 0h4m-4 4h4m-56 4h4m48 0h4m-60 8h4m-8 4h4m-8 4h4m-8 4h4m68 0h4m-76 4h4m68 0h4m-80 4h4m72 0h4m-80 4h4m-4 4h4m-4 4h4m76 0h4m-88 4h8m-8 4h4m84 0h4m-96 4h8m88 0h4m-108 4h12m-32 4h16m120 0h4m-156 4h12m148 0h4m4 4h8"/>
<path stroke="#4680f6" d="M28 -86h4m-4 4h4m-4 4h4m-76 4h4m68 0h4m-68 4h4m60 0h4m-56 4h4m48 0h4m-52 4h4m-4 8h4m48 0h4m-4 4h4m-60 4h4m52 0h4m-64 4h4m56 0h4m-68 4h4m60 0h4m-68 4h4m-8 4h4m-4 4h4m68 0h4m-76 4h4m68 0h4m-76 4h4m-4 4h4m72 0h4m-84 4h8m-8 4h8m-12 4h8m88 0h4m-116 4h20m96 0h4m-140 4h16m124 0h8m-160 4h8m152 0h8m8 4h8"/>
<path stroke="#458afc" d="M24 -90h4m-4 4h4m-4 4h4m-76 4h4m68 0h4m-68 4h4m60 0h4m-60 4h8m48 0h4m-48 4h4m0 4h4m40 0h4m-48 4h4m40 0h4m-4 4h4m-52 4h4m44 0h4m-56 8h4m-8 4h4m-4 4h4m56 0h4m-68 4h4m60 0h4m-68 4h4m60 0h4m-68 4h4m-4 4h4m64 0h4m-72 4h4m64 0h4m-72 4h4m68 0h4m-76 4h4m72 0h4m-84 4h8m76 0h4m-92 4h8m84 0h4m-120 4h20m-40 4h16m132 0h4m-160 4h4m164 0h8m4 4h4"/>
<path stroke="#4294ff" d="M20 -90h4m-4 4h4m-4 4h4m-68 4h4m60 0h4m-60 4h4m52 0h4m-48 4h8m36 0h4m-40 4h4m36 0h4m-4 4h4m-4 4h4m-44 4h4m-4 4h4m-8 4h4m44 0h4m-4 4h4m-56 4h4m48 0h4m-4 4h4m-60 4h4m-4 4h4m-4 4h4m56 0h4m-64 4h4m56 0h4m-64 4h4m56 0h4m-64 4h4m60 0h4m-68 4h4m64 0h4m-72 4h4m68 0h4m-80 4h8m72 0h4m-96 4h12m88 0h4m-128 4h12m116 0h4m-152 4h12m144 0h8m4 4h8"/>
<path stroke="#3d9efe" d="M16 -90h4m-4 4h4m-64 4h4m56 0h4m-60 4h4m52 0h4m-52 4h4m44 0h4m-36 4h4m28 0h4m-32 4h4m28 0h4m-36 4h4m28 0h4m-36 4h4m-4 4h4m32 0h4m-4 4h4m-44 4h4m36 0h4m-48 4h4m-4 4h4m-8 4h4m-4 4h4m48 0h4m-4 4h4m-4 4h4m-4 4h4m-56 4h4m-4 4h4m52 0h4m-60 4h8m52 0h4m-64 4h8m56 0h4m-68 4h8m60 0h4m-80 4h8m76 0h4m-112 4h16m96 0h4m-136 4h12m128 0h4m-160 4h12m152 0h8m8 4h4"/>
<path stroke="#37a8fa" d="M12 -90h4m-4 4h4m-56 4h4m48 0h4m-52 4h4m40 0h8m-44 4h12m24 0h8m-28 4h8m16 0h4m-24 4h4m16 0h8m-28 4h4m20 0h4m-28 4h4m24 0h4m-4 4h4m-36 4h4m28 0h4m-40 8h4m36 0h4m-4 4h4m-48 4h4m40 0h4m-48 4h4m40 0h4m-52 4h4m44 0h4m-52 4h4m44 0h4m-52 4h8m40 0h4m-48 4h4m44 0h4m-52 4h8m40 0h4m-48 4h4m40 0h8m-52 4h8m40 0h8m-56 4h8m48 0h4m-68 4h12m60 0h4m-92 4h20m72 0h4m-120 4h12m112 0h4m-144 4h8m140 0h4m-164 4h8m164 0h8"/>
<path stroke="#2fb2f4" d="M8 -90h4m-8 4h8m-48 4h4m36 0h8m-44 4h4m28 0h8m-24 4h24m-12 4h16m-16 4h16m-16 4h20m-20 4h4m12 0h8m-28 4h4m20 0h4m-28 4h4m-8 4h4m28 0h4m-4 4h4m-40 4h4m32 0h4m-40 4h4m32 0h4m-44 8h4m-4 4h4m0 4h4m-4 4h8m28 0h8m-40 4h8m24 0h8m-40 4h12m16 0h12m-36 4h40m-40 4h48m-52 4h12m40 0h8m-68 4h8m60 0h4m-104 4h12m96 0h4m-132 4h8m128 0h4m-152 4h4m152 0h8m-172 4h4m172 0h8"/>
<path stroke="#27bee9" d="M0 -90h8m-44 4h4m32 0h4m-36 4h4m24 0h8m-32 4h28m0 20h12m-16 4h8m4 0h8m-4 4h8m-28 4h4m20 0h4m-32 4h4m24 0h4m-32 4h4m-8 8h4m32 0h4m-40 4h4m32 0h4m-40 4h8m24 0h8m-36 4h4m24 0h8m-32 4h8m12 0h8m-24 4h24m-20 4h16m-16 12h40m-52 4h36m20 0h4m-88 4h24m68 0h4m-120 4h8m116 0h4m-144 4h8m140 0h4m-160 4h4m164 0h4"/>
<path stroke="#20c7df" d="M-4 -90h4m-32 4h4m20 0h8m-28 4h24m8 28h4m-12 4h16m-16 4h4m12 0h4m-24 4h4m16 0h4m0 4h4m-32 4h4m24 0h4m-32 4h4m24 0h4m-32 4h8m16 0h8m-28 4h4m16 0h4m-24 4h24m-16 4h12m12 24h20m-60 4h16m8 0h16m24 0h4m-108 4h8m104 0h4m-132 4h8m128 0h4m-152 4h8m148 0h8m4 4h4"/>
<path stroke="#1bd0d5" d="M-12 -90h8m-24 4h20m8 40h12m-16 4h4m8 0h4m-20 4h4m12 0h8m-24 4h4m16 0h4m-24 4h8m8 0h8m-20 4h16m-16 4h16m-12 36h8m16 0h8m8 0h8m-96 4h36m64 0h4m-120 4h8m116 0h4m-140 4h4m140 0h4m-160 4h8m160 0h4"/>
<path stroke="#18d7ca" d="M-28 -90h16m12 48h8m-12 4h12m-12 4h16m-12 4h8m24 44h8m-52 4h40m20 0h4m-108 4h4m108 0h4m-132 4h8m128 0h4m-148 4h4m152 0h4m-168 4h4m168 0h4"/>
<path stroke="#18dec0" d="M28 18h4m12 0h4m-100 4h8m16 0h12m68 0h4m-120 4h4m120 0h4m-140 4h4m140 0h8m-160 4h4m160 0h4"/>
<path stroke="#1ae4b6" d="M32 18h12m-88 4h16m12 0h12m8 0h20m24 0h4m-112 4h4m112 0h4m-132 4h4m-12 4h4m152 0h4"/>
<path stroke="#20eaac" d="M-4 22h8m20 0h8m12 0h4m-104 4h4m-16 4h4m128 0h4m-144 4h4m144 0h4m-160 4h4m160 0h4"/>
<path stroke="#2aefa1" d="M32 22h12m-96 4h8m96 0h4m-120 4h4m120 0h4m-136 4h4m136 0h4m-152 4h4m152 0h4m-164 4h4m160 0h4"/>
<path stroke="#35f394" d="M-44 26h68m24 0h4m-112 4h4m112 0h4m-128 4h4m128 0h4m-144 4h4m144 0h4"/>
<path stroke="#43f787" d="M24 26h8m12 0h4m-104 4h4m-12 4h4m120 0h4m-136 4h4m136 0h4m-152 4h4m152 0h4"/>
<path stroke="#52fa7a" d="M32 26h12m-96 4h4m100 0h4m-116 4h4m-12 4h4m128 0h4m-144 4h4m144 0h4m-156 4h4m152 0h4"/>
<path stroke="#61fc6c" d="M-48 30h8m20 0h8m12 0h20m28 0h4m4 4h4m-132 8h4m136 0h4m-148 4h4"/>
<path stroke="#71fe5f" d="M-40 30h20m8 0h12m20 0h8m16 0h4m-104 4h4m104 0h4m-120 4h4m120 0h4m-132 4h4m136 4h4m-156 4h4m152 0h4"/>
<path stroke="#80ff53" d="M28 30h16m-96 4h4m-12 4h4m112 0h4m4 4h4m-140 4h4m136 0h4m-148 4h4m144 0h4"/>
<path stroke="#8fff49" d="M-48 34h4m92 0h4m-108 4h4m-12 4h4m120 0h4m-132 4h4m136 8h4"/>
<path stroke="#9cfe40" d="M-44 34h4m20 0h40m24 0h4m4 4h4m8 8h4m-140 4h4m136 0h4m-148 4h4"/>
<path stroke="#a9fb39" d="M-40 34h20m40 0h8m12 0h4m-96 4h4m-12 4h4m112 0h4m-124 4h4m120 0h4m-132 4h4m128 0h4m-140 4h4m136 0h4"/>
<path stroke="#b4f836" d="M28 34h12m-88 4h4m92 0h4m-108 4h4m116 12h4m-140 4h4m136 0h4m-4 4h4"/>
<path stroke="#bef434" d="M-44 38h4m36 0h20m28 0h4m4 4h4m-116 4h4m112 0h4m-124 4h4m120 0h4m-132 4h4m128 4h4m-52 32h12"/>
<path stroke="#c8ef34" d="M-40 38h4m16 0h16m20 0h8m-76 4h4m96 0h4m4 8h4m0 4h4m-132 4h4m-8 4h4m132 0h4m-4 4h4m-52 20h20m-28 4h8"/>
<path stroke="#d2e935" d="M-36 38h16m44 0h8m4 0h8m-92 4h4m-12 4h4m104 0h4m-116 4h4m-8 4h4m116 0h4m0 4h4m-132 4h4m124 0h4m-4 4h4m-4 4h4m-44 12h24m-36 4h8m-16 4h8"/>
<path stroke="#dbe236" d="M32 38h4m-36 4h16m28 0h4m-100 4h4m96 0h4m0 4h4m-120 8h4m116 0h4m-4 4h4m-128 4h4m120 0h4m-4 4h4m-8 4h4m-12 4h8m-40 4h8m-20 4h8m-16 4h8"/>
<path stroke="#e3db38" d="M-44 42h4m28 0h12m16 0h8m16 0h4m-100 8h4m-8 4h4m108 0h4m-120 8h4m112 4h4m-4 4h4m-8 4h4m-36 4h28m-40 4h8m-16 4h4m-12 4h4"/>
<path stroke="#ebd339" d="M-40 42h4m16 0h8m36 0h4m8 0h4m-88 4h4m88 0h4m0 4h4m-108 4h4m-8 4h4m108 0h4m-4 4h4m-120 4h4m-4 4h4m108 0h4m-16 4h12m-40 4h8m-16 4h4m-12 4h4m-16 4h8"/>
<path stroke="#f1cb3a" d="M-36 42h16m48 0h8m-40 4h24m20 0h4m-96 4h4m92 0h4m0 4h4m-4 4h4m-112 4h4m104 0h4m-112 4h4m104 0h4m-12 4h8m-32 4h20m-32 4h4m-12 4h4m-16 4h8m-20 4h8"/>
<path stroke="#f6c33a" d="M-44 46h4m28 0h8m24 0h4m-72 4h4m-8 4h4m92 0h4m-104 4h4m96 0h4m-4 4h4m-8 4h8m-108 4h4m88 0h8m-36 4h12m-20 4h8m-16 4h8m-20 4h8"/>
<path stroke="#faba39" d="M-40 46h4m20 0h4m36 0h16m-40 4h20m20 0h4m-4 4h4m-100 8h4m92 0h4m-100 4h4m88 0h4m-96 4h4m60 0h24m-88 4h4m52 0h4m-12 4h4m-12 4h4m-24 4h12"/>
<path stroke="#fcb136" d="M-36 46h20m-28 4h4m32 0h8m20 0h8m8 0h4m-88 4h4m48 0h12m-68 4h4m88 0h4m-8 4h4m-28 4h8m8 0h8m-36 4h8m-12 4h4m-52 4h4m36 0h4m-36 4h4m12 0h12"/>
<path stroke="#fea732" d="M-12 50h4m36 0h8m-40 4h8m12 0h24m-36 4h16m12 0h8m-92 4h4m52 0h20m4 0h8m-88 4h4m48 0h12m8 0h8m-80 4h4m44 0h4m-52 4h4m40 0h4m-44 4h4m28 0h4m-28 4h12"/>
<path stroke="#fe9b2d" d="M-40 50h4m16 0h8m-32 4h4m32 0h4m-44 4h4m40 0h8m16 0h12m-80 4h4m44 0h4m20 0h4m-32 4h4m-48 4h4m36 0h4m-44 4h4m32 0h4m-36 4h8m12 0h8"/>
<path stroke="#fe9029" d="M-36 50h16m8 4h4m-36 4h4m32 0h4m0 4h4m-48 4h4m36 0h4m-8 4h4m-36 4h4m24 0h4m-24 4h12"/>
<path stroke="#fc8423" d="M-40 54h4m20 0h4m0 4h4m-36 4h4m32 0h4m-40 4h4m28 0h4m-36 4h4m0 4h8m8 0h8"/>
<path stroke="#f9751d" d="M-36 54h4m8 0h8m-24 4h4m20 0h4m0 4h4m-32 8h4m20 0h4m-20 4h8"/>
<path stroke="#f56918" d="M-32 54h8m-12 4h4m12 0h4m-24 4h4m20 0h4m-28 4h4m20 0h4m-24 4h4m8 0h8"/>
<path stroke="#f15d13" d="M-32 58h4m4 0h4m-16 4h4m12 0h4m-20 4h4m12 0h4m-16 4h8"/>
<path stroke="#ec530f" d="M-28 58h4m-8 4h4m4 0h4m-12 4h12"/>
<path stroke="#e7490c" d="M-28 62h4"/></g></g><path class="ct" d="M49.9 -70.5l-1 16.5 .1 15 1.5 10.5 2.7 7.5 2.3 3.7 3 3.4 6.7 4.9 8.3 3.6 12 2.7M-84 -16.4l9 -4.1 9 -6.4 7.5 -6.7 4.9 -6.9 2.5 -6 .5 -6 -1 -3 -1.9 -3 -5 -5.2M22.5 -82.7l.6 7.7 3.9 12 1.8 7.5 4.8 31.5 2.1 7.5 2.2 4.5 2.6 3.4 4.2 4.1 9 7.5 6.3 4.4 10.5 5.3 13.5 4.2M-84 13.6l18 -4.1 25.5 -4 6.4 -2.5 2.6 -1.9 2.1 -2.6 1.1 -4.5 -.9 -13.5 1 -7.5 3.6 -9 9.9 -16.5 1.6 -4.5 .1 -4.5 -2 -4.1 -3 -2.5 -3 -1.4 -12 -3.4 -6.9 -3.6M-79.5 31.8l9 -3.7 12 -4.1 13.5 -3.1 10.5 -.6 13.5 .8 21 -2.5 19.5 1.3 3 -.4 9 -2.7 6 -.9 4.5 .4 6 1.7 15 7.6 16.5 6.8M-72.3 45l8.7 -6 8.1 -4.3 7.5 -2.9 7.5 -1.7 7.5 -.5 48 .8 22.5 -2.6 6 .8 7.5 2.7 13.4 7.7 9.1 6.4M-64.5 57.4l5.1 -6.4 6.9 -6.1 7.5 -4.4 7.5 -2.3 10.5 -.6 36 2.4 7.5 -.5 18 -2.7 7.5 1.4 7.5 4.2 7.5 7.1 3.2 4.5 2.1 4.5M-31.5 46.5l7.5 0 7.5 1.3 21 6.7 4.5 .8 6 -.6 13.5 -4.3 4.5 -.2 3 1.6 1.9 3.7 -.3 3 -1.6 2.6 -2.2 1.9 -3 1.5 -5.3 1.3 -10.5 -.8 -4.5 .4 -6 2.6 -12 7.6 -6 3.1 -6 1.9 -7.5 1.1M-50.8 69l.1 -3 1 -4.5 2.2 -4.5 2.2 -3 3.1 -3 3.2 -2.2 3 -1.3 4.5 -1"/><circle r="89.2" fill="none" stroke="#edf5ff" stroke-width="6"/><circle r="80.6" class="hd"/><path class="hd" d="M-14.5 -79.9L-3.2 -92.2Q0 -93.6 3.2 -92.2L14.5 -79.9M-79.2 -15.4L-82.1 -18.9 -83.4 -19.0 -85.3 -18.5 -87.2 -15.4 -86.9 0.9 -88.1 15.0 -85.7 21.1 -82.1 22.3 -77.9 19.3M79.2 -15.4L82.1 -18.9 83.4 -19.0 85.3 -18.5 87.2 -15.4 86.9 0.9 88.1 15.0 85.7 21.1 82.1 22.3 77.9 19.3"/><g class="el"><text x="-25.7" y="-74.8">FP1</text><text x="25.7" y="-74.8">FP2</text><text x="-24.0" y="-59.1">AF3</text><text x="24.0" y="-59.1">AF4</text><text x="-69.2" y="-46.2">F7</text><text x="-35.7" y="-38.5">F3</text><text x="0.0" y="-37.2">FZ</text><text x="35.7" y="-38.5">F4</text><text x="69.2" y="-46.2">F8</text><text x="-62.1" y="-18.7">FC5</text><text x="-21.1" y="-16.2">FC1</text><text x="21.1" y="-16.2">FC2</text><text x="62.1" y="-18.7">FC6</text><text x="-86.8" y="4.4">T7</text><text x="-43.2" y="4.4">C3</text><text x="0.0" y="4.4">CZ</text><text x="43.2" y="4.4">C4</text><text x="86.8" y="4.4">T8</text><text x="-62.0" y="27.1">CP5</text><text x="-21.2" y="25.0">CP1</text><text x="21.2" y="25.0">CP2</text><text x="62.0" y="27.1">CP6</text><text x="-69.2" y="54.6">P7</text><text x="-35.7" y="46.8">P3</text><text x="0.0" y="45.6">PZ</text><text x="35.7" y="46.8">P4</text><text x="69.2" y="54.6">P8</text><text x="-25.7" y="67.4">PO3</text><text x="25.7" y="67.4">PO4</text><text x="-26.1" y="83.7">O1</text><text x="0.0" y="85.5">OZ</text><text x="26.1" y="83.7">O2</text></g><text x="1" y="-104.1" class="tp" text-anchor="middle"><tspan class="tg">α</tspan> @7.8-13.2Hz | POFF</text><rect x="103.3" y="-95.7" width="9.3" height="193" fill="url(#cbg)" stroke="#444" stroke-width="0.7"/><text x="118.3" y="-85.9" class="cbt">0.07</text><text x="118.3" y="-52.2" class="cbt">0.065</text><text x="118.3" y="-19.0" class="cbt">0.06</text><text x="118.3" y="14.4" class="cbt">0.055</text><text x="118.3" y="47.8" class="cbt">0.05</text><text x="118.3" y="81.2" class="cbt">0.045</text><path d="M112.6 -91.8h-2M112.6 -58.1h-2M112.6 -24.9h-2M112.6 8.5h-2M112.6 41.9h-2M112.6 75.3h-2" stroke="#262626" stroke-width="0.8"/><text transform="translate(183.5 -3.8) rotate(-90)" class="cbl" text-anchor="middle">PSD [<tspan class="mu">μ</tspan>V<tspan class="s2" dy="-6">2</tspan><tspan dy="6">/Hz]</tspan></text></g>
<g transform="translate(1128.7 1824.0)"><g clip-path="url(#dc)"><g filter="url(#bl)" class="fl"><path stroke="#30123b" d="M-28 -90h56m-64 4h72m-80 4h88m-96 4h104m-108 4h112m-120 4h128m-132 4h136m-140 4h144m-144 4h144m-148 4h40m28 0h16m28 0h40m-156 4h40m84 0h36m-160 4h36m92 0h32m-164 4h36m96 0h36m-168 4h36m100 0h32m-172 4h40m100 0h36m-176 4h36m108 0h32m-180 4h40m108 0h36m-184 4h36m116 0h32m-184 4h32m132 0h20m-92 72h20m-28 4h36m-40 4h44m-44 4h44m-48 4h52m-56 4h52m-52 4h48m-48 4h48m-52 4h56m-60 4h56"/>
<path stroke="#351e58" d="M-36 -54h4m20 0h4m16 0h8m-20 4h8m36 0h4m0 4h4m-96 4h4m92 4h4m-104 8h4m100 0h4m-112 8h4m-8 4h4m120 0h8m-76 72h4m20 0h4m4 4h4m-48 8h4m44 0h4m-56 4h4m48 4h4m-8 4h8m-60 4h4m48 0h8m-64 4h4m56 0h4"/>
<path stroke="#392a73" d="M-32 -54h4m8 0h8m28 0h4m8 0h8m-76 4h4m28 0h4m8 0h8m-56 4h4m-8 8h4m-8 12h4m104 4h4m-152 8h24m68 64h16m-24 4h4m-8 4h4m-8 4h4m44 0h4m0 4h4m-4 4h4m-4 4h8m-68 4h4m56 0h8m-8 4h8"/>
<path stroke="#3d358b" d="M-28 -54h8m40 0h8m-44 4h8m20 0h4m20 0h4m-48 4h16m32 0h4m-48 4h4m44 0h4m-96 8h4m92 0h4m0 8h4m-112 8h4m112 0h4m-132 4h8m56 64h4m16 0h4m4 4h4m4 4h4m0 4h4m-60 4h4m-8 4h4m60 0h4m-68 4h4m64 0h4m-4 4h8m-80 4h4m-8 4h4"/>
<path stroke="#4040a2" d="M-36 -50h4m12 0h4m32 0h4m12 0h4m-76 4h4m24 0h4m16 0h4m-56 4h4m32 0h4m4 0h8m-12 4h4m44 0h4m-96 8h4m92 0h4m-104 8h4m128 8h12m-88 60h4m12 4h4m-36 4h4m36 0h4m-48 4h4m-8 4h4m-8 4h4m60 0h4m0 4h4m-76 4h4m72 0h8m-84 4h4m-8 4h4m-8 4h4"/>
<path stroke="#424bb5" d="M-32 -50h12m40 0h12m-48 4h4m24 0h4m-28 4h4m16 0h4m28 0h4m-88 4h4m32 0h4m4 0h8m-12 4h4m-48 8h4m-16 12h4m124 0h12m-80 60h4m4 0h8m-24 4h4m-16 8h4m52 0h4m-64 4h4m60 0h4m0 4h4m-76 4h4m72 0h16m-96 8h4m-8 4h4"/>
<path stroke="#4456c7" d="M-36 -46h4m12 0h4m32 0h4m16 0h4m-80 4h4m20 0h4m24 0h4m-28 4h4m16 0h4m-56 4h4m32 0h4m4 0h8m36 0h4m-52 4h8m44 4h4m-100 4h4m96 0h4m-108 4h4m104 0h4m-116 4h4m-40 4h24m64 0h8m-8 4h8m-8 4h8m-8 48h4m16 0h4m-32 4h4m32 0h4m-44 4h4m44 0h4m8 8h4m-76 4h4m72 0h8m-88 4h4m-4 4h4m-8 4h4m-12 4h8"/>
<path stroke="#4661d6" d="M-32 -46h12m40 0h16m-56 4h4m-24 4h4m20 0h4m52 0h4m-56 4h4m16 0h4m-56 4h4m32 0h4m8 0h4m36 0h4m-92 4h4m32 0h12m-8 4h8m-8 4h8m-12 4h12m60 0h4m-136 4h8m52 0h4m92 0h4m-100 4h4m0 8h8m0 40h4m-16 4h4m32 4h4m-52 4h4m-8 4h4m60 0h4m-72 4h4m72 0h4m-84 4h4m84 0h12m-104 4h4m-8 4h8m-12 4h8"/>
<path stroke="#466be3" d="M-36 -42h4m8 0h4m36 0h4m16 0h4m-60 4h4m28 0h4m-56 4h4m20 0h4m0 4h4m16 0h4m-24 4h4m12 0h4m-52 4h4m32 0h4m8 0h4m-56 4h4m36 0h4m8 0h4m-60 4h4m52 0h4m52 0h4m-124 4h4m60 0h4m72 0h8m-84 4h4m-16 4h4m8 0h4m-8 44h4m4 0h4m8 4h4m-40 4h4m-12 4h4m56 0h4m-68 4h4m68 0h4m-80 4h4m80 0h12m4 0h4m-108 4h4m-8 4h4m-8 4h4m-12 4h8"/>
<path stroke="#4776ee" d="M-32 -42h8m44 0h16m-72 4h4m8 0h4m36 0h4m16 0h4m-60 4h4m28 0h4m24 0h4m-84 4h4m20 0h4m-28 4h4m20 0h4m20 0h4m-24 4h4m16 0h4m36 0h4m-64 4h4m-4 4h4m-48 4h4m40 0h4m84 0h4m-172 4h4m92 8h4m-12 40h4m12 0h4m-28 4h4m32 0h4m4 4h4m-64 4h4m-8 4h4m76 0h4m-88 4h4m96 0h4m-108 4h4m-12 4h8m-16 4h12"/>
<path stroke="#4680f6" d="M-32 -38h8m44 0h4m-60 4h4m8 0h4m36 0h4m-56 4h4m12 0h4m28 0h4m24 0h4m0 4h4m-88 4h4m20 0h4m-32 4h4m24 0h4m20 0h4m40 0h4m-104 4h4m52 0h4m-4 4h4m60 0h4m-164 4h20m56 0h4m16 0h4m-20 8h4m0 4h8m0 32h4m8 4h4m-40 8h4m-16 4h4m68 0h4m-84 4h8m84 0h20m-116 4h8m-12 4h8m-16 4h8"/>
<path stroke="#458afc" d="M24 -38h12m-68 4h8m44 0h4m12 0h4m-72 4h12m36 0h4m-56 4h4m12 0h4m28 0h4m-36 4h4m28 0h4m-56 4h4m-8 4h4m24 0h4m68 0h4m-112 4h4m32 0h4m80 0h4m-140 4h8m148 0h4m-104 4h4m16 0h4m-8 8h4m-8 32h4m4 0h4m-20 4h4m24 0h4m-40 4h4m40 0h4m-60 4h8m56 0h4m-80 4h8m76 0h4m-92 4h4m-8 4h4m-8 4h4m-16 4h8"/>
<path stroke="#4294ff" d="M24 -34h4m4 0h4m0 4h4m-72 4h12m36 0h4m20 0h4m-80 4h8m4 0h4m0 4h4m28 0h4m-36 4h4m28 0h4m-64 4h4m108 0h4m-128 4h8m36 0h4m96 0h4m-180 4h4m96 4h4m-20 4h4m0 32h4m12 0h4m-52 12h8m-16 4h4m88 0h8m12 0h8m-124 4h4m-8 4h4m-12 4h8"/>
<path stroke="#3d9efe" d="M28 -34h4m-12 4h4m-52 8h4m40 0h4m24 0h4m-84 4h16m68 0h4m-92 4h4m-8 4h4m20 0h4m28 0h4m-68 4h4m124 0h8m-172 4h4m72 4h4m8 8h4m0 24h4m8 4h4m-32 4h4m32 0h4m-48 4h4m48 0h4m-76 4h4m76 0h4m12 4h12m-120 4h4m-12 4h8m-16 4h8"/>
<path stroke="#37a8fa" d="M24 -30h12m-16 4h4m12 0h4m-24 8h4m-56 4h16m80 4h4m-112 4h4m24 0h4m28 0h4m56 0h4m-160 4h20m48 0h4m24 0h4m72 0h4m-84 8h4m-16 4h4m4 0h4m-8 24h4m4 0h4m-20 4h4m-32 8h16m-24 4h4m84 0h4m28 0h4m-128 4h4m-12 4h4m-16 4h8"/>
<path stroke="#2fb2f4" d="M24 -26h4m4 0h4m-16 4h4m16 0h4m-28 8h4m32 0h4m-96 4h8m8 0h4m-44 8h8m140 0h4m-88 16h4m-8 20h4m12 0h4m4 4h4m-40 4h4m40 0h4m-72 4h4m72 0h4m-88 4h4m92 0h8m4 0h16m-128 4h4m-16 4h8m-16 4h4"/>
<path stroke="#27bee9" d="M28 -26h4m12 8h4m-80 8h8m40 0h4m-64 4h4m16 0h4m88 0h4m-128 4h8m28 0h4m96 0h4m-176 4h8m68 0h4m24 0h4m-28 4h4m0 4h4m12 0h4m-8 4h4m-8 16h12m4 4h4m-32 4h4m-12 4h4m-28 4h4m80 0h4m-96 4h4m104 0h4m-120 4h8m-20 4h8"/>
<path stroke="#20c7df" d="M24 -22h4m8 0h4m-20 4h4m32 8h4m-100 4h8m4 0h4m40 0h4m44 0h4m-116 4h4m120 0h4m-164 4h8m164 0h4m-80 4h4m-20 8h4m8 0h4m-12 4h8m-4 8h4m-16 8h4m28 4h4m-64 4h8m4 0h4m52 0h4m-84 4h4m88 0h4m24 0h8m-136 4h4m-16 4h8"/>
<path stroke="#1bd0d5" d="M28 -22h8m-12 4h4m12 0h4m-24 4h4m24 0h4m-84 8h4m-16 4h4m16 0h4m36 0h4m-96 4h12m148 0h4m-180 4h4m88 16h8m-8 4h4m4 0h4m-16 4h4m12 0h4m4 4h4m-40 4h4m-28 4h4m8 0h4m60 0h4m40 0h4m-36 4h4m12 0h8m-132 4h4m-20 4h8"/>
<path stroke="#18d7ca" d="M20 -10h4m-64 8h4m108 0h4m-140 4h12m32 0h4m-72 4h4m68 0h4m100 0h4m-104 4h4m20 0h4m-24 4h4m0 4h4m8 0h4m-4 4h4m-16 4h4m12 0h4m0 4h4m8 8h4m-76 4h4m116 0h4m-132 4h4m100 0h12m-132 4h8"/>
<path stroke="#18dec0" d="M28 -18h12m-16 4h4m24 4h4m4 4h4m-100 4h12m92 0h4m-124 4h8m60 0h4m60 0h4m-168 4h8m-16 4h4m100 4h4m-20 8h4m-8 8h4m-8 4h4m32 0h4m-48 4h4m48 0h4m-84 4h4m84 0h4m28 0h4m-132 4h4m-28 4h12"/>
<path stroke="#1ae4b6" d="M44 -14h4m-28 8h4m-68 8h4m16 0h4m96 0h4m-156 4h8m84 0h4m64 0h4m-176 4h4m172 0h4m-100 8h4m16 0h4m-4 4h4m4 8h4m60 4h4m-128 4h8m8 0h4m100 0h4m-136 4h4m92 0h4m16 0h8m-136 4h8"/>
<path stroke="#20eaac" d="M28 -14h4m8 0h4m-20 4h4m28 4h4m-40 4h4m40 0h4m-108 4h4m-32 4h12m36 0h4m96 0h4m-168 4h4m96 0h4m-112 4h4m76 0h4m96 0h4m-4 4h4m-100 4h4m92 0h4m-100 4h4m20 0h4m68 0h4m-108 8h4m40 0h4m-76 4h4m8 0h8m60 0h4m36 0h4m-136 4h4m100 0h16m-144 4h16"/>
<path stroke="#2aefa1" d="M32 -14h8m8 4h4m-88 12h12m96 0h4m-132 4h12m-36 4h4m60 0h4m96 0h4m-176 4h4m100 0h4m-112 4h4m104 0h4m-4 4h4m-32 8h4m32 0h4m56 0h4m-8 4h4m-132 4h4m84 0h4m28 0h4m-160 4h4m20 0h4"/>
<path stroke="#35f394" d="M24 -6h4m-8 8h4m44 0h4m-116 4h4m116 0h4m-156 4h8m148 0h4m-168 4h4m164 0h4m-176 4h4m168 0h4m-180 4h4m172 0h4m-180 4h4m108 0h4m60 0h4m-8 4h4m-52 4h4m40 0h4m-164 4h4m28 0h4m92 0h4m20 0h4m-152 4h20"/>
<path stroke="#43f787" d="M28 -10h4m12 0h4m4 4h4m4 4h4m-104 8h4m12 0h4m40 0h4m-92 4h8m-20 4h4m64 4h4m-80 4h4m-4 4h4m72 0h4m88 0h4m-172 4h4m112 0h4m-120 4h4m40 0h12m12 0h4m88 0h4m-156 4h4m20 0h4m100 0h4m8 0h8"/>
<path stroke="#52fa7a" d="M32 -10h4m-12 8h4m36 4h4m-104 4h12m96 0h4m-136 4h16m24 0h4m36 0h4m52 0h4m-156 4h4m56 0h4m32 0h4m56 0h4m-168 4h4m100 0h4m56 0h4m-168 4h4m68 0h4m28 0h4m56 0h4m-60 4h4m-112 4h4m64 0h4m88 0h4m-164 4h8m28 0h4m12 0h12m56 0h4m-116 4h20m108 0h8"/>
<path stroke="#61fc6c" d="M36 -10h8m-16 4h4m24 4h4m-104 12h4m-32 4h4m144 0h4m-160 4h4m-8 8h4m156 0h4m-160 4h4m108 0h4m36 0h4m-152 4h4m16 0h8m88 0h4m24 0h4"/>
<path stroke="#71fe5f" d="M48 -6h4m-28 8h4m40 4h4m-112 4h4m12 0h4m92 0h4m-144 4h20m-28 4h4m148 0h4m-160 4h4m100 0h4m48 0h4m-160 4h4m104 0h4m-108 4h4m24 0h8m-32 4h16m100 0h4m12 0h8"/>
<path stroke="#80ff53" d="M32 -6h4m-8 4h4m28 4h4m-40 4h4m-64 4h12m-24 4h8m20 0h4m88 0h4m-148 4h4m52 0h4m36 0h4m-104 4h4m-4 4h4m56 0h4m84 0h4m-148 4h4m12 0h8m8 0h8m12 0h4m52 0h4m28 0h4m-24 4h12"/>
<path stroke="#8fff49" d="M44 -6h4m4 4h4m8 8h4m-44 4h4m40 0h4m-112 4h4m60 0h4m-96 4h24m116 0h4m-148 4h4m52 0h4m40 0h4m40 0h4m-148 4h4m16 0h12m72 0h4m-104 4h12m24 0h12m60 0h4m20 0h4"/>
<path stroke="#9cfe40" d="M36 -6h8m-16 8h4m24 0h4m-96 12h4m100 0h4m-116 4h4m-28 4h28m-28 4h16m12 0h4m104 0h4m-28 4h4m12 0h4"/>
<path stroke="#a9fb39" d="M32 -2h4m12 0h4m-24 8h4m28 0h4m0 4h4m-100 4h12m-20 4h4m16 0h4m44 0h4m36 0h4m-112 4h4m104 0h4m-108 4h4m12 0h4m52 0h4m24 0h4m-20 4h12"/>
<path stroke="#b4f836" d="M28 10h4m-4 4h4m-68 4h4m-4 4h4m12 0h4m48 0h4m-68 4h4m68 0h4"/>
<path stroke="#bef434" d="M36 -2h4m4 0h4m-16 4h4m16 0h4m0 4h4m0 4h4m0 4h4m-100 4h4m4 0h4m52 0h4m28 0h4m-100 4h4m64 0h4m24 0h4m-96 4h8m64 0h4m12 0h4"/>
<path stroke="#c8ef34" d="M40 -2h4m-12 8h4m-4 8h4m24 0h4m-92 4h4m-4 4h8m80 0h4m-16 4h12"/>
<path stroke="#d2e935" d="M48 2h4m0 4h4m-24 4h4m20 0h4m-24 8h4m20 0h4m-24 4h4m12 0h4"/>
<path stroke="#dbe236" d="M36 2h4m16 12h4m-4 4h4m-16 4h12"/>
<path stroke="#e3db38" d="M40 2h8m-12 4h4m8 0h4m-16 4h4m12 0h4m-20 4h4m12 0h4m-16 4h8m4 0h4"/>
<path stroke="#ebd339" d="M40 6h8m0 4h4m-12 4h4m4 0h4m-4 4h4"/>
<path stroke="#f1cb3a" d="M40 10h8m-4 4h4"/></g></g><path class="ct" d="M-78 -36.2l6 -2.4 4.5 -3.5 11 -14.9 7.5 -7.5 8.5 -5.2 9 -3 10.5 -1.7 9 -.8 15 0 15 .8 15 1.3 7.5 1.2 7.5 2.3 7.7 3.6M-82.5 -22.9l12 -.4 4.5 -.9 2.5 -1.3 2 -1.8 2.9 -4.2 8.2 -16.5 6 -7.5 5.4 -4.2 6 -3 6 -1.8 6 -.6 22.5 1.5 22.5 -1.3 7.5 1.1 7.5 2.3 8.1 4.5 6.1 6 3.6 6 4.7 12.6 3 4.7 3 1.8 3 .6 12 -.3M14.3 84l1.2 -15 -.6 -1.5 -1.9 -1.5 -2.5 -.8 -3 -.1 -6 1.8 -6 4.8 -4.1 6.3 -2.7 7.5M-85.5 -12.6l19.5 -.6 6 -1.3 4 -2 3.6 -3 3.3 -4.5 6.1 -16.5 3.9 -6 3.1 -2.6 3.5 -1.9 4 -1.3 4.5 -.5 4.5 .7 4.5 1.7 12 7.6 3 .9 3 -1 10.5 -6.6 6 -2.5 6 -1 7.5 1.2 6 3 4 3.8 2.9 4.5 6.6 13.5 3.3 4.5 3.2 3 4 2.2 4.5 1.2 16.5 1.3M46.5 72.5l-10.4 -12.5 -7.6 -5.8 -6 -3 -7.5 -2.6 -6 -1.1 -4.5 -.1 -4.5 1.2 -4.5 2.4 -6.2 4.5 -4.8 4.5 -5.2 7.5 -6.4 13.5M-85.5 -2.8l22.5 -1.5 12 -2.5 4.9 -2.2 4.7 -3 11.4 -9.7 3 -1.2 1.5 .1 3 1.6 1.5 1.7 7 15 6.4 9 3.1 2.8 3 1.8 4.5 .6 3 -1.2 1.5 -1.3 3 -4.7 1.8 -5.5 2.7 -15 3.1 -7.5 2.9 -3.9 3 -2.6 3 -1.6 3 -.4 3 .7 3 1.9 12.9 11.9 9.6 6.7 10.5 4 16.5 3.6M67.5 53.9l-9 .5 -9 -1.5 -7.5 -2.8 -28.5 -13.2 -4.5 -1.4 -4.5 -.2 -6 1.8 -10.5 6.2 -6 2.8 -6 1.7 -9 1 -3 .8 -4.5 2.8 -10.5 8.2 -6 3.4M-85.5 10.5l4.5 -1.9 6 -1.5 27 -3 13.5 -3.5 6 -.3 6 2 6 4.3 6.9 6.9 3.8 6 .6 4.5 -1.9 4.5 -4.9 4.9 -6 3.3 -6 1.3 -12 -.4 -4.5 .4 -19.5 6.8 -12 1.6M76.5 38.7l-10.5 3 -9 .9 -9 -1 -10.5 -3.5 -12.7 -6.6 -4.1 -3 -3 -3 -2.1 -4.5 -.2 -3 .9 -4.5 4.9 -15 3.4 -7.5 3.9 -4.7 3 -1.7 3 -.7 4.5 .5 6 2.1 18 9.6 16.5 7.3 6.1 4.1M39 -6.2l6 .5 6 2.7 11 7.5 6.9 6 3 4.5 .8 4.5 -1.3 4.5 -2.3 3 -3.1 2.2 -4.5 1.8 -4.5 .8 -6 -.2 -6 -1.2 -5.2 -1.9 -5.3 -3 -3.6 -3 -2.1 -3 -1.4 -4.5 0 -4.5 .8 -4.5 1.8 -4.9 2.8 -4.1 3.2 -2.3 3 -.9M-30 11.8l4.5 .1 3 .9 3 1.7 2 2 1.8 3 .3 3 -1 3 -1.6 1.8 -4.5 2.1 -6 -.1 -7.7 -2.3 -10 -4.5 -.2 -1.5 5.6 -4.5 5.3 -3 5.5 -1.7M-64.5 20.9l3 -1 3 -.2 5.8 1.3 2 1.5 -1.3 1.5 -4.8 3 -3.2 1 -3 0 -2.3 -1 -1.2 -1.5 -.2 -1.5 .5 -1.5 1.7 -1.6"/><circle r="89.2" fill="none" stroke="#edf5ff" stroke-width="6"/><circle r="80.6" class="hd"/><path class="hd" d="M-14.5 -79.9L-3.2 -92.2Q0 -93.6 3.2 -92.2L14.5 -79.9M-79.2 -15.4L-82.1 -18.9 -83.4 -19.0 -85.3 -18.5 -87.2 -15.4 -86.9 0.9 -88.1 15.0 -85.7 21.1 -82.1 22.3 -77.9 19.3M79.2 -15.4L82.1 -18.9 83.4 -19.0 85.3 -18.5 87.2 -15.4 86.9 0.9 88.1 15.0 85.7 21.1 82.1 22.3 77.9 19.3"/><g class="el"><text x="-25.7" y="-74.8">FP1</text><text x="25.7" y="-74.8">FP2</text><text x="-24.0" y="-59.1">AF3</text><text x="24.0" y="-59.1">AF4</text><text x="-69.2" y="-46.2">F7</text><text x="-35.7" y="-38.5">F3</text><text x="0.0" y="-37.2">FZ</text><text x="35.7" y="-38.5">F4</text><text x="69.2" y="-46.2">F8</text><text x="-62.1" y="-18.7">FC5</text><text x="-21.1" y="-16.2">FC1</text><text x="21.1" y="-16.2">FC2</text><text x="62.1" y="-18.7">FC6</text><text x="-86.8" y="4.4">T7</text><text x="-43.2" y="4.4">C3</text><text x="0.0" y="4.4">CZ</text><text x="43.2" y="4.4">C4</text><text x="86.8" y="4.4">T8</text><text x="-62.0" y="27.1">CP5</text><text x="-21.2" y="25.0">CP1</text><text x="21.2" y="25.0">CP2</text><text x="62.0" y="27.1">CP6</text><text x="-69.2" y="54.6">P7</text><text x="-35.7" y="46.8">P3</text><text x="0.0" y="45.6">PZ</text><text x="35.7" y="46.8">P4</text><text x="69.2" y="54.6">P8</text><text x="-25.7" y="67.4">PO3</text><text x="25.7" y="67.4">PO4</text><text x="-26.1" y="83.7">O1</text><text x="0.0" y="85.5">OZ</text><text x="26.1" y="83.7">O2</text></g><text x="1" y="-104.1" class="tp" text-anchor="middle"><tspan class="tg">β</tspan> @13.2-29.8Hz | POFF</text><rect x="103.3" y="-95.7" width="9.3" height="193" fill="url(#cbg)" stroke="#444" stroke-width="0.7"/><text x="118.3" y="-72.8" class="cbt">0.018</text><text x="118.3" y="-37.9" class="cbt">0.017</text><text x="118.3" y="-2.9" class="cbt">0.016</text><text x="118.3" y="32.0" class="cbt">0.015</text><text x="118.3" y="66.9" class="cbt">0.014</text><text x="118.3" y="101.8" class="cbt">0.013</text><path d="M112.6 -78.7h-2M112.6 -43.8h-2M112.6 -8.8h-2M112.6 26.1h-2M112.6 61.0h-2M112.6 95.9h-2" stroke="#262626" stroke-width="0.8"/><text transform="translate(183.5 -3.8) rotate(-90)" class="cbl" text-anchor="middle">PSD [<tspan class="mu">μ</tspan>V<tspan class="s2" dy="-6">2</tspan><tspan dy="6">/Hz]</tspan></text></g>
<g transform="translate(1442.4 1824.0)"><g clip-path="url(#dc)"><g filter="url(#bl)" class="fl"><path stroke="#30123b" d="M-4 -42h12m-16 4h16m-16 4h16m-16 4h16m-16 4h16m-16 4h16m-16 4h16m-16 4h16m-16 4h16m-16 4h16m-16 4h16m-20 4h20m-20 4h20m-20 4h20m-20 4h24m-24 4h24m-24 4h24m-28 4h32m-32 4h40m-44 4h52m-52 4h56m-60 4h64m-64 4h64m-60 4h56m-52 4h48m-36 4h20"/>
<path stroke="#351e58" d="M0 -46h4m-12 4h4m-8 36h4m-4 4h4m16 4h4m-4 4h4m-4 4h4m-28 12h4m24 0h4m0 4h4m-40 4h4m40 0h4m-52 8h4m-4 12h4m56 0h4m-60 4h4m48 0h4m-48 4h8m20 0h8"/>
<path stroke="#392a73" d="M-4 -46h4m8 8h4m-4 4h4m-24 4h4m16 0h4m-24 4h4m16 0h4m-24 4h4m16 0h4m-24 4h4m-4 4h4m-4 4h4m16 0h4m-4 4h4m-4 4h4m-28 20h4m24 0h4m-40 16h4m52 0h4m0 4h4m-68 4h4m-4 4h4m8 12h4m36 0h4"/>
<path stroke="#3d358b" d="M4 -46h4m-20 12h4m16 16h4m-4 4h4m-28 16h4m-4 4h4m-4 4h4m24 0h4m-32 4h4m24 0h4m0 8h4m-40 4h4m36 0h4m-48 4h4m48 0h4m-60 8h4m-4 12h4m0 4h4m48 4h4m-36 4h16"/>
<path stroke="#4040a2" d="M-8 -46h4m12 4h4m-24 4h4m-8 32h4m-4 4h4m24 4h4m-4 4h4m-36 16h4m40 4h4m-56 8h4m-8 8h4m-4 4h4m68 0h4m-72 8h4m60 0h4m-60 4h4m4 4h8m16 0h8"/>
<path stroke="#424bb5" d="M-4 -50h8m-20 36h4m-4 4h4m24 4h4m-4 4h4m-36 20h4m32 0h4m0 4h4m-48 4h4m52 4h4m0 4h4m-72 4h4m68 4h4m-76 8h4m4 8h4m52 0h4m-52 4h4m32 0h4"/>
<path stroke="#4456c7" d="M4 -50h4m0 4h4m-24 4h4m20 8h4m-4 4h4m-32 4h4m24 0h4m-32 4h4m24 0h4m-32 4h4m24 0h4m-4 4h4m-4 4h4m-36 16h4m-4 4h4m-4 4h4m32 0h4m8 12h4m-60 4h4m-8 4h4m-8 8h4m-4 4h4m72 4h4m-64 12h4m40 0h4m-32 4h12"/>
<path stroke="#4661d6" d="M12 -38h4m-32 8h4m-8 28h4m-4 4h4m32 4h4m-4 4h4m0 8h4m-48 4h4m44 0h4m12 16h4m-76 16h4m0 4h4m16 8h4m12 0h8"/>
<path stroke="#466be3" d="M-8 -50h4m-8 4h4m20 4h4m-32 8h4m-8 28h4m32 8h4m-44 16h4m-8 8h4m-8 4h4m-8 8h4m-4 12h4m72 4h4m-8 4h4m-64 4h4m48 0h4m-48 4h8m24 0h4"/>
<path stroke="#4776ee" d="M-4 -54h8m4 4h4m-28 12h4m-8 24h4m-4 4h4m32 4h4m-4 4h4m-44 16h4m40 0h4m8 12h4m0 4h4m-76 4h4m72 0h4m-80 20h4m0 4h4m48 8h4"/>
<path stroke="#4680f6" d="M4 -54h4m4 8h4m-36 28h4m32 4h4m-4 4h4m-44 16h4m-4 4h4m40 0h4m0 8h4m-56 4h4m52 0h4m-64 4h4m-12 16h4m-4 4h4m80 0h4m-76 16h4m56 0h4m-56 4h4m8 4h16"/>
<path stroke="#458afc" d="M-8 -54h4m-8 4h4m-8 8h4m28 8h4m-4 4h4m-40 4h4m32 0h4m-40 4h4m32 0h4m-4 4h4m-44 16h4m-4 4h4m40 4h4m-52 12h4m-12 12h4m-8 8h4m80 4h4m-88 8h4m80 0h4m-72 16h4m44 0h4m-40 4h4m16 0h8"/>
<path stroke="#4294ff" d="M0 -58h4m4 4h4m0 4h4m0 12h4m-40 8h4m-8 24h4m40 8h4m-52 12h4m48 0h4m0 4h4m-64 4h4m60 0h4m0 4h4m4 12h4m-84 20h4m72 0h4m-76 4h4m64 0h4m-12 4h4m-48 4h4"/>
<path stroke="#3d9efe" d="M-4 -58h4m4 0h4m-24 12h4m28 4h4m-40 8h4m-8 24h4m40 4h4m-4 4h4m-52 12h4m48 0h4m12 20h4m-84 4h4m-4 20h4m80 0h4m-76 12h4m4 4h4m32 0h4"/>
<path stroke="#37a8fa" d="M-24 -14h4m40 4h4m-52 16h4m-8 12h4m-8 8h4m-12 16h4m-4 4h4m72 20h4m-16 4h4m-32 4h16"/>
<path stroke="#2fb2f4" d="M-8 -58h4m12 0h4m-24 4h4m20 0h4m0 8h4m-40 8h4m-8 20h4m40 0h4m-4 4h4m-52 16h4m48 4h4m0 8h4m0 4h4m-76 12h4m80 4h4m-92 4h4m-4 12h4m0 8h4m0 4h4m72 0h4m-76 4h4m4 4h4m44 0h4m-40 4h4m16 0h4"/>
<path stroke="#27bee9" d="M-4 -62h12m-24 12h4m32 16h4m-4 4h4m-4 4h4m-48 4h4m40 0h4m-52 20h4m48 4h4m-60 12h4m-8 8h4m68 0h4m0 4h4m4 20h4m-8 12h4m-12 8h4m-56 8h4m24 0h4"/>
<path stroke="#20c7df" d="M16 -50h4m-40 8h4m36 4h4m-48 12h4m-8 20h4m48 4h4m-60 12h4m56 0h4m-72 16h4m-8 8h4m88 8h4m-4 8h4m-96 4h4m12 16h4m52 0h4m-52 4h4m32 0h4"/>
<path stroke="#1bd0d5" d="M0 -66h4m-12 4h4m12 0h4m-24 4h4m20 0h4m4 16h4m-48 12h4m-8 20h4m48 4h4m-60 12h4m56 0h4m0 8h4m-72 4h4m76 12h4m0 8h4m-4 16h4m-92 8h4m0 4h4m64 4h4m-16 4h4m-32 4h16"/>
<path stroke="#18d7ca" d="M-4 -66h4m4 0h4m-24 12h4m28 0h4m-40 8h4m36 0h4m-48 12h4m-8 20h4m48 0h4m-4 4h4m-60 12h4m-8 12h4m68 4h4m-80 4h4m-8 8h4m-8 12h4m-4 4h4m0 12h4m84 4h4m-8 4h4m-76 4h4m4 4h4m44 0h4m-40 4h4m16 0h4"/>
<path stroke="#18dec0" d="M-8 -66h4m12 0h4m-24 4h4m20 0h4m8 40h4m-56 4h4m48 0h4m-60 16h4m56 4h4m0 8h4m4 12h4m-92 16h4m-4 12h4m80 20h4m-56 8h4m24 0h4"/>
<path stroke="#1ae4b6" d="M-4 -70h12m-24 12h4m28 0h4m-40 8h4m36 0h4m-48 12h4m44 4h4m-4 4h4m-4 4h4m-56 4h4m-8 16h4m56 4h4m-68 12h4m-8 8h4m-8 8h4m84 0h4m-96 8h4m92 0h4m-100 20h4m92 4h4m-96 4h4m0 4h4m0 4h4m4 4h4m52 0h4m-52 4h4m32 0h4"/>
<path stroke="#20eaac" d="M-8 -70h4m12 0h4m-24 4h4m20 0h4m-40 24h4m44 4h4m-56 12h4m-8 16h4m56 4h4m-68 12h4m64 0h4m0 8h4m4 52h4m-28 12h4m-32 4h16"/>
<path stroke="#2aefa1" d="M-4 -74h12m8 12h4m0 8h4m0 12h4m-56 12h4m-8 16h4m56 4h4m-68 12h4m-8 12h4m76 4h4m-88 4h4m-8 8h4m92 0h4m0 12h4m-4 4h4m-4 4h4m-104 8h4m92 4h4m-12 8h4m-76 4h4m60 0h4m-60 4h4m8 4h4m16 0h4"/>
<path stroke="#35f394" d="M0 -78h4m-12 4h4m12 0h4m-24 4h4m20 0h4m-32 8h4m-8 8h4m-8 8h4m44 0h4m0 32h4m0 16h4m0 8h4m4 12h4m4 16h4m-108 4h4m-4 4h4m-4 4h4m100 4h4m-100 12h4m0 4h4m60 8h4m-44 4h4m24 0h4"/>
<path stroke="#43f787" d="M-8 -78h8m4 0h8m-24 4h4m20 0h4m-32 8h4m28 0h4m0 8h4m-52 24h4m52 12h4m-64 4h4m56 0h4m-68 16h4m64 0h4m-76 12h4m76 4h4m-88 4h4m-8 8h4m-8 12h4m-4 16h4m0 8h4m8 12h4m68 0h4m-68 4h4m52 0h4m-52 4h4m32 0h4"/>
<path stroke="#52fa7a" d="M-4 -82h12m-20 4h4m-8 8h4m28 0h4m-40 12h4m-8 8h4m44 0h4m-56 12h4m52 8h4m-4 4h4m-64 4h4m-8 16h4m64 0h4m-76 12h4m72 0h4m8 20h4m-104 8h4m100 0h4m-4 24h4m-8 8h4m-8 4h4m-80 8h4m48 4h4m-32 4h16"/>
<path stroke="#61fc6c" d="M-8 -82h4m12 0h4m0 4h4m-32 4h4m28 0h4m0 12h4m0 8h4m0 16h4m-4 4h4m-64 8h4m-8 16h4m64 0h4m-76 12h4m-8 12h4m84 4h4m-96 4h4m-8 36h4m0 8h4m0 4h4m0 4h4m76 0h4m-12 4h4m-60 4h4m8 4h4m16 0h4"/>
<path stroke="#71fe5f" d="M-8 -86h16m-20 4h4m20 0h4m-32 4h4m28 0h4m0 8h4m-44 4h4m36 0h4m-44 4h4m-8 8h4m-8 12h4m52 0h4m-68 28h4m64 0h4m0 16h4m-84 8h4m80 0h4m-96 20h4m104 16h4m-8 16h4m-92 16h4m4 4h4m48 0h4m-44 4h4m24 0h4"/>
<path stroke="#80ff53" d="M-4 -90h8m-16 4h4m16 0h8m-32 4h4m28 0h4m-40 4h4m-4 4h4m36 0h4m-44 4h4m40 12h4m0 12h4m-64 16h4m-8 12h4m64 0h4m-76 16h4m72 0h4m4 16h4m-96 4h4m92 4h4m-104 4h4m100 4h4m-112 12h4m108 0h4m-116 4h4m-4 4h4m108 0h4m-4 4h4m-112 8h4m96 8h4m-8 4h4m-12 4h4m-12 4h4m-52 4h4m32 0h4"/>
<path stroke="#8fff49" d="M-12 -90h8m8 0h8m-28 4h4m-8 4h4m36 4h4m0 16h4m-52 4h4m48 8h4m-60 4h4m-8 12h4m60 8h4m-4 4h4m-76 16h4m72 0h4m-84 12h4m80 0h4m-92 8h4m-12 24h4m108 0h4m-116 16h4m104 12h4m-104 4h4m0 4h4m0 4h4m4 4h4m4 4h4m40 0h4m-32 4h16"/>
<path stroke="#9cfe40" d="M-16 -90h4m24 0h4m-36 4h4m32 0h4m-44 4h4m40 0h4m-48 4h4m-4 4h4m44 0h4m-4 4h4m-4 4h4m0 12h4m-60 4h4m56 16h4m-4 4h4m-72 8h4m-8 12h4m72 0h4m-84 12h4m80 0h4m0 8h4m0 8h4m-104 4h4m100 4h4m-112 8h4m-4 24h4m108 0h4m-112 8h4m88 12h4m-12 4h4m-52 8h8m16 0h8"/>
<path stroke="#a9fb39" d="M-20 -90h4m32 0h4m-44 4h4m40 0h4m0 8h4m-52 8h4m-4 4h4m-4 4h4m48 4h4m-64 20h4m60 0h4m-72 12h4m68 12h4m-88 24h4m-8 8h4m-8 12h4m108 4h4m-4 28h4m-12 12h4m-88 8h4m68 0h4m-68 4h4m48 0h4"/>
<path stroke="#b4f836" d="M-24 -90h4m40 0h4m-52 8h4m48 0h4m-56 4h4m-4 4h4m52 8h4m-4 4h4m-60 8h4m56 8h4m-68 4h4m60 0h4m0 24h4m-80 4h4m-8 12h4m80 0h4m-92 8h4m88 0h4m0 8h4m0 8h4m-112 4h4m-8 20h4m0 16h4m0 8h4m100 0h4m-104 4h4m0 4h4m84 0h4m-20 8h4m-52 4h4m32 0h4"/>
<path stroke="#bef434" d="M-28 -90h4m-4 4h4m48 0h4m0 8h4m-4 4h4m-60 4h4m52 0h4m-60 12h4m56 8h4m-72 20h4m68 8h4m-80 4h4m-8 12h4m80 0h4m-96 20h4m104 16h4m-120 8h4m-4 4h4m116 0h4m-4 4h4m-124 4h4m116 0h4m-124 4h4m112 12h4m-100 16h4m76 0h4m-76 4h4m60 0h4m-60 4h4m40 0h4"/>
<path stroke="#c8ef34" d="M24 -90h4m-60 4h4m-4 4h4m56 0h4m-64 4h4m0 12h4m-4 4h4m56 4h4m-4 4h4m-68 8h4m-8 12h4m68 4h4m-4 4h4m-80 4h4m-8 12h4m80 0h4m-92 12h4m88 0h4m-100 8h4m96 0h4m0 8h4m-112 4h4m-8 12h4m116 4h4m-4 16h4m-124 4h4m0 8h4m16 20h4m4 4h4m48 0h4"/>
<path stroke="#d2e935" d="M28 -86h4m-64 12h4m60 0h4m-68 4h4m60 0h4m-4 4h4m-4 4h4m-68 12h4m64 12h4m-4 4h4m0 20h4m-92 12h4m88 0h4m-104 20h4m108 8h4m-120 4h4m116 28h4m-116 16h4m100 0h4m-104 4h4m92 0h4m-96 4h4"/>
<path stroke="#dbe236" d="M-36 -86h4m-4 4h4m64 0h4m-72 4h4m64 0h4m-68 12h4m-4 8h4m-4 4h4m64 8h4m-4 4h4m-76 4h4m-8 12h4m76 8h4m-88 4h4m-12 20h4m96 0h4m-108 8h4m104 0h4m-116 12h4m116 8h4m-124 28h4m116 0h4m-120 8h4m108 0h4"/>
<path stroke="#e3db38" d="M32 -86h4m-72 12h4m0 12h4m64 4h4m-4 4h4m-4 4h4m-76 8h4m-8 12h4m76 8h4m-88 4h4m-8 12h4m88 0h4m-100 8h4m96 0h4m-108 8h4m104 0h4m-116 12h4m112 0h4m0 8h4m-128 8h4m-4 4h4m-4 4h4m-4 4h4m0 16h4m4 12h4"/>
<path stroke="#ebd339" d="M-40 -82h4m-4 4h4m72 0h4m-4 4h4m-76 4h4m68 0h4m-76 4h4m68 0h4m-4 4h4m-76 12h4m-4 4h4m-8 12h4m76 4h4m-4 4h4m-88 4h4m-8 12h4m88 0h4m-100 8h4m96 0h4m-108 8h4m-8 12h4m112 0h4m-124 16h4m124 8h4m-4 4h4m-4 4h4m-132 4h4m120 12h4m-120 8h4"/>
<path stroke="#f1cb3a" d="M36 -82h4m-80 8h4m-4 4h4m0 8h4m-4 4h4m-4 4h4m72 16h4m-4 4h4m-88 8h4m-8 12h4m88 0h4m4 20h4m-116 8h4m112 0h4m0 12h4m-128 4h4m124 8h4m-4 16h4m-132 4h4m124 0h4m-128 12h4m116 0h4"/>
<path stroke="#f6c33a" d="M-44 -82h4m-4 4h4m-4 4h4m80 0h4m-4 4h4m-84 4h4m76 0h4m-4 4h4m-4 4h4m-4 4h4m-4 4h4m-4 4h4m-4 4h4m-84 4h4m80 20h4m-100 12h4m96 0h4m-108 8h4m104 0h4m-116 8h4m112 0h4m-124 12h4m120 0h4m-128 4h4m124 8h4m-132 28h4m124 0h4"/>
<path stroke="#faba39" d="M40 -82h4m-4 4h4m-88 8h4m0 8h4m-4 4h4m-4 4h4m-4 4h4m-4 4h4m-4 4h4m-8 12h4m84 4h4m-4 4h4m-96 4h4m-8 8h4m96 0h4m-108 8h4m104 0h4m-116 8h4m112 0h4m-124 8h4m-4 4h4m120 0h4m0 12h4m-136 4h4m-4 4h4m-4 4h4m-4 4h4m-4 4h4m0 16h4"/>
<path stroke="#fcb136" d="M-48 -78h4m-4 4h4m0 8h4m-4 4h4m-4 28h4m84 0h4m-4 4h4m-96 8h4m-8 8h4m96 0h4m-108 8h4m104 0h4m-116 8h4m112 0h4m-124 8h4m120 0h4m-4 4h4m-132 12h4m128 0h4m-136 4h4m132 12h4m-4 4h4m-140 8h4m-4 4h4m128 8h4"/>
<path stroke="#fea732" d="M-52 -78h4m92 0h4m-100 4h4m92 0h4m-96 4h4m88 0h4m-96 4h4m88 0h4m-4 4h4m-92 4h4m84 0h4m-92 4h4m84 0h4m-4 4h4m-4 4h4m-92 4h4m84 0h4m-92 4h4m84 0h4m-96 12h4m92 8h4m-112 16h4m112 0h4m-124 8h4m120 0h4m-132 8h4m-4 4h4m-4 4h4m128 0h4m0 12h4m-4 4h4m-4 12h4m-4 4h4m-4 4h4m-140 4h4m0 8h4"/>
<path stroke="#fe9b2d" d="M-56 -74h4m0 4h4m-4 4h4m0 4h4m-4 4h4m0 8h4m-4 4h4m-8 16h4m92 8h4m-104 4h4m-8 8h4m104 0h4m-116 4h4m-8 8h4m120 0h4m-132 4h4m128 0h4m-136 4h4m128 0h4m-4 4h4m-4 4h4m-140 8h4m-4 4h4m136 0h4m-144 4h4m-4 4h4m-4 4h4m-4 4h4m136 16h4m-140 4h4"/>
<path stroke="#fe9029" d="M48 -78h4m-4 4h4m-108 4h4m100 0h4m-108 4h4m100 0h4m-104 4h4m96 0h4m-104 4h4m96 0h4m-100 4h4m-4 4h4m-4 4h4m-4 4h4m-4 4h4m-4 4h4m92 0h4m-4 4h4m-4 4h4m-104 4h4m-8 8h4m104 0h4m0 8h4m-124 4h4m120 0h4m-132 4h4m128 0h4m-140 4h4m136 0h4m-144 4h4m136 0h4m-144 4h4m136 0h4m-144 4h4m136 0h4m-144 4h4m136 0h4m-4 4h4m-144 24h4m-4 4h4"/>
<path stroke="#fc8423" d="M-60 -70h4m-4 4h4m-4 4h8m-4 4h4m0 4h4m96 0h4m-104 4h4m96 0h4m-4 4h4m-4 4h4m-4 4h4m-104 8h4m-4 4h4m-8 8h4m104 0h4m-116 8h4m112 0h4m-124 4h4m120 0h4m-132 4h4m128 0h4m-148 4h12m136 0h20m-168 4h8m144 0h16m-168 4h8m144 0h8m-156 4h4m144 0h4m-152 4h4m144 0h4m-152 4h4m144 0h4m-152 4h4m144 0h4m-152 4h4m144 0h4m-152 4h4m144 0h4m-4 4h4m-4 4h4m-4 4h4m-4 4h4m-148 8h4"/>
<path stroke="#f9751d" d="M-64 -70h4m112 0h4m-124 4h8m-8 4h8m-8 4h12m-8 4h12m-4 4h4m0 4h4m-4 4h4m-4 4h4m-4 4h4m-8 12h4m104 0h4m-116 8h4m112 0h4m-124 4h4m120 0h4m-132 4h4m128 0h4m-156 4h20m136 0h24m-180 4h8m168 0h4m-180 4h8m168 0h4m-176 4h4m160 0h8m-172 4h8m152 0h8m-164 4h4m152 0h4m-160 4h4m0 16h4m-4 4h4m-4 4h4m144 8h4m-148 8h4"/>
<path stroke="#f56918" d="M52 -74h4m-4 8h4m-128 4h4m120 0h4m-128 4h4m120 0h4m-128 4h8m116 0h4m-128 4h16m108 0h4m-124 4h16m104 0h4m-112 4h4m104 0h4m-112 4h4m104 0h4m-112 4h4m104 0h4m-112 4h4m104 0h4m-112 4h4m104 0h4m-116 8h4m112 0h4m-128 8h4m128 0h4m-160 4h24m136 0h24m-184 4h4m-4 4h4m-4 4h4m-4 4h8m172 0h4m-180 4h4m168 0h4m-172 4h4m160 0h4m-8 4h4m-160 4h4m152 0h4m-160 4h4m152 0h4m-160 4h4m152 0h4m-4 4h4m-156 12h4m-4 4h4"/>
<path stroke="#f15d13" d="M-76 -54h4m-8 4h8m-4 4h8m-4 4h16m-4 4h4m-4 4h4m-4 12h4m112 0h4m-144 8h4m12 0h8m120 0h4m-156 4h24m136 0h20m-180 24h4m176 0h4m-180 4h4m168 0h4m-172 4h4m160 0h4m-168 4h4m160 0h4m-164 12h4m-4 4h4m152 0h4m-4 4h4m-4 4h4"/>
<path stroke="#ec530f" d="M56 -70h4m-4 4h4m-4 4h4m-4 4h4m-4 4h4m-4 4h4m-140 4h4m132 0h4m-140 4h8m128 0h4m-136 4h16m116 0h4m-124 4h4m116 0h4m-120 4h4m112 0h4m-120 4h4m112 0h4m-148 8h12m8 0h8m120 0h4m-156 4h8m4 0h12m132 0h8m16 4h4m-184 28h4m176 0h4m-180 4h4m168 0h4m-4 4h4m-172 4h4m160 0h4m-168 4h4m160 0h4m-164 12h4"/>
<path stroke="#e7490c" d="M-84 -42h4m-4 4h8m-8 4h20m-24 4h28m-28 4h28m-32 4h32m120 0h4m-156 4h4m12 0h8m132 0h4m4 4h20m-184 36h4m176 0h4m-180 4h4m-4 4h4m168 0h4m-172 8h4m160 0h4m-4 4h4m-164 8h4"/>
<path stroke="#e14109" d="M60 -70h4m-4 4h4m-4 4h4m-4 4h4m-4 4h4m-4 4h4m-4 4h4m-4 4h4m-4 4h4m-152 4h4m144 0h4m-4 4h4m-156 4h4m148 0h4m0 4h4m0 4h20m-180 44h4m176 0h4m-180 8h4m168 0h4m-172 8h4"/>
<path stroke="#da3907" d="M64 -66h4m-4 4h4m-4 4h4m-4 4h4m-4 4h4m-4 4h4m-4 4h4m-4 8h4m-4 4h4m-4 4h4m0 4h16m4 4h4"/>
<path stroke="#d23105" d="M64 -38h4m0 4h4m-4 4h4m-4 4h12m4 4h8"/>
<path stroke="#ca2a04" d="M68 -62h4m-4 4h4m-4 4h4m-4 4h4m-4 4h4m-4 4h4m-4 4h4m0 4h4m-4 4h12m-4 4h12"/>
<path stroke="#c12302" d="M72 -54h4m-4 4h4m-4 4h4m-4 4h4m-4 4h8m-4 4h8m0 4h4"/>
<path stroke="#b71d02" d="M76 -50h4m-4 4h4m-4 4h8m-4 4h4m0 4h4"/></g></g><path class="ct" d="M-1.5 -46.9l-3 1.7 -1.5 1.7 -1.8 3 -1.4 4.5 -1.5 22.5 -1.8 13.5 -1 13.5 -1.2 6 -2.5 6 -9 13.5 -1.3 4.5 .4 3 2.7 4.5 3.4 3.1 6 3.5 7.5 2.5 7.5 1.2 7.5 0 9 -1 9 -1.9 7.5 -2.8 4.5 -3.5 1.8 -2.6 1 -3 0 -4.5 -1.3 -3.3 -3.3 -4.2 -4.2 -3.2 -12 -6.6 -3 -3.1 -2 -3.6 -2 -7.5 -2.9 -24 0 -6 1.2 -12 -.5 -6 -1.5 -4.5 -2.8 -3.5 -3 -1.6 -4.5 .2M1.5 -57l-4.5 1 -4.5 3.1 -3.9 4.9 -3 6 -2.9 10.5 -5.6 34.5 -2.2 10.5 -3.1 7.5 -9.3 15 -1.5 4.1 -.6 3.4 .6 5 2.4 5.5 3.6 4.7 4.5 3.9 6 3.5 7.5 2.9 7.5 1.9 7.5 .7 7.5 -.4 9 -1.8 13.5 -4 6 -2.7 4.5 -3.2 3.3 -4 2.1 -4.5 .9 -6 -1 -6 -2.9 -6 -3.9 -5.1 -11.7 -11.4 -3.7 -7.5 -2.2 -9 -2.1 -12 -.7 -7.5 -.2 -15 -1 -6 -1.5 -4.5 -2.4 -4.5 -4.5 -4.9 -3 -1.7 -4.5 -.9M-1.5 -69.3l-4.5 2.6 -4.5 4.8 -4.5 7 -4.2 8.4 -4.2 13.5 -9.2 39 -3.4 9 -8.9 18 -1.8 6 -.6 6 1.1 7.5 2.5 6 4.2 6 5 4.5 7.5 4.6 10.5 4.3 9 2.4 7.5 .6 7.5 -.6 9 -2.1 16.5 -5.7 7.5 -3.8 4.9 -4.2 4.1 -5.6 2.5 -6.4 .7 -6 -.9 -7.5 -2.3 -6.2 -4.5 -7.8 -9.4 -13 -2.5 -4.5 -2.3 -6 -3.9 -16.5 -2.6 -25.5 -1.5 -6 -2.4 -6 -5.4 -9.1 -4.5 -5 -3 -2 -3 -1 -3 -.2 -3 .5M-15 -84.9l-3.3 5.4 -.6 3 -.6 10.5 -.8 4.5 -5.6 15 -13.1 44.8 -12.5 30.2 -1.9 6 -1.1 6 -.2 6 .6 6 1.6 5.8 2 4.7 2.7 4.5 3.8 4.5 5 4.4 4.5 2.9M50 70.5l5.2 -7.5 2.7 -7.5 1 -9 -.9 -7.5 -3.9 -10.5 -12.1 -22.7 -3.6 -8.8 -3.5 -13.5 -3.1 -22.5 -2.3 -12 -4 -12 -2.8 -13.5 -1.7 -3.4 -3.4 -4.1M-37.3 -78l5.1 15 .1 4.5 -.9 6.5 -2.7 13 -10.8 30.7 -9.7 21.8 -5.7 19.5 -1 6 0 7.5 1.1 9 1.8 6.8M64.9 57l1 -12 -1.3 -9 -8.9 -24 -8.9 -19.5 -3.8 -13.5 -3.2 -22.5 -2.1 -33M-62.1 -60l2 3 7.3 7.5 2.3 6 .3 4.5 -.6 6 -3.2 12.5 -4.5 7.8 -3 3.3 -4.5 3.5 -4.5 2.3 -3 .8 -9 .7 -3 1M-85.6 6l5.5 7.5 2.7 6 1.4 6 2.4 19.5M75.8 40.5l-.4 -15 .9 -6 2.8 -4.5 6.4 -5.1M85.6 -3l-3.1 -.4 -9 .8 -4.5 -1 -4.5 -2.7 -3 -2.6 -3 -3.5 -2.5 -4.1 -2.6 -7.5 -1.2 -9 -.1 -12 .9 -22.5"/><circle r="89.2" fill="none" stroke="#edf5ff" stroke-width="6"/><circle r="80.6" class="hd"/><path class="hd" d="M-14.5 -79.9L-3.2 -92.2Q0 -93.6 3.2 -92.2L14.5 -79.9M-79.2 -15.4L-82.1 -18.9 -83.4 -19.0 -85.3 -18.5 -87.2 -15.4 -86.9 0.9 -88.1 15.0 -85.7 21.1 -82.1 22.3 -77.9 19.3M79.2 -15.4L82.1 -18.9 83.4 -19.0 85.3 -18.5 87.2 -15.4 86.9 0.9 88.1 15.0 85.7 21.1 82.1 22.3 77.9 19.3"/><g class="el"><text x="-25.7" y="-74.8">FP1</text><text x="25.7" y="-74.8">FP2</text><text x="-24.0" y="-59.1">AF3</text><text x="24.0" y="-59.1">AF4</text><text x="-69.2" y="-46.2">F7</text><text x="-35.7" y="-38.5">F3</text><text x="0.0" y="-37.2">FZ</text><text x="35.7" y="-38.5">F4</text><text x="69.2" y="-46.2">F8</text><text x="-62.1" y="-18.7">FC5</text><text x="-21.1" y="-16.2">FC1</text><text x="21.1" y="-16.2">FC2</text><text x="62.1" y="-18.7">FC6</text><text x="-86.8" y="4.4">T7</text><text x="-43.2" y="4.4">C3</text><text x="0.0" y="4.4">CZ</text><text x="43.2" y="4.4">C4</text><text x="86.8" y="4.4">T8</text><text x="-62.0" y="27.1">CP5</text><text x="-21.2" y="25.0">CP1</text><text x="21.2" y="25.0">CP2</text><text x="62.0" y="27.1">CP6</text><text x="-69.2" y="54.6">P7</text><text x="-35.7" y="46.8">P3</text><text x="0.0" y="45.6">PZ</text><text x="35.7" y="46.8">P4</text><text x="69.2" y="54.6">P8</text><text x="-25.7" y="67.4">PO3</text><text x="25.7" y="67.4">PO4</text><text x="-26.1" y="83.7">O1</text><text x="0.0" y="85.5">OZ</text><text x="26.1" y="83.7">O2</text></g><text x="1" y="-104.1" class="tp" text-anchor="middle"><tspan class="tg">γ</tspan> @29.8-43.9Hz | POFF</text><rect x="103.3" y="-95.7" width="9.3" height="193" fill="url(#cbg)" stroke="#444" stroke-width="0.7"/><text x="118.3" y="-76.3" class="cbt">8</text><text x="118.3" y="-38.7" class="cbt">7</text><text x="118.3" y="-1.2" class="cbt">6</text><text x="118.3" y="36.6" class="cbt">5</text><text x="118.3" y="74.1" class="cbt">4</text><path d="M112.6 -82.2h-2M112.6 -44.6h-2M112.6 -7.1h-2M112.6 30.7h-2M112.6 68.2h-2" stroke="#262626" stroke-width="0.8"/><text transform="translate(151.2 -3.8) rotate(-90)" class="cbl" text-anchor="middle">PSD [<tspan class="mu">μ</tspan>V<tspan class="s2" dy="-6">2</tspan><tspan dy="6">/Hz]</tspan></text><text x="114.3" y="-102.4" class="cbt" style="fill:#555">×</text><text x="125.6" y="-102.4" class="cbt">10<tspan style="font-size:13px" dy="-7.8">-3</tspan></text></g>
<g transform="translate(187.3 2091.3)"><g clip-path="url(#dc)"><g filter="url(#bl)" class="fl"><path stroke="#30123b" d="M56 10h12m-12 4h16m-16 4h20m-20 4h20m-20 4h20m-16 4h16m-152 12h8m-12 4h16m-16 4h20m-16 4h20m-16 4h20m-20 4h20m-16 4h12"/>
<path stroke="#351e58" d="M52 14h4m16 0h4m-24 4h4m-4 4h4m20 0h4m-4 4h4m-156 4h8m-16 4h20m128 0h8m-156 4h24m-24 4h8m8 0h12m-8 4h8m-4 4h8m-4 4h8m-4 4h8m-8 4h8m-12 4h12m-20 4h16"/>
<path stroke="#392a73" d="M56 6h8m-12 4h4m12 0h4m4 8h4m-156 4h12m-20 4h24m-28 4h12m8 0h8m116 0h4m16 0h4m-168 4h4m20 0h8m128 0h4m-136 4h4m0 4h4m-4 4h4m0 4h4m0 4h4m0 4h4m-4 4h8m-8 4h4m-8 4h8m-16 4h8"/>
<path stroke="#3d358b" d="M52 6h4m8 0h4m4 4h4m-144 4h12m132 0h4m-160 4h24m-32 4h12m12 0h8m136 0h4m-176 4h8m24 0h4m108 0h4m24 0h4m-144 4h8m132 0h4m-140 4h4m112 0h4m12 0h4m-136 4h4m0 4h4m-4 4h4m0 4h4m0 4h4m0 4h4m-4 8h4m-4 4h4m-12 4h4"/>
<path stroke="#4040a2" d="M56 2h4m8 4h4m-140 4h20m96 0h4m-132 4h12m12 0h8m96 0h4m-140 4h8m24 0h8m96 0h4m28 0h4m-176 4h4m32 0h4m-4 4h4m0 8h4m128 0h4m-136 4h4m112 0h12m-124 8h4m0 4h4m0 4h4m0 4h4m-4 4h4m-4 4h4m-12 8h4m-12 4h4"/>
<path stroke="#424bb5" d="M52 2h4m4 0h8m-136 4h20m96 0h4m-132 4h12m20 0h4m120 0h4m-168 4h8m-12 4h4m36 4h4m96 0h4m-104 4h4m132 0h4m-140 4h4m100 0h4m28 0h4m-32 4h4m-108 4h4m120 0h4m-128 4h4m0 4h4m0 4h4m0 4h4m0 8h4m-4 4h4m-8 4h4m-8 4h4m-12 4h4"/>
<path stroke="#4456c7" d="M-60 2h16m92 0h4m16 0h4m-148 4h8m20 0h4m116 0h4m-164 4h8m-12 4h4m40 0h4m124 0h4m-132 4h4m-4 4h4m128 0h4m-136 4h4m92 0h4m-100 4h4m-4 4h4m128 0h4m-28 4h4m16 0h4m-128 4h4m112 0h4m-108 16h4m-8 16h4m-12 4h4"/>
<path stroke="#4661d6" d="M52 -2h12m-136 4h12m-28 4h12m32 0h4m84 0h4m-140 4h4m44 0h4m84 0h4m-92 4h4m84 0h4m-4 4h4m36 0h4m0 8h4m-136 12h4m104 4h8m4 0h4m-120 4h4m0 4h4m0 4h4m0 8h4m-8 8h4m-12 8h4"/>
<path stroke="#466be3" d="M-60 -2h16m92 0h4m12 0h4m-148 4h8m28 0h4m84 0h4m24 0h4m-168 4h4m164 0h4m0 4h4m0 4h4m-132 4h4m-4 4h4m128 0h4m-136 4h4m-4 4h4m-4 4h4m92 0h4m0 4h4m-100 4h4m116 0h4m-112 16h4m-4 8h4m-20 16h4"/>
<path stroke="#4776ee" d="M-72 -2h12m128 0h4m-160 4h8m168 16h4m-48 4h4m0 8h4m-92 8h4m96 4h4m-100 4h4m104 0h8m-112 4h4m0 20h4m-8 4h4m-8 4h4m-8 4h4"/>
<path stroke="#4680f6" d="M52 -6h12m-148 4h12m28 0h4m84 0h4m-140 4h4m164 0h4m-120 4h4m76 0h4m36 0h4m-124 4h4m76 0h4m40 0h4m-128 4h4m76 0h4m-84 4h4m-4 4h4m-4 4h4m80 0h4m-88 4h4m-4 4h4m0 8h4m100 4h4m-100 8h4"/>
<path stroke="#458afc" d="M-64 -6h20m92 0h4m12 0h4m-160 4h8m156 0h4m-116 4h4m76 0h4m44 12h4m-52 4h4m4 16h4m-88 4h4m84 0h4m0 4h4m-92 4h4m92 0h4m-96 4h4m0 8h4m-4 4h4m-4 4h4m-12 12h4m-8 4h4"/>
<path stroke="#4294ff" d="M-80 -6h16m132 0h4m-112 4h4m76 0h4m44 12h4m-128 24h4m0 8h4m88 4h4m8 4h8m-108 24h4"/>
<path stroke="#3d9efe" d="M52 -10h12m-156 4h12m36 0h4m84 0h4m28 4h4m0 4h4m-120 4h4m116 0h4m-124 4h4m-4 4h4m-4 4h4m-4 4h4m72 0h4m-80 4h4m-4 4h4m76 0h4m-76 16h4m92 4h4m-96 4h4m-4 16h4"/>
<path stroke="#37a8fa" d="M-68 -10h20m96 0h4m12 0h4m4 4h4m-112 8h4m68 0h4m-4 4h4m-4 4h4m-4 4h4m-72 24h4m76 0h4m0 4h4m0 4h4m-84 4h4m84 0h4m-96 28h4m-8 4h4m-8 4h4"/>
<path stroke="#2fb2f4" d="M-88 -10h20m20 0h4m88 0h4m20 0h4m-112 4h4m76 0h4m32 0h4m-44 4h4m40 0h4m0 4h4m0 4h4m-56 12h4m0 8h4m-76 4h4m-4 4h4m0 8h4m84 8h4m8 4h4m-96 4h4m-4 4h4m-8 12h4"/>
<path stroke="#27bee9" d="M52 -14h12m-156 4h4m44 0h4m112 0h4m-112 8h4m0 12h4m-4 4h4m-4 4h4m-4 4h4m-4 4h4m72 8h4m-76 4h4m0 8h4m0 8h4m84 0h4m-92 12h4m-16 20h4"/>
<path stroke="#20c7df" d="M-84 -14h36m96 0h4m12 0h4m-28 4h4m-8 4h4m40 0h4m0 4h4m0 4h4m-124 4h4m60 0h4m0 16h4m0 8h4m-72 4h4m0 8h4m72 4h4m-76 4h4m80 4h4m-96 28h4"/>
<path stroke="#1bd0d5" d="M-92 -14h8m36 0h4m88 0h4m20 0h4m-112 4h4m112 0h4m-116 4h4m0 8h4m60 0h4m-4 8h4m-4 4h4m-64 16h4m68 8h4m0 4h4m-72 4h4m72 4h4m0 4h4m4 4h4m-92 12h4m-8 8h4"/>
<path stroke="#18d7ca" d="M52 -18h12m-108 4h4m112 0h4m8 8h4m-120 4h4m60 0h4m52 0h4m-120 28h4m60 0h4m-64 12h4"/>
<path stroke="#18dec0" d="M-92 -18h40m100 0h4m12 0h8m-32 4h4m32 0h4m-116 4h4m68 0h4m40 0h4m-52 4h4m-64 12h4m-4 4h4m-4 4h4m-4 4h4m56 0h4m-64 4h4m0 12h4m60 0h4m-64 8h4m64 4h4m0 4h4m-72 4h4m-4 4h4m76 0h4m-84 4h4m-8 12h4m-12 12h4"/>
<path stroke="#1ae4b6" d="M-52 -18h8m88 0h4m-88 4h4m120 4h4m-120 4h4m116 0h4m-120 8h4m52 0h4m-4 4h4m0 16h4m-60 8h4m56 0h4m-60 8h4m60 4h4m-64 8h4m68 4h4m0 4h4m4 4h4m-88 4h4m-12 16h4"/>
<path stroke="#20eaac" d="M-92 -22h16m128 0h12m-108 4h4m112 0h4m-40 4h4m40 0h4m-52 4h4m-64 8h4m52 0h4m-4 12h4m-4 4h4m-56 12h4m60 12h4m-60 8h4"/>
<path stroke="#2aefa1" d="M-76 -22h24m100 0h4m12 0h8m-32 4h4m32 0h4m-116 4h4m116 0h4m-120 4h4m116 0h4m-64 4h4m-56 16h4m-4 4h4m-4 4h4m-4 4h4m52 4h4m-56 8h4m0 8h4m60 8h4m0 4h4m0 4h4m4 4h4m-84 8h4m-8 8h4m-12 12h4"/>
<path stroke="#35f394" d="M-92 -26h8m32 4h8m88 0h4m24 0h4m-116 4h4m72 0h4m40 0h4m-52 4h4m-64 8h4m0 8h4m-4 4h4m48 12h4m-52 12h4m52 4h4m-56 4h4m56 8h4m-60 4h4m-4 4h4m-4 4h4m-4 4h4m68 0h4m-88 24h4"/>
<path stroke="#43f787" d="M-84 -26h16m120 0h16m-112 4h4m80 0h4m32 0h4m-112 8h4m116 0h4m-64 4h4m-56 8h4m44 0h4m-4 4h4m-4 4h4m-4 4h4m-48 12h4m44 0h4m-52 4h4m48 4h4m-52 4h4m0 8h4m48 0h4m-56 4h4m72 20h4m-84 8h4m-8 8h4"/>
<path stroke="#52fa7a" d="M-68 -26h20m96 0h4m16 0h4m-112 4h4m116 0h4m-120 4h4m64 0h4m48 0h4m-116 8h4m48 4h4m-48 16h4m-4 4h4m40 0h4m-48 4h4m0 12h4m0 8h4m44 0h4m4 12h4m0 4h4m0 4h4m0 4h4m-72 4h4m-16 24h4"/>
<path stroke="#61fc6c" d="M-88 -30h16m24 4h4m88 0h4m24 0h4m-40 4h4m48 4h4m-64 4h4m-8 4h4m-52 4h4m0 8h4m-4 4h4m40 12h4m-44 8h4m40 0h4m-44 8h4m40 0h4m-44 16h4m-4 4h4m64 12h4m-80 12h4"/>
<path stroke="#71fe5f" d="M20 -62h4m-4 4h4m-112 24h4m12 4h20m104 0h16m-112 4h4m80 0h4m32 0h4m-116 4h4m64 0h4m48 0h4m-120 4h4m56 0h4m-60 4h4m0 4h4m0 8h4m36 0h4m-4 4h4m-4 4h4m-4 4h4m-40 4h4m-4 4h4m-4 4h4m36 0h4m-40 8h4m36 0h4m-40 12h4m-4 4h4m44 0h4m-52 12h4m52 0h4m0 4h4m-68 8h4m-12 16h4"/>
<path stroke="#80ff53" d="M20 -66h4m-12 4h8m4 0h4m-16 4h8m4 0h4m-12 4h8m-108 20h12m20 4h8m88 0h8m16 0h8m-116 4h4m72 0h4m40 0h4m4 4h4m-68 8h4m-48 8h4m36 0h4m-40 12h4m-4 4h4m32 4h4m-36 12h4m0 12h4m40 4h4m4 12h4m-56 8h4m60 4h4"/>
<path stroke="#8fff49" d="M8 -66h12m4 0h4m-20 4h4m-4 4h4m16 0h4m-20 4h4m8 0h4m-100 20h20m104 0h12m-108 4h4m80 0h4m32 0h4m-116 4h4m64 0h4m48 0h4m-120 4h4m56 0h4m-60 4h4m48 0h4m-52 4h4m40 4h4m-40 12h4m28 0h4m-4 4h4m-32 12h4m28 0h4m-36 4h4m32 4h4m-36 4h4m-4 4h4m32 0h4m0 4h4m-40 4h4m-4 4h4m-4 4h4m40 0h4m-48 4h4m48 8h4m-60 4h4m64 4h4m-76 4h4m-8 8h4m-8 8h4"/>
<path stroke="#9cfe40" d="M12 -70h8m-20 4h8m-8 4h8m20 0h4m-28 4h4m-4 4h8m16 0h4m-20 4h16m-112 12h20m12 4h8m88 0h8m12 0h8m-112 4h4m72 0h4m40 0h4m-116 4h4m56 0h4m56 0h4m-72 12h4m-44 4h4m32 4h4m-36 4h4m28 0h4m-32 8h4m-4 4h4m24 0h4m-32 4h4m24 0h4m-28 8h4m24 0h4m-32 4h4m28 4h4m-32 4h4m-4 4h4m36 8h4m0 8h4m-48 4h4m44 0h4m4 8h4m0 4h4"/>
<path stroke="#a9fb39" d="M-4 -70h16m8 0h4m-32 4h8m28 0h4m-40 4h8m32 0h4m-40 4h8m28 0h4m-36 4h4m0 4h8m16 0h4m-20 4h12m-108 4h8m12 4h16m4 4h8m76 0h4m28 0h4m-112 4h4m64 0h4m48 0h4m-116 8h4m48 0h4m-52 4h4m40 0h4m-44 4h4m32 4h4m-36 4h4m0 4h4m20 0h4m-28 4h4m20 0h4m-4 4h4m-24 4h4m16 0h4m-24 4h4m-4 4h4m20 0h4m-24 8h4m20 0h4m-28 4h4m24 4h4m0 4h4m0 4h4m-36 4h4m32 4h4m-44 12h4m-8 8h4m-8 8h4m-8 8h4"/>
<path stroke="#b4f836" d="M-8 -74h24m-36 4h16m28 0h4m-52 4h16m-16 4h16m-12 4h16m-4 4h8m32 0h4m-36 4h4m28 0h4m-28 4h4m12 0h8m-108 4h24m68 0h12m-76 4h8m84 0h24m-104 4h4m64 0h8m36 0h8m-116 4h4m52 0h8m-60 4h4m48 0h4m-52 4h4m40 0h4m-8 8h4m-36 4h4m24 0h4m-28 4h4m20 0h4m-24 8h4m-4 4h4m0 8h4m12 0h4m-20 4h4m12 0h4m-20 4h4m16 0h4m-20 8h4m16 0h4m-24 4h4m-4 4h4m-4 4h4m28 4h4m-36 4h4m-4 4h4m36 4h4m0 4h4m0 4h4m0 4h4"/>
<path stroke="#bef434" d="M-12 -78h16m-28 4h16m24 0h8m-52 4h8m48 0h4m-64 4h8m56 0h4m-68 4h8m60 0h4m-72 4h12m56 0h4m-68 4h20m44 0h4m-60 4h20m36 0h4m-120 4h24m56 0h8m24 0h4m-88 4h12m48 0h8m12 0h8m8 0h12m-96 4h8m48 0h28m24 0h8m-108 4h4m48 0h12m52 0h4m-116 4h4m44 0h4m-48 4h4m40 0h4m-8 4h4m-40 4h4m32 0h4m-36 4h4m24 0h4m-28 4h4m0 4h4m12 0h4m-20 4h4m12 0h4m-16 4h4m4 0h8m-16 4h16m-16 4h16m-12 4h12m-12 4h12m-12 4h16m-16 4h8m4 0h8m-16 4h4m8 0h4m-16 4h4m12 0h4m-20 4h4m16 0h4m-24 4h4m20 0h4m-28 4h4m28 8h4m-40 4h4m-8 8h4m44 0h4m-56 8h4"/>
<path stroke="#c8ef34" d="M-28 -78h16m16 0h12m-48 4h8m48 0h4m-64 4h8m60 0h4m-72 4h4m68 0h4m-80 4h8m-8 4h8m72 0h4m-88 4h16m68 0h4m-124 4h60m60 0h4m-100 4h56m36 0h16m-92 4h20m20 0h8m28 0h8m12 0h12m-100 4h12m28 0h8m60 0h8m-112 4h8m32 0h8m-44 4h4m32 0h8m-40 4h4m28 0h8m-40 4h4m28 0h4m-32 4h4m24 0h4m-28 4h4m16 0h4m-20 4h4m8 0h8m-16 4h12m-12 4h12m-8 4h4m4 24h4m-4 4h8m-8 4h12m-12 4h4m8 0h4m-16 4h4m12 0h4m0 4h4m-28 4h4m24 0h4m-32 4h4m28 4h4m-40 4h4m36 0h4m4 8h4m0 4h4m-68 8h4m-8 8h4"/>
<path stroke="#d2e935" d="M-28 -82h36m-44 4h8m44 0h4m-60 4h8m60 0h4m-72 4h4m-8 4h8m-12 4h8m80 0h4m-96 4h12m-28 4h24m88 0h4m-4 4h8m0 4h8m-80 4h20m68 0h8m-96 4h28m-28 4h8m16 0h8m-32 4h8m20 0h4m-28 4h4m20 0h4m-28 4h8m16 0h4m-24 4h8m8 0h8m-20 4h16m-12 4h8m8 48h8m-8 4h12m-16 4h4m12 0h4m-20 4h4m16 0h4m0 4h4m-32 4h4m32 8h4m-48 4h4m44 0h4"/>
<path stroke="#dbe236" d="M-28 -86h32m-40 4h8m36 0h8m-56 4h4m56 0h4m-68 4h4m72 0h4m-84 4h8m76 0h4m-92 4h8m84 0h4m-100 4h8m92 0h4m-116 4h16m96 0h4m-124 4h8m116 0h4m0 4h4m4 4h8m8 4h8m-96 8h16m-16 4h20m-20 4h20m-16 4h16m-12 4h8m8 64h12m-12 4h4m8 0h4m-20 4h4m16 0h4m0 4h4m0 4h4m-40 4h4m44 8h4m-60 4h4m-8 8h4"/>
<path stroke="#e3db38" d="M-24 -90h20m-32 4h8m32 0h8m-52 4h4m52 0h4m-68 4h8m64 0h4m-80 4h8m-12 4h8m88 0h4m-104 4h8m96 0h4m-120 4h16m-16 4h4m116 0h4m0 4h4m0 4h8m4 4h8m-60 96h8m-12 4h4m8 0h4m-20 4h4m16 0h4m-28 4h4m24 0h4m0 4h4m0 4h4m-48 4h4m44 0h4"/>
<path stroke="#ebd339" d="M-28 -90h4m20 0h12m4 4h4m-60 4h4m60 0h4m-76 4h4m76 0h4m-88 4h4m88 0h4m-104 4h8m-12 4h8m108 4h4m0 4h4m0 4h4m4 4h8m4 4h4m-64 100h8m-12 4h4m8 0h4m-20 4h4m16 0h4m-28 4h4m-8 4h4m44 8h4m-60 4h4m-8 8h4"/>
<path stroke="#f1cb3a" d="M8 -90h4m4 4h4m4 4h4m4 4h4m4 4h4m0 4h4m0 4h4m0 4h4m0 4h4m0 4h8m4 4h4m-60 108h8m-12 4h4m8 0h4m4 4h4m0 4h4m0 4h4m0 4h4"/>
<path stroke="#f6c33a" d="M12 -90h4m4 4h4m4 4h4m4 4h4m4 4h4m0 4h4m0 4h4m0 4h4m0 4h4m4 4h4m4 4h4m-64 112h8m-16 4h4m12 0h8m-28 4h4m24 0h4m0 4h4m-44 4h4m-8 8h4"/>
<path stroke="#faba39" d="M16 -90h4m4 4h4m4 4h8m0 4h4m4 4h4m0 4h4m0 4h4m0 4h4m0 4h8m0 4h4m-64 120h12m4 4h4m-32 4h4m36 4h4"/>
<path stroke="#fcb136" d="M20 -90h8m0 4h8m4 4h4m0 4h4m8 8h4m0 4h4m0 4h4m-60 132h4m12 0h4m4 4h4m0 4h4m-44 4h4m-8 8h4"/>
<path stroke="#fea732" d="M48 -78h4m0 4h4m4 4h4m0 4h4m0 4h4m-60 132h12m-20 4h4m20 0h4m-32 4h4m28 0h4m4 4h4"/>
<path stroke="#fe9b2d" d="M8 74h4m8 0h8m0 4h4m4 4h4m-44 4h4"/>
<path stroke="#fe9029" d="M12 74h8m-16 4h4m16 0h4m-28 4h4m28 0h4m-40 8h4"/>
<path stroke="#fc8423" d="M8 78h16m4 4h4"/>
<path stroke="#f9751d" d="M4 82h4m16 0h4m-28 4h4m28 0h4"/>
<path stroke="#f56918" d="M8 82h16m0 4h8m-32 4h4"/>
<path stroke="#f15d13" d="M4 86h8m8 0h4"/>
<path stroke="#ec530f" d="M12 86h8m-16 4h4m16 0h4"/>
<path stroke="#e7490c" d="M8 90h16"/></g></g><path class="ct" d="M-42.3 75l4.5 -3 3.1 -3 2 -3 .6 -3 -1.7 -4.5 -10.7 -12 -2.9 -4.5 -2 -4.5 -1.4 -4.5 -.9 -6 .9 -13.5 -.5 -3 -1.2 -1.5 -1.5 -.5 -6 .3 -15 4.2 -9 4M57 2.8l-4.5 2.2 -2 2.5 -1 3 .1 7.5 1.2 4.5 2.1 4.5 4.9 6 6.7 4.2 4.5 1.2 3 .1 3 -.4 3 -1.2M83.1 21l-4.3 -7.5 -6.8 -6.6 -4 -2.4 -3.5 -1.4 -4.5 -.6 -3 .3M85.5 6.6l-7.5 -7.1 -4.5 -3.3 -6 -3.1 -6 -1.5 -7.5 .2 -6 2.1 -4.5 3.3 -2.7 4.3 -1 6 .9 7.5 2.4 7.5 3.8 7.5 4.3 6 5.8 6 6 4.2 7.5 3M-30.2 79.5l4.7 -5.7 2.7 -4.8 1.5 -4.5 .1 -4.5 -1.1 -4.5 -1.4 -3 -8 -12 -3.1 -7.5 -1.1 -9 .4 -16.5 -.8 -4.5 -2.2 -4.5 -2 -2.1 -3 -2 -3 -1.1 -4.5 -.7 -9 .3 -25.5 3.1M85.5 -7.2l-7.5 -5.6 -7.5 -3.7 -7.5 -1.9 -7.5 0 -7.5 1.9 -7.5 4.2 -4.6 4.8 -3 6 -1.1 6 .3 6 1.9 7.5 3.9 9 5.6 9 7.5 9.9 6 6 7.5 5.1M-23.5 82.5l4.7 -7.5 3.3 -7.5 1.3 -6 .1 -6 -2.3 -9 -6.6 -13.5 -2.1 -6 -1 -6 -.8 -15 -1.6 -6 -2.2 -4.5 -3.5 -4.5 -3.3 -2.8 -4.5 -2.6 -4.5 -1.6 -7.5 -.9 -30 -.6M82.5 -23.1l-9 -3.8 -9 -2 -9 -.1 -7.5 1.6 -9 4 -6 4.5 -5.6 6.9 -3.5 7.5 -1.2 6 .3 7.5 1.6 6 4.3 10.5 3.3 6 14.3 20.9 4.5 5.4 6 5.4M-17.3 84l6.2 -12 3.1 -7.5 1.8 -7.5 .4 -6 -.4 -4.5 -1.5 -6 -7.3 -19.5 -2.7 -18 -3.6 -9 -4.1 -6 -4.6 -5.2 -4.5 -3.9 -6 -3.5 -9 -2.6 -15 -1.5 -15 -2.2M76.5 -38.9l-16.5 -3.9 -16.3 -2.2 -1.7 -1 -.6 -2 -.3 -9 -1.3 -4.5 -1.5 -3 -2.3 -3 -3 -2.6 -6.8 -3.4 -14.2 -4.5 -13.5 -2 -7.5 -.1 -7.3 .6 -4.7 1.1 -4.5 1.8 -3 2.1 -3 3.2 -2.4 3.8 -1.1 3 -.7 4.5 .3 4.5 .9 3 1.8 3 2.7 2 3 .7 16.5 .3 9 1.9 5.6 2.6 7.1 4.5 3.7 3 1.8 3 .3 3 -.7 3 -2.8 6.7 -7.5 13.4 -3 3.3 -1.5 .2 -3 -2 -13.5 -16.3 -12 -18.4 -3 -3.4 -3 -2.2 -4.5 -2.1 -6 -1.3 -27 -.8M-11.5 85.5l15.5 -28.5 3 -9 2.7 -13.5 .8 -2.3 1.5 -1.4 1.5 .1 3 1.9 12 10.9 3 3.4 9.4 14.4 8.9 9M-4.5 85.7l3 -5.9 4.5 -5 6 -4.6 6 -2.7 4.5 -.2 4.5 1.1 6 3.1 7.5 5.2"/><circle r="89.2" fill="none" stroke="#edf5ff" stroke-width="6"/><circle r="80.6" class="hd"/><path class="hd" d="M-14.5 -79.9L-3.2 -92.2Q0 -93.6 3.2 -92.2L14.5 -79.9M-79.2 -15.4L-82.1 -18.9 -83.4 -19.0 -85.3 -18.5 -87.2 -15.4 -86.9 0.9 -88.1 15.0 -85.7 21.1 -82.1 22.3 -77.9 19.3M79.2 -15.4L82.1 -18.9 83.4 -19.0 85.3 -18.5 87.2 -15.4 86.9 0.9 88.1 15.0 85.7 21.1 82.1 22.3 77.9 19.3"/><g class="el"><text x="-25.7" y="-74.8">FP1</text><text x="25.7" y="-74.8">FP2</text><text x="-24.0" y="-59.1">AF3</text><text x="24.0" y="-59.1">AF4</text><text x="-69.2" y="-46.2">F7</text><text x="-35.7" y="-38.5">F3</text><text x="0.0" y="-37.2">FZ</text><text x="35.7" y="-38.5">F4</text><text x="69.2" y="-46.2">F8</text><text x="-62.1" y="-18.7">FC5</text><text x="-21.1" y="-16.2">FC1</text><text x="21.1" y="-16.2">FC2</text><text x="62.1" y="-18.7">FC6</text><text x="-86.8" y="4.4">T7</text><text x="-43.2" y="4.4">C3</text><text x="0.0" y="4.4">CZ</text><text x="43.2" y="4.4">C4</text><text x="86.8" y="4.4">T8</text><text x="-62.0" y="27.1">CP5</text><text x="-21.2" y="25.0">CP1</text><text x="21.2" y="25.0">CP2</text><text x="62.0" y="27.1">CP6</text><text x="-69.2" y="54.6">P7</text><text x="-35.7" y="46.8">P3</text><text x="0.0" y="45.6">PZ</text><text x="35.7" y="46.8">P4</text><text x="69.2" y="54.6">P8</text><text x="-25.7" y="67.4">PO3</text><text x="25.7" y="67.4">PO4</text><text x="-26.1" y="83.7">O1</text><text x="0.0" y="85.5">OZ</text><text x="26.1" y="83.7">O2</text></g><text x="1" y="-104.1" class="tp" text-anchor="middle"><tspan class="tg">δ</tspan> @0.5-3.9Hz | C</text><rect x="103.3" y="-95.7" width="9.3" height="193" fill="url(#cbg)" stroke="#444" stroke-width="0.7"/><text x="118.3" y="-66.8" class="cbt">0.1</text><text x="118.3" y="-36.7" class="cbt">0.095</text><text x="118.3" y="-7.2" class="cbt">0.09</text><text x="118.3" y="22.9" class="cbt">0.085</text><text x="118.3" y="52.6" class="cbt">0.08</text><text x="118.3" y="82.5" class="cbt">0.075</text><path d="M112.6 -72.7h-2M112.6 -42.6h-2M112.6 -13.1h-2M112.6 17.0h-2M112.6 46.7h-2M112.6 76.6h-2" stroke="#262626" stroke-width="0.8"/><text transform="translate(183.5 -3.8) rotate(-90)" class="cbl" text-anchor="middle">PSD [<tspan class="mu">μ</tspan>V<tspan class="s2" dy="-6">2</tspan><tspan dy="6">/Hz]</tspan></text></g>
<g transform="translate(501.2 2091.3)"><g clip-path="url(#dc)"><g filter="url(#bl)" class="fl"><path stroke="#30123b" d="M52 2h8m-16 4h24m-28 4h36m-40 4h44m-48 4h52m-60 4h60m-64 4h68m-72 4h72m-144 4h24m44 0h76m-152 4h44m24 0h80m-152 4h152m-156 4h152m-152 4h152m-152 4h148m-148 4h60m20 0h64m-144 4h52m36 0h52m-136 4h40m56 0h32m-116 4h16"/>
<path stroke="#351e58" d="M40 -82h4m0 4h8m-4 4h8m-4 4h12m-4 4h8m0 4h4m-28 64h8m8 0h12m-32 4h4m24 0h8m-40 4h4m36 0h8m-52 4h4m44 0h8m-60 4h4m52 0h4m-4 4h8m-76 4h4m68 0h4m-148 4h20m48 0h4m-84 4h12m24 0h8m28 0h8m-88 4h12m44 0h24m-84 4h12m-12 4h8m-8 4h8m-4 4h4m60 4h20m-28 4h8m24 0h4m52 0h4m-100 4h8m40 0h8m32 0h8m-132 4h8m16 0h12m68 0h16m-112 4h12"/>
<path stroke="#392a73" d="M24 -90h4m0 4h8m-4 4h8m-4 4h8m-4 4h8m-4 4h8m-4 4h12m-4 4h12m-8 4h12m-4 4h8m-28 52h28m-36 4h4m28 0h8m-44 4h4m36 0h12m-56 4h4m48 0h8m-64 4h4m56 0h4m-68 4h4m60 0h4m-72 4h4m-80 4h8m60 0h4m-92 4h20m20 0h8m32 0h8m-96 4h16m44 0h8m8 0h12m-88 4h8m-8 4h4m68 20h24m-32 4h4m32 0h4m-48 4h4m48 0h16m16 0h8m-108 4h12"/>
<path stroke="#3d358b" d="M20 -90h4m0 4h4m0 4h4m-4 4h8m-4 4h8m-4 4h8m0 4h4m0 4h8m-4 4h8m0 4h8m-4 4h16m-8 4h8m0 4h4m-32 36h28m-36 4h4m28 0h12m-8 4h12m-4 4h4m-72 12h4m-8 4h4m-112 4h36m8 0h12m44 0h4m-100 4h12m48 0h4m24 0h4m-92 4h4m68 0h8m-8 32h8m16 0h8m-40 4h8m36 0h4m-56 4h4m60 0h24m-108 4h16"/>
<path stroke="#4040a2" d="M12 -90h8m-4 4h8m-4 4h8m-4 4h4m0 4h4m0 4h4m0 4h8m-4 4h8m0 4h4m0 4h8m-140 4h4m132 0h8m-4 4h12m-156 4h4m148 0h12m-8 4h12m-172 4h4m160 0h12m-8 4h8m-8 4h12m-8 4h8m-12 4h12m-24 4h24m-36 4h36m-48 4h8m28 0h12m-52 4h4m44 0h4m-56 4h4m-8 4h4m-8 4h4m-124 4h16m100 0h4m-120 4h36m-36 4h52m52 0h4m-52 4h8m32 0h4m-32 4h24m-8 36h16m-24 4h4m24 0h8m-48 4h8m44 0h8m-68 4h4m72 0h12m-96 4h4"/>
<path stroke="#424bb5" d="M4 -90h8m0 4h4m-60 4h4m56 0h4m-72 4h8m64 0h4m-80 4h12m68 0h4m-92 4h16m76 0h4m-100 4h16m84 0h4m-108 4h16m92 0h4m-112 4h16m96 0h8m-124 4h16m108 0h4m-128 4h12m116 0h4m-136 4h16m120 0h4m-140 4h12m128 0h8m-152 4h16m132 0h8m-156 4h16m136 0h8m-164 4h20m136 0h12m-172 4h24m136 0h12m-172 4h24m136 0h16m-176 4h20m136 0h16m-172 4h20m128 0h12m-160 4h20m120 0h8m-148 4h20m-20 4h20m-20 4h20m-20 4h24m-24 4h32m84 0h4m-104 4h24m72 0h4m-80 4h12m60 0h4m-60 4h8m40 0h4m-40 4h4m20 0h8m-16 44h8m8 0h8m-32 4h4m36 0h4m-56 4h8m56 0h8m-80 4h8"/>
<path stroke="#4456c7" d="M-28 -90h12m4 0h16m-40 4h8m32 0h8m-52 4h8m44 0h4m-60 4h12m48 0h4m-64 4h8m56 0h4m-72 4h12m60 0h4m-80 4h12m68 0h4m-88 4h12m76 0h4m-92 4h8m-12 4h8m96 0h4m-112 4h8m104 0h4m-116 4h8m108 0h4m-124 4h8m112 0h8m-128 4h8m116 0h8m-132 4h8m120 0h8m-136 4h8m120 0h8m-136 4h8m124 0h4m-136 4h8m120 0h8m-140 4h12m116 0h8m-136 4h8m116 0h4m-128 4h8m108 0h4m-120 4h8m104 0h4m-116 4h12m96 0h4m-112 4h12m92 0h4m-104 4h12m84 0h4m-92 4h8m0 4h8m60 0h4m-64 4h8m48 0h4m-48 4h4m32 0h4m-32 4h20m0 44h8m-20 4h4m24 0h8m-44 4h4m44 0h8m-64 4h4m64 0h8"/>
<path stroke="#4661d6" d="M-16 -90h4m-16 4h32m-36 4h12m24 0h8m-44 4h4m40 0h4m-52 4h8m44 0h4m-56 4h8m48 0h4m-64 4h8m56 0h4m-72 4h8m64 0h4m-80 4h8m76 0h4m-92 4h8m84 0h4m-100 4h8m92 0h4m-104 4h4m100 0h4m-112 4h8m100 0h4m-112 4h4m108 0h4m-116 4h4m112 0h4m-120 4h4m112 0h4m-120 4h4m112 0h8m-124 4h4m112 0h4m-120 4h4m108 0h4m-120 4h8m104 0h4m-116 4h8m-8 4h8m-4 4h4m-4 4h8m-4 4h8m72 0h4m-80 4h8m64 0h4m-68 4h8m0 4h4m40 0h4m-40 4h8m12 0h12m-16 52h24m-32 4h4m36 0h4m-52 4h4m56 0h4m-72 4h4"/>
<path stroke="#466be3" d="M-20 -82h24m-32 4h12m24 0h4m-40 4h8m32 0h4m-44 4h4m-8 4h8m-12 4h8m-12 4h4m68 0h4m-80 4h4m76 0h4m-88 4h4m84 0h4m-96 4h4m92 0h4m-100 4h4m92 0h4m-104 4h4m100 0h4m-108 4h4m104 0h4m-112 4h4m104 0h4m-112 4h4m104 0h4m-112 4h4m104 0h4m-112 4h4m100 0h4m-108 4h4m96 0h4m-104 4h4m92 0h4m-100 4h4m88 0h4m-96 4h8m80 0h4m-88 4h4m76 0h4m-80 4h4m0 4h4m4 4h4m44 0h4m-48 4h8m24 0h8m-28 4h12m-8 56h8m20 0h8m-44 4h8m40 0h8m-64 4h8"/>
<path stroke="#4776ee" d="M-16 -78h24m-28 4h4m24 0h4m-36 4h4m36 0h4m-44 4h4m40 0h4m-52 4h4m48 0h4m-64 4h8m56 0h4m-72 4h4m68 0h4m-80 4h4m76 0h4m-88 4h4m84 0h4m-92 4h4m-8 4h4m92 0h4m-100 4h4m96 0h4m-104 4h4m96 0h4m-104 4h4m96 0h4m-104 4h4m96 0h4m-104 4h4m92 0h4m-100 4h4m88 0h4m-96 4h4m-4 4h4m0 4h4m-4 4h4m0 4h4m60 0h4m-64 4h8m48 0h4m-52 4h4m36 0h4m-36 4h8m8 0h8m-8 60h20m-28 4h4m28 0h8m-48 4h4m48 0h8"/>
<path stroke="#4680f6" d="M-16 -74h8m12 0h4m-28 4h4m28 0h4m0 4h4m-44 4h4m40 0h4m-52 4h4m-12 4h4m-8 4h4m-8 4h4m76 0h4m-84 4h4m80 0h4m-92 4h4m-4 4h4m88 0h4m-96 4h4m88 0h4m-96 4h4m88 0h4m-96 4h4m88 0h4m-96 4h4m-4 4h4m-4 4h4m80 0h4m-88 4h4m76 0h4m-80 4h4m68 0h4m-76 4h8m60 0h4m-68 4h8m0 4h4m40 0h4m-44 4h8m24 0h4m-24 4h8m-4 64h4m16 0h8m-36 4h4m36 0h8m-56 4h8"/>
<path stroke="#458afc" d="M-8 -74h12m-20 4h8m16 0h4m-32 4h4m40 8h4m-60 4h4m56 0h4m-68 4h4m64 0h4m-76 4h4m72 4h4m-84 4h4m80 0h4m-88 4h4m-4 4h4m-4 4h4m-4 4h4m-4 4h4m80 0h4m-88 4h4m76 0h4m-84 4h4m-4 4h4m0 4h4m0 4h4m0 4h4m44 0h4m-48 4h4m32 0h4m-32 4h24m-12 68h16m-24 4h8m20 0h8m-40 4h4m40 0h4"/>
<path stroke="#4294ff" d="M-8 -70h16m-24 4h4m24 0h4m-36 4h4m32 0h4m-44 4h4m40 0h4m-52 4h4m-8 4h4m-8 4h4m64 0h4m-76 4h4m-4 4h4m76 4h4m-4 4h4m-4 4h4m-4 4h4m-84 4h4m-4 4h4m-4 4h4m68 0h4m-76 4h4m64 0h4m-68 4h4m56 0h4m-60 4h4m48 0h4m-52 4h4m36 0h4m-40 4h8m20 0h4m-16 76h8m4 0h8m-28 4h4m28 0h8"/>
<path stroke="#3d9efe" d="M-12 -66h4m16 0h4m12 12h4m0 4h4m-68 8h4m64 0h4m0 4h4m-80 4h4m72 0h4m-80 4h4m-4 4h4m-4 4h4m72 4h4m-76 4h4m-4 4h4m-4 4h4m0 4h4m0 4h4m40 0h4m-44 4h4m28 0h4m-28 4h20m-4 76h4m-16 4h8m12 0h8"/>
<path stroke="#37a8fa" d="M-8 -66h16m-24 4h4m24 0h4m-36 4h4m32 0h4m-44 4h4m-8 4h4m-8 4h4m56 0h4m-68 8h4m-4 4h4m-4 4h4m68 0h4m-76 4h4m68 0h4m-76 4h4m68 0h4m-76 4h4m64 4h4m-68 4h4m56 0h4m-64 4h4m52 0h4m-56 4h4m44 0h4m-48 4h4m0 4h8m16 0h4m-12 84h12"/>
<path stroke="#2fb2f4" d="M-12 -62h4m16 0h4m8 8h4m0 4h4m-60 8h4m60 4h4m-68 20h4m60 0h4m-68 4h4m0 8h4m0 4h4m0 4h4m28 0h4m-28 4h16"/>
<path stroke="#27bee9" d="M-8 -62h4m8 0h4m-24 4h4m24 0h4m-36 4h4m-8 4h4m-8 4h4m52 4h4m-64 4h4m-4 4h4m60 0h4m-68 4h4m60 0h4m-68 4h4m-4 4h4m60 0h4m-64 8h4m52 0h4m-60 4h4m0 4h4m40 0h4m-44 4h4m32 0h4m-36 4h4m20 0h4"/>
<path stroke="#20c7df" d="M-4 -62h8m-16 4h4m24 4h4m0 4h4m0 4h4m-56 4h4m52 4h4m0 12h4m-64 4h4m-4 4h4m0 8h4m44 0h4m-48 4h4m0 4h4m24 0h4m-28 4h20"/>
<path stroke="#1bd0d5" d="M8 -58h4m-28 4h4m-8 4h4m-8 4h4m44 4h4m-56 4h4m-4 4h4m52 0h4m-60 4h4m-4 4h4m0 8h4m48 0h4m-56 4h4m0 4h4m32 4h4m-32 4h4m16 0h4"/>
<path stroke="#18d7ca" d="M-8 -58h4m8 0h4m4 4h4m0 4h4m0 4h4m-48 4h4m48 12h4m-4 4h4m-56 4h4m48 0h4m-52 8h4m40 0h4m-8 4h4m-40 4h4m4 4h16"/>
<path stroke="#18dec0" d="M-4 -58h8m-16 4h4m-8 4h4m-8 4h4m-8 8h4m44 0h4m-52 4h4m-4 4h4m-4 4h4m0 8h4m0 8h4m0 4h4m20 0h4"/>
<path stroke="#1ae4b6" d="M-8 -54h4m12 0h4m-32 12h4m36 0h4m0 8h4m-48 12h4m40 4h4m-44 4h4m32 0h4m-36 4h4m24 0h4m-28 4h8m4 0h8"/>
<path stroke="#20eaac" d="M-4 -54h4m4 0h4m-20 4h4m20 0h4m-32 4h4m28 0h4m-40 8h4m40 8h4m-48 4h4m40 0h4m-4 4h4m-44 4h4m4 8h4m16 0h4m-16 4h4"/>
<path stroke="#2aefa1" d="M0 -54h4m16 16h4m-44 4h4m-4 4h4m0 8h4m32 4h4m-36 4h4m24 0h4m-24 4h4m8 0h4"/>
<path stroke="#35f394" d="M-8 -50h4m12 0h4m0 4h4m-32 4h4m28 0h4m0 8h4m-4 4h4m-40 4h4m32 0h4m-4 4h4m-36 4h4m0 4h4m16 0h4m-16 4h8"/>
<path stroke="#43f787" d="M-4 -50h4m4 0h4m-20 4h4m-8 8h4m28 0h4m-36 4h4m-4 4h4m0 8h4m24 4h4m-24 4h4m8 0h4"/>
<path stroke="#52fa7a" d="M0 -50h4m4 4h4m0 4h4m0 8h4m-4 12h4m-28 4h4m16 0h4m-16 4h8"/>
<path stroke="#61fc6c" d="M-8 -46h4m-8 4h4m-4 12h4m24 0h4m-32 4h4m24 0h4m-28 4h4m0 4h8m4 0h4"/>
<path stroke="#71fe5f" d="M-4 -46h12m0 4h4m-24 4h4m20 0h4m-28 4h4m20 0h4m-24 8h4m16 0h4m-20 4h4m12 0h4m-12 4h4"/>
<path stroke="#80ff53" d="M-8 -42h4m-4 12h4m16 0h4m-16 8h12"/>
<path stroke="#8fff49" d="M-4 -42h4m4 0h4m-16 4h4m12 0h4m-20 4h4m12 0h4m-4 4h4m-16 4h16"/>
<path stroke="#9cfe40" d="M0 -42h4m0 4h4m-12 8h12"/>
<path stroke="#a9fb39" d="M-4 -38h8m-8 4h12"/></g></g><path class="ct" d="M52.5 1.4l-4.5 1 -4 2.1 -14 13.7 -12 10 -10.5 7.2 -9 4.3 -6 1.2 -4.5 -.4 -22.5 -7.7 -6 -1 -6 -.1 -7.5 1.4 -9 3.9 -6.5 5 -3.3 4.5M-49.5 70.9l9 -.7 10.5 -2.5 7.4 -3.2 12.1 -7 4.5 -1.7 3 -.5 4.5 .4 4.5 1.2 16.3 7.6 4.7 1.6 13.5 1.6 13.5 -.6M84 19.5l-7.5 -8.8 -7.5 -5.7 -7.5 -3 -4.5 -.7 -4.5 .1M9.8 -85.5l9.7 7.6 10.2 10.4 13.6 12 13.9 13.5 7.3 9 2.1 4.5 .2 3 -.8 3 -2.6 3 -12.4 7.3 -7.5 5 -5 4.2 -11.5 11.3 -7.5 5.9 -7.5 4.7 -6 3 -6 2.2 -6 1.5 -9 .7 -7.5 -1.1 -24.8 -10.2 -8.2 -3.9 -5.6 -3.6 -4.5 -4.5 -2.4 -4.5 -.7 -3 0 -4.5 2.9 -12 1.2 -15 2.2 -9 2 -4.5 2.9 -4.5 13.8 -15 2 -3 1.9 -4.5M-29.4 81l18.9 -8.5 6 -1.6 4.5 -.4 9 1.2 24 7.3M-10.6 85.5l6.1 -2.7 4.5 -1 5.9 .7 7.6 2.4M-7.5 -72.1l6 -.9 7.5 1.4 6 2.9 6 4.5 11.4 10.2 6.3 7.5 4.9 7.5 2.2 4.5 1.3 4.5 .1 3 -1.3 6 -4.6 7.5 -8.3 9.3 -9 7.7 -7.5 4.8 -9 3.9 -9 2.1 -7.5 .4 -6.8 -1.2 -6.4 -3 -6 -4.5 -5.4 -6 -3.2 -6 -1.7 -6 -1.1 -9 -.2 -7.5 .7 -6 1.2 -4.5 4 -7.5 4.2 -4.5 10.9 -9 8.3 -8.9 6 -3.2M-6 -61.8l6 -1.1 6 .8 6 2.8 6 4.3 5.7 5.5 4.5 6 4 7.5 2 7.5 -.4 6 -1.5 4.5 -2.7 4.5 -4.1 4.6 -6 5 -6 3.5 -7.5 2.9 -6 1.2 -6 -.1 -4.5 -1.1 -4.5 -2.2 -4 -3.3 -3.4 -4.5 -2.2 -4.5 -3.6 -10.5 -1.1 -6 -.1 -4.5 .8 -4.5 3.5 -7.5 3.5 -4.5 6.6 -6.5 4.5 -3.5 4.5 -2.3M-4.5 -54.4l3 -.7 4.5 -.1 4.5 1.2 4.5 2.5 4.3 3.5 3.8 4.5 2.8 4.5 2.5 6 .9 4.5 0 4.5 -.7 3 -1.6 3.4 -3 3.7 -3 2.4 -4.5 2.6 -4.5 1.7 -4.5 .9 -4.5 0 -4.5 -1.1 -3.1 -1.6 -2.9 -2.4 -3 -3.7 -3 -5.5 -2.5 -6.4 -.8 -7.5 .8 -4.5 1.2 -3 2.8 -4.5 3 -3.2 3.6 -2.8 3.9 -1.9M-1.5 -48l5.1 0 5.4 2.5 4.5 4.7 2.7 4.8 1.5 6 -.6 6 -2.1 3.5 -4.5 3 -6 1.1 -6 -1.5 -3 -1.9 -2.6 -2.7 -3.4 -6 -1.1 -6 1.3 -6 3.3 -4.5 2.5 -1.8 3 -1.2"/><circle r="89.2" fill="none" stroke="#edf5ff" stroke-width="6"/><circle r="80.6" class="hd"/><path class="hd" d="M-14.5 -79.9L-3.2 -92.2Q0 -93.6 3.2 -92.2L14.5 -79.9M-79.2 -15.4L-82.1 -18.9 -83.4 -19.0 -85.3 -18.5 -87.2 -15.4 -86.9 0.9 -88.1 15.0 -85.7 21.1 -82.1 22.3 -77.9 19.3M79.2 -15.4L82.1 -18.9 83.4 -19.0 85.3 -18.5 87.2 -15.4 86.9 0.9 88.1 15.0 85.7 21.1 82.1 22.3 77.9 19.3"/><g class="el"><text x="-25.7" y="-74.8">FP1</text><text x="25.7" y="-74.8">FP2</text><text x="-24.0" y="-59.1">AF3</text><text x="24.0" y="-59.1">AF4</text><text x="-69.2" y="-46.2">F7</text><text x="-35.7" y="-38.5">F3</text><text x="0.0" y="-37.2">FZ</text><text x="35.7" y="-38.5">F4</text><text x="69.2" y="-46.2">F8</text><text x="-62.1" y="-18.7">FC5</text><text x="-21.1" y="-16.2">FC1</text><text x="21.1" y="-16.2">FC2</text><text x="62.1" y="-18.7">FC6</text><text x="-86.8" y="4.4">T7</text><text x="-43.2" y="4.4">C3</text><text x="0.0" y="4.4">CZ</text><text x="43.2" y="4.4">C4</text><text x="86.8" y="4.4">T8</text><text x="-62.0" y="27.1">CP5</text><text x="-21.2" y="25.0">CP1</text><text x="21.2" y="25.0">CP2</text><text x="62.0" y="27.1">CP6</text><text x="-69.2" y="54.6">P7</text><text x="-35.7" y="46.8">P3</text><text x="0.0" y="45.6">PZ</text><text x="35.7" y="46.8">P4</text><text x="69.2" y="54.6">P8</text><text x="-25.7" y="67.4">PO3</text><text x="25.7" y="67.4">PO4</text><text x="-26.1" y="83.7">O1</text><text x="0.0" y="85.5">OZ</text><text x="26.1" y="83.7">O2</text></g><text x="1" y="-104.1" class="tp" text-anchor="middle"><tspan class="tg">θ</tspan> @3.9-7.8Hz | C</text><rect x="103.3" y="-95.7" width="9.3" height="193" fill="url(#cbg)" stroke="#444" stroke-width="0.7"/><text x="118.3" y="-34.4" class="cbt">0.035</text><text x="118.3" y="33.1" class="cbt">0.03</text><text x="118.3" y="100.1" class="cbt">0.025</text><path d="M112.6 -40.3h-2M112.6 27.2h-2M112.6 94.2h-2" stroke="#262626" stroke-width="0.8"/><text transform="translate(183.5 -3.8) rotate(-90)" class="cbl" text-anchor="middle">PSD [<tspan class="mu">μ</tspan>V<tspan class="s2" dy="-6">2</tspan><tspan dy="6">/Hz]</tspan></text></g>
<g transform="translate(815.0 2091.3)"><g clip-path="url(#dc)"><g filter="url(#bl)" class="fl"><path stroke="#30123b" d="M-52 -46h8m-16 4h20m-24 4h24m-28 4h28m-28 4h24m104 0h8m-136 4h20m-16 4h12"/>
<path stroke="#351e58" d="M-56 -50h12m-20 4h12m8 0h8m-32 4h8m20 0h4m-36 4h8m24 0h4m92 0h16m-144 4h4m28 0h4m88 0h24m-148 4h4m24 0h4m92 0h8m8 0h8m-148 4h4m20 0h4m100 0h16m-144 4h8m12 0h4m108 0h8m-132 4h8"/>
<path stroke="#392a73" d="M-60 -54h16m-20 4h8m12 0h8m-32 4h4m28 0h4m-40 4h4m32 0h4m84 0h28m-156 4h4m36 0h4m80 0h8m16 0h8m-156 4h4m36 0h4m80 0h4m24 0h4m-156 4h4m32 0h4m84 0h4m24 0h4m-156 4h4m28 0h4m92 0h4m16 0h4m-152 4h4m24 0h4m100 0h4m8 0h4m-144 4h8m8 0h8"/>
<path stroke="#3d358b" d="M-64 -58h20m-24 4h8m16 0h8m-36 4h8m28 0h4m92 0h20m-156 4h8m120 0h28m-160 4h8m40 0h4m76 0h4m28 0h4m-164 4h4m44 0h4m72 0h4m32 0h4m-164 4h4m120 0h4m32 0h8m-168 4h4m40 0h4m76 0h4m32 0h4m-164 4h4m36 0h4m84 0h4m24 0h8m-128 4h4m92 0h4m16 0h8m-156 4h4m24 0h4m100 0h16m-140 4h16"/>
<path stroke="#4040a2" d="M-68 -66h20m-24 4h32m-32 4h8m20 0h8m104 0h4m-148 4h8m32 0h4m92 0h16m-156 4h8m124 0h8m-140 4h4m44 0h4m76 0h4m-136 4h4m124 0h4m-132 4h4m120 0h4m-128 4h4m48 0h4m68 0h4m-128 4h4m120 0h4m40 0h4m-172 4h4m44 0h4m76 0h4m36 0h4m-168 4h4m36 0h4m84 0h4m28 0h4m-164 4h4m32 0h4m92 0h4m16 0h4m-152 4h8m16 0h4m-16 4h8"/>
<path stroke="#424bb5" d="M-56 -74h8m-16 4h20m-4 4h8m0 4h4m100 0h8m-108 4h4m88 0h12m-16 4h8m-92 4h4m72 0h8m-12 4h8m-76 4h4m64 0h4m-72 4h4m60 0h4m-128 4h4m120 0h4m-128 4h4m52 0h4m-60 4h4m52 0h4m68 0h4m44 0h4m-176 4h4m44 0h4m76 0h4m36 0h4m-172 4h4m40 0h4m84 0h4m24 0h8m-164 4h4m28 0h4m100 0h20m-148 4h8m8 0h4"/>
<path stroke="#4456c7" d="M-52 -78h8m-4 4h8m-4 4h8m-4 4h4m96 0h8m-104 4h4m88 0h8m-16 4h8m-88 4h4m72 0h8m-80 4h4m64 0h4m-72 4h4m60 0h4m-4 4h4m-68 8h4m-4 4h4m60 0h4m-132 4h4m124 0h4m-128 4h4m124 0h4m44 0h4m-180 4h4m128 0h4m36 0h4m-172 4h4m36 0h4m92 0h4m20 0h4m-156 4h4m20 0h8m-24 4h12"/>
<path stroke="#4661d6" d="M-44 -82h8m-8 4h8m-4 4h4m0 4h4m88 0h8m-100 4h4m84 0h8m-92 4h4m76 0h8m-88 4h4m72 0h4m-76 4h4m64 0h4m-8 4h4m-64 4h4m-4 4h4m52 0h4m-60 4h4m52 0h4m-60 4h4m52 0h4m-4 4h4m-64 4h4m56 0h4m-128 4h4m56 0h4m64 0h4m-132 4h4m52 0h4m72 0h4m44 0h4m-180 4h4m44 0h4m84 0h4m28 0h8m-168 4h4m132 0h20m-152 4h8m12 0h8"/>
<path stroke="#466be3" d="M-36 -86h4m-4 4h4m-4 4h4m-4 4h8m-4 4h4m80 0h4m-88 4h4m76 0h4m-8 4h4m-76 4h4m64 0h4m-8 4h4m-64 4h4m52 4h4m-8 4h4m-4 4h4m-4 4h4m-56 4h4m48 0h4m-60 8h4m56 0h4m-68 4h4m-64 4h4m52 0h4m76 0h4m40 0h4m-176 4h4m36 0h4m92 0h4m20 0h8m-164 4h4m28 0h4m-28 4h16m76 92h8"/>
<path stroke="#4776ee" d="M-32 -86h8m-8 4h8m-8 4h8m-4 4h4m72 0h8m-84 4h4m68 0h8m-80 4h4m68 0h4m-76 4h4m64 0h4m-68 4h4m56 0h4m-64 4h4m52 4h4m-56 4h4m44 0h4m-52 4h4m-4 4h4m40 0h4m-48 4h4m40 0h4m-48 4h4m40 0h4m-52 4h4m48 0h4m-60 8h4m60 0h4m-72 4h4m68 0h4m-132 4h4m44 0h4m84 0h4m32 0h8m-176 4h4m36 0h4m100 0h16m-152 4h4m16 0h8m60 92h8"/>
<path stroke="#4680f6" d="M-28 -90h8m-4 4h4m-4 4h4m-4 4h4m64 0h8m-76 4h4m64 0h4m-72 4h4m60 0h4m-68 4h4m60 0h4m-68 4h4m56 0h4m-8 4h4m-56 4h4m48 0h4m-56 4h4m44 0h4m-8 4h4m-44 4h4m36 0h4m-44 4h4m32 4h4m-44 8h4m40 0h4m-52 4h4m48 0h4m0 4h4m0 4h4m-132 4h4m52 0h4m76 0h4m-136 4h4m44 0h4m92 0h4m16 0h8m-164 4h4m28 0h4m-32 4h20m64 88h4"/>
<path stroke="#458afc" d="M-20 -90h8m-8 4h4m-4 4h4m56 0h4m-64 4h4m56 0h4m-64 4h4m56 0h4m-64 4h4m52 0h4m-60 4h4m52 0h4m-60 4h4m48 0h4m-56 4h4m0 4h4m40 0h4m-48 4h4m36 0h4m-44 4h4m32 0h4m-4 4h4m-4 4h4m-40 4h4m-4 4h4m32 0h4m-40 4h4m32 0h4m-44 4h4m40 0h4m-52 4h4m48 0h4m-60 4h4m56 0h4m-68 4h4m68 0h4m-136 4h4m52 0h4m84 0h4m28 0h8m-180 4h8m36 0h4m108 0h4m-152 4h4m20 0h8m-20 4h8m80 80h12m-32 4h8"/>
<path stroke="#4294ff" d="M-12 -90h4m-8 4h8m-8 4h8m44 0h4m-56 4h4m48 0h4m-56 4h4m44 0h8m-56 4h4m44 0h4m-52 4h4m44 0h4m-52 4h4m40 0h4m-48 4h4m40 0h4m-44 4h4m32 0h4m-40 4h4m28 0h4m-36 4h4m24 0h4m-32 4h4m24 0h4m-32 4h4m24 0h4m-32 4h4m24 0h4m-32 4h4m24 0h4m-4 4h4m-36 4h4m32 0h4m-44 4h4m40 0h4m-52 4h4m48 0h4m-60 4h4m60 0h4m8 4h4m-144 4h4m48 0h4m92 0h12m4 0h16m-172 4h4m32 0h4m-32 4h8m8 0h8m68 80h4m12 0h4m-40 4h4"/>
<path stroke="#3d9efe" d="M-8 -90h12m20 0h4m-36 4h8m28 0h8m-44 4h4m32 0h8m-48 4h8m32 0h8m-48 4h8m32 0h4m-44 4h4m36 0h4m-44 4h4m36 0h4m-44 4h4m32 0h4m-40 4h8m28 0h4m-36 4h4m24 0h4m-32 4h4m20 0h4m-28 4h4m16 0h4m-24 4h4m16 0h4m-24 4h4m12 0h8m-24 4h4m12 0h8m-24 4h4m12 0h8m-28 4h4m20 0h4m-28 4h4m24 0h4m-36 4h4m32 0h4m-44 4h4m40 0h4m-52 4h4m52 0h4m-68 4h4m72 0h4m-84 4h4m84 0h4m32 0h4m-184 4h8m40 0h4m-44 4h8m24 0h4m-28 4h20m64 76h8m-24 4h4"/>
<path stroke="#37a8fa" d="M4 -90h20m-24 4h28m-32 4h32m-32 4h8m16 0h8m-32 4h8m16 0h8m-36 4h8m20 0h8m-36 4h8m20 0h8m-36 4h8m20 0h4m-28 4h4m16 0h8m-28 4h8m4 0h12m-24 4h20m-20 4h16m-16 4h16m-16 4h12m-12 4h12m-12 4h12m-16 4h20m-20 4h4m12 0h8m-28 4h4m24 0h4m-36 4h4m32 0h4m4 4h4m-60 4h4m60 0h8m-76 4h4m76 0h4m-92 4h4m96 0h32m-184 4h8m36 0h4m-36 4h4m20 0h4m56 76h4m-20 4h4"/>
<path stroke="#2fb2f4" d="M4 -78h16m-16 4h16m-20 4h20m-20 4h20m-20 4h20m-20 4h16m-12 4h4m-12 32h12m-16 4h4m12 0h8m-28 4h4m24 0h4m-40 4h4m40 0h4m-52 4h4m52 0h4m-64 4h4m68 0h4m-84 4h4m88 0h4m-104 4h4m-48 4h8m28 0h4m-32 4h24m76 68h16m-36 4h4m-20 4h4"/>
<path stroke="#27bee9" d="M-4 -18h12m-16 4h4m12 0h8m-32 4h4m32 0h4m-44 4h4m44 0h4m-56 4h4m60 0h4m-76 4h4m76 0h8m-96 4h4m100 0h28m-184 4h4m40 0h4m-44 4h8m24 0h4m-24 4h16m76 64h4m16 0h8m-48 4h4m-20 4h4"/>
<path stroke="#20c7df" d="M-4 -14h12m-20 4h4m20 0h8m-36 4h4m36 0h4m8 4h4m-68 4h4m68 0h4m-84 4h4m88 0h8m-108 4h8m112 0h16m-184 4h4m36 0h8m-44 4h12m16 0h8m64 64h4m-24 4h4m-20 4h4"/>
<path stroke="#1bd0d5" d="M-8 -10h20m-24 4h4m24 0h8m-44 4h4m44 0h8m-60 4h4m60 0h4m-76 4h8m76 0h4m-92 4h4m96 0h12m-120 4h4m124 0h8m-184 4h4m36 0h4m-36 4h24m64 60h8m-24 4h4m-20 4h4"/>
<path stroke="#18d7ca" d="M-8 -6h4m16 0h4m-32 4h4m36 0h4m-48 4h4m52 0h4m8 4h4m-84 4h4m88 0h4m-104 4h4m108 0h12m-132 4h4m128 0h8m-184 4h8m24 0h8m88 56h16m-52 4h4m-20 4h4"/>
<path stroke="#18dec0" d="M-4 -6h16m-24 4h8m20 0h8m-40 4h4m40 0h8m-60 4h4m64 0h4m-76 4h4m76 0h8m-96 4h4m96 0h8m-116 4h4m116 0h8m-136 4h4m132 0h8m-184 4h32m80 52h16m-40 4h4m-24 4h8"/>
<path stroke="#1ae4b6" d="M-4 -2h20m-28 4h4m32 0h4m-48 4h4m52 0h8m-68 4h4m68 0h4m-84 4h4m88 0h4m-104 4h4m104 0h8m-124 4h4m124 0h4m-144 4h8m136 0h8m-180 4h20m120 44h4m-44 4h8m-28 4h4m-24 4h4"/>
<path stroke="#20eaac" d="M-8 2h4m20 0h8m-40 4h4m44 0h4m-56 4h4m60 0h4m-76 4h4m76 0h8m-96 4h4m96 0h4m-112 4h4m112 0h8m-132 4h4m128 0h4m-152 4h8m144 0h4m-4 4h4m-28 36h4m-20 4h8m-44 4h4m-24 4h4m-24 4h4"/>
<path stroke="#2aefa1" d="M-4 2h20m-28 4h4m32 0h8m-48 4h4m52 0h4m-68 4h4m68 0h4m-84 4h4m88 0h4m-104 4h4m104 0h4m-120 4h4m116 0h8m-140 4h4m132 0h8m-172 4h20m148 0h4m-20 32h4m-12 4h4m-20 4h4m-44 4h8m-24 4h4m-24 4h4"/>
<path stroke="#35f394" d="M-8 6h8m16 0h8m-36 4h4m40 0h8m-60 4h4m60 0h4m-76 4h8m72 0h8m-96 4h4m92 0h8m-112 4h4m108 0h4m-128 4h4m124 0h4m-144 4h8m136 0h4m-164 4h8m152 0h8m-4 4h4m-8 8h4m-12 12h4m-12 4h4m-12 4h4m-24 4h8m-44 4h4m-24 4h8"/>
<path stroke="#43f787" d="M0 6h16m-24 4h4m28 0h8m-48 4h4m52 0h4m-64 4h4m64 0h4m-84 4h4m84 0h4m-100 4h4m100 0h4m-120 4h4m116 0h4m-132 4h4m128 0h4m-152 4h8m140 0h4m-160 4h4m156 0h4m-4 4h4m-8 4h4m-4 4h4m-8 4h4m-8 4h4m-12 4h4m-12 4h4m-32 4h12m-40 4h4m-24 4h4"/>
<path stroke="#52fa7a" d="M-4 10h28m-36 4h4m40 0h8m-56 4h4m56 0h4m-76 4h8m72 0h4m-92 4h4m92 0h4m-112 4h4m108 0h4m-124 4h4m120 0h4m-140 4h8m128 0h4m-152 4h8m144 0h4m-4 4h4m-8 4h4m-4 4h4m-8 4h4m-8 4h4m-12 4h4m-12 4h4m-40 4h12m-52 8h4"/>
<path stroke="#61fc6c" d="M-8 14h8m24 0h8m-44 4h4m48 0h4m-64 4h4m64 0h4m-84 4h4m84 0h4m-104 4h4m100 0h4m-116 4h4m112 0h4m-128 4h4m-16 4h4m136 0h4m-152 4h4m144 0h4m-8 8h4m-8 4h4m-8 4h4m-12 4h4m-12 4h4m-40 4h4m-20 4h4m-32 4h8"/>
<path stroke="#71fe5f" d="M0 14h24m-32 4h4m36 0h8m-56 4h4m56 0h4m-76 4h4m76 0h4m-96 4h4m92 0h4m-108 4h4m104 0h4m-120 4h4m116 0h4m-136 4h8m124 0h4m-144 4h8m132 0h4m-148 4h4m140 0h4m-8 4h4m-8 4h4m-8 4h4m-12 4h4m-12 4h4m-40 4h4m-20 4h4m-32 4h4"/>
<path stroke="#80ff53" d="M-4 18h4m24 0h8m-44 4h4m48 0h4m-68 4h4m68 0h4m-88 4h8m80 0h4m-100 4h4m96 0h4m-112 4h4m108 0h4m-124 4h4m116 0h4m-132 4h4m124 0h4m-140 4h4m132 0h4m-8 4h4m-12 8h4m-20 8h4m-40 4h4m-24 4h8"/>
<path stroke="#8fff49" d="M0 18h24m-32 4h4m36 0h8m-60 4h4m60 0h4m-76 4h4m72 0h4m-92 4h4m88 0h4m-104 4h4m100 0h4m-116 4h4m108 0h4m-124 4h4m116 0h4m-132 4h4m124 0h4m-136 4h4m124 4h4m-16 8h4m-20 4h8m-40 4h4m-48 4h4m16 0h8"/>
<path stroke="#9cfe40" d="M-4 22h8m16 0h12m-48 4h8m44 0h8m-68 4h4m64 0h4m-84 4h4m80 0h4m-96 4h4m92 0h4m-108 4h4m-12 4h4m-12 4h8m-12 4h8m116 0h4m-128 4h4m116 0h4m-124 4h4m112 0h4m-116 4h4m100 0h4m-36 4h20m-36 4h4m-40 4h16"/>
<path stroke="#a9fb39" d="M4 22h16m-28 4h4m36 0h4m-56 4h4m56 0h4m-76 4h4m-12 4h4m84 0h4m-100 4h4m96 0h4m-112 4h4m104 0h4m-116 4h4m108 0h4m-120 4h4m108 0h4m-120 4h4m-4 4h4m104 0h4m-108 4h4m-4 4h8m56 0h4m-60 4h8m32 0h4"/>
<path stroke="#b4f836" d="M-4 26h8m16 0h12m-48 4h4m48 0h4m-68 4h4m68 0h4m0 8h4m-104 4h4m96 0h4m-4 4h4m-112 4h4m-8 4h4m104 0h4m-112 4h4m0 4h4m88 0h4m-92 4h4m48 0h4m-48 4h4"/>
<path stroke="#bef434" d="M4 26h16m-32 4h8m36 0h4m-60 4h4m60 0h4m-80 4h4m76 0h4m-92 4h4m84 0h4m-104 8h4m96 4h4m-108 4h4m96 0h4m-104 4h4m92 0h4m-12 4h4m-84 4h4m40 0h4m-40 4h4m16 0h8"/>
<path stroke="#c8ef34" d="M-4 30h16m4 0h16m-52 4h8m48 0h4m-72 4h4m68 0h4m-84 4h4m-12 4h4m88 0h4m-100 4h4m92 0h4m-104 4h4m92 0h4m-100 4h4m-4 4h4m84 0h4m-92 4h4m52 0h28m-40 4h4m-32 4h16"/>
<path stroke="#d2e935" d="M12 30h4m-28 4h12m28 0h8m-64 4h8m56 0h4m-76 4h4m72 0h4m-88 4h4m80 0h4m-92 4h4m84 0h4m-96 4h4m84 4h4m-92 8h4m44 0h4m-48 4h4"/>
<path stroke="#dbe236" d="M0 34h28m-48 4h4m48 0h4m-68 4h4m64 0h4m-80 4h4m72 0h4m-4 4h4m-4 4h4m-92 4h4m80 0h4m-88 4h4m76 0h4m-80 4h4m36 0h4m-40 4h4m24 0h4"/>
<path stroke="#e3db38" d="M-16 38h24m16 0h8m-60 4h4m56 0h4m-80 8h4m-8 4h4m76 0h4m-84 4h4m-4 4h4m44 0h28m-68 8h4m16 0h4"/>
<path stroke="#ebd339" d="M8 38h16m-48 4h8m40 0h8m-68 4h4m64 0h4m-76 4h4m68 0h4m-80 4h4m68 4h4m-36 4h4m-44 4h4m28 0h4m-28 4h4m8 0h4"/>
<path stroke="#f1cb3a" d="M-16 42h40m-56 4h4m52 0h8m-4 4h4m-4 4h4m-76 4h4m40 0h28m-72 4h4m32 0h4m-36 4h4m20 0h4m-20 4h8"/>
<path stroke="#f6c33a" d="M-28 46h8m8 0h36m-60 4h4m28 0h32m-68 4h4m32 0h32m-36 4h8m-12 4h4"/>
<path stroke="#faba39" d="M-20 46h8m-20 4h4m20 0h4m-4 4h4m-36 4h4m-4 4h4m0 4h4m12 0h4"/>
<path stroke="#fcb136" d="M-28 50h4m8 0h8m-28 4h4m20 0h4m-4 4h4m-28 4h4m16 0h4m-20 4h4m4 0h4"/>
<path stroke="#fea732" d="M-24 50h8m-16 4h4m12 0h4m-24 4h4m16 0h4m-8 4h4m-12 4h4"/>
<path stroke="#fe9b2d" d="M-28 54h12m-16 4h4m8 0h4m-16 4h4"/>
<path stroke="#fe9029" d="M-28 58h8m-8 4h8"/></g></g><path class="ct" d="M60 -62l-13.5 9.7 -4.5 4.3 -3.7 4.5 -1.5 3 -.8 4.5 .6 4.5 1.9 4.5 3.5 4.5 5.2 4.5 6.8 3.8 6 2 4.5 .4 6 -.5 6 -1.8 7.5 -3.5M-84 -18.4l6 5.7 6 3.8 6 2 7.5 .1 7.5 -2.2 9 -4.7 7.5 -5.8 5.2 -6 2.6 -4.5 1.9 -6 .1 -6 -1.1 -4.5 -2.1 -4.5 -3.6 -5.6 -7.5 -10.1 -6 -7M33.8 -79.5l-1.4 9 -2.8 7.5 -2.8 4.5 -8.3 10.5 -3.8 7.5 -1 4.5 .1 4.5 .8 3 2.3 4.5 4.1 4.6 8.8 5.9 12.3 6 11.9 4.7 7.5 1.9 7.5 .8 7.5 -.2 9 -1.2M-86.5 1.5l8.5 4.5 7.5 2.6 6 .5 7.5 -1.3 7.5 -3.1 18 -9.7 7.5 -5.7 8.9 -8.8 5.6 -7.5 1.4 -3 1.1 -4.5 .1 -6 -.6 -6 -3.5 -15 -.7 -6 1 -9 2.7 -9M-82.5 24.5l15 1 4.5 -.4 4.5 -1.3 30 -14.2 22.5 -14.6 4.5 -1.6 4.5 -.6 4.5 .3 6 1.4 27 8.8 18 6.5 25.5 7.4M36 78.2l-10.5 0 -18 2.5 -7.5 1.3 -13.5 3.4M-75 41.7l18 -6.1 21 -8.9 15 -5.6 13.5 -7.7 6 -2.8 4.5 -1.2 6 -.4 12 1.6 15 3.7 10.5 3.8 11.6 5.9 6.3 4.5 5.3 6 2.5 6 .3 3 -.6 4.5M58.5 63.6l-10.5 5.1 -10.5 2.9 -7.5 1.2 -25.5 2.2 -19.5 4.6 -13.5 1.8M1.5 25.3l10.5 -1.3 12 1 10.5 2.7 7.5 3.8 3.8 3 2.5 3 1.7 3 .9 3 .3 3 -1 4.5 -3.7 6 -3.1 3 -4.2 3 -6.2 3 -4.9 1.5 -23.6 .9 -6 1.3 -13.5 4.2 -7.5 1.4 -10.5 .7 -9 -.6M-62.3 58.5l1.1 -3 3.5 -4.5 5.6 -4.5 7.4 -4.5 16.2 -7.4 30 -9.3M-16.5 42l16.5 .1 15 -1.5 6 .4 4.5 1.5 3.6 2.5 1.8 3 .1 4.5 -2.5 4.2 -3 2.1 -4.5 .5 -10.5 -1.3 -6 .4 -6 1.9 -13.5 7.2 -4.5 1.7 -6 1.2 -6 -.5 -6 -2.3 -3.7 -3.1 -1.8 -4.5 .9 -4.5 3.5 -4.5 7.1 -4.7 7.5 -2.9 7.5 -1.4"/><circle r="89.2" fill="none" stroke="#edf5ff" stroke-width="6"/><circle r="80.6" class="hd"/><path class="hd" d="M-14.5 -79.9L-3.2 -92.2Q0 -93.6 3.2 -92.2L14.5 -79.9M-79.2 -15.4L-82.1 -18.9 -83.4 -19.0 -85.3 -18.5 -87.2 -15.4 -86.9 0.9 -88.1 15.0 -85.7 21.1 -82.1 22.3 -77.9 19.3M79.2 -15.4L82.1 -18.9 83.4 -19.0 85.3 -18.5 87.2 -15.4 86.9 0.9 88.1 15.0 85.7 21.1 82.1 22.3 77.9 19.3"/><g class="el"><text x="-25.7" y="-74.8">FP1</text><text x="25.7" y="-74.8">FP2</text><text x="-24.0" y="-59.1">AF3</text><text x="24.0" y="-59.1">AF4</text><text x="-69.2" y="-46.2">F7</text><text x="-35.7" y="-38.5">F3</text><text x="0.0" y="-37.2">FZ</text><text x="35.7" y="-38.5">F4</text><text x="69.2" y="-46.2">F8</text><text x="-62.1" y="-18.7">FC5</text><text x="-21.1" y="-16.2">FC1</text><text x="21.1" y="-16.2">FC2</text><text x="62.1" y="-18.7">FC6</text><text x="-86.8" y="4.4">T7</text><text x="-43.2" y="4.4">C3</text><text x="0.0" y="4.4">CZ</text><text x="43.2" y="4.4">C4</text><text x="86.8" y="4.4">T8</text><text x="-62.0" y="27.1">CP5</text><text x="-21.2" y="25.0">CP1</text><text x="21.2" y="25.0">CP2</text><text x="62.0" y="27.1">CP6</text><text x="-69.2" y="54.6">P7</text><text x="-35.7" y="46.8">P3</text><text x="0.0" y="45.6">PZ</text><text x="35.7" y="46.8">P4</text><text x="69.2" y="54.6">P8</text><text x="-25.7" y="67.4">PO3</text><text x="25.7" y="67.4">PO4</text><text x="-26.1" y="83.7">O1</text><text x="0.0" y="85.5">OZ</text><text x="26.1" y="83.7">O2</text></g><text x="1" y="-104.1" class="tp" text-anchor="middle"><tspan class="tg">α</tspan> @7.8-13.2Hz | C</text><rect x="103.3" y="-95.7" width="9.3" height="193" fill="url(#cbg)" stroke="#444" stroke-width="0.7"/><text x="118.3" y="-83.8" class="cbt">0.065</text><text x="118.3" y="-48.1" class="cbt">0.06</text><text x="118.3" y="-12.8" class="cbt">0.055</text><text x="118.3" y="22.9" class="cbt">0.05</text><text x="118.3" y="58.2" class="cbt">0.045</text><text x="118.3" y="93.5" class="cbt">0.04</text><path d="M112.6 -89.7h-2M112.6 -54.0h-2M112.6 -18.7h-2M112.6 17.0h-2M112.6 52.3h-2M112.6 87.6h-2" stroke="#262626" stroke-width="0.8"/><text transform="translate(183.5 -3.8) rotate(-90)" class="cbl" text-anchor="middle">PSD [<tspan class="mu">μ</tspan>V<tspan class="s2" dy="-6">2</tspan><tspan dy="6">/Hz]</tspan></text></g>
<g transform="translate(1128.7 2091.3)"><g clip-path="url(#dc)"><g filter="url(#bl)" class="fl"><path stroke="#351e58" d="M4 78h8m-8 4h8m-8 4h8"/>
<path stroke="#392a73" d="M8 70h8m-12 4h12m-16 4h4m8 0h4m-16 4h4m8 0h4m-16 4h4m8 0h4m-16 4h16"/>
<path stroke="#3d358b" d="M8 66h12m-16 4h4m8 0h4m-20 4h4m12 0h4m-4 4h4m-4 4h4m-4 4h4m-4 4h4"/>
<path stroke="#4040a2" d="M8 62h12m-16 4h4m12 0h4m-4 4h4m-4 4h4m-4 4h4m-28 4h4m-4 4h4m-4 4h4m20 0h4"/>
<path stroke="#424bb5" d="M8 58h12m-16 4h4m12 0h4m0 4h4m-28 4h4m20 0h4m-4 4h4m-32 4h4m20 4h4m-4 4h4"/>
<path stroke="#4456c7" d="M4 58h4m12 0h4m0 4h4m-28 4h4m-8 8h4m24 4h4m-4 4h4m-4 4h4m-4 4h4"/>
<path stroke="#4661d6" d="M8 54h12m-20 8h4m24 4h4m-36 4h4m28 0h4m-4 4h4m-4 4h4m-40 4h4m-4 4h4m32 0h4m-40 4h4"/>
<path stroke="#466be3" d="M76 -50h4m-76 104h4m12 0h4m-24 4h4m20 0h4m0 4h4m-36 4h4m-8 12h4m32 4h4m0 4h4"/>
<path stroke="#4776ee" d="M68 -62h4m0 8h4m4 12h4m-80 92h12m-16 4h4m-8 8h4m32 4h4m-4 4h4m-44 4h4m36 0h4m-4 4h4m-4 4h4"/>
<path stroke="#4680f6" d="M60 -70h4m0 4h4m0 8h4m0 8h4m0 4h4m4 12h4m-88 84h4m12 0h4m4 4h4m-32 4h4m28 0h4m-40 12h4m40 8h4m-4 4h4m-52 8h4"/>
<path stroke="#458afc" d="M60 -66h4m0 4h4m0 8h4m4 12h4m0 4h4m4 12h4m-88 72h12m4 4h4m-28 4h4m32 8h4m0 8h4m-4 4h4m-52 8h4m48 0h4m-56 4h4"/>
<path stroke="#4294ff" d="M56 -70h4m-132 8h4m132 4h4m0 8h4m0 4h4m4 12h4m0 4h4m0 8h4m-92 68h4m12 0h4m-24 4h4m28 4h4m0 4h4m-44 4h4m-4 4h4m40 0h4m0 8h4m-56 4h4m48 0h4"/>
<path stroke="#3d9efe" d="M48 -78h4m0 4h4m-120 4h4m-8 4h4m120 0h4m-128 4h4m124 0h4m-136 4h4m-8 4h4m136 0h4m-148 4h4m144 4h4m0 4h4m0 4h4m4 12h4m0 8h4m-92 60h16m4 4h4m0 4h4m-36 8h4m40 4h4m0 8h4m-56 4h4m52 4h4"/>
<path stroke="#37a8fa" d="M24 -90h4m4 4h4m4 4h4m0 4h4m0 4h4m0 4h4m-120 4h4m116 4h4m-128 4h4m124 0h4m-136 4h4m-8 4h4m136 0h4m-148 4h4m152 12h4m0 4h4m-88 76h4m-8 8h4m44 12h4m-56 4h4m52 4h4m0 4h4m-68 12h4"/>
<path stroke="#2fb2f4" d="M16 -90h8m4 4h4m4 4h4m-92 4h4m88 0h4m-100 4h4m-8 4h4m108 4h4m-120 4h4m-8 8h4m124 0h4m-136 4h4m-8 4h4m-12 4h4m148 0h4m0 4h4m4 12h4m0 4h4m0 8h4m-92 52h12m-16 4h4m16 0h4m4 4h4m-36 4h4m32 0h4m0 4h4m0 4h4m-52 8h4m52 4h4m-64 16h4"/>
<path stroke="#27bee9" d="M-28 -90h4m32 0h8m4 4h8m-72 4h4m68 0h8m-84 4h4m80 0h4m-92 4h4m92 0h4m-104 4h4m100 0h4m-112 4h4m108 4h4m-120 4h4m116 0h4m0 8h4m0 4h4m-148 4h4m-8 4h4m156 8h4m4 12h4m0 8h4m-80 48h4m4 4h4m-32 4h4m-8 16h4m48 0h4m0 4h4m0 8h4m-68 8h4"/>
<path stroke="#20c7df" d="M-24 -90h32m-44 4h8m40 0h8m-60 4h4m60 0h4m4 4h4m4 4h4m-96 4h4m92 0h4m-104 4h4m100 0h4m-112 4h4m-8 8h4m116 0h4m-128 4h4m-8 4h4m-8 4h4m136 0h4m0 4h4m-160 4h4m156 0h4m4 12h4m0 8h4m0 8h4m-88 40h8m-16 4h4m16 0h4m-28 4h4m36 8h4m-48 4h4m44 0h4m-52 4h4m56 12h4m0 4h4m-72 4h4"/>
<path stroke="#1bd0d5" d="M-28 -86h8m24 0h8m-48 4h4m48 0h8m-68 4h4m68 0h4m-80 4h4m80 0h4m-96 12h4m100 0h4m-112 4h4m108 0h4m-120 8h4m116 0h4m-128 4h4m124 0h4m-144 8h4m-8 4h4m152 4h4m0 4h4m-80 60h4m8 0h4m8 8h4m0 4h4m-44 4h4m48 8h4m0 4h4m0 4h4m0 4h4m-72 4h4m-8 16h4"/>
<path stroke="#18d7ca" d="M-20 -86h24m-36 4h8m32 0h8m-56 4h8m52 0h8m-72 4h4m72 0h4m-84 4h4m84 0h4m-96 4h4m92 0h4m-104 8h4m-8 4h4m108 0h4m-128 12h4m128 0h4m-140 4h4m136 0h4m0 4h4m-160 4h4m-8 4h4m168 8h4m0 8h4m0 8h4m-88 32h4m-12 4h4m-8 4h4m24 0h4m-36 8h4m-8 24h4m-8 16h4"/>
<path stroke="#18dec0" d="M-24 -82h32m-40 4h4m40 0h8m-60 4h4m64 0h4m-76 4h4m76 0h4m-88 4h4m84 0h4m-96 4h4m92 0h4m0 4h4m-108 4h4m-8 4h4m108 0h4m-120 4h4m116 0h4m-128 4h4m-8 4h4m-12 4h4m-8 4h4m152 4h4m0 4h4m0 8h4m0 8h4m0 8h4m-92 28h4m4 0h4m-20 4h4m20 0h4m-32 8h4m40 4h4m0 4h4m0 4h4m0 4h4m-64 4h4m60 0h4m-68 4h4m64 0h4m0 4h4m-80 12h4"/>
<path stroke="#1ae4b6" d="M-28 -78h12m8 0h20m-48 4h4m52 0h8m-68 4h4m68 0h4m-80 4h4m-8 4h4m-8 4h4m92 0h4m0 4h4m-112 8h4m52 4h8m52 0h4m-64 4h8m56 0h4m-140 4h4m68 0h8m60 0h4m0 4h4m-160 4h4m-8 4h4m164 4h4m4 16h4m-84 28h4m-12 4h4m12 0h4m-28 8h4m32 0h4m0 4h4m-48 8h4m-4 4h4m-4 4h4m72 12h4m-84 8h4m-8 12h4"/>
<path stroke="#20eaac" d="M-16 -78h8m-24 4h8m20 0h24m-56 4h4m60 0h4m4 4h4m-84 4h4m80 0h4m-92 4h4m-8 4h4m-8 4h4m100 0h4m-60 4h16m44 0h4m-120 4h4m52 0h4m8 0h4m-76 4h4m56 0h4m8 0h4m-16 4h4m8 0h4m-88 4h4m72 0h12m-92 4h4m152 4h4m4 12h4m4 16h4m-96 20h8m4 0h4m-20 4h4m20 0h4m0 4h4m-40 12h4m60 12h4m0 4h4m0 4h4m-80 8h4"/>
<path stroke="#2aefa1" d="M-24 -74h20m-28 4h4m20 0h24m4 0h8m-68 4h4m68 0h4m0 4h4m-84 4h4m80 0h4m-92 4h4m40 0h8m40 0h4m-100 4h4m40 0h16m-64 4h4m40 0h4m16 0h4m-72 4h4m44 0h4m16 0h4m40 0h4m-120 4h4m48 0h4m16 0h4m44 0h4m-132 4h4m56 0h4m16 0h4m48 0h4m-140 4h4m64 0h4m12 0h4m52 0h4m-72 4h12m60 0h4m-160 4h4m-8 4h4m164 4h4m0 8h4m0 8h4m-88 20h8m4 4h4m-28 8h4m-8 8h4m44 0h4m0 4h4m0 4h4m0 4h4m12 12h4m-84 4h4m-8 16h4"/>
<path stroke="#35f394" d="M-28 -70h20m24 0h4m-56 4h4m20 0h24m16 0h4m-72 4h4m28 0h16m24 0h4m-44 4h16m28 0h4m-84 4h4m28 0h8m8 0h8m28 0h4m-92 4h4m32 0h4m16 0h4m32 0h4m-100 4h4m32 0h4m24 0h4m32 0h4m-68 4h4m24 0h4m-32 4h4m24 0h4m-84 4h4m76 0h4m-28 4h4m20 0h4m-96 4h4m68 0h4m12 0h4m-96 4h4m76 0h16m60 4h4m12 28h4m-96 12h4m8 0h4m-20 4h4m-8 4h4m28 0h4m0 4h4m-44 4h4m40 0h4m-52 20h4m68 0h4m-76 4h4m72 0h4m-80 4h4m80 0h4m-92 16h4m-8 8h4"/>
<path stroke="#43f787" d="M-32 -66h8m4 0h8m24 0h16m-64 4h4m16 0h8m16 0h8m-56 4h4m20 0h8m16 0h4m-52 4h4m20 0h4m24 0h4m20 0h4m-84 4h4m24 0h4m24 0h4m24 0h4m-92 4h4m88 0h4m-104 4h4m68 0h4m28 0h4m-112 4h4m72 0h4m32 0h4m-72 4h4m28 0h4m36 0h4m-132 4h4m84 0h4m40 0h4m-140 4h4m60 0h4m20 0h4m48 0h4m-76 4h4m16 0h4m52 0h4m-160 4h4m80 0h16m-104 4h4m88 0h8m68 4h4m0 8h4m0 8h4m-92 12h16m-20 4h4m16 0h4m0 4h4m-36 8h4m-8 12h4m-4 4h4m60 0h4m-68 4h4m64 0h4m8 8h4m-88 16h4"/>
<path stroke="#52fa7a" d="M-24 -66h4m-12 4h16m32 0h16m-68 4h8m8 0h4m28 0h8m8 0h8m-72 4h4m12 0h4m32 0h4m12 0h4m-76 4h4m16 0h4m32 0h4m16 0h4m-84 4h4m20 0h4m32 0h4m20 0h4m-96 4h4m28 0h4m36 0h4m20 0h4m-104 4h4m32 0h4m36 0h4m-88 4h4m40 0h4m-52 4h4m48 0h4m-4 4h4m28 0h4m-100 4h4m64 0h4m-76 4h4m72 0h4m16 0h4m-104 4h4m80 0h4m8 0h4m60 0h4m-168 4h4m84 0h12m72 12h4m-88 12h12m80 0h4m-104 12h4m40 12h4m-56 4h4m52 0h4m0 4h4m12 12h4m4 4h8m-96 12h4m-8 12h4"/>
<path stroke="#61fc6c" d="M-28 -58h8m40 0h8m-60 4h12m40 0h12m-68 4h16m40 0h16m-76 4h8m4 0h8m40 0h8m8 0h4m-88 4h4m20 0h4m44 0h4m12 0h4m-96 4h4m24 0h4m68 0h4m-112 4h4m76 0h4m28 0h4m-76 4h4m36 0h4m32 0h4m-132 4h4m88 0h4m36 0h4m-80 4h4m28 0h4m44 0h4m-80 4h4m24 0h4m48 0h4m-80 4h4m16 0h4m-24 4h4m12 0h4m-16 4h12m68 0h4m-84 4h12m-12 4h12m-12 4h12m-12 4h16m72 0h4m-80 4h4m-20 4h4m16 0h4m72 0h4m-104 4h4m24 0h4m0 4h4m-40 4h4m36 0h4m0 4h4m-52 4h4m68 16h4m4 4h4m-88 12h4"/>
<path stroke="#71fe5f" d="M-32 -46h4m56 0h8m-80 4h20m52 0h12m-88 4h4m16 0h4m48 0h8m12 0h4m-104 4h4m28 0h4m44 0h4m20 0h4m-116 4h4m84 0h4m-48 4h4m-60 4h4m92 0h4m-104 4h4m-8 4h4m68 0h4m-80 4h4m96 0h4m56 0h4m-168 4h4m80 0h4m12 0h4m-20 4h4m12 0h4m64 0h4m-72 4h4m-4 4h4m68 0h4m-92 4h4m-4 4h4m16 0h4m0 4h4m68 4h4m-108 4h4m-8 8h4m-8 12h4m64 0h4m-72 4h4m68 0h4m-76 4h4m76 0h4m-84 4h4m84 0h8m-96 4h4m-4 4h4m-8 16h4"/>
<path stroke="#80ff53" d="M-44 -38h16m60 0h12m-96 4h4m20 0h4m52 0h4m12 0h4m-108 4h4m32 0h4m72 0h4m-124 4h4m88 0h4m28 0h4m-132 4h4m48 0h4m0 4h4m32 0h4m-8 4h4m48 0h4m-84 4h4m20 4h4m-4 4h4m-24 4h4m-4 4h4m16 0h4m-4 4h4m68 4h4m-100 4h4m28 4h4m0 4h4m60 0h4m-112 4h4m44 0h4m0 4h4m0 4h4m-64 4h4m60 0h4m8 8h4m4 4h4m-92 24h4m-8 8h4"/>
<path stroke="#8fff49" d="M-48 -34h4m8 0h8m60 0h12m-72 4h4m52 0h4m16 0h4m-116 4h4m36 0h4m48 0h4m-8 4h4m32 0h4m-140 4h4m52 0h4m80 0h4m-148 4h4m60 0h4m32 0h4m-108 4h4m96 0h4m-108 4h4m72 0h4m80 0h4m-168 4h4m76 0h4m-4 4h4m20 0h4m60 0h4m-92 4h4m-4 4h4m88 0h4m-96 4h4m24 0h4m64 4h4m-104 4h4m-12 16h4m84 16h12m-104 20h4m-8 8h4"/>
<path stroke="#9cfe40" d="M-44 -34h8m-20 4h4m20 0h4m60 0h16m-76 4h4m76 0h4m-124 4h4m40 0h4m44 4h4m-44 8h4m80 0h4m-56 4h4m-4 4h4m-112 4h4m104 4h4m-4 4h4m-36 8h4m32 0h4m0 4h4m56 0h4m-108 4h4m-8 8h4m-8 8h4m68 0h4m-76 4h4m72 0h4m-80 4h4m80 0h4m16 0h4m-108 4h4m-4 4h4m-4 12h4m-12 16h4"/>
<path stroke="#a9fb39" d="M-52 -30h8m4 0h8m-28 4h4m88 0h4m12 0h4m-24 4h4m24 0h4m-132 4h4m44 0h4m80 0h4m-140 4h4m52 0h4m80 0h4m-48 4h4m-108 4h4m64 0h4m-76 4h4m68 0h4m84 0h4m-60 4h4m56 4h4m-96 4h4m-4 4h4m32 0h4m56 0h4m-104 8h4m44 4h4m52 0h4m-112 4h4m52 0h4m48 0h4m-52 4h4m44 0h4m-116 4h4m64 0h4m8 8h4m4 4h16m-104 12h4m-4 4h4m-8 12h4m-8 4h4"/>
<path stroke="#b4f836" d="M-44 -30h4m-16 4h4m20 0h4m64 0h12m-112 4h4m32 0h4m56 0h4m16 0h4m-28 4h4m-8 4h4m-108 4h4m56 0h4m36 4h4m44 0h4m-88 8h4m-80 4h4m72 0h4m32 4h4m0 8h4m52 24h4m-116 4h4m104 0h4m-112 4h4m-4 4h4m-4 20h4"/>
<path stroke="#bef434" d="M-52 -26h4m8 0h8m-28 4h4m24 0h4m64 0h4m8 0h4m-120 4h4m36 0h4m80 0h4m-84 4h4m80 0h4m-40 4h4m36 0h4m-88 4h4m-68 4h4m100 0h4m-112 4h4m104 0h4m48 0h4m-56 4h4m-116 4h4m164 0h4m-100 8h4m96 0h4m-56 4h4m48 0h4m-108 4h4m-8 8h4m68 4h4m32 0h4m-116 4h4m76 0h4m24 0h4m-24 4h8m8 0h4m-108 12h4m-4 4h4m-4 4h4m-4 4h4m-8 8h4m-8 4h4"/>
<path stroke="#c8ef34" d="M-48 -26h8m80 4h8m-112 4h4m92 0h4m-108 4h4m96 0h4m-108 4h4m48 0h4m-60 4h4m100 0h4m-48 4h4m84 0h4m-92 4h4m-72 4h4m64 0h4m-4 4h4m-4 4h4m40 0h4m-52 8h4m52 4h4m44 0h4m-112 4h4m60 0h4m40 0h4m-44 4h4m36 0h4m-116 4h4m80 4h4m-92 4h4m96 0h8m-108 4h4m-4 4h4m-4 16h4m-4 4h4m-8 4h4m-8 4h4"/>
<path stroke="#d2e935" d="M-56 -22h4m16 0h4m0 4h4m64 0h4m12 0h4m-124 4h4m36 0h4m80 0h4m-32 4h4m32 4h4m-44 4h4m-112 4h4m152 4h4m-52 4h4m-120 4h4m164 0h4m-104 4h4m48 0h4m-64 16h4m104 4h4m-116 4h4m104 0h4m-112 16h4m-4 4h4m-4 4h4m-8 8h4m-8 4h4"/>
<path stroke="#dbe236" d="M-52 -22h16m-24 4h4m96 0h12m-20 4h4m-108 4h4m128 0h4m-140 4h4m48 0h4m-60 4h4m100 4h4m40 0h4m-48 4h4m-116 4h4m156 0h4m-100 4h4m-72 4h4m164 0h4m-48 4h4m-64 4h4m68 8h4m28 0h4m-116 4h4m80 0h4m4 4h16m-112 4h4m-4 4h4m-4 4h4m-4 4h4m-4 4h4m-4 4h4m-4 4h4m-8 4h4m-12 4h8"/>
<path stroke="#e3db38" d="M-56 -18h4m16 0h4m-32 4h4m28 0h4m64 0h4m12 0h4m-84 4h4m56 0h4m-8 4h4m-56 4h4m84 0h4m-92 4h4m-64 4h4m56 0h4m-4 4h4m-68 4h4m112 0h4m-124 8h4m60 0h4m100 0h4m-172 4h4m124 0h4m36 0h4m-112 4h4m68 0h4m32 0h4m-28 8h4m16 0h4m-116 4h4m-8 20h4m-4 4h4m-24 4h4m12 0h8m-16 4h12"/>
<path stroke="#ebd339" d="M-52 -18h4m8 0h4m76 4h4m4 0h4m-120 4h4m120 0h4m-132 4h4m40 0h4m84 0h4m-140 4h4m100 0h4m-112 4h4m144 4h4m-156 4h4m108 0h4m40 4h4m-164 4h4m56 0h4m56 0h4m-68 8h4m-8 8h4m104 0h4m-20 4h4m8 0h4m-116 8h4m-4 4h4m-4 4h4m-4 4h4m-32 4h8m16 0h4m-24 4h24m-16 4h12"/>
<path stroke="#f1cb3a" d="M-48 -18h8m-20 4h4m20 0h4m76 0h4m-80 4h4m64 0h4m-8 4h4m-64 4h4m52 4h4m32 0h4m-148 4h4m104 0h4m-60 8h4m96 4h4m-164 4h4m120 0h4m-128 4h4m124 0h4m-132 4h4m48 0h4m76 0h4m24 0h4m-164 4h4m132 0h4m-92 4h4m96 0h8m-112 4h4m-40 8h4m28 0h4m-32 4h8m20 0h4m-28 4h12m8 0h8m-20 4h16"/>
<path stroke="#f6c33a" d="M-56 -14h4m-12 4h4m112 0h4m0 4h4m0 4h4m-140 4h4m44 0h4m-4 4h4m-4 4h4m92 0h4m-156 4h4m112 0h4m-68 8h4m100 0h4m-4 4h4m-116 8h4m88 0h4m12 0h4m-156 4h4m-4 4h4m0 4h4m28 0h4m-32 4h8m16 0h4m-20 4h20m-12 4h8"/>
<path stroke="#faba39" d="M-52 -14h4m4 0h8m0 4h4m72 0h12m-120 4h4m32 0h4m64 0h4m-112 4h4m100 0h4m-4 4h4m-4 4h4m28 0h4m-148 4h4m108 0h4m32 4h4m-156 4h4m48 0h4m64 0h4m-124 4h4m-4 4h4m44 0h4m-52 4h4m128 0h4m16 0h4m-156 4h4m136 0h12m-112 4h4m-40 4h4m28 0h4m-32 4h4m20 0h4m-20 4h16"/>
<path stroke="#fcb136" d="M-48 -14h4m-16 4h4m108 4h4m-88 4h4m84 0h4m0 4h4m-140 4h4m-8 8h4m44 0h4m64 0h4m28 4h4m-32 4h4m0 4h4m20 0h4m-112 4h4m-8 4h4m-40 4h4m0 4h4m0 4h8m8 0h4"/>
<path stroke="#fea732" d="M-56 -10h4m12 0h4m-28 4h4m24 0h4m72 0h12m-120 4h4m100 0h4m-112 4h4m36 0h4m-4 4h4m-48 4h4m40 0h4m92 0h4m-148 8h4m116 0h4m-124 4h4m40 0h4m100 0h4m-152 8h4m128 0h4m8 0h4m-148 4h4m0 4h4m24 0h4m-28 4h4m16 0h4m-16 4h8"/>
<path stroke="#fe9b2d" d="M-52 -10h4m4 0h4m92 8h4m-20 4h4m16 0h4m-132 4h4m104 0h4m20 0h4m-28 4h4m24 4h4m-104 4h4m76 4h4m-128 4h4m36 0h4m84 0h4m12 0h4m-112 4h4m96 0h8m-140 4h4m24 0h4m-28 4h4m16 0h4m-20 4h16"/>
<path stroke="#fe9029" d="M-48 -10h4m-16 4h4m16 0h4m-28 4h4m24 0h4m72 0h12m-120 4h4m124 8h4m-140 4h4m36 0h4m72 0h4m-120 4h4m116 0h4m16 0h4m-108 4h4m84 0h4m12 0h4m-16 4h4m-132 4h4m4 8h4m8 0h4"/>
<path stroke="#fc8423" d="M-56 -6h4m16 8h4m72 0h4m8 0h4m-92 4h4m72 0h4m12 0h4m-132 4h4m32 0h4m72 0h4m16 4h4m-140 8h4m-4 4h4m28 0h4m96 0h8m-112 4h4m-28 4h4m16 0h4m-16 4h8"/>
<path stroke="#f9751d" d="M-52 -6h12m-20 4h4m16 0h4m-28 4h4m104 0h8m-120 4h4m108 0h4m4 0h4m-12 4h4m8 0h4m-132 4h4m112 0h4m8 0h4m-100 4h4m84 0h16m-108 4h4m92 0h12m-136 8h4m0 4h16"/>
<path stroke="#f56918" d="M-56 -2h4m100 8h4m-120 4h4m112 0h8m-96 4h4m84 0h8m-128 4h4m-4 4h4m-4 4h4m20 0h4m-24 4h4m12 0h4"/>
<path stroke="#f15d13" d="M-52 -2h4m4 0h4m-20 4h4m16 0h4m-28 4h4m20 0h4m-4 4h4m-32 4h4m20 4h4m-8 4h4m-24 4h4m12 0h4m-16 4h12"/>
<path stroke="#ec530f" d="M-48 -2h4m-12 4h4m8 0h4m-20 4h4m-8 4h4m16 4h4m-28 4h4m16 0h4m-24 4h4m12 0h4m-16 4h12"/>
<path stroke="#e7490c" d="M-52 2h8m-12 4h4m8 0h4m-20 4h4m12 0h4m-24 4h4m12 0h4m-20 4h4m8 0h4m-16 4h12"/>
<path stroke="#e14109" d="M-52 6h8m-12 4h12m-16 4h12m-12 4h8"/></g></g><path class="ct" d="M32.8 79.5l.4 -7.5 -.5 -4.5 -1.6 -4.5 -1.9 -3 -3.7 -3.6 -6 -3.8 -4.5 -1.6 -4.5 -.4 -3 .8 -1.9 1.1 -4.1 5.1 -3 6.6 -3.9 10.8 -2.2 10.5M46.5 -72.8l6.9 8.3 11.6 18 12.2 15 6.3 9M-73.5 -45.4l6.2 -5.6 8.3 -12M48.1 70.5l-11.1 -15 -10 -9.3 -7.5 -5.3 -6 -3.1 -4.5 -1.3 -4.5 0 -3 .9 -3 2 -2.3 2.6 -2.2 4.3 -1.8 6.2 -6.9 31.5M-82.5 -23.4l19.6 -14.1 7.4 -6 7.5 -7.5 11.1 -13.5 3.9 -3.5 4.5 -2.5 4.5 -1.4 6 -.6 6 .6 12 2.9 15 -1.3 7.5 .3 7.5 2.4 6.4 4.6 4.2 4.5 12 15 16.4 17.5 8 11 9.2 18M59 63l-9.5 -7 -33 -29.1 -7.5 -4.4 -3 -.8 -3 0 -4.5 1.9 -4.5 3.8 -4.5 5.7 -3.8 7.4 -2.1 9 -1.3 18 -3.7 15M-1.5 -54.3l-4.5 2.6 -3 3.7 -1.8 4.5 -.1 6 2.3 6 4.1 5 4.5 2.7 4.5 .3 3.5 -2 3.2 -4.5 1.3 -4.5 -.3 -6 -2.3 -6 -3.9 -5 -4.5 -2.7 -3 -.1M-85.9 -4.5l7.9 -8.8 9 -7.1 15 -9 6 -2.7 6 -1.6 6 .1 3 1 3 1.8 6 5.9 6.2 8.4 3.6 6 2.3 6 1.2 6 -.1 6 -2.4 9 -9.1 18 -3 7.5 -1 7.5 1.3 12 -.1 4.5 -1.9 7.9 -3.1 7.1M36 -30.3l3 -.9 3 .1 6 1.8 7.5 4.2 7.5 6.3 4.5 4.9 4.5 6.4 12.6 24M67.5 52.6l-6 -1.2 -6 -2.5 -6 -3.6 -7.5 -5.8 -8.6 -8 -6.7 -7.5 -5.4 -7.5 -3.1 -6 -1.6 -7.5 .4 -4.5 1.4 -4.5 3.1 -6 8.5 -12.7 3 -3.4 3 -2.2M-85.4 13.5l7.3 -12 7.6 -8.9 9 -6.9 9 -4.4 7.5 -1.5 4.5 .3 3 .9 6 3.7 5.3 6.3 2.3 4.5 1.6 6 .2 6 -1 6 -4.2 10.5 -11.5 19.5 -1.6 6 -1 12 -1.3 4.5 -2.3 3.3 -3 2M40.5 -15l3 -.8 4.5 .1 3 .8 4.5 2.2 4.5 3.6 3 3.1 7.5 11.3 5.2 11.2 1.2 4.5 .5 4.5 -.5 4.5 -1 3 -2.4 3.5 -3 2.3 -4.5 1.5 -4.5 0 -4.5 -1.1 -6 -2.8 -4.8 -3.4 -5.7 -5.3 -4.5 -5.2 -4.1 -6 -2.1 -4.5 -1.2 -4.5 -.3 -4.5 .7 -4.5 1.9 -4.5 2.1 -3.2 3 -3.1 4.5 -2.7M-49.5 -9.2l4.5 -.3 4.5 1.1 3 1.8 3 3.3 1.6 3.3 1 4.5 -.2 4.5 -1 4.5 -2.7 6 -3.2 5 -4.5 5.6 -6 5.8 -4.5 2.9 -3 1 -3 .4 -4.5 -.7 -3 -1.3 -3 -2.1 -3.5 -4.6 -1.1 -3 -.6 -4.5 1.1 -7.5 4.3 -9 5.8 -7.6 7.5 -6 7.5 -3.1M45 -3.1l4.5 .3 4.5 2.4 4.5 4.6 3.3 4.8 3 6 1.4 6 -1.1 4.5 -2.1 2 -4.5 .6 -3 -.9 -3 -1.7 -6 -5.4 -4.5 -6.1 -2.6 -6.5 -.1 -4.5 1.1 -3 1.3 -1.5 3.3 -1.6"/><circle r="89.2" fill="none" stroke="#edf5ff" stroke-width="6"/><circle r="80.6" class="hd"/><path class="hd" d="M-14.5 -79.9L-3.2 -92.2Q0 -93.6 3.2 -92.2L14.5 -79.9M-79.2 -15.4L-82.1 -18.9 -83.4 -19.0 -85.3 -18.5 -87.2 -15.4 -86.9 0.9 -88.1 15.0 -85.7 21.1 -82.1 22.3 -77.9 19.3M79.2 -15.4L82.1 -18.9 83.4 -19.0 85.3 -18.5 87.2 -15.4 86.9 0.9 88.1 15.0 85.7 21.1 82.1 22.3 77.9 19.3"/><g class="el"><text x="-25.7" y="-74.8">FP1</text><text x="25.7" y="-74.8">FP2</text><text x="-24.0" y="-59.1">AF3</text><text x="24.0" y="-59.1">AF4</text><text x="-69.2" y="-46.2">F7</text><text x="-35.7" y="-38.5">F3</text><text x="0.0" y="-37.2">FZ</text><text x="35.7" y="-38.5">F4</text><text x="69.2" y="-46.2">F8</text><text x="-62.1" y="-18.7">FC5</text><text x="-21.1" y="-16.2">FC1</text><text x="21.1" y="-16.2">FC2</text><text x="62.1" y="-18.7">FC6</text><text x="-86.8" y="4.4">T7</text><text x="-43.2" y="4.4">C3</text><text x="0.0" y="4.4">CZ</text><text x="43.2" y="4.4">C4</text><text x="86.8" y="4.4">T8</text><text x="-62.0" y="27.1">CP5</text><text x="-21.2" y="25.0">CP1</text><text x="21.2" y="25.0">CP2</text><text x="62.0" y="27.1">CP6</text><text x="-69.2" y="54.6">P7</text><text x="-35.7" y="46.8">P3</text><text x="0.0" y="45.6">PZ</text><text x="35.7" y="46.8">P4</text><text x="69.2" y="54.6">P8</text><text x="-25.7" y="67.4">PO3</text><text x="25.7" y="67.4">PO4</text><text x="-26.1" y="83.7">O1</text><text x="0.0" y="85.5">OZ</text><text x="26.1" y="83.7">O2</text></g><text x="1" y="-104.1" class="tp" text-anchor="middle"><tspan class="tg">β</tspan> @13.2-29.8Hz | C</text><rect x="103.3" y="-95.7" width="9.3" height="193" fill="url(#cbg)" stroke="#444" stroke-width="0.7"/><text x="118.3" y="-79.0" class="cbt">0.017</text><text x="118.3" y="-46.0" class="cbt">0.016</text><text x="118.3" y="-12.8" class="cbt">0.015</text><text x="118.3" y="20.2" class="cbt">0.014</text><text x="118.3" y="53.4" class="cbt">0.013</text><text x="118.3" y="86.4" class="cbt">0.012</text><path d="M112.6 -84.9h-2M112.6 -51.9h-2M112.6 -18.7h-2M112.6 14.3h-2M112.6 47.5h-2M112.6 80.5h-2" stroke="#262626" stroke-width="0.8"/><text transform="translate(183.5 -3.8) rotate(-90)" class="cbl" text-anchor="middle">PSD [<tspan class="mu">μ</tspan>V<tspan class="s2" dy="-6">2</tspan><tspan dy="6">/Hz]</tspan></text></g>
<g transform="translate(1444.1 2091.3)"><g clip-path="url(#dc)"><g filter="url(#bl)" class="fl"><path stroke="#30123b" d="M-4 14h16m-20 4h24m-28 4h36m-40 4h44m-44 4h48m-52 4h56m-60 4h60m-60 4h64m-64 4h64m-60 4h60m-52 4h48m-44 4h36"/>
<path stroke="#351e58" d="M-4 10h16m-20 4h4m16 0h4m-28 4h4m24 0h4m-40 12h4m-8 4h4m56 4h4m-64 12h4m4 4h4m0 4h4m36 0h4m-32 4h16"/>
<path stroke="#392a73" d="M0 6h8m4 4h4m-32 12h4m-8 4h4m-12 12h4m-4 4h4m-4 4h4m4 8h4m52 0h4m-44 8h4m16 0h8"/>
<path stroke="#3d358b" d="M0 -2h8m-12 4h12m-12 4h4m8 0h4m-20 4h4m-8 4h4m24 0h4m0 4h4m0 4h4m0 4h4m-56 4h4m52 0h4m0 4h4m-72 8h4m-4 4h4m68 0h4m-72 4h4m0 4h4m4 4h4m44 0h4m-44 4h4m28 0h4"/>
<path stroke="#4040a2" d="M0 -22h4m-4 4h8m-8 4h8m-8 4h8m-12 4h12m-12 4h4m8 0h4m-4 4h4m-20 4h4m16 0h4m-28 4h4m24 0h4m-36 8h4m-8 4h4m-12 12h4m-8 4h4m68 4h4m-76 8h4m68 0h4m-72 4h4m4 4h4m4 4h4m36 0h4m-32 4h16"/>
<path stroke="#424bb5" d="M0 -30h4m-8 4h12m-12 4h4m4 0h4m-12 4h4m-4 4h4m8 0h4m-16 4h4m8 0h4m-4 4h4m-20 4h4m-4 4h4m16 0h4m-32 12h4m32 0h4m0 4h4m0 4h4m-56 4h4m-8 4h4m64 8h4m-80 4h4m-4 4h4m8 12h4m56 0h4m-56 4h4m4 4h8m16 0h4"/>
<path stroke="#4456c7" d="M-4 -34h12m-12 4h4m4 0h4m0 4h4m-20 4h4m12 0h4m-20 4h4m12 0h4m-20 4h4m-4 4h4m-4 4h4m16 0h4m-4 4h4m-28 8h4m24 0h4m-40 12h4m48 8h4m0 4h4m-72 4h4m-8 16h4m0 4h4m68 0h4m-64 8h4m48 0h4m-48 4h4m28 0h4"/>
<path stroke="#4661d6" d="M-4 -38h8m-12 8h4m12 0h4m-20 4h4m16 8h4m-4 4h4m-4 4h4m-28 8h4m-4 4h4m24 0h4m-36 8h4m32 0h4m-48 12h4m-8 4h4m-12 12h4m4 20h4m48 8h4m-32 4h20"/>
<path stroke="#466be3" d="M4 -38h4m-16 4h4m12 0h4m0 12h4m-28 4h4m-4 4h4m-4 4h4m-4 4h4m24 4h4m-36 8h4m32 0h4m-44 8h4m40 0h4m0 4h4m-64 12h4m68 4h4m-84 8h4m80 0h4m-88 4h4m80 0h4m-4 4h4m-84 4h4m0 4h4m68 0h4m-68 4h4m56 0h4m-56 4h4m40 0h4m-40 4h4m20 0h4"/>
<path stroke="#4776ee" d="M-4 -42h8m-12 4h4m-8 12h4m20 0h4m-28 4h4m24 12h4m-4 4h4m-36 8h4m-12 16h4m52 4h4m0 4h4m-76 8h4m-8 16h4m80 4h4m-76 8h4m4 4h4m48 0h4m-48 4h4m28 0h4"/>
<path stroke="#4680f6" d="M4 -42h4m0 4h4m-24 8h4m20 0h4m0 12h4m-4 4h4m-36 8h4m-4 4h4m32 4h4m-44 8h4m40 0h4m-56 12h4m-8 4h4m68 4h4m-84 8h4m80 0h4m-88 16h4m0 4h4m72 4h4m-68 4h4m4 4h4m36 0h4m-32 4h16"/>
<path stroke="#458afc" d="M0 -46h4m-12 4h4m-8 8h4m20 0h4m0 12h4m-36 4h4m-4 4h4m-4 4h4m32 8h4m-44 8h4m-8 8h4m48 0h4m-68 16h4m-12 16h4m84 12h4m-80 4h4m64 4h4m-12 4h4m-40 4h4m16 0h8"/>
<path stroke="#4294ff" d="M-4 -46h4m4 0h4m0 4h4m-24 4h4m-8 12h4m28 0h4m-36 4h4m32 12h4m-4 4h4m-44 8h4m40 4h4m-56 12h4m56 0h4m-76 16h4m80 0h4m-92 8h4m-4 8h4m0 8h4m0 4h4m4 4h4m4 4h4m48 0h4m-48 4h4m28 0h4"/>
<path stroke="#3d9efe" d="M12 -38h4m-32 8h4m28 0h4m0 12h4m-4 4h4m-44 12h4m40 4h4m-52 8h4m48 0h4m-64 12h4m64 0h4m-84 16h4m88 4h4m-4 4h4m-4 4h4m-96 4h4m88 0h4m-8 8h4m-80 4h4m68 0h4m-68 4h4m4 4h4m36 0h4m-32 4h16"/>
<path stroke="#37a8fa" d="M0 -50h4m-12 4h4m12 0h4m0 4h4m0 8h4m0 12h4m-44 4h4m-4 4h4m-4 4h4m-4 4h4m-20 32h4m72 0h4m-84 4h4m-8 28h4m0 4h4m72 8h4m-48 8h4m16 0h4"/>
<path stroke="#2fb2f4" d="M-4 -50h4m4 0h4m-20 8h4m-8 8h4m32 8h4m-44 4h4m40 16h4m-4 4h4m-52 8h4m48 0h4m-60 8h4m56 0h4m8 16h4m-92 4h4m88 4h4m-100 4h4m-4 4h4m-4 4h4m92 8h4m-88 8h4m4 4h4m4 4h4m44 0h4m-44 4h4m24 0h4m-20 4h4"/>
<path stroke="#27bee9" d="M-16 -38h4m28 0h4m0 8h4m-44 4h4m40 16h4m-52 12h4m-12 16h4m64 0h4m-88 36h4m0 8h4m88 0h4m-8 4h4m-80 4h4m68 0h4m-68 4h4m52 0h4m-52 4h4m32 0h4m-32 4h8m4 0h8"/>
<path stroke="#20c7df" d="M0 -54h8m-16 4h4m12 0h4m-24 4h4m20 0h4m-36 16h4m40 12h4m-4 4h4m-52 12h4m48 4h4m-60 8h4m56 0h4m-72 12h4m72 0h4m-84 4h4m84 8h4m-100 4h4m96 8h4m-4 4h4m-104 8h4m4 8h4m72 8h4m-60 4h4m40 0h4m-40 4h4m20 0h4"/>
<path stroke="#1bd0d5" d="M8 -90h8m-20 36h4m-16 12h4m28 0h4m0 8h4m0 12h4m-52 4h4m-4 4h4m-4 4h4m-4 4h4m-12 20h4m72 12h4m-92 4h4m92 12h4m-108 4h4m-4 4h4m100 4h4m-4 4h4m-100 8h4m88 0h4m-88 4h4m76 0h4m-76 4h4m52 4h4m-16 4h4m-20 4h8"/>
<path stroke="#18d7ca" d="M-4 -90h12m8 0h12m-28 4h24m-24 28h8m-16 4h4m12 0h4m0 4h4m4 12h4m-44 4h4m40 8h4m-52 4h4m48 20h4m-60 8h4m56 0h4m0 8h4m-76 4h4m-16 16h4m-8 8h4m-4 12h4m0 8h4m4 8h4m4 4h4m68 0h4m-68 4h4m52 0h4m-52 4h4m32 0h4m-32 4h8m8 0h4"/>
<path stroke="#18dec0" d="M-16 -90h12m-4 4h8m24 0h4m-28 4h24m-28 24h4m-12 8h4m24 4h4m-40 8h4m40 8h4m-52 4h4m48 16h4m-4 4h4m-60 8h4m64 16h4m-84 4h4m84 8h4m-104 8h4m100 0h4m-108 20h4m100 4h4m-104 4h4m92 4h4m-88 4h4m4 4h4m60 0h4m-60 4h4m40 0h4m-40 4h4m20 0h8"/>
<path stroke="#1ae4b6" d="M-20 -90h4m0 4h8m36 0h4m-40 4h8m24 0h4m-32 4h28m-24 4h12m-16 12h12m-16 4h4m12 0h4m0 4h4m-32 8h4m32 4h4m-48 12h4m48 16h4m-60 12h4m56 4h4m-68 8h4m64 0h4m4 12h4m-92 4h4m-8 4h4m-12 20h4m108 0h4m-112 12h4m100 4h4m-100 4h4m0 4h4m80 0h4m-8 4h4m-68 4h4m48 0h4m-48 4h4m32 0h4m-28 4h12"/>
<path stroke="#20eaac" d="M-24 -90h4m0 4h4m48 0h4m-48 4h4m36 0h4m-40 4h4m28 0h4m-32 4h4m12 0h8m-24 4h16m-16 4h16m-4 4h4m0 4h4m-28 4h4m24 4h4m-40 8h4m40 8h4m0 16h4m-60 8h4m-4 4h4m-12 20h4m-20 20h4m100 0h4m-112 12h4m108 0h4m-116 8h4m108 0h4m-116 4h4m108 0h4m-112 8h4m0 4h4m12 8h4m60 4h4m-56 4h4m40 0h4m-36 4h4m12 0h8"/>
<path stroke="#2aefa1" d="M-28 -90h4m0 4h4m0 4h8m44 0h4m-48 4h4m36 0h4m-40 4h4m24 0h4m-32 4h4m16 0h4m-24 4h4m16 0h4m-24 4h4m16 0h4m0 8h4m-36 4h4m32 4h4m0 8h4m-52 4h4m48 12h4m-60 4h4m-4 4h4m56 12h4m-68 8h4m68 8h4m-84 4h4m84 8h4m-108 16h4m108 0h4m-116 20h4m108 0h4m-8 8h4m-100 4h4m88 0h4m-88 4h4m76 0h4m-76 4h4m60 0h4m-12 4h4m-44 4h4m24 0h4"/>
<path stroke="#35f394" d="M-28 -86h4m0 4h4m56 0h4m-56 4h4m44 0h4m-48 4h4m32 0h4m-12 4h4m-32 12h4m-12 12h4m-8 8h4m-8 12h4m52 0h4m-60 4h4m56 16h4m0 12h4m4 12h4m-92 4h4m-8 4h4m-12 12h4m-8 12h4m112 16h4m-112 4h4m0 4h4m4 4h4m4 4h4m68 0h4m-68 4h4m52 0h4m-52 4h4m32 0h4"/>
<path stroke="#43f787" d="M-32 -86h4m0 4h4m64 0h4m-64 4h4m0 4h4m40 0h4m-44 4h4m28 0h4m-36 4h4m24 0h4m-32 4h4m24 0h4m-4 4h4m-36 4h4m32 4h4m0 8h4m0 12h4m0 20h4m-68 12h4m-8 8h4m72 0h4m-96 20h4m100 0h4m0 8h4m-120 8h4m116 4h4m-124 4h4m116 0h4m-124 4h4m0 8h4m104 8h4m-100 4h4m88 0h4m-88 4h4m4 4h4m4 4h4m40 0h4"/>
<path stroke="#52fa7a" d="M-36 -86h4m0 4h4m0 4h8m56 0h4m-8 4h4m-12 4h4m-8 16h4m0 8h4m-52 4h4m48 8h4m-60 4h4m56 12h4m-4 4h4m-68 12h4m64 4h4m-80 12h4m84 8h4m-108 12h4m-8 8h4m116 4h4m-4 12h4m-124 4h4m116 0h4m-120 8h4m108 0h4m-112 4h4m0 4h4m4 4h4m4 4h4m4 4h4"/>
<path stroke="#61fc6c" d="M-36 -82h4m72 4h4m-64 4h4m52 0h4m-56 4h4m40 0h4m-48 4h4m32 0h4m-4 4h4m-40 4h4m32 0h4m-44 8h4m40 0h4m0 12h4m-60 4h4m56 12h4m-68 8h4m-4 4h4m-4 4h4m64 4h4m-76 8h4m76 8h4m-92 4h4m-8 4h4m-8 4h4m100 0h4m0 8h4m-120 4h4m116 4h4m-128 8h4m-4 4h4m-4 4h4m0 8h4m116 0h4m-108 16h4m4 4h4m4 4h4"/>
<path stroke="#71fe5f" d="M-40 -82h4m4 4h4m72 0h4m-72 4h4m60 0h4m-64 4h4m48 0h4m-12 4h4m-44 4h4m36 8h4m-52 8h4m48 4h4m-60 4h4m56 12h4m-68 4h4m-4 4h4m68 24h4m4 12h4m-108 12h4m-12 16h4m-4 16h4m0 8h4m116 0h4m-120 4h4m0 4h4"/>
<path stroke="#80ff53" d="M-44 -82h4m4 4h4m80 0h4m-80 4h4m68 0h4m-12 4h4m-12 4h4m-8 4h4m-4 4h4m-48 4h4m44 8h4m0 16h4m-68 4h4m64 20h4m-76 8h4m-8 8h4m80 0h4m8 20h4m-120 4h4m116 4h4m-128 4h4m124 8h4m-4 4h4m-4 4h4m-4 4h4m-132 4h4"/>
<path stroke="#8fff49" d="M-40 -78h4m4 4h4m76 0h4m-76 4h4m60 0h4m-64 4h4m48 0h4m-8 4h4m-52 4h4m-8 8h4m48 0h4m-60 8h4m56 8h4m-68 4h4m64 16h4m-4 4h4m-76 8h4m72 4h4m-88 12h4m-8 4h4m-8 4h4m100 0h4m4 12h4m-128 4h4m-8 8h4m128 0h4m-136 4h4m-4 4h4m-4 4h4m-4 4h4m128 4h4m-132 4h4"/>
<path stroke="#9cfe40" d="M-44 -78h4m4 4h4m84 0h4m-12 4h4m-12 4h4m-60 4h4m48 0h4m-8 4h4m-4 4h4m0 16h4m-68 4h4m64 16h4m-76 12h4m80 20h4m-108 12h4m108 0h4m-120 4h4m-8 4h4m-8 8h4m128 0h4m-136 24h4"/>
<path stroke="#a9fb39" d="M-52 -78h8m4 4h4m8 4h4m72 0h8m-80 4h4m60 0h4m-8 4h4m-8 4h4m-60 4h4m52 0h4m-4 4h4m-64 4h4m56 0h4m-4 4h4m-68 4h4m64 12h4m-4 4h4m-76 4h4m-4 4h4m-4 4h4m72 8h4m-84 8h4m80 0h4m4 12h4m-124 20h4m128 0h4m-140 8h4m-4 4h4m136 0h4m-144 4h4m136 0h4m-144 4h4m136 0h4m-144 4h4m136 0h4"/>
<path stroke="#b4f836" d="M-44 -74h4m8 4h4m84 0h4m-16 4h8m-76 4h4m60 0h4m-68 4h4m56 0h4m-68 8h4m60 20h4m-76 4h4m-4 4h4m72 16h4m-88 16h4m88 0h4m-100 4h4m-8 4h4m-8 4h4m-8 4h4m-8 4h4m120 0h4m-136 12h4m136 4h4"/>
<path stroke="#bef434" d="M-56 -74h12m4 4h8m92 0h4m-92 4h4m76 0h8m-16 4h4m-8 4h4m-8 4h4m-4 4h4m-4 4h4m-72 4h4m64 0h4m-4 4h4m-4 4h4m-76 4h4m72 20h4m-84 12h4m80 0h4m4 12h4m0 8h4m-128 12h4m128 0h4m-140 4h4m136 4h4m-148 4h4m-4 4h4m-4 4h4m144 0h4"/>
<path stroke="#c8ef34" d="M-48 -70h8m8 4h4m88 0h8m-96 4h4m72 0h8m-12 4h4m-76 4h4m64 0h4m-76 8h4m-8 12h4m72 16h4m-4 4h4m-84 12h4m80 0h4m-92 8h4m88 0h4m4 12h4m-124 8h4m120 0h4m-132 4h4m128 0h4m-140 4h4m136 4h4m-148 4h4m144 4h4m-4 4h4"/>
<path stroke="#d2e935" d="M-64 -70h16m8 4h8m88 4h8m-92 4h4m72 0h4m-8 4h4m-80 4h4m68 0h4m-80 12h4m72 12h4m-4 4h4m-84 8h4m-4 4h4m-4 4h4m-12 16h4m96 0h4m-108 4h4m-8 4h4m-8 4h4m124 12h4m-148 4h4m-8 4h4m148 0h4m-156 4h4m-4 4h4"/>
<path stroke="#dbe236" d="M-68 -66h28m4 4h8m92 0h8m-104 4h4m80 0h8m-92 4h4m76 0h4m-8 4h4m-84 4h4m72 0h4m-80 4h4m72 0h4m-4 4h4m-4 4h4m-4 4h4m-84 4h4m-4 4h4m-4 4h4m80 12h4m0 8h4m4 12h4m0 8h4m-132 4h4m128 0h4m-140 4h4m136 0h4m-148 4h4m-8 4h4m148 0h4m0 8h4m-4 4h4"/>
<path stroke="#e3db38" d="M-72 -62h36m0 4h4m92 0h12m-108 4h4m84 0h4m-92 4h4m76 4h4m-88 12h4m-4 4h4m80 20h4m-92 12h4m92 4h4m-112 8h4m-8 4h4m116 0h4m-128 4h4m-12 4h4m-8 4h4m-8 4h4m148 0h4m-160 4h4m156 0h4m-164 4h4m156 0h4"/>
<path stroke="#ebd339" d="M-72 -58h16m12 0h8m-4 4h4m92 0h16m-24 4h8m-96 4h4m-4 4h4m80 0h4m-88 4h4m80 20h4m-4 4h4m-92 12h4m88 0h4m-100 8h4m-8 4h4m104 0h4m0 4h4m-128 4h4m-8 4h4m128 0h4m-144 4h4m140 0h4m-152 4h4m148 0h4m-160 4h4m156 0h4m0 8h4"/>
<path stroke="#f1cb3a" d="M-56 -58h12m-32 4h16m16 0h4m112 0h4m-116 4h4m92 0h8m-16 4h4m-8 8h4m-4 4h4m-4 4h4m-4 4h4m-4 4h4m-92 4h4m-4 4h4m-4 4h4m-4 4h4m88 0h4m0 8h4m0 4h4m-120 8h4m-12 4h4m128 0h4m-144 4h8m136 0h4m-156 4h8m148 0h4m-164 4h8m156 0h4m-168 4h4m164 0h4m-4 4h4"/>
<path stroke="#f6c33a" d="M-60 -54h16m-36 4h20m12 0h8m104 0h16m-124 4h4m92 0h4m-100 4h4m88 0h4m-96 4h4m-4 4h4m-4 4h4m-4 4h4m-4 4h4m88 12h4m0 8h4m32 0h4m-140 4h4m128 0h8m-144 4h4m132 0h8m-148 4h4m112 0h4m16 0h12m-156 4h4m124 0h4m12 0h12m-168 4h8m136 0h24m-184 4h16m148 0h16m-180 4h8m160 0h12m-8 4h8m-4 4h4"/>
<path stroke="#faba39" d="M-60 -50h12m-32 4h16m16 0h4m100 0h20m-24 4h4m-8 4h4m-4 24h4m36 8h4m-140 4h4m128 0h4m-180 4h4m144 0h4m20 0h4m-176 4h8m144 0h4m12 0h8m-176 4h8m24 0h4m120 0h16m-172 4h28m132 0h12m-172 4h16m164 4h4m-4 4h4"/>
<path stroke="#fcb136" d="M-64 -46h16m124 0h4m-164 4h12m20 0h8m100 0h4m-108 4h4m96 0h4m-104 4h4m92 0h4m-100 4h4m92 0h4m-4 4h4m-4 4h4m-4 4h4m-100 8h4m132 0h4m-140 4h4m96 0h4m28 0h4m-180 4h4m144 0h4m20 0h4m-172 4h4m32 0h4m108 0h4m12 0h4m-164 4h4m24 0h4m116 0h12m-160 4h12m8 0h4"/>
<path stroke="#fea732" d="M-72 -42h20m112 0h24m-168 4h8m24 0h4m0 12h4m-4 4h4m-4 4h4m-4 4h4m132 0h4m-184 4h4m140 0h4m28 0h4m-180 4h8m164 0h4m-172 4h8m28 0h4m124 0h4m-164 4h4m144 0h12m-156 4h8m12 0h4m-16 4h8"/>
<path stroke="#fe9b2d" d="M-76 -38h8m12 0h4m108 0h4m16 0h8m-172 4h8m28 0h4m100 0h4m28 0h4m-176 4h4m32 0h4m-44 4h4m176 0h4m-184 4h4m176 0h4m-184 4h4m176 0h4m-184 4h4m140 0h4m28 0h4m-176 4h4m164 0h4m-168 4h4m28 0h4m104 0h4m16 0h4m-160 4h4m136 0h16m-156 4h8m16 0h4m-20 4h12"/>
<path stroke="#fe9029" d="M-68 -38h12m116 0h16m-156 4h8m16 0h4m108 0h4m20 0h4m-168 4h4m132 0h4m28 0h4m-176 4h8m28 0h4m100 0h4m28 0h4m-176 4h4m32 0h4m100 0h4m28 0h4m-176 4h4m32 0h4m100 0h4m28 0h4m-176 4h4m32 0h4m128 0h4m-168 4h4m28 0h4m104 0h4m16 0h4m-160 4h4m136 0h4m8 0h4m-152 4h4m16 0h4m-20 4h16"/>
<path stroke="#fc8423" d="M-72 -34h16m116 0h4m4 0h12m-160 4h8m16 0h4m108 0h4m16 0h8m-164 4h4m156 0h4m-168 4h4m160 0h4m-168 4h4m160 0h4m-168 4h4m156 0h4m-160 4h4m148 0h4m-152 4h4m16 0h4m116 0h8m-144 4h4m8 0h4"/>
<path stroke="#f9751d" d="M64 -34h4m-140 4h8m4 0h4m128 0h4m-152 4h4m16 0h4m108 0h4m16 0h4m-160 4h4m20 0h4m128 0h4m-160 4h4m20 0h4m108 0h4m16 0h4m-160 4h4m20 0h4m108 0h4m12 0h4m-152 4h4m16 0h4m112 0h12m-144 4h4m8 0h4m-12 4h8"/>
<path stroke="#f56918" d="M-64 -30h4m120 0h12m-144 4h4m8 0h4m128 0h4m-152 4h4m128 0h4m12 0h4m-152 4h4m144 0h4m-152 4h8m8 0h4m116 0h12m-144 4h16m-12 4h8"/>
<path stroke="#f15d13" d="M-68 -26h8m120 0h12m-144 4h16m116 0h4m4 0h4m-144 4h16m116 0h12m-140 4h8"/>
<path stroke="#ec530f" d="M64 -22h4"/></g></g><path class="ct" d="M0 11.7l-4.5 3.2 -4.5 4.6 -6.2 7.5 -5.2 7.5 -2.2 4.5 -.6 3 .4 3 1.7 3 5 4.5 7.1 4.2 7.5 2.9 6 1.3 7.5 .2 9 -1.1 7.5 -2.1 6 -3.4 2.1 -2 1.9 -3 1.1 -4.5 -.8 -4.5 -3.6 -6 -8.2 -8.4 -15 -12.6 -6 -2.8 -3 0 -3 1M0 -42.4l-3 1.7 -1.5 1.7 -2.5 4.5 -1.6 4.5 -1.9 9 -1.7 18 -3.4 10.5 -6.2 10.5 -14.8 19.5 -2 4.5 -.4 4.5 1.4 4.5 2 3 4.1 3.8 5.7 3.7 11.4 6 8.4 3.5 6 1.5 7.5 .2 7.5 -1.1 10.5 -2.8 7.5 -2.7 4.5 -2.4 4.3 -3.7 3 -4.5 1.6 -4.5 .4 -6 -1.4 -6 -2.9 -6 -16.3 -21 -5.2 -9 -2.5 -7.5 -3.1 -18 -4.7 -12 -1.9 -3 -2.8 -3.1 -3 -1.6 -3 -.2M1.5 -54.2l-4.5 1.5 -4.5 3.5 -3.5 4.2 -3.5 6 -3.1 7.5 -2.2 7.5 -1 6 -1.2 15 -2.5 9 -5.5 9.8 -11.3 14.2 -4 6 -2.6 6 -.9 6 .9 6 1.9 4.5 3.4 4.5 5.1 4.3 27 14.1 7.5 2.5 6 .6 6 -.7 7.5 -1.9 18 -6.2 7.5 -3.8 5.1 -4.4 3.9 -5.4 2.4 -6.6 .6 -6 -1 -7.5 -2.8 -7.5 -5.2 -8.8 -10.6 -15.2 -4 -7.5 -2.7 -9 -3.1 -18 -2.4 -7.5 -3.2 -7.5 -4 -6.7 -4.5 -5 -4.5 -2.9 -4.5 -.6M-27.3 -81l9.3 4.8 4.5 3.5 1.6 2.2 1.1 3 0 4.5 -2.1 6 -9.1 16.5 -3.5 9 -2.4 10.5 -1.7 18 -2.8 9 -5.1 8.2 -14.5 17.3 -3.8 6 -2 4.5 -1.5 6 -.2 6 1.1 6 2.6 6M61.5 60.6l.6 -9.6 -.8 -6 -1.3 -4.5 -5.2 -10.5 -14.1 -22.5 -3 -6 -2.4 -7.5 -3.2 -18 -2.6 -10.5 -3.8 -10.5 -6.9 -15 .1 -4.5 2.1 -3.2 16.5 -10.2M-45 -72.8l13.5 4.2 5.7 2.6 2.8 3 .4 1.5 -.5 3 -6.7 15 -3.5 10.5 -1.6 9 -1.7 19.5 -2.1 7.5 -5.1 7.5 -23.1 24 -3.1 4.5 -2.7 6M72 46.9l-2 -6.4 -2.2 -4.5 -7.8 -11.2 -14.8 -24.8 -2.5 -7.5 -2.1 -10.5 -3.3 -24 -.3 -6 .5 -4.6 1.5 -3.7 3 -3.2 4.5 -2.9 7.6 -3.6M-73.5 -45.1l15 -3.1 4.5 -.3 4.5 1 2.9 2.5 1.7 4.5 .6 7.5 0 18 -1.2 10.5 -1.7 4.5 -3.8 4.5 -7.5 5.4 -7.5 3.5 -6 1.2 -6 -.5 -4.5 -2.1 -3.3 -3M85.5 -3.7l-3.5 3.7 -5.5 8.8 -3 1.9 -3 -.1 -6 -3.5 -6 -5.6 -4.5 -6 -3.4 -7.5 -1.7 -7.5 -.4 -7.5 1 -6.7 2.3 -5.3 2.5 -3 4.2 -2.5 4.5 -1.1 9 -.8"/><circle r="89.2" fill="none" stroke="#edf5ff" stroke-width="6"/><circle r="80.6" class="hd"/><path class="hd" d="M-14.5 -79.9L-3.2 -92.2Q0 -93.6 3.2 -92.2L14.5 -79.9M-79.2 -15.4L-82.1 -18.9 -83.4 -19.0 -85.3 -18.5 -87.2 -15.4 -86.9 0.9 -88.1 15.0 -85.7 21.1 -82.1 22.3 -77.9 19.3M79.2 -15.4L82.1 -18.9 83.4 -19.0 85.3 -18.5 87.2 -15.4 86.9 0.9 88.1 15.0 85.7 21.1 82.1 22.3 77.9 19.3"/><g class="el"><text x="-25.7" y="-74.8">FP1</text><text x="25.7" y="-74.8">FP2</text><text x="-24.0" y="-59.1">AF3</text><text x="24.0" y="-59.1">AF4</text><text x="-69.2" y="-46.2">F7</text><text x="-35.7" y="-38.5">F3</text><text x="0.0" y="-37.2">FZ</text><text x="35.7" y="-38.5">F4</text><text x="69.2" y="-46.2">F8</text><text x="-62.1" y="-18.7">FC5</text><text x="-21.1" y="-16.2">FC1</text><text x="21.1" y="-16.2">FC2</text><text x="62.1" y="-18.7">FC6</text><text x="-86.8" y="4.4">T7</text><text x="-43.2" y="4.4">C3</text><text x="0.0" y="4.4">CZ</text><text x="43.2" y="4.4">C4</text><text x="86.8" y="4.4">T8</text><text x="-62.0" y="27.1">CP5</text><text x="-21.2" y="25.0">CP1</text><text x="21.2" y="25.0">CP2</text><text x="62.0" y="27.1">CP6</text><text x="-69.2" y="54.6">P7</text><text x="-35.7" y="46.8">P3</text><text x="0.0" y="45.6">PZ</text><text x="35.7" y="46.8">P4</text><text x="69.2" y="54.6">P8</text><text x="-25.7" y="67.4">PO3</text><text x="25.7" y="67.4">PO4</text><text x="-26.1" y="83.7">O1</text><text x="0.0" y="85.5">OZ</text><text x="26.1" y="83.7">O2</text></g><text x="1" y="-104.1" class="tp" text-anchor="middle"><tspan class="tg">γ</tspan> @29.8-43.9Hz | C</text><rect x="103.3" y="-95.7" width="9.3" height="193" fill="url(#cbg)" stroke="#444" stroke-width="0.7"/><text x="118.3" y="-76.9" class="cbt">8</text><text x="118.3" y="-39.2" class="cbt">7</text><text x="118.3" y="-1.0" class="cbt">6</text><text x="118.3" y="36.6" class="cbt">5</text><text x="118.3" y="74.2" class="cbt">4</text><path d="M112.6 -82.8h-2M112.6 -45.1h-2M112.6 -6.9h-2M112.6 30.7h-2M112.6 68.3h-2" stroke="#262626" stroke-width="0.8"/><text transform="translate(151.2 -3.8) rotate(-90)" class="cbl" text-anchor="middle">PSD [<tspan class="mu">μ</tspan>V<tspan class="s2" dy="-6">2</tspan><tspan dy="6">/Hz]</tspan></text><text x="114.3" y="-102.4" class="cbt" style="fill:#555">×</text><text x="125.6" y="-102.4" class="cbt">10<tspan style="font-size:13px" dy="-7.8">-3</tspan></text></g>
<g transform="translate(187.3 2350.1)"><g clip-path="url(#dc)"><g filter="url(#bl)" class="fl"><path stroke="#30123b" d="M52 14h16m-20 4h28m-28 4h32m-28 4h32m-32 4h36m-36 4h36m-36 4h32m-160 4h24m108 0h28m-164 4h36m100 0h24m-160 4h40m100 0h20m-156 4h44m92 0h16m-148 4h44m88 0h12m-144 4h48m84 0h12m-140 4h44m88 0h4m-132 4h36m-28 4h20m-16 4h12"/>
<path stroke="#351e58" d="M52 10h8m-12 4h4m16 0h4m-24 12h4m32 0h4m-40 4h4m-124 8h16m-28 4h8m24 0h4m100 0h4m-100 4h4m0 4h4m92 0h4m-92 4h4m84 0h4m-88 4h4m80 0h4m0 8h4m-4 4h4m-100 4h4m-8 4h4"/>
<path stroke="#392a73" d="M48 10h4m8 0h4m12 8h4m0 4h4m-164 16h8m16 0h8m0 4h8m0 4h4m88 0h4m-92 4h4m88 12h4m-4 4h4m-88 4h4m80 0h4m-92 4h4m-16 8h4"/>
<path stroke="#3d358b" d="M64 10h4m-24 4h4m24 0h4m-32 4h4m40 8h4m-164 8h16m104 0h4m-136 4h4m32 0h4m8 8h4m0 4h4m80 0h4m-84 4h4m76 0h4m-4 4h4m-80 4h4m72 0h4m-80 4h4m72 0h4m-4 4h4m-4 4h4m-92 4h4m-8 4h4"/>
<path stroke="#4040a2" d="M48 6h8m-12 4h4m32 8h4m-40 4h4m36 0h4m-44 4h4m-128 8h8m16 0h8m4 4h4m88 0h4m-92 4h4m12 16h4m-4 12h4m-8 4h4m-8 4h4m76 0h4"/>
<path stroke="#424bb5" d="M44 6h4m8 0h4m8 4h4m4 4h4m-152 16h16m100 0h4m-136 4h8m32 0h8m0 4h4m0 4h4m80 0h4m-84 4h4m76 0h4m-80 4h4m72 12h4m-4 4h4m-4 4h4m-4 4h4m-88 8h4"/>
<path stroke="#4456c7" d="M44 2h8m8 4h4m20 12h4m0 4h4m-172 8h8m16 0h12m4 4h8m-4 4h4m0 4h4m76 8h4m-76 4h4m68 0h4m-4 4h4m-8 12h4m-72 4h4m64 0h4m-76 4h4m68 0h4m-80 4h4m68 0h4m-80 4h4"/>
<path stroke="#4661d6" d="M52 2h4m-16 4h4m20 0h4m-28 4h4m28 0h4m-36 4h4m36 0h4m-44 4h4m-112 8h4m-24 4h8m36 0h12m0 4h4m72 0h4m-80 4h4m0 8h4m4 16h4m-4 4h4m60 0h4m-68 4h4m56 4h4m-4 4h4"/>
<path stroke="#466be3" d="M40 2h4m44 16h4m-52 4h4m-124 4h12m4 0h16m16 4h4m0 8h4m68 0h4m-76 4h4m68 0h4m-72 8h4m0 8h4m60 0h4m-4 4h4m-8 8h4m-68 8h4m56 0h4m-68 4h4m60 0h4m-72 4h4m60 0h4"/>
<path stroke="#4776ee" d="M44 -2h4m8 4h4m8 4h4m4 4h4m4 4h4m-176 12h8m32 0h20m68 0h4m-72 4h4m-4 4h4m0 12h4m64 0h4m-4 4h4m-4 4h4m-8 12h4m-64 8h4m52 0h4m-8 4h4m-4 4h4"/>
<path stroke="#4680f6" d="M40 -2h4m4 0h4m8 4h4m-28 4h4m-4 4h4m-116 12h16m-32 4h4m60 0h4m64 4h4m-68 12h4m0 12h4m56 8h4m-60 4h4m-4 4h4m48 0h4m-8 4h4m-56 4h4m-8 4h4m48 0h4m-60 4h4m52 0h4"/>
<path stroke="#458afc" d="M52 -2h4m-20 4h4m32 4h4m4 4h4m-48 4h4m48 0h4m-56 4h4m-128 4h12m16 0h12m8 0h12m4 8h4m-4 4h4m60 0h4m-68 4h4m0 12h4m56 8h4m-60 4h4m48 4h4m-8 4h4m-52 4h4m40 4h4m-52 4h4m40 0h4m-52 4h4m44 0h4m-56 4h4m48 0h4"/>
<path stroke="#4294ff" d="M36 -2h4m24 4h4m-160 20h4m40 0h8m12 0h4m60 0h4m-64 4h4m60 12h4m-4 12h4m-4 4h4m-60 4h4m48 4h4m-12 12h4m-48 4h4m36 0h4m-48 8h4m36 0h4m-48 4h4m40 0h4"/>
<path stroke="#3d9efe" d="M40 -6h8m8 4h4m16 8h4m4 4h4m-172 8h24m36 4h4m56 4h4m0 16h4m-64 4h4m56 0h4m-8 12h4m-8 8h4m-48 4h4m36 0h4m-8 4h4m-44 8h4m32 0h4m-44 8h4m32 0h4"/>
<path stroke="#37a8fa" d="M36 -6h4m8 0h4m16 8h4m-164 16h8m24 0h8m88 12h4m-60 12h4m0 12h4m44 8h4m-48 4h4m36 0h4m-8 4h4m-40 4h4m-4 4h4m28 0h4m-8 4h4m-36 4h4m28 0h4m-36 4h4"/>
<path stroke="#2fb2f4" d="M60 -2h4m-32 4h4m-4 4h4m44 0h4m-52 4h4m52 0h4m-144 8h28m4 8h4m-4 4h4m-4 4h4m52 0h4m-60 4h4m0 12h4m48 4h4m-52 8h4m28 12h4m-8 4h4m-32 4h4m-4 4h4m20 0h4m-28 4h4m20 0h4"/>
<path stroke="#27bee9" d="M40 -10h8m4 4h4m-24 4h4m36 4h4m-164 12h28m92 0h4m-4 4h4m0 20h4m-4 12h4m-52 8h4m40 0h4m-8 4h4m-8 4h4m-36 4h4m24 0h4m-32 4h4m20 0h4m-28 4h4m16 0h4m-24 4h4m16 0h4m-24 4h4m12 0h4m-20 4h4m12 0h4"/>
<path stroke="#20c7df" d="M36 -10h4m-8 4h4m28 4h4m16 8h4m-180 8h4m28 0h4m32 4h4m0 4h4m48 0h4m0 20h4m-56 4h4m48 0h4m-8 8h4m-44 12h4m0 12h4m-4 4h4m8 0h4m-16 4h12m-12 4h12"/>
<path stroke="#1bd0d5" d="M32 -10h4m12 0h4m4 4h4m16 8h4m-164 8h12m16 4h12m8 0h4m64 12h4m-52 16h4m0 12h4m36 4h4m-40 4h4m28 0h4m-8 4h4m-28 4h4m16 0h4m-24 4h4m8 0h8m-16 4h12m-12 4h8"/>
<path stroke="#18d7ca" d="M36 -14h8m24 12h4m8 4h4m4 4h4m-184 4h8m12 0h8m20 4h8m4 0h4m60 16h4m-52 4h4m-4 4h4m44 12h4m-40 16h4m16 0h4m-20 4h4m8 0h4m-16 4h8"/>
<path stroke="#18dec0" d="M36 -18h4m-8 4h4m8 0h4m4 4h4m4 4h4m-36 4h4m-4 4h4m-4 4h4m-96 4h8m84 0h4m-60 4h4m4 4h4m0 8h4m-4 4h4m44 4h4m-4 4h4m-4 4h4m-4 4h4m-48 4h4m36 4h4m-40 4h4m28 0h4m-8 4h4m-20 8h8"/>
<path stroke="#1ae4b6" d="M32 -18h4m4 0h4m-16 8h4m-4 4h4m40 4h4m8 4h4m-180 4h20m16 4h4m80 4h4m-4 4h4m-36 44h4m0 4h16"/>
<path stroke="#20eaac" d="M32 -26h8m-8 4h8m-12 4h4m12 0h4m-20 4h4m16 0h4m12 8h4m8 4h4m8 4h4m-164 4h8m12 4h8m20 4h4m4 8h4m40 0h4m-4 4h4m-44 20h4m36 4h4m-40 4h4m28 0h4m-32 4h4m20 0h4m-24 4h4m12 0h4"/>
<path stroke="#2aefa1" d="M32 -34h8m-8 4h8m-12 4h4m-4 4h4m8 0h4m12 12h4m-144 12h4m16 4h8m12 4h16m56 20h4m-44 12h4m36 4h4m-28 16h12"/>
<path stroke="#35f394" d="M32 -38h8m-12 8h4m8 0h4m-4 4h4m8 12h4m12 8h4m8 4h4m-176 4h8m4 0h12m12 4h4m24 4h4m12 24h4m36 0h4m-44 4h4m36 0h4m-4 4h4m-40 8h4m28 0h4m-8 4h4m-24 4h4m12 0h4"/>
<path stroke="#43f787" d="M28 -34h4m8 0h4m-20 8h4m-4 4h4m16 0h4m-24 4h4m20 0h4m-28 4h4m-4 4h4m32 0h4m-40 4h4m44 0h4m-52 4h4m56 0h4m-156 4h8m84 0h4m-80 4h4m72 0h4m-4 4h4m-48 4h4m0 4h4m0 12h4m4 24h4m12 4h4"/>
<path stroke="#52fa7a" d="M32 -42h8m-12 4h4m8 0h4m-20 8h4m16 4h4m-140 24h20m160 0h4m-152 4h4m8 4h8m16 4h4m44 4h4m-4 4h4m-4 4h4m-40 4h4m0 20h4m28 0h4m-8 4h4m-8 4h4m-16 4h8"/>
<path stroke="#61fc6c" d="M40 -42h4m-20 8h4m16 0h4m-4 4h4m0 8h4m4 8h4m4 4h4m8 4h4m-152 4h8m8 4h4m12 4h12m16 16h4m32 4h4m-4 4h4m-4 4h4m-4 4h4m-36 4h4m28 0h4m-32 8h4m0 4h4m8 0h4"/>
<path stroke="#71fe5f" d="M36 -46h4m-12 4h4m-8 4h4m16 0h4m-28 8h4m-4 4h4m-4 4h4m-4 4h4m28 0h4m-36 4h4m-116 8h16m156 0h4m-148 4h4m8 4h4m20 4h4m16 32h4m24 8h4m-8 4h4m-16 4h8"/>
<path stroke="#80ff53" d="M32 -46h4m4 0h4m0 4h4m-28 8h4m24 8h4m-32 16h4m44 0h4m-148 4h12m84 0h4m60 0h4m-148 4h4m8 4h4m24 8h4m0 4h4m4 16h4m-4 4h4m24 8h4"/>
<path stroke="#8fff49" d="M24 -42h4m20 8h4m-4 4h4m8 16h4m-156 4h12m152 0h4m-140 4h4m148 0h4m-148 4h4m72 0h4m-68 4h12m52 0h4m-48 4h4m40 0h4m-4 4h4m-36 8h4m0 8h4m24 12h4m-28 8h4m16 0h4m-20 4h4m8 0h4"/>
<path stroke="#9cfe40" d="M28 -46h4m12 0h4m-28 8h4m24 0h4m-36 8h4m-4 4h4m-4 4h4m32 0h4m-40 4h4m-100 8h16m140 0h4m-140 4h8m0 4h8m12 4h4m48 12h4m-4 4h4m-4 4h4m-4 4h4m-4 4h4m-4 4h4m-28 8h4m4 8h8"/>
<path stroke="#a9fb39" d="M36 -50h8m4 8h4m-36 8h4m36 16h4m-44 4h4m44 0h4m-132 4h8m136 0h8m-140 4h4m4 4h12m4 4h4m16 20h4m0 16h4m16 4h4m-20 4h4m8 0h4"/>
<path stroke="#b4f836" d="M32 -50h4m8 0h4m-24 4h4m20 0h4m-92 4h8m52 0h4m-68 4h12m48 0h4m-64 4h12m-8 4h4m88 0h4m-4 4h4m-148 12h36m124 0h4m-128 4h8m64 0h4m68 0h4m-140 4h8m8 4h4m8 8h4m0 4h4m8 20h4m-4 4h4m16 0h4m-4 4h4m-8 4h4m-12 4h8"/>
<path stroke="#bef434" d="M28 -50h4m16 0h4m-92 4h12m-16 4h4m8 0h4m80 0h4m-104 4h4m12 0h4m80 0h4m-104 4h4m12 0h4m80 0h4m-104 4h8m4 0h8m40 0h4m-64 4h16m44 0h4m-64 4h12m48 0h4m-96 4h40m100 0h4m-120 4h16m112 0h4m-124 4h12m-4 4h8m48 0h4m-48 4h4m0 4h4m8 12h4m24 8h4m-24 4h4m16 0h4m-4 4h4m-8 8h4m-16 4h4m4 0h4"/>
<path stroke="#c8ef34" d="M36 -54h12m-88 4h12m-16 4h4m92 0h4m-104 4h4m16 0h4m40 0h4m-48 4h4m-28 4h4m20 0h4m36 0h4m-68 4h4m20 0h4m-32 4h8m16 0h4m-36 4h16m12 0h8m84 0h4m-152 4h12m40 0h8m44 0h4m-56 4h8m108 0h8m-120 4h4m0 4h4m44 4h4m-4 4h4m-4 4h4m-4 4h4m-4 4h4m-28 4h4m20 0h4m-20 16h4m8 0h4m-16 4h4m0 4h4"/>
<path stroke="#d2e935" d="M-40 -54h8m80 0h4m-96 4h4m12 0h4m76 0h4m-104 4h4m16 0h4m44 0h4m-76 4h4m24 0h4m-32 4h4m24 0h4m32 0h4m-72 4h4m28 0h4m-36 4h4m28 0h4m-44 4h8m28 0h4m80 0h4m-144 4h20m36 0h4m-8 4h8m88 0h4m-100 4h4m40 0h4m68 0h8m-124 4h4m0 4h4m0 4h4m16 24h4m12 4h4m-16 4h4m8 0h4m-12 4h8m-8 4h8"/>
<path stroke="#dbe236" d="M-40 -58h8m-12 4h4m8 0h8m56 0h4m16 0h4m-104 4h4m68 0h4m-80 4h4m24 0h4m76 0h4m-4 4h4m-116 4h4m108 0h4m-52 4h4m44 0h4m-120 4h4m64 0h4m44 0h4m-132 4h8m40 0h4m28 0h4m-104 4h8m60 0h4m28 0h4m56 4h4m-100 4h4m-4 4h4m4 12h4m0 4h4m24 16h4m-16 4h4m0 4h8"/>
<path stroke="#e3db38" d="M-40 -62h8m-12 4h4m8 0h8m60 0h16m-100 4h4m20 0h4m48 0h4m-84 4h4m24 0h4m76 0h4m-80 4h4m32 0h4m-76 4h4m32 0h4m28 0h4m-76 4h4m36 0h4m24 0h4m-72 4h4m36 0h4m-52 4h8m40 0h4m-72 4h16m52 0h4m76 4h4m-88 4h4m28 0h4m60 0h8m-104 4h4m-4 4h4m32 0h4m-40 4h4m8 16h4m0 4h4m0 4h4m12 0h4m-16 4h4m0 4h8"/>
<path stroke="#ebd339" d="M-40 -66h12m-16 4h4m8 0h8m-24 4h4m20 0h4m72 0h4m-108 4h4m104 0h4m-80 4h4m36 0h4m-80 4h4m112 0h4m-124 4h4m40 0h4m20 0h4m48 0h4m-80 4h4m72 0h4m-128 4h4m44 0h4m16 0h4m52 0h4m-140 4h8m52 0h4m16 0h4m-100 4h4m92 0h4m52 0h4m-84 4h4m80 0h4m-88 4h4m96 0h12m-80 12h4m-36 4h4m28 12h4m-4 4h4m-12 8h8"/>
<path stroke="#f1cb3a" d="M-36 -74h8m-12 4h16m-20 4h4m12 0h4m-24 4h4m20 0h4m60 0h16m-108 4h4m28 0h4m48 0h4m20 0h4m-80 4h4m40 0h4m32 0h4m-120 4h4m36 0h4m28 0h4m40 0h4m-124 4h4m40 0h4m24 0h4m-28 4h4m-56 4h4m48 0h4m12 0h4m-80 4h8m52 0h4m8 0h4m-92 4h12m64 0h4m8 0h4m56 0h4m-80 4h4m-4 4h4m16 0h4m60 0h4m-92 8h4m24 0h4m-32 4h4m-4 4h4m28 4h4m-32 4h4m24 0h4m-4 4h4m-16 12h4m4 0h4"/>
<path stroke="#f6c33a" d="M-32 -82h8m-16 4h20m-24 4h8m8 0h8m-28 4h8m16 0h4m-28 4h4m20 0h8m60 0h8m-104 4h4m28 0h4m52 0h4m16 0h4m-116 4h4m36 0h4m72 0h4m-120 4h4m36 0h4m76 0h4m-128 4h4m44 0h4m72 0h4m-80 4h4m16 0h4m52 0h4m-132 4h4m52 0h4m8 0h4m56 0h4m-136 4h4m56 0h12m60 0h4m-148 4h8m64 0h8m-8 4h8m-12 4h4m8 0h4m60 0h4m4 4h20m-108 4h4m16 0h4m0 8h4m-24 16h4m0 4h4m0 4h4m8 0h4m-8 4h4"/>
<path stroke="#faba39" d="M-36 -86h16m-20 4h8m8 0h8m-28 4h4m20 0h4m-32 4h4m24 0h4m-36 4h4m28 0h4m-36 4h4m32 0h4m52 0h4m8 0h8m-116 4h4m36 0h4m44 0h4m24 0h4m-36 4h4m32 0h4m-128 4h4m44 0h4m28 0h4m-32 4h4m16 0h4m-80 4h4m52 0h16m-76 4h4m60 0h8m-76 4h4m-20 4h8m144 0h4m-4 4h4m-76 4h8m68 0h4m-84 4h16m-20 8h4m-4 12h4"/>
<path stroke="#fcb136" d="M-28 -90h12m-4 4h8m-32 4h4m24 0h4m-36 4h4m28 0h4m-40 4h4m32 0h4m-44 4h4m36 0h4m52 0h20m-116 4h4m40 0h4m44 0h4m20 0h4m-76 4h4m72 0h4m-128 4h4m44 0h4m76 0h4m-80 4h4m20 0h4m48 0h4m-136 4h4m56 0h16m56 0h4m-140 4h4m132 0h4m-144 4h4m136 0h4m-156 4h12m140 0h4m-4 4h4m-4 4h4m0 4h20m-104 8h4m8 0h4m0 4h4m-24 4h4m-4 4h4m20 0h4m-4 16h4m-12 4h8"/>
<path stroke="#fea732" d="M-16 -90h8m-4 4h4m-4 4h4m-44 4h4m36 0h4m52 0h8m-108 4h4m40 0h4m44 0h20m-68 4h8m40 0h4m20 0h4m-124 4h4m48 0h4m36 0h4m28 0h4m-128 4h4m48 0h4m32 0h4m36 0h4m-136 4h4m52 0h8m24 0h4m-92 4h4m56 0h8m4 0h8m56 0h4m-144 4h4m136 0h4m-4 4h4m-152 4h4m144 0h4m-4 4h4m-4 4h4m-4 4h12m-92 12h8m-12 4h4m16 12h4m-24 4h4m16 0h4m-4 4h4m-16 4h4"/>
<path stroke="#fe9b2d" d="M-8 -90h8m-8 4h8m32 0h4m-44 4h8m28 0h16m-52 4h8m32 0h12m-52 4h8m32 0h4m-96 4h4m52 0h4m32 0h4m-100 4h4m56 0h4m-64 4h4m56 0h4m0 4h4m16 0h4m-92 4h4m68 0h4m68 4h4m-156 4h8m144 0h4m-164 4h8m152 0h4m-4 4h4m-4 4h12m-4 4h4m-96 16h12m-16 4h4m12 0h4m-20 4h4m-4 4h4m0 8h4m4 4h8"/>
<path stroke="#fe9029" d="M0 -90h28m-28 4h32m-32 4h8m8 0h12m-28 4h4m20 0h8m-32 4h4m24 0h4m-96 4h4m60 0h4m24 0h4m-32 4h4m24 0h4m-100 4h4m64 0h8m16 0h4m-96 4h4m68 0h16m-92 4h4m-8 4h8m-12 4h4m156 4h4m-4 4h4m-80 32h4"/>
<path stroke="#fc8423" d="M8 -82h8m-12 4h20m-20 4h8m8 0h8m-24 4h4m16 0h4m-96 4h4m68 0h4m16 0h4m-100 4h4m76 0h8m-88 4h4m-8 4h4m-8 4h4m68 40h12m-12 12h4m0 4h4m4 0h4"/>
<path stroke="#f9751d" d="M12 -74h8m-12 4h16m-16 4h16m-8 4h8m-32 56h4m4 0h4m-12 4h4m8 0h4m-4 4h4m-8 4h4"/>
<path stroke="#f56918" d="M-4 -6h4"/>
<path stroke="#f15d13" d="M-4 -2h8m-8 4h8"/></g></g><path class="ct" d="M82.5 22.5l-10.3 -7.5 -9.2 -3.9 -4.5 -1 -4.5 0 -3 1.3 -1.5 2 -1 4.6 .5 7.5 1.9 7.5 5.3 16.5 2.6 13.5M-37.5 77.9l10.5 -7.4 3 -4.3 .3 -1.7 -.4 -3 -1.4 -3 -3 -3.7 -4.5 -3.7 -12 -8.2 -7.5 -3.7 -6 -1.4 -6 -.5 -6 .5 -6 1.5M85.4 13.5l-14.7 -7.5 -19.7 -7.5 -6 -.9 -2.7 .9 -1.6 1.5 -1.7 4.5 -.1 7.5 1.5 10.5 4.4 19.5 .5 6 -.3 4.5 -1.4 6 -2.5 6 -9.6 15.8M-22.9 82.5l4.1 -4.5 2.7 -4.5 1.3 -4.5 .1 -4.5 -1.4 -6 -6.9 -16.5 -1.9 -12 -.6 -2.1 -1.5 -1.9 -4.5 -1.3 -15 -.1 -18 -1.9 -9 .3 -9 1.4M85.5 5l-24 -9.5 -16.5 -7.6 -4.5 -.8 -3 .8 -1.5 1.2 -1.5 2 -1.8 4.4 -1.1 9 1.1 13.5 4 22.5 0 4.5 -1.1 4.5 -2.6 5.2 -4.5 5.4 -19.5 17.5 -6 4 -1.5 -.1 -1.2 -2 -3.9 -12 -9 -19.5 -2 -7.5 -1.5 -15 -1.9 -4.5 -2.8 -3 -4.7 -2.3 -4.5 -.9 -18 -.3 -24 -3.4 -13.5 .2M85.9 -3l-21.4 -6.7 -5.1 -2.3 -4.7 -3 -4.8 -4.5 -3 -4.5 -1.7 -4.5 -2.4 -9 -1.7 -3 -1.8 -1.5 -1.8 -.7 -1.5 -.1 -3 1.2 -3 2.8 -3 5.1 -1.8 5.2 -.9 6 1.3 34.5 1.9 22.5 -.5 7.5 -2.6 6 -4.1 4.5 -5.3 3.5 -6 1.6 -4.5 -.8 -3 -1.7 -3 -2.6 -3 -3.8 -2.8 -6.7 -1.8 -13.5 -1.8 -6 -4.1 -6.5 -6 -5.2 -4.5 -2.3 -4.5 -1.4 -16.3 -1.1 -22.7 -6.7 -7.5 -1.1 -9 -.4M85.6 -12l-18.1 -3.5 -4.5 -1.7 -3.5 -2.3 -2.3 -3 -1.8 -4.5 -1.3 -13.5 -1.2 -4.5 -1.9 -3.3 -3 -2.7 -4.5 -1.7 -6 .2 -6 2.1 -6 3.5 -4.1 3.4 -3.8 4.5 -2.4 4.5 -1.4 6 .5 7.5 3.4 13.5 1.2 9 -.5 18 -1.7 13.5 -1.6 4.5 -2 3 -4.1 2.6 -3 .3 -3 -1.2 -1.5 -2 -3.1 -13.2 -2 -4.5 -2.9 -4.5 -10 -11.4 -10.5 -8.9 -4.5 -2.8 -8.2 -3.9 -8.3 -6.9 -3 -1.1 -9 -.7 -24 .6M-39 -46.7l-2.2 1.7 -2.2 3 -1.6 4.5 -.6 4.5 .2 4.5 .8 3 1.1 1.6 3 1.1 4.5 -1.2 4.5 -3.7 2.9 -5.3 .8 -4.5 -.8 -4.5 -2.9 -4 -3 -1.4 -4.5 .7M82.5 -24.4l-9 -1.1 -3 -1.3 -1.7 -1.7 -.9 -4.5 1.6 -13.5 -.5 -5.5M51 -69.2l-3 -.1 -4.5 1.1 -4.5 2.6 -9.2 7.1 -4.3 2.6 -22.5 10.2 -3 .7 -1.5 -.3 -1.5 -.8 -3 -3.5 -5 -8.9 -3 -7.5 -3.5 -13.5 -2.6 -4.5M-49.5 -70.7l-4.5 7.8 -6.6 13.4 -3.9 5.7 -6 4.9 -7.7 2.9M-4.5 -22.9l1.5 0 3 1.3 4.5 4.4 4.3 6.7 2.3 6 .9 6 -.7 6 -2.3 5.2 -3 2.2 -1.5 .2 -3 -.7 -3 -1.6 -4.5 -3.8 -4.9 -6 -3.5 -7.5 -.2 -6 1.7 -4.5 3.9 -5.4 1.5 -1.2 3 -1.3"/><circle r="89.2" fill="none" stroke="#edf5ff" stroke-width="6"/><circle r="80.6" class="hd"/><path class="hd" d="M-14.5 -79.9L-3.2 -92.2Q0 -93.6 3.2 -92.2L14.5 -79.9M-79.2 -15.4L-82.1 -18.9 -83.4 -19.0 -85.3 -18.5 -87.2 -15.4 -86.9 0.9 -88.1 15.0 -85.7 21.1 -82.1 22.3 -77.9 19.3M79.2 -15.4L82.1 -18.9 83.4 -19.0 85.3 -18.5 87.2 -15.4 86.9 0.9 88.1 15.0 85.7 21.1 82.1 22.3 77.9 19.3"/><g class="el"><text x="-25.7" y="-74.8">FP1</text><text x="25.7" y="-74.8">FP2</text><text x="-24.0" y="-59.1">AF3</text><text x="24.0" y="-59.1">AF4</text><text x="-69.2" y="-46.2">F7</text><text x="-35.7" y="-38.5">F3</text><text x="0.0" y="-37.2">FZ</text><text x="35.7" y="-38.5">F4</text><text x="69.2" y="-46.2">F8</text><text x="-62.1" y="-18.7">FC5</text><text x="-21.1" y="-16.2">FC1</text><text x="21.1" y="-16.2">FC2</text><text x="62.1" y="-18.7">FC6</text><text x="-86.8" y="4.4">T7</text><text x="-43.2" y="4.4">C3</text><text x="0.0" y="4.4">CZ</text><text x="43.2" y="4.4">C4</text><text x="86.8" y="4.4">T8</text><text x="-62.0" y="27.1">CP5</text><text x="-21.2" y="25.0">CP1</text><text x="21.2" y="25.0">CP2</text><text x="62.0" y="27.1">CP6</text><text x="-69.2" y="54.6">P7</text><text x="-35.7" y="46.8">P3</text><text x="0.0" y="45.6">PZ</text><text x="35.7" y="46.8">P4</text><text x="69.2" y="54.6">P8</text><text x="-25.7" y="67.4">PO3</text><text x="25.7" y="67.4">PO4</text><text x="-26.1" y="83.7">O1</text><text x="0.0" y="85.5">OZ</text><text x="26.1" y="83.7">O2</text></g><text x="1" y="-104.1" class="tp" text-anchor="middle"><tspan class="tg">δ</tspan> @0.5-3.9Hz | POFF</text><rect x="103.3" y="-95.7" width="9.3" height="193" fill="url(#cbg)" stroke="#444" stroke-width="0.7"/><text x="118.3" y="-66.8" class="cbt">0.1</text><text x="118.3" y="-36.7" class="cbt">0.095</text><text x="118.3" y="-7.2" class="cbt">0.09</text><text x="118.3" y="22.9" class="cbt">0.085</text><text x="118.3" y="52.6" class="cbt">0.08</text><text x="118.3" y="82.5" class="cbt">0.075</text><path d="M112.6 -72.7h-2M112.6 -42.6h-2M112.6 -13.1h-2M112.6 17.0h-2M112.6 46.7h-2M112.6 76.6h-2" stroke="#262626" stroke-width="0.8"/><text transform="translate(183.5 -3.8) rotate(-90)" class="cbl" text-anchor="middle">PSD [<tspan class="mu">μ</tspan>V<tspan class="s2" dy="-6">2</tspan><tspan dy="6">/Hz]</tspan></text></g>
<g transform="translate(501.2 2350.1)"><g clip-path="url(#dc)"><g filter="url(#bl)" class="fl"><path stroke="#4456c7" d="M76 -50h4m-8 4h8m-8 4h12m-12 4h12m-8 4h12"/>
<path stroke="#4661d6" d="M72 -54h4m-8 4h8m-8 4h4m-4 4h4m-4 4h4m-4 4h8m-4 4h16"/>
<path stroke="#466be3" d="M68 -58h4m-4 4h4m-8 8h4m-4 4h4m-4 4h4m-4 4h4m0 4h4m-4 4h24"/>
<path stroke="#4776ee" d="M68 -62h4m-8 4h4m-4 4h4m-4 4h4m-152 12h4m-8 4h12m-12 4h16m136 0h4m-156 4h16m136 0h4m0 4h20"/>
<path stroke="#4680f6" d="M64 -66h4m-4 4h4m-8 8h4m-4 4h4m-4 4h4m-148 4h8m136 0h4m-144 4h8m132 0h4m-140 4h8m128 0h4m-136 4h4m128 0h4m-156 4h4m16 0h4m-24 4h24m132 0h4m20 0h4m-20 4h8"/>
<path stroke="#458afc" d="M60 -62h4m-4 4h4m-144 12h4m0 4h4m0 4h4m0 8h4m-4 4h4m124 0h4m-132 4h4m124 0h4m-156 4h24m132 0h8m8 0h12"/>
<path stroke="#4294ff" d="M60 -70h4m-4 4h4m-8 8h4m-4 4h4m-140 4h4m132 0h4m-136 4h4m128 0h4m-132 4h4m124 0h4m-4 4h4m-128 4h4m120 0h4m-4 4h4m-128 12h4m-28 4h20m144 0h16"/>
<path stroke="#3d9efe" d="M56 -66h4m-4 4h4m-136 8h4m-4 4h4m0 4h4m0 4h4m-4 4h4m0 8h4m-4 4h4m116 0h4m-124 4h4m116 0h4m0 4h4m-136 4h4m132 0h8m16 0h4"/>
<path stroke="#37a8fa" d="M56 -70h4m-8 8h4m-4 4h4m-4 4h4m-128 4h4m120 0h4m-124 4h4m116 0h4m-4 4h4m-120 4h4m112 0h4m-120 4h4m-4 16h4m116 0h4m-128 4h4m124 0h4m-156 4h24m140 0h16"/>
<path stroke="#2fb2f4" d="M52 -70h4m-4 4h4m-128 8h4m-4 4h4m0 4h4m0 8h4m112 8h4m-4 4h4m-116 4h4m108 0h4m-116 4h4m-8 8h4m124 4h8m16 0h4m-180 4h12"/>
<path stroke="#27bee9" d="M52 -74h4m-8 8h4m-124 4h4m116 0h4m-4 4h4m-120 4h4m112 0h4m-4 4h4m-116 4h4m108 0h4m-112 12h4m-4 4h4m108 8h4m-116 4h4m112 4h4m-128 4h4m124 0h4m-156 4h4m12 0h8m144 0h8"/>
<path stroke="#20c7df" d="M48 -74h4m-4 4h4m-120 8h4m-4 4h4m0 4h4m-4 4h4m108 8h4m-112 4h4m104 0h4m0 20h4m-120 8h4m116 0h4m4 4h12m8 0h8m-184 4h16"/>
<path stroke="#1bd0d5" d="M48 -78h4m-8 8h4m-116 4h4m108 0h4m-4 4h4m-112 4h4m104 0h4m-4 4h4m-4 4h4m-108 4h4m-4 4h4m104 8h4m-4 4h4m-108 4h4m-8 12h4m108 0h4m-124 8h4m124 0h4m-140 4h8"/>
<path stroke="#18d7ca" d="M44 -74h4m-112 8h4m-4 4h4m0 8h4m-4 4h4m100 4h4m-104 12h4m-4 4h4m100 4h4m-108 4h4m100 0h4m-108 4h4m104 8h4m-120 4h4m116 0h4m8 4h24m-184 4h16"/>
<path stroke="#18dec0" d="M44 -78h4m-112 8h4m100 0h4m-4 4h4m-104 4h4m96 0h4m-104 4h4m96 0h4m-4 4h4m-100 12h4m96 0h4m-104 4h4m96 0h4m0 20h4m-112 8h4m-12 8h4m124 0h8m-144 4h8"/>
<path stroke="#1ae4b6" d="M40 -78h4m-4 4h4m-104 4h4m-4 4h4m92 0h4m-96 8h4m-4 4h4m-4 4h4m92 0h4m-100 4h4m96 12h4m-104 20h4m100 0h4m-112 8h4m108 0h4m-120 4h4m116 0h4m-128 4h4m140 0h16m-184 4h16"/>
<path stroke="#20eaac" d="M40 -82h4m-8 8h4m-96 4h4m88 0h4m-96 4h4m-4 4h4m88 0h4m-4 4h4m0 12h4m-96 12h4m-4 4h4m92 0h4m-100 4h4m92 0h4m-100 4h4m-8 12h4m100 0h4m0 8h4m8 4h12m-152 4h8"/>
<path stroke="#2aefa1" d="M36 -78h4m-96 4h4m0 8h4m80 0h4m-88 4h4m80 0h4m-88 4h4m-4 4h4m84 0h4m-92 4h4m-4 4h4m-4 4h4m88 0h4m-96 4h4m92 16h4m-100 4h4m92 0h4m0 12h4m-112 4h4m-8 4h4m120 0h4m-132 4h4m152 0h4m-184 4h20"/>
<path stroke="#35f394" d="M36 -82h4m-92 4h4m-4 4h4m80 0h4m-88 4h4m80 0h4m-4 12h4m0 8h4m0 12h4m-96 24h4m92 0h4m-4 4h4m-104 4h4m100 4h4m0 4h8m12 4h16m-160 4h4"/>
<path stroke="#43f787" d="M32 -82h4m-4 4h4m-84 4h4m-4 4h4m72 0h4m-80 4h4m72 0h4m-80 4h4m72 0h4m-80 4h4m76 4h4m0 8h4m0 12h4m-4 4h4m0 24h4m-108 8h4m-8 4h4m120 0h12m-140 4h4m-28 4h20"/>
<path stroke="#52fa7a" d="M32 -86h4m-84 8h4m72 4h4m-76 4h4m-4 4h4m68 8h4m-80 4h4m-4 4h4m-4 4h4m-4 4h4m80 0h4m-88 4h4m-4 4h4m-4 4h4m-4 4h4m84 0h4m-92 4h4m-4 4h4m-8 8h4m-8 8h4m96 0h4m0 4h4m4 4h4m-124 4h4m140 0h12m-164 4h4"/>
<path stroke="#61fc6c" d="M28 -86h4m-76 4h4m68 0h4m-76 4h4m68 0h4m-76 4h4m64 4h4m-4 4h4m-72 4h4m64 0h4m-72 4h4m72 8h4m0 12h4m0 16h4m-4 4h4m-92 4h4m84 0h4m-96 8h4m-8 8h4m96 0h4m-108 4h4m108 0h4m12 4h12m-148 4h4m-28 4h20"/>
<path stroke="#71fe5f" d="M-40 -82h4m60 0h4m-68 4h4m60 0h4m-68 4h4m60 0h4m-68 4h4m-4 4h4m-4 4h4m-8 8h4m68 0h4m0 8h4m0 12h4m0 24h4m-4 4h4m4 12h4m-112 4h4m116 0h8m-132 4h4m144 0h8m-164 4h8"/>
<path stroke="#80ff53" d="M24 -90h4m-64 4h4m56 0h4m-64 4h4m-4 4h4m-4 4h4m52 0h4m-60 4h4m52 0h4m-60 4h4m52 0h4m-64 8h4m60 0h4m-72 8h4m-4 4h4m-4 16h4m76 0h4m-84 4h4m-4 4h4m-8 12h4m-8 8h4m88 0h4m-4 4h4m-100 4h4m96 0h4m4 4h8m-120 4h4m128 0h12m-148 4h4m-32 4h24"/>
<path stroke="#8fff49" d="M20 -90h4m-56 4h4m48 0h4m-56 4h4m48 0h4m-56 4h4m48 0h4m-56 4h4m-4 4h4m-4 4h4m-8 4h4m52 0h4m-64 8h4m64 4h4m-76 8h4m72 0h4m-80 4h4m-4 4h4m76 8h4m-84 8h4m-8 12h4m-8 8h4m-8 8h4m100 0h4m12 4h8m12 4h8m-160 4h4"/>
<path stroke="#9cfe40" d="M-28 -90h4m40 0h4m-48 4h4m40 0h4m-48 4h4m40 0h4m-48 4h4m40 0h4m-48 4h4m40 0h4m-48 4h4m40 0h4m-48 4h4m40 0h4m-52 4h4m-8 4h4m52 0h4m0 4h4m-68 4h4m68 12h4m0 16h4m-4 4h4m-84 4h4m76 0h4m-92 20h4m88 0h4m0 4h4m-104 4h4m104 0h12m-124 4h4m132 0h8m-148 4h4m-32 4h24"/>
<path stroke="#a9fb39" d="M-24 -90h4m28 0h8m-40 4h4m28 0h8m-40 4h4m32 0h4m-40 4h4m32 0h4m-40 4h4m32 0h4m-40 4h4m-8 8h4m40 0h4m-52 4h4m-8 4h4m-8 8h4m64 0h4m-76 36h4m76 0h4m-4 4h4m-88 4h4m80 0h4m-4 4h4m-92 8h4m88 0h4m4 4h4m-108 4h4m120 0h8m-136 4h4m140 0h8m-160 4h8"/>
<path stroke="#b4f836" d="M-20 -90h28m-28 4h12m8 0h8m-28 4h8m16 0h8m-32 4h4m24 0h4m-32 4h4m28 4h4m-40 4h4m-16 16h4m56 0h4m-68 8h4m64 0h4m-72 4h4m-4 4h4m68 0h4m-76 4h4m-4 4h4m-4 4h4m-4 4h4m-8 12h4m-8 8h4m80 4h4m-92 8h4m92 0h4m8 4h12m-124 4h4m128 0h8m-144 4h4m144 0h4m-180 4h12"/>
<path stroke="#bef434" d="M-8 -86h8m-12 4h16m-20 4h8m8 0h8m-24 4h4m20 0h4m-32 4h4m24 0h4m-32 4h4m28 0h4m-40 4h4m-8 4h4m40 0h4m-52 4h4m48 0h4m8 24h4m-76 16h4m-8 12h4m-8 8h4m80 4h4m0 4h4m-96 4h4m92 0h12m16 4h4m4 4h8m-164 4h12"/>
<path stroke="#c8ef34" d="M-8 -78h8m-12 4h20m-24 4h4m24 8h4m-48 12h4m-8 4h4m56 0h4m0 8h4m0 12h4m-4 4h4m-76 12h4m68 4h4m-4 4h4m-84 12h4m-4 4h4m80 0h4m0 4h4m-96 4h4m112 0h8m-128 4h4m128 0h4m-144 4h8m140 0h4m-176 4h8"/>
<path stroke="#d2e935" d="M-12 -70h8m4 0h8m-24 4h4m20 0h4m-32 4h4m-8 4h4m-8 4h4m44 4h4m-60 8h4m-4 4h4m-4 4h4m-4 4h4m-4 4h4m-4 4h4m-4 4h4m64 0h4m-4 4h4m-4 4h4m-76 4h4m-8 8h4m72 0h4m-80 4h4m72 0h4m-84 12h4m80 0h4m0 4h24m-116 4h4m116 0h8m-132 4h4m132 0h4m-164 4h16"/>
<path stroke="#dbe236" d="M-4 -70h4m-12 4h4m12 0h4m0 4h4m0 4h4m0 4h4m-52 8h4m52 4h4m0 8h4m-68 20h4m-8 12h4m-8 12h4m72 0h4m-80 4h4m72 0h4m-84 8h4m80 0h4m-88 4h4m84 0h28m-120 4h4m120 0h8m-144 4h8m136 0h8m-60 16h8m-8 4h12m-16 4h12m-8 4h8"/>
<path stroke="#e3db38" d="M-8 -66h12m-20 4h4m-8 4h4m-8 4h4m-8 4h4m44 4h4m-56 4h4m56 12h4m-68 20h4m-8 12h4m-4 4h4m-8 12h4m72 0h4m-80 4h4m72 0h4m0 4h4m-88 4h4m80 0h36m-128 4h4m88 0h16m20 0h8m-164 4h16m100 0h16m32 0h4m-56 4h20m-24 4h24m-28 4h8m8 0h12m-28 4h8m12 0h8m-28 4h4m12 0h12m-28 4h8m8 0h8m-20 4h20m-16 4h8"/>
<path stroke="#ebd339" d="M-12 -62h4m12 0h4m0 4h4m4 8h4m-48 4h4m-8 8h4m52 0h4m-60 4h4m-4 4h4m-4 4h4m56 0h4m-64 4h4m-4 4h4m-8 12h4m60 0h4m-68 4h4m60 0h4m-4 4h4m-4 4h4m-72 4h4m64 0h4m-72 4h4m64 0h4m-72 4h4m-8 8h4m72 0h4m-8 4h8m-88 4h4m76 0h8m16 0h20m-140 4h12m80 0h8m16 0h12m8 0h12m-60 4h8m20 0h8m24 0h4m-68 4h8m24 0h8m-44 4h8m28 0h8m-44 4h8m28 0h4m-36 4h4m28 0h4m-36 4h4m24 0h8m-32 4h4m20 0h8m-28 4h4m8 0h12m-20 4h16"/>
<path stroke="#f1cb3a" d="M-8 -62h12m-20 4h4m-8 4h4m28 0h4m-40 4h4m48 28h4m-4 4h4m-64 4h4m56 0h4m-64 4h4m56 0h4m-68 12h4m-4 4h4m60 12h4m-72 4h4m64 0h4m-72 4h4m64 0h4m-76 4h8m60 0h4m-76 4h8m60 0h8m-84 4h8m64 0h8m36 0h8m-152 4h12m84 0h8m36 0h24m-72 4h8m40 0h12m4 0h8m-72 4h4m44 0h8m-56 4h4m40 0h8m-48 4h4m36 0h8m-48 4h4m36 0h8m-44 4h4m32 0h4m-36 4h4m24 0h8m-32 4h4m16 0h8m-24 4h16"/>
<path stroke="#f6c33a" d="M-12 -58h4m12 0h4m-36 16h4m44 0h4m0 8h4m-60 28h4m-8 16h4m-4 4h4m-4 4h4m56 0h4m-64 4h4m56 0h4m-64 4h4m56 0h4m-64 4h4m52 0h4m-64 4h4m52 0h4m-68 4h8m48 0h8m-88 4h24m48 0h12m-12 4h8m60 0h4m-72 4h8m56 0h16m-76 4h4m52 0h16m-72 4h8m48 0h12m-64 4h4m48 0h8m-56 4h4m40 0h12m-52 4h4m36 0h8m-44 4h4m28 0h4m-32 4h4m16 0h8m-24 4h16"/>
<path stroke="#faba39" d="M-8 -58h4m4 0h4m-20 4h4m20 0h4m-32 4h4m28 0h4m-40 4h4m36 0h4m-48 8h4m-4 4h4m-4 4h4m48 0h4m-56 4h4m-4 4h4m-4 4h4m-4 4h4m-8 12h4m-4 4h4m52 0h4m-60 4h4m52 0h4m-60 4h4m52 0h4m-60 4h4m52 0h4m-60 4h4m-4 4h4m-4 4h4m48 0h4m-56 4h4m44 0h4m-56 4h8m36 0h8m-56 4h8m28 0h12m-56 4h12m28 0h8m-80 4h4m68 0h8m-8 4h8m-4 4h8m-4 4h4m0 4h4m60 0h4m-64 4h4m0 4h4m0 4h4m0 4h4m0 4h4m4 4h4"/>
<path stroke="#fcb136" d="M-4 -58h4m-24 16h4m40 4h4m0 12h4m-56 16h4m-4 4h4m48 0h4m-4 4h4m-56 20h4m44 0h4m-52 4h4m44 0h4m-52 4h4m40 0h4m-48 4h8m28 0h8m-44 4h16m4 0h16m-40 4h28m-32 4h28m-68 4h68m-20 4h20m-12 4h16m-8 4h12m-4 4h8m0 4h4m0 4h4m0 4h4m0 4h4m0 4h4m0 4h8"/>
<path stroke="#fea732" d="M-12 -54h4m12 0h4m-24 4h4m-8 4h4m32 4h4m4 20h4m-4 4h4m-4 4h4m-4 4h4m-56 8h4m-4 4h4m-4 4h4m-4 4h4m44 0h4m-52 4h4m44 0h4m-48 4h4m-4 4h4m36 0h4m-44 4h8m24 0h8m-36 4h28m-20 4h4m-72 16h8m8 0h36m-20 4h28m-20 4h28m-28 4h36m-32 4h24m8 0h8m-40 4h16m24 0h4m-44 4h16m28 0h4m-48 4h16m32 0h4m-48 4h8m40 0h4m0 4h4m0 4h4"/>
<path stroke="#fe9b2d" d="M-8 -54h4m4 0h4m4 4h4m0 4h4m-40 8h4m-4 4h4m40 0h4m-48 4h4m-4 4h4m-4 4h4m-4 4h4m-4 4h4m-4 4h4m40 12h4m-4 4h4m-48 4h4m-4 4h4m36 0h4m-40 4h4m32 0h4m-40 4h4m28 0h4m-32 4h24m-80 24h8m4 4h12m-4 4h12m-8 4h8m-4 4h8m24 0h8m-40 4h8m16 0h12m4 0h8m-48 4h8m16 0h4m20 0h4m-52 4h8m16 0h4m-24 4h8m8 0h4m32 0h4m-52 4h12m40 0h4m0 4h4"/>
<path stroke="#fe9029" d="M-4 -54h4m-12 4h4m-12 8h4m32 4h4m0 8h4m-48 24h4m-4 4h4m40 0h4m-48 4h4m-4 4h4m36 4h4m-40 4h4m0 4h4m24 0h4m-32 4h8m12 0h8m-88 32h16m0 4h8m-4 4h8m-4 4h8m-8 4h8m36 0h4m-44 4h4m28 0h8m8 0h4m-52 4h4m28 0h4m20 0h4m-56 4h4m20 0h4m-8 4h8m28 0h4m-44 4h8m36 0h4"/>
<path stroke="#fc8423" d="M4 -50h4m-24 4h4m-8 8h4m36 12h4m-4 16h4m-4 4h4m-44 12h4m32 0h4m-40 4h4m0 4h4m24 0h4m-28 4h4m16 0h4m-20 4h12m-76 36h12m-4 4h8m-4 4h8m-4 4h4m-4 4h8m40 0h8m-52 4h4m36 0h4m12 0h4m-24 4h4m20 0h4m-28 4h4m-8 4h4m28 0h4"/>
<path stroke="#f9751d" d="M-8 -50h4m4 0h4m4 4h4m0 4h4m-36 8h4m32 0h4m-40 4h4m-4 4h4m-4 4h4m36 0h4m-44 4h4m36 0h4m-44 4h4m36 0h4m-44 4h4m-4 4h4m-4 4h4m-4 4h4m32 0h4m-36 8h4m24 0h4m-28 4h4m16 0h4m-20 4h16m-80 44h8m-4 4h8m-4 4h8m48 8h12m-16 4h4m12 0h4m-20 4h4m16 0h4m-28 4h4m20 0h4"/>
<path stroke="#f56918" d="M-4 -50h4m-12 4h4m-8 4h4m28 40h4m-36 8h4m24 0h4m-28 4h4m16 0h4m-20 4h16m-16 68h12m-12 4h4m4 0h8m-20 4h4m12 0h4"/>
<path stroke="#f15d13" d="M4 -46h4m-24 8h4m24 0h4m0 8h4m-36 12h4m-4 4h4m-4 4h4m28 0h4m-36 4h4m28 0h4m-36 4h4m-4 4h4m24 0h4m-28 4h4m16 0h4m-20 4h4m8 0h4m-12 76h4m-8 4h12"/>
<path stroke="#ec530f" d="M-8 -46h4m4 0h4m-16 4h4m16 0h4m-28 8h4m24 0h4m-32 4h4m-4 4h4m28 0h4m-36 4h4m28 0h4m-4 4h4m-4 4h4m-8 12h4m-28 4h4m0 4h4m0 4h8"/>
<path stroke="#e7490c" d="M-4 -46h4m-12 36h4m-4 4h4m20 0h4m-28 4h4m0 4h4m12 0h4m-16 4h12"/>
<path stroke="#e14109" d="M-8 -42h4m8 0h4m-20 4h4m16 0h4m-24 4h4m20 4h4m-28 4h4m20 0h4m-28 4h4m-4 4h4m-4 4h4m20 0h4m-4 4h4m-24 8h4m12 0h4m-16 4h12"/>
<path stroke="#da3907" d="M-4 -42h8m4 8h4m-24 4h4m20 8h4m-4 4h4m-24 4h4m-4 4h4m12 0h4m-20 4h4m12 0h4m-16 4h12"/>
<path stroke="#d23105" d="M-8 -38h4m8 0h4m-16 4h4m12 4h4m-20 4h4m-4 4h4m-4 4h4m12 4h4m-16 4h4m4 0h4m-12 4h12"/>
<path stroke="#ca2a04" d="M-4 -38h8m0 4h4m-16 4h4m12 4h4m-4 4h4m-16 4h4m4 0h8m-16 4h12m-8 4h4"/>
<path stroke="#c12302" d="M-4 -34h8m-8 4h12m-12 4h12m-12 4h12m-8 4h4"/></g></g><path class="ct" d="M56.5 -64.5l-1.8 9 .1 10.5 1.9 18 2.5 7.5 3.8 4.3 6 2.7 7.5 .9 9 -.4M-85.5 -10.7l7.5 .4 7.5 -1.7 6 -3.9 3.5 -5.1 .4 -4.5 -1.6 -7.5 -3.8 -8.6 -4.8 -7.9M42 -75l-2.1 7.5 0 7.5 5.3 21 4.1 22.5 2.7 7.5 3.9 4.5 6.1 3 10 1.9 13.5 .7M-85.5 5.2l10.5 -.7 7.5 -3.1 4.5 -3.5 3 -3.1 4 -5.3 2.4 -4.5 1.8 -6 .4 -7.5 -4.1 -28.5 -1.5 -7.5M27.1 -81l-2.8 10.5 -.3 6 .9 3 9 15 3.6 9 2.4 10.5 2.4 22.5 1.6 6 4.1 4.3 6 2.6 30 5.1M-84 20.3l13.5 -1.2 4.5 -1.6 3 -1.9 3 -3 3 -4.1 9.6 -17.5 2.4 -6 1.3 -6 0 -24 1.6 -7.5 4.8 -13.5 .5 -4.5 -.7 -6M-79.5 33.5l13.5 -1.2 6 -1.5 6 -3.2 4.5 -5 3 -6.1 3.8 -13.5 5 -12 1.7 -6 1 -7.5 -.1 -16.5 1.6 -6 4 -6 9.1 -9 8.4 -10.4 4.5 -3.2 4.5 -1 3 .4 3 1.2 6 5.2 15 19.5 5.4 9.3 2.7 7.5 1.8 9 .4 7.5 -.2 13.5 .5 6 1.8 6 2.6 4.7 3 3.1 4.5 2.4 4.5 .8 9 -.1 4.5 .5 16.5 5.8M-72 45.8l21 0 7.2 -.8 9.3 -3.2 3 -1.7 2.9 -2.6 1.5 -3 .5 -4.5 -2.1 -16.5 -.3 -7.5 .7 -6 3 -16.5 -.2 -16.5 1 -6 2 -4.4 2.1 -3.1 3.9 -4.2 4.5 -3.7 3 -1.8 4.5 -1.7 4.5 -.1 3 .6 6 3.4 7.5 7.3 5.2 7.7 3.9 9 1.7 7.5 .3 6 -3.6 29.4 -1.9 8.1 -1.5 3 -2.6 3 -7.5 5.1 -17.2 6.9 -3.7 3 -.9 1.5 -.4 3 1.8 4.5 2.6 3 14.8 11.8 16.5 16.9M-3 -48.1l4.5 0 3 1 3 1.9 3.3 3.2 3.2 4.5 2.5 4.7 2.2 5.8 1.3 6 -.1 4.5 -1.3 6 -2.1 6.7 -3 6.7 -4.8 6.1 -2.7 1.8 -4.5 1.4 -3 0 -3 -.7 -3 -1.7 -2.4 -2.3 -3.2 -6 -1.2 -7.5 -1.2 -24 .7 -6 1.9 -4.5 2.4 -3.3 3.4 -2.7 4.1 -1.6"/><circle r="89.2" fill="none" stroke="#edf5ff" stroke-width="6"/><circle r="80.6" class="hd"/><path class="hd" d="M-14.5 -79.9L-3.2 -92.2Q0 -93.6 3.2 -92.2L14.5 -79.9M-79.2 -15.4L-82.1 -18.9 -83.4 -19.0 -85.3 -18.5 -87.2 -15.4 -86.9 0.9 -88.1 15.0 -85.7 21.1 -82.1 22.3 -77.9 19.3M79.2 -15.4L82.1 -18.9 83.4 -19.0 85.3 -18.5 87.2 -15.4 86.9 0.9 88.1 15.0 85.7 21.1 82.1 22.3 77.9 19.3"/><g class="el"><text x="-25.7" y="-74.8">FP1</text><text x="25.7" y="-74.8">FP2</text><text x="-24.0" y="-59.1">AF3</text><text x="24.0" y="-59.1">AF4</text><text x="-69.2" y="-46.2">F7</text><text x="-35.7" y="-38.5">F3</text><text x="0.0" y="-37.2">FZ</text><text x="35.7" y="-38.5">F4</text><text x="69.2" y="-46.2">F8</text><text x="-62.1" y="-18.7">FC5</text><text x="-21.1" y="-16.2">FC1</text><text x="21.1" y="-16.2">FC2</text><text x="62.1" y="-18.7">FC6</text><text x="-86.8" y="4.4">T7</text><text x="-43.2" y="4.4">C3</text><text x="0.0" y="4.4">CZ</text><text x="43.2" y="4.4">C4</text><text x="86.8" y="4.4">T8</text><text x="-62.0" y="27.1">CP5</text><text x="-21.2" y="25.0">CP1</text><text x="21.2" y="25.0">CP2</text><text x="62.0" y="27.1">CP6</text><text x="-69.2" y="54.6">P7</text><text x="-35.7" y="46.8">P3</text><text x="0.0" y="45.6">PZ</text><text x="35.7" y="46.8">P4</text><text x="69.2" y="54.6">P8</text><text x="-25.7" y="67.4">PO3</text><text x="25.7" y="67.4">PO4</text><text x="-26.1" y="83.7">O1</text><text x="0.0" y="85.5">OZ</text><text x="26.1" y="83.7">O2</text></g><text x="1" y="-104.1" class="tp" text-anchor="middle"><tspan class="tg">θ</tspan> @3.9-7.8Hz | POFF</text><rect x="103.3" y="-95.7" width="9.3" height="193" fill="url(#cbg)" stroke="#444" stroke-width="0.7"/><text x="118.3" y="-34.4" class="cbt">0.035</text><text x="118.3" y="33.1" class="cbt">0.03</text><text x="118.3" y="100.1" class="cbt">0.025</text><path d="M112.6 -40.3h-2M112.6 27.2h-2M112.6 94.2h-2" stroke="#262626" stroke-width="0.8"/><text transform="translate(183.5 -3.8) rotate(-90)" class="cbl" text-anchor="middle">PSD [<tspan class="mu">μ</tspan>V<tspan class="s2" dy="-6">2</tspan><tspan dy="6">/Hz]</tspan></text></g>
<g transform="translate(815.0 2350.1)"><g clip-path="url(#dc)"><g filter="url(#bl)" class="fl"><path stroke="#30123b" d="M52 -70h12m-132 4h8m112 0h16m-140 4h16m108 0h20m-144 4h16m108 0h20m-148 4h24m104 0h24m-156 4h28m104 0h28m-160 4h28m104 0h28m-164 4h32m104 0h32m-168 4h32m104 0h32m-172 4h36m104 0h36m-176 4h32m108 0h36m-180 4h28m116 0h40m-184 4h20m124 0h40m-40 4h40m-36 4h36m-24 4h24"/>
<path stroke="#351e58" d="M52 -74h4m-120 4h4m0 4h4m104 0h4m-108 4h4m100 0h4m-108 4h8m96 0h4m-104 4h4m96 0h4m-104 4h8m92 0h4m-104 4h8m92 0h4m-104 4h8m92 0h4m-104 4h4m96 0h4m-104 4h4m96 0h4m-108 4h8m96 0h4m-116 4h12m100 0h4m-124 4h16m104 0h4m-144 4h20m132 8h8m16 4h8"/>
<path stroke="#392a73" d="M48 -74h4m-112 4h4m104 0h4m-108 4h4m96 0h4m-100 4h4m92 0h4m-96 4h4m88 0h4m-96 4h8m84 0h4m-92 4h4m84 0h4m-92 4h4m84 0h4m-92 4h4m-8 4h8m84 0h4m-96 4h8m84 0h4m-96 4h4m88 0h4m-100 4h8m88 0h4m-104 4h12m88 0h4m-120 4h24m96 0h4m-144 4h24m120 0h4m0 4h4m12 4h12"/>
<path stroke="#3d358b" d="M48 -78h4m-8 4h4m-104 4h4m96 0h4m-100 4h4m88 0h4m-92 4h8m80 0h4m-88 4h16m68 0h4m-84 4h16m64 0h4m-84 4h16m-16 4h12m-12 4h8m76 0h4m-88 4h8m-8 4h8m-12 4h8m-8 4h8m76 0h4m-88 4h8m-12 4h12m80 0h4m-116 4h28m32 0h12m44 0h4m-144 4h28m52 0h20m44 0h4m-68 4h20m52 0h12m-80 4h12m80 0h8"/>
<path stroke="#4040a2" d="M44 -78h4m-104 4h4m92 0h4m-96 4h4m84 0h8m-92 4h8m76 0h4m-80 4h16m56 0h8m-68 4h8m56 0h4m-64 4h8m52 0h4m-64 4h8m56 0h4m-72 4h12m56 0h4m-76 4h12m60 0h4m-76 4h12m60 0h4m-76 4h12m60 0h4m-80 4h16m60 0h4m-80 4h16m-16 4h36m40 0h4m-80 4h44m32 0h4m-84 4h32m12 0h8m28 0h8m-112 4h52m20 0h8m32 0h4m-144 4h56m8 0h16m20 0h8m40 0h4m-76 4h8m12 0h8m60 0h12m-92 4h12"/>
<path stroke="#424bb5" d="M40 -82h4m-4 4h4m-96 4h4m84 0h4m-88 4h4m76 0h4m-76 4h8m56 0h12m-60 4h8m36 0h12m-52 4h8m32 0h16m-52 4h8m32 0h12m-52 4h8m44 0h4m-56 4h8m44 0h4m-60 4h12m-12 4h12m-12 4h16m40 0h4m-60 4h20m36 0h4m-60 4h28m24 0h8m-40 4h16m16 0h8m-32 4h12m12 0h8m-28 4h12m8 0h8m-24 4h8m16 0h8m-84 4h8m44 0h4m28 0h8m-148 4h12m28 0h36m28 0h4m48 0h8m-88 4h8m12 0h8m72 0h8"/>
<path stroke="#4456c7" d="M36 -82h4m-92 4h4m84 0h4m-88 4h4m76 0h4m-80 4h8m60 0h8m-64 4h16m32 0h8m-40 4h8m20 0h8m-32 4h8m12 0h12m-28 4h32m-32 4h44m-44 4h12m24 0h8m-44 4h12m32 0h4m-48 4h16m24 0h8m-44 4h16m20 0h4m-36 4h20m8 0h8m-28 4h24m-16 4h16m-12 4h12m-8 4h8m-8 4h16m-20 4h8m12 0h8m-128 4h28m68 0h8m32 0h8m-156 4h4m56 0h16m28 0h4m60 0h8m-96 4h20"/>
<path stroke="#4661d6" d="M32 -82h4m-84 4h4m72 0h8m-80 4h4m64 0h8m-68 4h8m44 0h8m-40 4h8m16 0h8m-24 4h20m-16 4h12m-4 12h24m-24 4h32m-28 4h24m-20 4h20m-12 4h8m0 24h12m-16 4h8m16 0h8m-144 4h56m48 0h8m40 0h12m-168 4h4m68 0h8m20 0h8m68 0h8"/>
<path stroke="#466be3" d="M32 -86h4m-8 4h4m-76 4h4m64 0h4m-68 4h8m48 0h8m-52 4h16m16 0h12m-24 4h16m24 64h16m-24 4h4m32 0h4m-152 4h24m16 0h28m36 0h4m56 0h8m-92 4h16"/>
<path stroke="#4776ee" d="M28 -86h4m-76 4h4m60 0h8m-68 4h4m48 0h12m-56 4h4m28 0h16m-28 4h16m24 72h8m12 0h12m-124 4h16m68 0h4m44 0h8m-168 4h16m56 0h12m16 0h8m68 0h8"/>
<path stroke="#4680f6" d="M24 -90h4m-8 4h8m-68 4h4m48 0h8m-56 4h4m32 0h12m-40 4h28m36 76h12m-24 4h8m28 0h8m-144 4h20m24 0h12m36 0h4m60 0h4m-176 4h8"/>
<path stroke="#458afc" d="M16 -90h8m-12 4h8m-56 4h4m32 0h12m-44 4h32m32 84h4m16 0h8m-116 4h24m52 0h4m48 0h8m-164 4h12m60 0h24m72 0h8m-184 4h8"/>
<path stroke="#4294ff" d="M8 -90h8m-52 4h4m32 0h12m-44 4h4m12 0h16m36 88h16m-28 4h8m32 0h8m-144 4h16m32 0h12m24 0h8m60 0h4m-168 4h8m-16 4h4"/>
<path stroke="#3d9efe" d="M-4 -90h12m-40 4h8m8 0h16m-28 4h12m48 92h4m20 0h8m-120 4h32m44 0h4m48 0h8m-156 4h8m152 0h8m-180 4h8m-12 4h4"/>
<path stroke="#37a8fa" d="M-28 -90h24m-20 4h8m52 96h20m-32 4h4m40 0h4m-140 4h8m140 0h4m-164 4h8m160 0h4m-180 4h4"/>
<path stroke="#2fb2f4" d="M28 14h4m32 0h4m-128 4h8m28 0h44m56 0h4m-152 4h4m152 0h4m-172 4h8m-12 4h4"/>
<path stroke="#27bee9" d="M32 14h8m16 0h8m-116 4h12m4 0h12m44 0h4m48 0h4m-144 4h8m140 0h4m-160 4h4m160 0h4m-176 4h4"/>
<path stroke="#20c7df" d="M40 14h16m-96 4h4m60 0h4m36 0h8m-132 4h4m132 0h4m-152 4h4m152 0h4m-168 4h4m-12 4h4"/>
<path stroke="#1bd0d5" d="M28 18h4m28 0h4m-120 4h4m52 0h16m56 0h4m-144 4h4m144 0h4m-160 4h4m-12 4h4"/>
<path stroke="#18d7ca" d="M32 18h8m12 0h8m-112 4h8m20 0h24m16 0h8m44 0h4m-136 4h4m136 0h4m-152 4h4m152 0h4m-168 4h4m-8 4h4"/>
<path stroke="#18dec0" d="M40 18h12m-96 4h20m48 0h4m36 0h4m-128 4h4m128 0h4m-144 4h4m144 0h4m-160 4h4m156 0h4m-168 4h4m-8 4h4"/>
<path stroke="#1ae4b6" d="M28 22h4m28 0h4m-120 4h4m120 0h4m-136 4h4m136 0h4m-152 4h4m148 0h4m-160 4h4"/>
<path stroke="#20eaac" d="M32 22h4m16 0h8m-112 4h4m56 0h4m52 0h4m4 4h4m-144 4h4m-16 8h4"/>
<path stroke="#2aefa1" d="M36 22h16m-100 4h8m16 0h32m4 0h12m36 0h4m-124 4h4m124 0h4m4 4h4m-152 4h4m148 0h4m-160 4h4m-8 4h4"/>
<path stroke="#35f394" d="M-40 26h16m48 0h4m28 0h4m-116 4h4m-12 4h4m132 0h4m-144 4h4m140 0h4m0 4h4m-160 4h4m-8 4h4"/>
<path stroke="#43f787" d="M28 26h4m20 0h4m-108 4h4m112 0h4m-128 4h4m124 0h4m-144 8h4"/>
<path stroke="#52fa7a" d="M32 26h8m4 0h8m-100 4h4m104 0h4m-128 8h4m132 0h4m-144 4h4m140 0h4m-152 4h4m-8 4h4"/>
<path stroke="#61fc6c" d="M40 26h4m-88 4h4m28 0h32m36 0h4m-116 4h4m116 0h4m0 4h4m0 4h4m0 4h4m-152 4h4m-8 4h4"/>
<path stroke="#71fe5f" d="M-40 30h28m32 0h8m24 0h4m-108 4h4m108 0h4m-124 4h4m-8 4h4m-8 4h4m136 0h4m0 4h4"/>
<path stroke="#80ff53" d="M28 30h4m16 0h4m4 4h4m4 4h4m0 4h4m0 8h4m-148 4h4"/>
<path stroke="#8fff49" d="M32 30h16m-96 4h4m-12 4h4m112 0h4m-124 4h4m120 0h4m-132 4h4m128 0h4m-140 4h4m136 4h4m-148 4h4m68 32h28"/>
<path stroke="#9cfe40" d="M-44 34h4m40 0h16m36 0h4m12 16h4m-140 4h4m-8 8h4m64 28h4"/>
<path stroke="#a9fb39" d="M-40 34h4m16 0h20m16 0h8m24 0h4m-104 4h4m104 0h4m-116 4h4m112 0h4m-124 4h4m120 0h4m-132 4h4m128 4h4m-140 4h4m132 0h4m-4 4h4m-72 24h36m-44 4h4"/>
<path stroke="#b4f836" d="M-36 34h16m44 0h8m12 0h4m-96 4h4m96 0h4m4 8h4m0 4h4m-132 4h4m124 0h4m-136 8h4m-4 4h4m60 20h4m-16 4h8"/>
<path stroke="#bef434" d="M32 34h12m-96 8h4m104 0h4m-120 8h4m116 0h4m-128 8h4m124 0h4m-4 4h4m-4 4h4m-64 16h40m-52 4h4m-16 4h4"/>
<path stroke="#c8ef34" d="M-44 38h4m40 0h16m32 0h4m0 4h4m-112 4h4m108 0h4m0 8h4m-4 4h4m-128 4h4m120 0h4m-128 4h4m120 0h4m-128 4h4m120 0h4m-16 8h4m-56 4h8m-16 4h4m-20 4h8"/>
<path stroke="#d2e935" d="M-40 38h4m24 0h12m16 0h8m20 0h4m8 12h4m-120 4h4m112 16h4m-8 4h4m-32 4h4m12 0h8m-56 4h4m-16 4h8"/>
<path stroke="#dbe236" d="M-36 38h24m36 0h8m8 0h4m-92 4h4m92 0h4m-104 4h4m100 0h4m-112 4h4m108 4h4m-120 4h4m112 0h4m-120 4h4m112 0h4m-4 4h4m-120 4h4m108 0h4m-8 4h4m-52 4h24m4 0h12m-52 4h4m-20 4h8"/>
<path stroke="#e3db38" d="M32 38h8m-84 4h4m84 0h4m4 8h4m-112 4h4m-8 12h4m108 0h4m-8 4h4m-12 4h8m-52 4h4m-16 4h4m-24 4h8"/>
<path stroke="#ebd339" d="M-4 42h24m-68 4h4m92 0h4m-104 4h4m100 4h4m-112 4h4m104 0h4m-4 4h4m-8 4h4m-108 4h4m96 0h4m-104 4h4m60 0h32m-92 4h4m40 0h4m-16 4h4"/>
<path stroke="#f1cb3a" d="M-40 42h4m24 0h8m24 0h8m12 0h4m0 4h4m0 4h4m-4 4h4m-108 8h4m100 0h4m-108 4h4m92 4h4m-96 4h4m48 0h8m-20 4h4m-36 4h24"/>
<path stroke="#f6c33a" d="M-36 42h4m8 0h12m40 0h12m-84 4h4m-8 4h4m-8 4h4m96 4h4m-8 8h4m-100 4h4m84 0h4m-44 4h4m-48 4h4m28 0h4"/>
<path stroke="#faba39" d="M-32 42h8m20 4h24m20 0h4m0 4h4m-4 4h4m-100 4h4m92 0h4m-100 4h4m92 0h4m-100 4h4m88 0h4m-44 4h36m-84 4h4m36 0h4m-40 4h4m20 0h4"/>
<path stroke="#fcb136" d="M-40 46h4m24 0h8m24 0h12m4 0h4m0 4h4m-92 4h4m84 8h4m-8 4h4m-88 4h4m40 0h4m-12 4h4m-32 4h20"/>
<path stroke="#fea732" d="M-36 46h4m16 0h4m44 0h4m-80 4h4m40 0h20m16 0h4m0 4h4m-92 4h4m84 0h4m-92 4h4m80 0h4m-88 4h4m44 0h24m4 0h8m-44 4h4m-40 4h4m24 0h4"/>
<path stroke="#fe9b2d" d="M-32 46h16m8 4h8m20 0h16m-80 4h4m44 0h12m20 0h4m-4 4h4m-36 4h12m16 0h4m-40 4h4m24 0h4m-72 4h4m28 0h4m-32 4h4m16 0h4"/>
<path stroke="#fe9029" d="M-40 50h4m24 0h4m4 4h8m12 0h20m-80 4h4m40 0h36m-40 4h8m12 0h16m-76 4h4m32 0h4m-32 8h16"/>
<path stroke="#fc8423" d="M-36 50h4m16 0h4m-28 4h4m28 0h4m-4 4h8m-44 4h4m32 0h4m-8 4h4m-32 4h4m20 0h4"/>
<path stroke="#f9751d" d="M-32 50h16m4 4h4m-32 4h4m24 4h4m-32 4h4m0 4h4m12 0h4"/>
<path stroke="#f56918" d="M-36 54h4m16 0h4m0 4h4m-32 4h4m20 4h4m-20 4h12"/>
<path stroke="#f15d13" d="M-32 54h4m4 0h8m-20 4h4m16 0h4m-24 4h4m16 0h4m-24 4h4m12 0h4"/>
<path stroke="#ec530f" d="M-28 54h4m-8 4h4m8 0h4m-4 4h4m-16 4h4m4 0h4"/>
<path stroke="#e7490c" d="M-28 58h8m-12 4h4m4 0h4m-8 4h4"/>
<path stroke="#e14109" d="M-28 62h4"/></g></g><path class="ct" d="M51.6 -69l-1.7 6 -.5 4.5 .2 16.5 -.7 12 .4 6 1.7 4.5 2.2 3 2.3 2.1 7.5 3.7 9 2.1 13.5 1.5M-84 -18.2l12 -1.9 9 -2.9 7 -4 3.8 -4.5 2.1 -4.5 1.3 -4.5 .7 -4.5 -.1 -4.5 -.8 -3 -2.2 -4.5 -6.4 -7.5M22.5 -82.9l-6 3.3 -9 3.5 -6 1.8 -6 .9 -9 .1 -12 -.6 -4.5 -1.2 -6 -3.3M-85.5 12.1l15 -2.8 19.5 -1.2 18 .3 27 3.4 12 -.1 9 -1.5 18 -7.1 9 -1.5 13.5 1.7 30 6.8M-79.5 33.8l7.5 -4.5 7.5 -3.4 9 -3.3 9 -2 10.5 -.7 18 1.4 34.5 .3 6 -.8 13.5 -4 7.5 -1.1 9 .4 9 1.8 9.3 3.1 10.2 4.8M-70.5 48.5l7.1 -8 9.4 -6.7 9 -3.6 10.5 -1.7 46.5 1.4 9 -.6 16.5 -2.8 9 .1 7.5 1.6 7.7 3.3 6.9 4.5 6.4 6.1M-60.7 60l3.2 -7.5 5.7 -7.5 6.8 -5.1 7.5 -2.9 10.5 -.9 37.5 2 25.5 -2.7 5.7 .6 4.8 1.5 4.5 2.4 3 2.3 3.8 4.3 2.5 4.5 1.4 4.5 .5 4.5M31.5 79.9l-7.5 -.3 -21 1.1 -4.5 1 -9.6 3.8M-31.5 44.8l6 -.3 6.4 .5 22.1 4.6 6 .7 6 -.5 13.5 -2.7 6 0 3 1.4 2.3 2.5 1.2 3 0 3 -1.2 3 -2.6 3 -2.7 1.8 -4.5 1.7 -6 .6 -12 -1.5 -6 .3 -6 1.7 -12.4 5.9 -5.6 2.1 -9 1.3 -7.5 -.4 -4.6 -1.5 -4.4 -3.4 -2.4 -4.1 -.8 -6 1.5 -6 3.2 -4.9 5.2 -4.1 5.3 -1.7"/><circle r="89.2" fill="none" stroke="#edf5ff" stroke-width="6"/><circle r="80.6" class="hd"/><path class="hd" d="M-14.5 -79.9L-3.2 -92.2Q0 -93.6 3.2 -92.2L14.5 -79.9M-79.2 -15.4L-82.1 -18.9 -83.4 -19.0 -85.3 -18.5 -87.2 -15.4 -86.9 0.9 -88.1 15.0 -85.7 21.1 -82.1 22.3 -77.9 19.3M79.2 -15.4L82.1 -18.9 83.4 -19.0 85.3 -18.5 87.2 -15.4 86.9 0.9 88.1 15.0 85.7 21.1 82.1 22.3 77.9 19.3"/><g class="el"><text x="-25.7" y="-74.8">FP1</text><text x="25.7" y="-74.8">FP2</text><text x="-24.0" y="-59.1">AF3</text><text x="24.0" y="-59.1">AF4</text><text x="-69.2" y="-46.2">F7</text><text x="-35.7" y="-38.5">F3</text><text x="0.0" y="-37.2">FZ</text><text x="35.7" y="-38.5">F4</text><text x="69.2" y="-46.2">F8</text><text x="-62.1" y="-18.7">FC5</text><text x="-21.1" y="-16.2">FC1</text><text x="21.1" y="-16.2">FC2</text><text x="62.1" y="-18.7">FC6</text><text x="-86.8" y="4.4">T7</text><text x="-43.2" y="4.4">C3</text><text x="0.0" y="4.4">CZ</text><text x="43.2" y="4.4">C4</text><text x="86.8" y="4.4">T8</text><text x="-62.0" y="27.1">CP5</text><text x="-21.2" y="25.0">CP1</text><text x="21.2" y="25.0">CP2</text><text x="62.0" y="27.1">CP6</text><text x="-69.2" y="54.6">P7</text><text x="-35.7" y="46.8">P3</text><text x="0.0" y="45.6">PZ</text><text x="35.7" y="46.8">P4</text><text x="69.2" y="54.6">P8</text><text x="-25.7" y="67.4">PO3</text><text x="25.7" y="67.4">PO4</text><text x="-26.1" y="83.7">O1</text><text x="0.0" y="85.5">OZ</text><text x="26.1" y="83.7">O2</text></g><text x="1" y="-104.1" class="tp" text-anchor="middle"><tspan class="tg">α</tspan> @7.8-13.2Hz | POFF</text><rect x="103.3" y="-95.7" width="9.3" height="193" fill="url(#cbg)" stroke="#444" stroke-width="0.7"/><text x="118.3" y="-83.8" class="cbt">0.065</text><text x="118.3" y="-48.1" class="cbt">0.06</text><text x="118.3" y="-12.8" class="cbt">0.055</text><text x="118.3" y="22.9" class="cbt">0.05</text><text x="118.3" y="58.2" class="cbt">0.045</text><text x="118.3" y="93.5" class="cbt">0.04</text><path d="M112.6 -89.7h-2M112.6 -54.0h-2M112.6 -18.7h-2M112.6 17.0h-2M112.6 52.3h-2M112.6 87.6h-2" stroke="#262626" stroke-width="0.8"/><text transform="translate(183.5 -3.8) rotate(-90)" class="cbl" text-anchor="middle">PSD [<tspan class="mu">μ</tspan>V<tspan class="s2" dy="-6">2</tspan><tspan dy="6">/Hz]</tspan></text></g>
<g transform="translate(1128.7 2350.1)"><g clip-path="url(#dc)"><g filter="url(#bl)" class="fl"><path stroke="#30123b" d="M-28 -90h56m-64 4h72m-80 4h88m-96 4h104m-108 4h112m-120 4h128m-132 4h136m-140 4h40m24 0h80m-144 4h32m84 0h28m-148 4h32m96 0h24m-156 4h32m100 0h28m-160 4h32m104 0h24m-164 4h32m108 0h28m-168 4h28m112 0h28m-172 4h32m112 0h32m-176 4h28m120 0h28m-180 4h32m120 0h32m-184 4h28m124 0h32m-184 4h16m144 0h24m-184 4h4m168 0h12m-92 56h12m-24 4h36m-48 4h52m-60 4h64m-68 4h72m-76 4h80m-80 4h80m-80 4h80m-76 4h72m-68 4h64m-60 4h56m-52 4h52m-52 4h52"/>
<path stroke="#351e58" d="M-32 -62h4m12 0h8m-32 4h4m36 0h8m32 0h4m-88 4h4m88 0h4m-100 4h4m96 4h4m-112 8h4m-8 8h4m112 0h4m-4 4h4m-136 8h4m136 0h4m-156 4h8m156 0h4m8 4h4m-96 52h4m12 0h4m-44 8h4m52 0h4m-68 4h4m64 0h4m-76 4h4m72 0h4m0 8h4m-4 4h4m-84 4h4m72 0h8m-80 4h4m64 0h4m-8 4h4m-60 4h4m-4 4h4"/>
<path stroke="#392a73" d="M-28 -62h12m-20 4h4m24 0h8m8 0h12m16 0h4m4 4h4m0 4h4m-104 8h4m100 0h4m-112 8h4m-8 8h4m-8 4h4m-12 4h4m-12 4h4m148 0h4m-168 4h4m172 0h4m-72 52h4m-36 4h4m36 0h4m-60 4h4m-12 4h4m-8 8h4m80 0h4m-88 4h4m84 0h4m-92 4h4m84 0h8m-96 4h4m84 0h12m-96 4h4m72 0h16m-88 4h8m60 0h12m-76 4h4m56 0h8"/>
<path stroke="#3d358b" d="M-12 -58h4m28 0h16m-76 4h4m32 0h12m-56 8h4m92 0h4m0 8h4m-4 4h4m-112 4h4m108 8h4m-128 4h4m124 0h4m-140 4h4m-16 4h4m164 0h4m4 4h4m-92 44h12m-20 4h4m24 0h4m-44 4h4m-20 4h4m64 0h4m0 4h4m-84 4h4m80 0h4m0 4h4m-96 4h4m92 0h8m-104 4h4m96 0h12m-112 4h4m0 4h4m0 4h4m0 4h4"/>
<path stroke="#4040a2" d="M-32 -58h8m4 0h8m4 4h4m12 0h8m24 0h4m-88 4h4m84 0h4m-100 12h4m100 8h4m-116 8h4m-8 4h4m-12 4h4m136 0h4m-156 4h4m76 48h4m12 0h4m-28 4h4m-16 4h4m48 0h4m-76 8h4m80 0h4m-92 4h4m88 0h4m-96 4h4m92 0h8m12 0h4m-16 4h12m-120 4h4m-4 4h4m0 4h4m0 4h4"/>
<path stroke="#424bb5" d="M-24 -58h4m-16 4h4m20 0h4m24 0h12m4 0h8m-44 4h16m-60 8h4m92 0h4m-4 4h4m-104 4h4m-8 8h4m104 0h4m-116 8h4m-12 4h4m128 0h4m-148 4h4m152 0h4m-172 4h4m172 0h4m-88 8h4m12 36h4m4 4h4m-56 4h4m-16 4h4m72 0h4m8 8h4m-104 4h4m104 0h12m-120 4h4m-8 4h4m-4 4h4m0 4h4"/>
<path stroke="#4456c7" d="M-32 -54h4m8 0h8m40 0h4m-72 4h4m24 0h8m16 0h4m24 0h4m-88 4h4m36 0h12m36 0h4m-96 8h4m92 4h4m-104 4h4m-8 8h4m-12 8h4m-16 4h8m140 0h4m-164 4h8m160 0h4m-88 4h8m84 0h4m-96 4h4m0 32h16m-24 4h4m24 0h4m-40 4h4m-24 4h8m60 0h4m-80 4h4m-8 4h4m88 0h4m-100 4h4m100 0h20m-128 4h4m-4 4h4m-8 4h4"/>
<path stroke="#4661d6" d="M-28 -54h8m-16 4h4m16 0h4m28 0h8m12 0h4m-48 4h4m12 0h4m-56 4h4m36 0h8m40 0h4m-96 8h4m-8 8h4m-8 8h4m108 0h4m-120 4h4m-12 4h4m-16 4h4m72 0h8m-96 4h4m92 0h4m-4 4h4m-12 4h8m24 36h4m-72 4h4m76 4h4m-96 4h4m96 0h4m16 0h8m-132 4h4m-8 4h4m-4 4h4m-8 4h4"/>
<path stroke="#466be3" d="M-32 -50h4m8 0h4m40 0h12m-76 4h4m24 0h4m20 0h4m24 0h4m-52 4h4m8 0h4m-8 4h4m40 0h4m-96 8h4m92 0h4m-104 8h4m100 0h4m4 8h4m-128 4h4m128 0h4m-148 4h4m148 0h4m-168 4h4m76 0h4m88 0h4m-96 4h4m92 0h4m-88 4h4m-4 24h8m-16 4h4m16 0h4m-32 4h4m32 0h4m-48 4h4m52 4h4m-88 4h4m88 0h4m4 4h16m-128 4h4m-8 4h4m-8 4h8"/>
<path stroke="#4776ee" d="M-28 -50h8m-16 4h4m16 0h4m28 0h4m16 0h4m-52 4h4m16 0h4m-56 4h4m32 0h8m4 0h4m-56 12h4m92 0h4m-104 8h4m-8 4h4m-8 4h4m52 0h8m-76 4h4m60 0h4m8 0h4m-92 4h4m-12 4h4m88 8h8m-8 20h4m8 0h4m4 4h4m-52 8h8m52 0h4m-80 4h4m80 0h4m-96 4h4m96 0h4m20 0h8m-136 4h4m-12 4h4m-8 4h4"/>
<path stroke="#4680f6" d="M-32 -46h4m4 0h8m36 0h8m4 0h4m-76 4h4m20 0h4m24 0h4m24 0h4m-56 4h4m16 0h4m-56 4h4m36 0h8m40 0h4m-96 12h4m-8 8h4m44 0h8m-60 4h4m44 0h4m8 0h4m56 0h4m-136 4h8m132 0h4m-156 4h4m84 0h4m68 0h4m-172 4h4m92 0h4m72 0h4m-96 4h4m12 0h4m76 0h4m-96 4h4m0 4h8m-4 12h8m4 4h4m-28 4h4m32 4h4m-68 4h8m-20 4h4m96 4h4m4 0h12m-132 4h4m-12 4h4m-8 4h4"/>
<path stroke="#458afc" d="M-28 -46h4m52 0h4m-68 4h4m12 0h4m32 0h4m-60 4h4m76 0h4m-52 4h4m8 0h4m-52 4h4m36 0h8m40 0h4m-96 12h4m40 0h8m48 0h4m-64 4h4m8 0h4m48 0h4m-120 8h4m44 0h4m16 0h4m-88 4h8m56 0h4m84 0h4m-164 4h4m-12 4h4m96 4h4m-4 4h4m-12 4h8m-8 4h12m-12 4h4m8 0h4m-20 4h4m24 4h4m-44 4h4m-28 4h4m72 0h4m4 4h4m28 0h4m-136 4h4m108 0h4m-128 4h8m-12 4h4"/>
<path stroke="#4294ff" d="M-32 -42h12m40 0h4m12 0h4m-76 4h4m16 0h4m24 0h4m-56 4h4m24 0h4m16 0h4m-20 4h4m8 0h4m-52 4h4m32 0h12m-48 4h4m32 0h12m44 0h4m-60 4h4m8 0h4m-56 4h4m-8 4h4m36 0h4m16 0h4m-68 4h4m120 0h4m-140 4h4m-16 4h4m64 0h4m88 0h4m-172 4h4m168 0h4m-180 4h4m80 0h4m92 0h4m-96 4h4m8 4h4m0 4h4m-20 4h4m20 4h4m-36 4h4m-12 4h4m48 0h4m-80 4h4m120 0h4m-136 4h4m96 0h4m16 0h8m-140 4h8m-20 4h8"/>
<path stroke="#3d9efe" d="M24 -42h12m-68 4h4m4 0h8m32 0h4m16 0h4m-76 4h4m16 0h4m24 0h4m24 0h4m-84 4h4m24 0h4m16 0h4m-52 4h4m24 0h4m12 0h4m36 0h4m-44 4h4m-52 4h4m28 0h4m-4 4h4m-40 4h4m104 0h4m-116 4h4m-16 4h8m-20 4h4m84 0h4m-100 4h4m92 0h4m72 8h4m-96 4h4m12 0h4m-20 4h4m16 4h4m-28 4h4m32 4h4m-80 8h4m84 0h4m32 0h4m-136 4h4m104 0h16m-148 4h16"/>
<path stroke="#37a8fa" d="M-28 -38h4m44 0h4m-56 4h4m8 0h4m-20 4h4m16 0h4m52 0h4m-36 4h4m-52 4h4m24 0h4m16 0h4m-4 4h4m-56 4h4m48 0h4m-28 4h4m-36 4h4m28 0h4m76 0h4m-124 4h4m36 0h4m24 0h4m56 0h4m-148 4h8m140 0h4m-160 4h4m64 0h4m-80 4h4m96 0h4m68 0h4m-180 4h4m80 0h4m16 0h4m72 4h4m-76 4h4m68 0h4m-4 4h4m-68 4h4m56 4h4m-116 4h8m56 0h4m40 0h4m-136 4h4m92 0h4m24 0h4m-140 4h8"/>
<path stroke="#2fb2f4" d="M24 -38h12m-64 4h8m36 0h4m16 0h4m-72 4h4m8 0h4m28 0h4m-52 4h4m16 0h4m-4 4h4m56 0h4m-88 4h4m20 0h4m60 0h4m-92 4h4m20 0h4m64 0h4m-100 4h4m52 0h4m-4 4h4m-68 4h4m-16 4h4m44 0h4m-64 4h4m152 0h4m-168 4h4m-8 4h4m-8 4h4m-4 4h4m80 4h4m24 0h4m60 4h4m-104 4h4m-28 4h12m-28 4h4m120 0h4m-152 4h16"/>
<path stroke="#27bee9" d="M20 -34h4m8 0h4m-64 4h8m36 0h4m16 0h4m-72 4h4m8 0h4m28 0h4m24 0h4m-80 4h4m-4 4h4m12 4h4m28 0h4m-56 4h4m16 0h4m72 0h4m-104 4h4m20 0h4m-32 4h4m112 0h4m-132 4h8m-20 4h4m-12 4h4m64 0h4m-76 4h4m96 0h4m64 0h4m-176 4h4m76 0h4m20 0h4m64 0h4m-96 4h4m88 0h4m-180 4h4m172 0h4m-100 4h4m-80 4h4m116 0h4m44 0h4m-132 4h8m80 0h4m32 0h4m-164 4h8m16 0h4m104 0h8m8 0h4"/>
<path stroke="#20c7df" d="M24 -34h8m-60 8h8m-12 4h4m4 0h8m28 0h4m-48 4h4m8 0h4m28 0h4m-52 4h4m-4 4h4m-8 4h4m96 0h4m-108 4h4m20 0h4m-36 4h8m60 0h4m52 0h4m-144 4h8m44 0h4m28 0h4m56 0h4m-156 4h4m88 0h4m60 0h4m-168 8h4m-8 4h4m104 0h4m-112 4h4m108 0h4m-116 4h4m112 0h4m-116 4h4m60 0h4m-68 4h8m24 0h4m120 0h4m-152 4h16m116 0h8"/>
<path stroke="#1bd0d5" d="M20 -30h8m4 0h4m-20 4h4m16 0h4m-68 4h4m64 0h4m-72 4h8m64 0h4m-80 4h12m68 0h4m-84 4h12m-16 4h4m8 0h4m36 0h4m-60 4h4m52 0h4m44 0h4m-112 4h4m20 0h4m-44 4h8m-20 4h4m-12 4h4m64 0h4m88 0h4m-64 4h4m-108 4h4m-4 4h4m68 0h4m-76 4h4m160 0h4m-164 4h4m112 0h4m36 0h4m-156 4h8m8 0h8m96 0h4m20 0h4"/>
<path stroke="#18d7ca" d="M28 -30h4m-12 4h4m-8 4h4m-4 4h4m-4 4h4m-4 4h4m32 0h4m-88 4h8m-12 4h4m8 0h4m88 4h4m-124 4h4m-20 4h4m48 0h4m88 0h4m-156 4h4m-8 4h4m64 0h4m88 0h4m-164 4h4m100 0h4m52 0h4m-164 4h4m156 0h4m-164 4h4m60 0h4m44 0h4m-112 4h4m24 0h28m-48 4h8m108 0h4m12 0h4"/>
<path stroke="#18dec0" d="M24 -26h12m0 4h4m16 16h4m-92 4h8m-16 4h4m12 0h4m-28 4h4m24 0h4m88 0h4m-140 4h8m76 0h4m-96 4h4m88 0h4m-100 4h4m60 4h4m36 4h4m-108 4h4m148 0h4m-152 4h4m12 0h8m88 0h4m28 0h4m-24 4h12"/>
<path stroke="#1ae4b6" d="M20 -22h4m8 0h4m-16 4h4m16 0h4m0 4h4m-28 12h4m36 0h4m-100 4h4m4 0h4m44 0h4m-68 4h4m60 0h4m-80 4h8m-20 4h4m140 0h4m-152 4h4m92 0h4m48 0h4m-156 4h4m-4 4h4m148 0h4m-152 4h4m104 0h4m-108 4h12m100 0h4m20 0h4"/>
<path stroke="#20eaac" d="M24 -22h8m-12 8h4m-4 4h4m24 0h4m-32 4h4m-56 8h4m92 0h4m-108 4h4m12 0h4m88 0h4m-120 4h4m116 0h4m-140 4h12m36 0h4m-56 4h4m-8 4h4m96 0h4m44 0h4m-152 4h4m52 0h4m44 0h4m-104 4h4m8 0h20m16 0h4m88 0h4"/>
<path stroke="#2aefa1" d="M24 -18h16m12 12h4m-92 12h4m-12 4h4m20 0h4m-36 4h4m72 0h4m44 0h4m-140 4h8m40 0h4m-56 4h4m-4 4h4m136 0h4m-140 4h8m20 0h4m8 0h4m60 0h4m4 4h8m4 0h8"/>
<path stroke="#35f394" d="M24 -14h4m12 0h4m-20 4h4m28 8h4m-92 8h8m-16 4h4m60 0h4m-76 4h8m-16 4h8m76 0h4m40 0h4m-140 4h16m32 0h4m84 0h4m-140 4h24m76 0h4m-72 4h8m92 0h4m-16 4h4"/>
<path stroke="#43f787" d="M28 -14h12m4 4h4m-24 4h4m-4 4h4m-4 4h4m32 0h4m-40 4h4m36 0h4m-104 4h4m8 0h4m88 0h4m-92 4h4m-32 4h8m-8 4h8m72 0h4m-76 4h4m16 0h4m60 4h4m16 0h4"/>
<path stroke="#52fa7a" d="M28 -10h4m16 4h4m-84 16h8m-16 4h4m64 0h4m36 0h4m-112 8h4m0 4h4m72 0h4m24 0h4m-24 4h4"/>
<path stroke="#61fc6c" d="M32 -10h4m4 0h4m-16 4h4m20 4h4m-28 12h4m32 0h4m-104 4h4m8 0h4m-20 4h4m16 0h4m48 0h4m32 0h4m-92 4h4m52 0h4m28 0h4m-104 4h4m4 0h4m72 4h12"/>
<path stroke="#71fe5f" d="M36 -10h4m-12 8h4m-4 4h4m24 0h4m-32 4h4m28 0h4m-96 8h8m-12 4h4m-4 4h4m4 4h4m68 0h4m16 0h4"/>
<path stroke="#80ff53" d="M32 -6h4m8 0h4m-16 20h4m28 0h4m-100 4h4m4 0h4m84 0h4m-100 4h4m68 0h4m20 0h4m-20 4h4m8 0h4"/>
<path stroke="#8fff49" d="M36 -6h8m-12 4h4m12 0h4m0 4h4m0 4h4m-28 4h4m24 0h4m-92 8h4m60 0h4m-68 4h8m72 4h8"/>
<path stroke="#9cfe40" d="M32 2h4m-4 4h4m0 8h4m20 0h4m-24 4h4m16 0h4m-20 4h8m8 0h4"/>
<path stroke="#a9fb39" d="M36 -2h4m4 0h4m4 8h4m0 4h4m-8 12h8"/>
<path stroke="#b4f836" d="M40 -2h4m-8 4h4m8 0h4m-16 8h4m0 4h4m12 0h4m-16 4h16"/>
<path stroke="#bef434" d="M44 2h4m-12 4h4m8 0h4m-12 4h4m8 0h4m-12 4h12"/>
<path stroke="#c8ef34" d="M40 2h4m-4 4h8m-4 4h8"/></g></g><path class="ct" d="M-79.7 -33l6.2 -3.6 4.5 -3.9 13 -16.5 6 -6 6.5 -4.6 7.5 -3.4 10.5 -2.5 15 -1.9 40.5 -1.2 10.5 .5M9.7 85.5l8.1 -18 .7 -3 -.2 -1.5 -1.9 -3 -4.4 -2.9 -4.5 -1.4 -4.5 -.3 -6 .9 -6.6 2.2 -5.5 3 -2.5 3 -.3 1.5 .7 3 7.3 16.5M-84.1 -18l12.5 -4.5 4.1 -2.3 2.6 -2.2 3.6 -4.5 11.1 -18 3.7 -4.5 5 -4.5 5.5 -3.5 5.8 -2.5 4.7 -1.2 6 -.5 24 2.9 28.5 -1 6 .9 6 2 4.5 2.6 3 2.5 3 3.7 1.7 3.1 1.8 6 1.7 15 2.3 5.2 3 2.2 3 1.3 15 4.1M22.9 82.5l2.4 -4.5 7.1 -6 2.2 -3 1.1 -4.5 -1.1 -4.5 -1.9 -3 -2.6 -3 -7.6 -5.4 -9 -4 -7.5 -1.2 -6 .8 -25.5 8.7 -5.2 2.6 -3 3 -1.9 4.5 .1 3 1 3 2.2 3 6.8 6 2.6 4.5M-85.5 -5.4l19.5 -6.5 7.5 -4.2 3 -3.1 2.2 -3.3 7.5 -16.5 5.3 -7.9 4.5 -4 4.5 -2.6 4.5 -1.7 4.5 -.5 7.5 2 12 6.9 3 1 4.5 -.6 12 -4.6 7.5 -1.8 7.5 -.4 4.5 .8 3 1.1 4.5 3.1 3 3.8 2.5 5.4 4.5 13.5 2.7 4.5 2.3 2.7 3 2.4 4.5 2.5 19.9 8.9M63 58.4l-6 -.2 -6 -1.8 -6 -3.3 -14.1 -9.6 -9.9 -5.7 -7.5 -3.5 -6 -1.1 -6 1.4 -12 6 -6 2.3 -16.5 3.3 -5 1.8 -4.8 3 -5 4.5 -3.8 4.5 -3.6 6M0 -3.5l-1.5 .6 -.9 1.4 -.1 3 1 1.8 1.5 1.1 1.5 .1 2 -1.5 .4 -3 -.9 -2.1 -1.5 -1.2 -1.5 -.2M-85.5 9l4.5 -3 4.5 -2.2 22.5 -7.4 6 -3.5 2.9 -3.4 1.8 -3 5.8 -14.6 2.5 -4.9 2 -2.7 3 -2.2 4.5 -.9 3 .7 3 1.4 5.8 5.2 3.7 6 .6 3 -.3 3 -2.9 9 -.7 6 .4 3 1.5 4.5 7.4 12 1.8 4.5 -.4 4.5 -2.6 4.5 -5.3 4.9 -7.5 3.8 -6 1.4 -16.5 1.6 -19.5 7.3 -10.5 2.4M74.4 43.5l-8.4 2.1 -6 .6 -6 -.5 -4.5 -1.2 -7.5 -3.3 -9 -5.3 -8.7 -5.9 -5.3 -4.5 -3.6 -4.5 -1.2 -3 -.6 -4.5 .3 -9 -.4 -6 -1.5 -6.2 -4.2 -11.8 -.3 -3 .6 -3 3.7 -6 3.2 -3.2 4.5 -3.3 7.5 -3.1 4.5 -.2 3 .7 2.3 1.6 2.2 2.5 8.7 14 6.3 7.2 7.5 5.7 16.5 10 4.5 3.7 3.2 3.4M25.5 -24.2l4.5 -.7 3 .8 3 1.6 31.4 24 6.5 6 3.9 6 1.1 3 .6 4.5 -1.5 6 -1.9 3 -2.6 2.6 -4.5 2.8 -6 1.8 -4.5 .3 -6 -.6 -6 -2 -6.8 -3.4 -6.6 -4.5 -4.9 -4.5 -3.2 -4.5 -2.2 -6 -1.1 -7.5 -1.2 -16.5 .4 -7.5 1.6 -2.5 3 -2.2M-28.5 -0l4.5 1.4 4.5 3.8 4.5 5.4 3.3 5.9 .8 4.5 -.6 3 -1.6 3 -3.4 3.1 -4.5 2 -4.5 .8 -18 -.8 -18 2.1 -4.5 -.5 -3 -1 -3 -2.2 -1.4 -2 -.9 -3 .7 -4.5 1.9 -3 3.3 -3 6.5 -3 16.9 -4.5 12 -6.5 4.5 -1M36 -9.3l3 0 3 .7 6 3 8.9 7.1 7.1 7.5 3.4 6 .8 4.5 -1.2 4.5 -2.5 2.8 -3 1.4 -3 .5 -4.5 -.3 -4.5 -1.2 -9 -4.7 -6 -5.6 -3.5 -6.4 -1.1 -4.5 -.3 -4.5 .7 -4.5 1.2 -3 1.5 -1.8 3 -1.5M-30 14.3l4.5 -.6 4.5 2.2 2.3 3.6 -.2 3 -1.1 1.5 -2.5 1.4 -3 .3 -4.5 -1.4 -2.5 -1.8 -1 -1.5 -.1 -3 .8 -1.5 2.8 -2.2"/><circle r="89.2" fill="none" stroke="#edf5ff" stroke-width="6"/><circle r="80.6" class="hd"/><path class="hd" d="M-14.5 -79.9L-3.2 -92.2Q0 -93.6 3.2 -92.2L14.5 -79.9M-79.2 -15.4L-82.1 -18.9 -83.4 -19.0 -85.3 -18.5 -87.2 -15.4 -86.9 0.9 -88.1 15.0 -85.7 21.1 -82.1 22.3 -77.9 19.3M79.2 -15.4L82.1 -18.9 83.4 -19.0 85.3 -18.5 87.2 -15.4 86.9 0.9 88.1 15.0 85.7 21.1 82.1 22.3 77.9 19.3"/><g class="el"><text x="-25.7" y="-74.8">FP1</text><text x="25.7" y="-74.8">FP2</text><text x="-24.0" y="-59.1">AF3</text><text x="24.0" y="-59.1">AF4</text><text x="-69.2" y="-46.2">F7</text><text x="-35.7" y="-38.5">F3</text><text x="0.0" y="-37.2">FZ</text><text x="35.7" y="-38.5">F4</text><text x="69.2" y="-46.2">F8</text><text x="-62.1" y="-18.7">FC5</text><text x="-21.1" y="-16.2">FC1</text><text x="21.1" y="-16.2">FC2</text><text x="62.1" y="-18.7">FC6</text><text x="-86.8" y="4.4">T7</text><text x="-43.2" y="4.4">C3</text><text x="0.0" y="4.4">CZ</text><text x="43.2" y="4.4">C4</text><text x="86.8" y="4.4">T8</text><text x="-62.0" y="27.1">CP5</text><text x="-21.2" y="25.0">CP1</text><text x="21.2" y="25.0">CP2</text><text x="62.0" y="27.1">CP6</text><text x="-69.2" y="54.6">P7</text><text x="-35.7" y="46.8">P3</text><text x="0.0" y="45.6">PZ</text><text x="35.7" y="46.8">P4</text><text x="69.2" y="54.6">P8</text><text x="-25.7" y="67.4">PO3</text><text x="25.7" y="67.4">PO4</text><text x="-26.1" y="83.7">O1</text><text x="0.0" y="85.5">OZ</text><text x="26.1" y="83.7">O2</text></g><text x="1" y="-104.1" class="tp" text-anchor="middle"><tspan class="tg">β</tspan> @13.2-29.8Hz | POFF</text><rect x="103.3" y="-95.7" width="9.3" height="193" fill="url(#cbg)" stroke="#444" stroke-width="0.7"/><text x="118.3" y="-79.0" class="cbt">0.017</text><text x="118.3" y="-46.0" class="cbt">0.016</text><text x="118.3" y="-12.8" class="cbt">0.015</text><text x="118.3" y="20.2" class="cbt">0.014</text><text x="118.3" y="53.4" class="cbt">0.013</text><text x="118.3" y="86.4" class="cbt">0.012</text><path d="M112.6 -84.9h-2M112.6 -51.9h-2M112.6 -18.7h-2M112.6 14.3h-2M112.6 47.5h-2M112.6 80.5h-2" stroke="#262626" stroke-width="0.8"/><text transform="translate(183.5 -3.8) rotate(-90)" class="cbl" text-anchor="middle">PSD [<tspan class="mu">μ</tspan>V<tspan class="s2" dy="-6">2</tspan><tspan dy="6">/Hz]</tspan></text></g>
<g transform="translate(1444.1 2350.1)"><g clip-path="url(#dc)"><g filter="url(#bl)" class="fl"><path stroke="#30123b" d="M-4 -42h12m-16 4h16m-16 4h16m-16 4h16m-16 4h16m-16 4h16m-16 4h16m-16 4h16m-16 4h16m-16 4h16m-16 4h16m-20 4h20m-20 4h20m-20 4h20m-20 4h24m-24 4h24m-24 4h24m-28 4h32m-32 4h40m-44 4h52m-52 4h56m-60 4h64m-64 4h64m-60 4h56m-52 4h48m-36 4h20"/>
<path stroke="#351e58" d="M0 -46h4m-12 4h4m-8 36h4m-4 4h4m16 4h4m-4 4h4m-4 4h4m-28 12h4m24 0h4m0 4h4m-40 4h4m40 0h4m-52 8h4m-4 12h4m56 0h4m-60 4h4m48 0h4m-48 4h8m20 0h8"/>
<path stroke="#392a73" d="M-4 -46h4m8 8h4m-4 4h4m-24 4h4m16 0h4m-24 4h4m16 0h4m-24 4h4m16 0h4m-24 4h4m-4 4h4m-4 4h4m16 0h4m-4 4h4m-4 4h4m-28 20h4m24 0h4m-40 16h4m52 0h4m0 4h4m-68 4h4m-4 4h4m8 12h4m36 0h4"/>
<path stroke="#3d358b" d="M4 -46h4m-20 12h4m16 16h4m-4 4h4m-28 16h4m-4 4h4m-4 4h4m24 0h4m-32 4h4m24 0h4m0 8h4m-40 4h4m36 0h4m-48 4h4m48 0h4m-60 8h4m-4 12h4m0 4h4m48 4h4m-36 4h16"/>
<path stroke="#4040a2" d="M-8 -46h4m12 4h4m-24 4h4m-8 32h4m-4 4h4m24 4h4m-4 4h4m-36 16h4m40 4h4m-56 8h4m-8 8h4m-4 4h4m68 0h4m-72 8h4m60 0h4m-60 4h4m4 4h8m16 0h8"/>
<path stroke="#424bb5" d="M-4 -50h8m-20 36h4m-4 4h4m24 4h4m-4 4h4m-36 20h4m32 0h4m0 4h4m-48 4h4m52 4h4m0 4h4m-72 4h4m68 4h4m-76 8h4m4 8h4m52 0h4m-52 4h4m32 0h4"/>
<path stroke="#4456c7" d="M4 -50h4m0 4h4m-24 4h4m20 8h4m-4 4h4m-32 4h4m24 0h4m-32 4h4m24 0h4m-32 4h4m24 0h4m-4 4h4m-4 4h4m-36 16h4m-4 4h4m-4 4h4m32 0h4m8 12h4m-60 4h4m-8 4h4m-8 8h4m-4 4h4m72 4h4m-64 12h4m40 0h4m-32 4h12"/>
<path stroke="#4661d6" d="M12 -38h4m-32 8h4m-8 28h4m-4 4h4m32 4h4m-4 4h4m0 8h4m-48 4h4m44 0h4m12 16h4m-76 16h4m0 4h4m16 8h4m12 0h8"/>
<path stroke="#466be3" d="M-8 -50h4m-8 4h4m20 4h4m-32 8h4m-8 28h4m32 8h4m-44 16h4m-8 8h4m-8 4h4m-8 8h4m-4 12h4m72 4h4m-8 4h4m-64 4h4m48 0h4m-48 4h8m24 0h4"/>
<path stroke="#4776ee" d="M-4 -54h8m4 4h4m-28 12h4m-8 24h4m-4 4h4m32 4h4m-4 4h4m-44 16h4m40 0h4m8 12h4m0 4h4m-76 4h4m72 0h4m-80 20h4m0 4h4m48 8h4"/>
<path stroke="#4680f6" d="M4 -54h4m4 8h4m-36 28h4m32 4h4m-4 4h4m-44 16h4m-4 4h4m40 0h4m0 8h4m-56 4h4m52 0h4m-64 4h4m-12 16h4m-4 4h4m80 0h4m-76 16h4m56 0h4m-56 4h4m8 4h16"/>
<path stroke="#458afc" d="M-8 -54h4m-8 4h4m-8 8h4m28 8h4m-4 4h4m-40 4h4m32 0h4m-40 4h4m32 0h4m-4 4h4m-44 16h4m-4 4h4m40 4h4m-52 12h4m-12 12h4m-8 8h4m80 4h4m-88 8h4m80 0h4m-72 16h4m44 0h4m-40 4h4m16 0h8"/>
<path stroke="#4294ff" d="M0 -58h4m4 4h4m0 4h4m0 12h4m-40 8h4m-8 24h4m40 8h4m-52 12h4m48 0h4m0 4h4m-64 4h4m60 0h4m0 4h4m4 12h4m-84 20h4m72 0h4m-76 4h4m64 0h4m-12 4h4m-48 4h4"/>
<path stroke="#3d9efe" d="M-4 -58h4m4 0h4m-24 12h4m28 4h4m-40 8h4m-8 24h4m40 4h4m-4 4h4m-52 12h4m48 0h4m12 20h4m-84 4h4m-4 20h4m80 0h4m-76 12h4m4 4h4m32 0h4"/>
<path stroke="#37a8fa" d="M-24 -14h4m40 4h4m-52 16h4m-8 12h4m-8 8h4m-12 16h4m-4 4h4m72 20h4m-16 4h4m-32 4h16"/>
<path stroke="#2fb2f4" d="M-8 -58h4m12 0h4m-24 4h4m20 0h4m0 8h4m-40 8h4m-8 20h4m40 0h4m-4 4h4m-52 16h4m48 4h4m0 8h4m0 4h4m-76 12h4m80 4h4m-92 4h4m-4 12h4m0 8h4m0 4h4m72 0h4m-76 4h4m4 4h4m44 0h4m-40 4h4m16 0h4"/>
<path stroke="#27bee9" d="M-4 -62h12m-24 12h4m32 16h4m-4 4h4m-4 4h4m-48 4h4m40 0h4m-52 20h4m48 4h4m-60 12h4m-8 8h4m68 0h4m0 4h4m4 20h4m-8 12h4m-12 8h4m-56 8h4m24 0h4"/>
<path stroke="#20c7df" d="M16 -50h4m-40 8h4m36 4h4m-48 12h4m-8 20h4m48 4h4m-60 12h4m56 0h4m-72 16h4m-8 8h4m88 8h4m-4 8h4m-96 4h4m12 16h4m52 0h4m-52 4h4m32 0h4"/>
<path stroke="#1bd0d5" d="M0 -66h4m-12 4h4m12 0h4m-24 4h4m20 0h4m4 16h4m-48 12h4m-8 20h4m48 4h4m-60 12h4m56 0h4m0 8h4m-72 4h4m76 12h4m0 8h4m-4 16h4m-92 8h4m0 4h4m64 4h4m-16 4h4m-32 4h16"/>
<path stroke="#18d7ca" d="M-4 -66h4m4 0h4m-24 12h4m28 0h4m-40 8h4m36 0h4m-48 12h4m-8 20h4m48 0h4m-4 4h4m-60 12h4m-8 12h4m68 4h4m-80 4h4m-8 8h4m-8 12h4m-4 4h4m0 12h4m84 4h4m-8 4h4m-76 4h4m4 4h4m44 0h4m-40 4h4m16 0h4"/>
<path stroke="#18dec0" d="M-8 -66h4m12 0h4m-24 4h4m20 0h4m8 40h4m-56 4h4m48 0h4m-60 16h4m56 4h4m0 8h4m4 12h4m-92 16h4m-4 12h4m80 20h4m-56 8h4m24 0h4"/>
<path stroke="#1ae4b6" d="M-4 -70h12m-24 12h4m28 0h4m-40 8h4m36 0h4m-48 12h4m44 4h4m-4 4h4m-4 4h4m-56 4h4m-8 16h4m56 4h4m-68 12h4m-8 8h4m-8 8h4m84 0h4m-96 8h4m92 0h4m-100 20h4m92 4h4m-96 4h4m0 4h4m0 4h4m4 4h4m52 0h4m-52 4h4m32 0h4"/>
<path stroke="#20eaac" d="M-8 -70h4m12 0h4m-24 4h4m20 0h4m-40 24h4m44 4h4m-56 12h4m-8 16h4m56 4h4m-68 12h4m64 0h4m0 8h4m4 52h4m-28 12h4m-32 4h16"/>
<path stroke="#2aefa1" d="M-4 -74h12m8 12h4m0 8h4m0 12h4m-56 12h4m-8 16h4m56 4h4m-68 12h4m-8 12h4m76 4h4m-88 4h4m-8 8h4m92 0h4m0 12h4m-4 4h4m-4 4h4m-104 8h4m92 4h4m-12 8h4m-76 4h4m60 0h4m-60 4h4m8 4h4m16 0h4"/>
<path stroke="#35f394" d="M0 -78h4m-12 4h4m12 0h4m-24 4h4m20 0h4m-32 8h4m-8 8h4m-8 8h4m44 0h4m0 32h4m0 16h4m0 8h4m4 12h4m4 16h4m-108 4h4m-4 4h4m-4 4h4m100 4h4m-100 12h4m0 4h4m60 8h4m-44 4h4m24 0h4"/>
<path stroke="#43f787" d="M-8 -78h8m4 0h8m-24 4h4m20 0h4m-32 8h4m28 0h4m0 8h4m-52 24h4m52 12h4m-64 4h4m56 0h4m-68 16h4m64 0h4m-76 12h4m76 4h4m-88 4h4m-8 8h4m-8 12h4m-4 16h4m0 8h4m8 12h4m68 0h4m-68 4h4m52 0h4m-52 4h4m32 0h4"/>
<path stroke="#52fa7a" d="M-4 -82h12m-20 4h4m-8 8h4m28 0h4m-40 12h4m-8 8h4m44 0h4m-56 12h4m52 8h4m-4 4h4m-64 4h4m-8 16h4m64 0h4m-76 12h4m72 0h4m8 20h4m-104 8h4m100 0h4m-4 24h4m-8 8h4m-8 4h4m-80 8h4m48 4h4m-32 4h16"/>
<path stroke="#61fc6c" d="M-8 -82h4m12 0h4m0 4h4m-32 4h4m28 0h4m0 12h4m0 8h4m0 16h4m-4 4h4m-64 8h4m-8 16h4m64 0h4m-76 12h4m-8 12h4m84 4h4m-96 4h4m-8 36h4m0 8h4m0 4h4m0 4h4m76 0h4m-12 4h4m-60 4h4m8 4h4m16 0h4"/>
<path stroke="#71fe5f" d="M-8 -86h16m-20 4h4m20 0h4m-32 4h4m28 0h4m0 8h4m-44 4h4m36 0h4m-44 4h4m-8 8h4m-8 12h4m52 0h4m-68 28h4m64 0h4m0 16h4m-84 8h4m80 0h4m-96 20h4m104 16h4m-8 16h4m-92 16h4m4 4h4m48 0h4m-44 4h4m24 0h4"/>
<path stroke="#80ff53" d="M-4 -90h8m-16 4h4m16 0h8m-32 4h4m28 0h4m-40 4h4m-4 4h4m36 0h4m-44 4h4m40 12h4m0 12h4m-64 16h4m-8 12h4m64 0h4m-76 16h4m72 0h4m4 16h4m-96 4h4m92 4h4m-104 4h4m100 4h4m-112 12h4m108 0h4m-116 4h4m-4 4h4m108 0h4m-4 4h4m-112 8h4m96 8h4m-8 4h4m-12 4h4m-12 4h4m-52 4h4m32 0h4"/>
<path stroke="#8fff49" d="M-12 -90h8m8 0h8m-28 4h4m-8 4h4m36 4h4m0 16h4m-52 4h4m48 8h4m-60 4h4m-8 12h4m60 8h4m-4 4h4m-76 16h4m72 0h4m-84 12h4m80 0h4m-92 8h4m-12 24h4m108 0h4m-116 16h4m104 12h4m-104 4h4m0 4h4m0 4h4m4 4h4m4 4h4m40 0h4m-32 4h16"/>
<path stroke="#9cfe40" d="M-16 -90h4m24 0h4m-36 4h4m32 0h4m-44 4h4m40 0h4m-48 4h4m-4 4h4m44 0h4m-4 4h4m-4 4h4m0 12h4m-60 4h4m56 16h4m-4 4h4m-72 8h4m-8 12h4m72 0h4m-84 12h4m80 0h4m0 8h4m0 8h4m-104 4h4m100 4h4m-112 8h4m-4 24h4m108 0h4m-112 8h4m88 12h4m-12 4h4m-52 8h8m16 0h8"/>
<path stroke="#a9fb39" d="M-20 -90h4m32 0h4m-44 4h4m40 0h4m0 8h4m-52 8h4m-4 4h4m-4 4h4m48 4h4m-64 20h4m60 0h4m-72 12h4m68 12h4m-88 24h4m-8 8h4m-8 12h4m108 4h4m-4 28h4m-12 12h4m-88 8h4m68 0h4m-68 4h4m48 0h4"/>
<path stroke="#b4f836" d="M-24 -90h4m40 0h4m-52 8h4m48 0h4m-56 4h4m-4 4h4m52 8h4m-4 4h4m-60 8h4m56 8h4m-68 4h4m60 0h4m0 24h4m-80 4h4m-8 12h4m80 0h4m-92 8h4m88 0h4m0 8h4m0 8h4m-112 4h4m-8 20h4m0 16h4m0 8h4m100 0h4m-104 4h4m0 4h4m84 0h4m-20 8h4m-52 4h4m32 0h4"/>
<path stroke="#bef434" d="M-28 -90h4m-4 4h4m48 0h4m0 8h4m-4 4h4m-60 4h4m52 0h4m-60 12h4m56 8h4m-72 20h4m68 8h4m-80 4h4m-8 12h4m80 0h4m-96 20h4m104 16h4m-120 8h4m-4 4h4m116 0h4m-4 4h4m-124 4h4m116 0h4m-124 4h4m112 12h4m-100 16h4m76 0h4m-76 4h4m60 0h4m-60 4h4m40 0h4"/>
<path stroke="#c8ef34" d="M24 -90h4m-60 4h4m-4 4h4m56 0h4m-64 4h4m0 12h4m-4 4h4m56 4h4m-4 4h4m-68 8h4m-8 12h4m68 4h4m-4 4h4m-80 4h4m-8 12h4m80 0h4m-92 12h4m88 0h4m-100 8h4m96 0h4m0 8h4m-112 4h4m-8 12h4m116 4h4m-4 16h4m-124 4h4m0 8h4m16 20h4m4 4h4m48 0h4"/>
<path stroke="#d2e935" d="M28 -86h4m-64 12h4m60 0h4m-68 4h4m60 0h4m-4 4h4m-4 4h4m-68 12h4m64 12h4m-4 4h4m0 20h4m-92 12h4m88 0h4m-104 20h4m108 8h4m-120 4h4m116 28h4m-116 16h4m100 0h4m-104 4h4m92 0h4m-96 4h4"/>
<path stroke="#dbe236" d="M-36 -86h4m-4 4h4m64 0h4m-72 4h4m64 0h4m-68 12h4m-4 8h4m-4 4h4m64 8h4m-4 4h4m-76 4h4m-8 12h4m76 8h4m-88 4h4m-12 20h4m96 0h4m-108 8h4m104 0h4m-116 12h4m116 8h4m-124 28h4m116 0h4m-120 8h4m108 0h4"/>
<path stroke="#e3db38" d="M32 -86h4m-72 12h4m0 12h4m64 4h4m-4 4h4m-4 4h4m-76 8h4m-8 12h4m76 8h4m-88 4h4m-8 12h4m88 0h4m-100 8h4m96 0h4m-108 8h4m104 0h4m-116 12h4m112 0h4m0 8h4m-128 8h4m-4 4h4m-4 4h4m-4 4h4m0 16h4m4 12h4"/>
<path stroke="#ebd339" d="M-40 -82h4m-4 4h4m72 0h4m-4 4h4m-76 4h4m68 0h4m-76 4h4m68 0h4m-4 4h4m-76 12h4m-4 4h4m-8 12h4m76 4h4m-4 4h4m-88 4h4m-8 12h4m88 0h4m-100 8h4m96 0h4m-108 8h4m-8 12h4m112 0h4m-124 16h4m124 8h4m-4 4h4m-4 4h4m-132 4h4m120 12h4m-120 8h4"/>
<path stroke="#f1cb3a" d="M36 -82h4m-80 8h4m-4 4h4m0 8h4m-4 4h4m-4 4h4m72 16h4m-4 4h4m-88 8h4m-8 12h4m88 0h4m4 20h4m-116 8h4m112 0h4m0 12h4m-128 4h4m124 8h4m-4 16h4m-132 4h4m124 0h4m-128 12h4m116 0h4"/>
<path stroke="#f6c33a" d="M-44 -82h4m-4 4h4m-4 4h4m80 0h4m-4 4h4m-84 4h4m76 0h4m-4 4h4m-4 4h4m-4 4h4m-4 4h4m-4 4h4m-4 4h4m-84 4h4m80 20h4m-100 12h4m96 0h4m-108 8h4m104 0h4m-116 8h4m112 0h4m-124 12h4m120 0h4m-128 4h4m124 8h4m-132 28h4m124 0h4"/>
<path stroke="#faba39" d="M40 -82h4m-4 4h4m-88 8h4m0 8h4m-4 4h4m-4 4h4m-4 4h4m-4 4h4m-4 4h4m-8 12h4m84 4h4m-4 4h4m-96 4h4m-8 8h4m96 0h4m-108 8h4m104 0h4m-116 8h4m112 0h4m-124 8h4m-4 4h4m120 0h4m0 12h4m-136 4h4m-4 4h4m-4 4h4m-4 4h4m-4 4h4m0 16h4"/>
<path stroke="#fcb136" d="M-48 -78h4m-4 4h4m0 8h4m-4 4h4m-4 28h4m84 0h4m-4 4h4m-96 8h4m-8 8h4m96 0h4m-108 8h4m104 0h4m-116 8h4m112 0h4m-124 8h4m120 0h4m-4 4h4m-132 12h4m128 0h4m-136 4h4m132 12h4m-4 4h4m-140 8h4m-4 4h4m128 8h4"/>
<path stroke="#fea732" d="M-52 -78h4m92 0h4m-100 4h4m92 0h4m-96 4h4m88 0h4m-96 4h4m88 0h4m-4 4h4m-92 4h4m84 0h4m-92 4h4m84 0h4m-4 4h4m-4 4h4m-92 4h4m84 0h4m-92 4h4m84 0h4m-96 12h4m92 8h4m-112 16h4m112 0h4m-124 8h4m120 0h4m-132 8h4m-4 4h4m-4 4h4m128 0h4m0 12h4m-4 4h4m-4 12h4m-4 4h4m-4 4h4m-140 4h4m0 8h4"/>
<path stroke="#fe9b2d" d="M-56 -74h4m0 4h4m-4 4h4m0 4h4m-4 4h4m0 8h4m-4 4h4m-8 16h4m92 8h4m-104 4h4m-8 8h4m104 0h4m-116 4h4m-8 8h4m120 0h4m-132 4h4m128 0h4m-136 4h4m128 0h4m-4 4h4m-4 4h4m-140 8h4m-4 4h4m136 0h4m-144 4h4m-4 4h4m-4 4h4m-4 4h4m136 16h4m-140 4h4"/>
<path stroke="#fe9029" d="M48 -78h4m-4 4h4m-108 4h4m100 0h4m-108 4h4m100 0h4m-104 4h4m96 0h4m-104 4h4m96 0h4m-100 4h4m-4 4h4m-4 4h4m-4 4h4m-4 4h4m-4 4h4m92 0h4m-4 4h4m-4 4h4m-104 4h4m-8 8h4m104 0h4m0 8h4m-124 4h4m120 0h4m-132 4h4m128 0h4m-140 4h4m136 0h4m-144 4h4m136 0h4m-144 4h4m136 0h4m-144 4h4m136 0h4m-144 4h4m136 0h4m-4 4h4m-144 24h4m-4 4h4"/>
<path stroke="#fc8423" d="M-60 -70h4m-4 4h4m-4 4h8m-4 4h4m0 4h4m96 0h4m-104 4h4m96 0h4m-4 4h4m-4 4h4m-4 4h4m-104 8h4m-4 4h4m-8 8h4m104 0h4m-116 8h4m112 0h4m-124 4h4m120 0h4m-132 4h4m128 0h4m-148 4h12m136 0h20m-168 4h8m144 0h16m-168 4h8m144 0h8m-156 4h4m144 0h4m-152 4h4m144 0h4m-152 4h4m144 0h4m-152 4h4m144 0h4m-152 4h4m144 0h4m-152 4h4m144 0h4m-4 4h4m-4 4h4m-4 4h4m-4 4h4m-148 8h4"/>
<path stroke="#f9751d" d="M-64 -70h4m112 0h4m-124 4h8m-8 4h8m-8 4h12m-8 4h12m-4 4h4m0 4h4m-4 4h4m-4 4h4m-4 4h4m-8 12h4m104 0h4m-116 8h4m112 0h4m-124 4h4m120 0h4m-132 4h4m128 0h4m-156 4h20m136 0h24m-180 4h8m168 0h4m-180 4h8m168 0h4m-176 4h4m160 0h8m-172 4h8m152 0h8m-164 4h4m152 0h4m-160 4h4m0 16h4m-4 4h4m-4 4h4m144 8h4m-148 8h4"/>
<path stroke="#f56918" d="M52 -74h4m-4 8h4m-128 4h4m120 0h4m-128 4h4m120 0h4m-128 4h8m116 0h4m-128 4h16m108 0h4m-124 4h16m104 0h4m-112 4h4m104 0h4m-112 4h4m104 0h4m-112 4h4m104 0h4m-112 4h4m104 0h4m-112 4h4m104 0h4m-116 8h4m112 0h4m-128 8h4m128 0h4m-160 4h24m136 0h24m-184 4h4m-4 4h4m-4 4h4m-4 4h8m172 0h4m-180 4h4m168 0h4m-172 4h4m160 0h4m-8 4h4m-160 4h4m152 0h4m-160 4h4m152 0h4m-160 4h4m152 0h4m-4 4h4m-156 12h4m-4 4h4"/>
<path stroke="#f15d13" d="M-76 -54h4m-8 4h8m-4 4h8m-4 4h16m-4 4h4m-4 4h4m-4 12h4m112 0h4m-144 8h4m12 0h8m120 0h4m-156 4h24m136 0h20m-180 24h4m176 0h4m-180 4h4m168 0h4m-172 4h4m160 0h4m-168 4h4m160 0h4m-164 12h4m-4 4h4m152 0h4m-4 4h4m-4 4h4"/>
<path stroke="#ec530f" d="M56 -70h4m-4 4h4m-4 4h4m-4 4h4m-4 4h4m-4 4h4m-140 4h4m132 0h4m-140 4h8m128 0h4m-136 4h16m116 0h4m-124 4h4m116 0h4m-120 4h4m112 0h4m-120 4h4m112 0h4m-148 8h12m8 0h8m120 0h4m-156 4h8m4 0h12m132 0h8m16 4h4m-184 28h4m176 0h4m-180 4h4m168 0h4m-4 4h4m-172 4h4m160 0h4m-168 4h4m160 0h4m-164 12h4"/>
<path stroke="#e7490c" d="M-84 -42h4m-4 4h8m-8 4h20m-24 4h28m-28 4h28m-32 4h32m120 0h4m-156 4h4m12 0h8m132 0h4m4 4h20m-184 36h4m176 0h4m-180 4h4m-4 4h4m168 0h4m-172 8h4m160 0h4m-4 4h4m-164 8h4"/>
<path stroke="#e14109" d="M60 -70h4m-4 4h4m-4 4h4m-4 4h4m-4 4h4m-4 4h4m-4 4h4m-4 4h4m-4 4h4m-152 4h4m144 0h4m-4 4h4m-156 4h4m148 0h4m0 4h4m0 4h20m-180 44h4m176 0h4m-180 8h4m168 0h4m-172 8h4"/>
<path stroke="#da3907" d="M64 -66h4m-4 4h4m-4 4h4m-4 4h4m-4 4h4m-4 4h4m-4 4h4m-4 8h4m-4 4h4m-4 4h4m0 4h16m4 4h4"/>
<path stroke="#d23105" d="M64 -38h4m0 4h4m-4 4h4m-4 4h12m4 4h8"/>
<path stroke="#ca2a04" d="M68 -62h4m-4 4h4m-4 4h4m-4 4h4m-4 4h4m-4 4h4m-4 4h4m0 4h4m-4 4h12m-4 4h12"/>
<path stroke="#c12302" d="M72 -54h4m-4 4h4m-4 4h4m-4 4h4m-4 4h8m-4 4h8m0 4h4"/>
<path stroke="#b71d02" d="M76 -50h4m-4 4h4m-4 4h8m-4 4h4m0 4h4"/></g></g><path class="ct" d="M-1.5 -46.9l-3 1.7 -1.5 1.7 -1.8 3 -1.4 4.5 -1.5 22.5 -1.8 13.5 -1 13.5 -1.2 6 -2.5 6 -9 13.5 -1.3 4.5 .4 3 2.7 4.5 3.4 3.1 6 3.5 7.5 2.5 7.5 1.2 7.5 0 9 -1 9 -1.9 7.5 -2.8 4.5 -3.5 1.8 -2.6 1 -3 0 -4.5 -1.3 -3.3 -3.3 -4.2 -4.2 -3.2 -12 -6.6 -3 -3.1 -2 -3.6 -2 -7.5 -2.9 -24 0 -6 1.2 -12 -.5 -6 -1.5 -4.5 -2.8 -3.5 -3 -1.6 -4.5 .2M1.5 -57l-4.5 1 -4.5 3.1 -3.9 4.9 -3 6 -2.9 10.5 -5.6 34.5 -2.2 10.5 -3.1 7.5 -9.3 15 -1.5 4.1 -.6 3.4 .6 5 2.4 5.5 3.6 4.7 4.5 3.9 6 3.5 7.5 2.9 7.5 1.9 7.5 .7 7.5 -.4 9 -1.8 13.5 -4 6 -2.7 4.5 -3.2 3.3 -4 2.1 -4.5 .9 -6 -1 -6 -2.9 -6 -3.9 -5.1 -11.7 -11.4 -3.7 -7.5 -2.2 -9 -2.1 -12 -.7 -7.5 -.2 -15 -1 -6 -1.5 -4.5 -2.4 -4.5 -4.5 -4.9 -3 -1.7 -4.5 -.9M-1.5 -69.3l-4.5 2.6 -4.5 4.8 -4.5 7 -4.2 8.4 -4.2 13.5 -9.2 39 -3.4 9 -8.9 18 -1.8 6 -.6 6 1.1 7.5 2.5 6 4.2 6 5 4.5 7.5 4.6 10.5 4.3 9 2.4 7.5 .6 7.5 -.6 9 -2.1 16.5 -5.7 7.5 -3.8 4.9 -4.2 4.1 -5.6 2.5 -6.4 .7 -6 -.9 -7.5 -2.3 -6.2 -4.5 -7.8 -9.4 -13 -2.5 -4.5 -2.3 -6 -3.9 -16.5 -2.6 -25.5 -1.5 -6 -2.4 -6 -5.4 -9.1 -4.5 -5 -3 -2 -3 -1 -3 -.2 -3 .5M-15 -84.9l-3.3 5.4 -.6 3 -.6 10.5 -.8 4.5 -5.6 15 -13.1 44.8 -12.5 30.2 -1.9 6 -1.1 6 -.2 6 .6 6 1.6 5.8 2 4.7 2.7 4.5 3.8 4.5 5 4.4 4.5 2.9M50 70.5l5.2 -7.5 2.7 -7.5 1 -9 -.9 -7.5 -3.9 -10.5 -12.1 -22.7 -3.6 -8.8 -3.5 -13.5 -3.1 -22.5 -2.3 -12 -4 -12 -2.8 -13.5 -1.7 -3.4 -3.4 -4.1M-37.3 -78l5.1 15 .1 4.5 -.9 6.5 -2.7 13 -10.8 30.7 -9.7 21.8 -5.7 19.5 -1 6 0 7.5 1.1 9 1.8 6.8M64.9 57l1 -12 -1.3 -9 -8.9 -24 -8.9 -19.5 -3.8 -13.5 -3.2 -22.5 -2.1 -33M-62.1 -60l2 3 7.3 7.5 2.3 6 .3 4.5 -.6 6 -3.2 12.5 -4.5 7.8 -3 3.3 -4.5 3.5 -4.5 2.3 -3 .8 -9 .7 -3 1M-85.6 6l5.5 7.5 2.7 6 1.4 6 2.4 19.5M75.8 40.5l-.4 -15 .9 -6 2.8 -4.5 6.4 -5.1M85.6 -3l-3.1 -.4 -9 .8 -4.5 -1 -4.5 -2.7 -3 -2.6 -3 -3.5 -2.5 -4.1 -2.6 -7.5 -1.2 -9 -.1 -12 .9 -22.5"/><circle r="89.2" fill="none" stroke="#edf5ff" stroke-width="6"/><circle r="80.6" class="hd"/><path class="hd" d="M-14.5 -79.9L-3.2 -92.2Q0 -93.6 3.2 -92.2L14.5 -79.9M-79.2 -15.4L-82.1 -18.9 -83.4 -19.0 -85.3 -18.5 -87.2 -15.4 -86.9 0.9 -88.1 15.0 -85.7 21.1 -82.1 22.3 -77.9 19.3M79.2 -15.4L82.1 -18.9 83.4 -19.0 85.3 -18.5 87.2 -15.4 86.9 0.9 88.1 15.0 85.7 21.1 82.1 22.3 77.9 19.3"/><g class="el"><text x="-25.7" y="-74.8">FP1</text><text x="25.7" y="-74.8">FP2</text><text x="-24.0" y="-59.1">AF3</text><text x="24.0" y="-59.1">AF4</text><text x="-69.2" y="-46.2">F7</text><text x="-35.7" y="-38.5">F3</text><text x="0.0" y="-37.2">FZ</text><text x="35.7" y="-38.5">F4</text><text x="69.2" y="-46.2">F8</text><text x="-62.1" y="-18.7">FC5</text><text x="-21.1" y="-16.2">FC1</text><text x="21.1" y="-16.2">FC2</text><text x="62.1" y="-18.7">FC6</text><text x="-86.8" y="4.4">T7</text><text x="-43.2" y="4.4">C3</text><text x="0.0" y="4.4">CZ</text><text x="43.2" y="4.4">C4</text><text x="86.8" y="4.4">T8</text><text x="-62.0" y="27.1">CP5</text><text x="-21.2" y="25.0">CP1</text><text x="21.2" y="25.0">CP2</text><text x="62.0" y="27.1">CP6</text><text x="-69.2" y="54.6">P7</text><text x="-35.7" y="46.8">P3</text><text x="0.0" y="45.6">PZ</text><text x="35.7" y="46.8">P4</text><text x="69.2" y="54.6">P8</text><text x="-25.7" y="67.4">PO3</text><text x="25.7" y="67.4">PO4</text><text x="-26.1" y="83.7">O1</text><text x="0.0" y="85.5">OZ</text><text x="26.1" y="83.7">O2</text></g><text x="1" y="-104.1" class="tp" text-anchor="middle"><tspan class="tg">γ</tspan> @29.8-43.9Hz | POFF</text><rect x="103.3" y="-95.7" width="9.3" height="193" fill="url(#cbg)" stroke="#444" stroke-width="0.7"/><text x="118.3" y="-76.9" class="cbt">8</text><text x="118.3" y="-39.2" class="cbt">7</text><text x="118.3" y="-1.0" class="cbt">6</text><text x="118.3" y="36.6" class="cbt">5</text><text x="118.3" y="74.2" class="cbt">4</text><path d="M112.6 -82.8h-2M112.6 -45.1h-2M112.6 -6.9h-2M112.6 30.7h-2M112.6 68.3h-2" stroke="#262626" stroke-width="0.8"/><text transform="translate(151.2 -3.8) rotate(-90)" class="cbl" text-anchor="middle">PSD [<tspan class="mu">μ</tspan>V<tspan class="s2" dy="-6">2</tspan><tspan dy="6">/Hz]</tspan></text><text x="114.3" y="-102.4" class="cbt" style="fill:#555">×</text><text x="125.6" y="-102.4" class="cbt">10<tspan style="font-size:13px" dy="-7.8">-3</tspan></text></g>
<text x="-3" y="1941.5" class="pl" style="font-size:61px">C</text>
<text x="-3" y="2436.5" class="pl" style="font-size:60px">D</text>
</svg></body></html>
